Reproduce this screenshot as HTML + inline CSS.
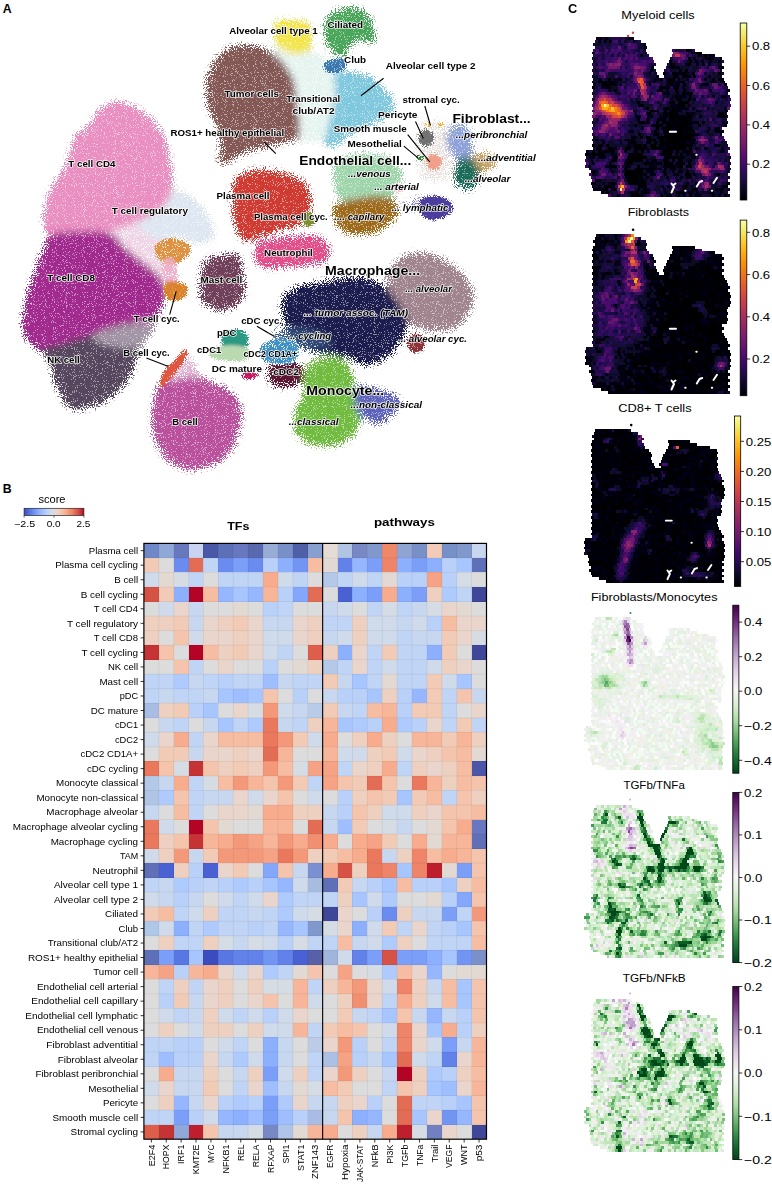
<!DOCTYPE html>
<html><head><meta charset="utf-8"><title>figure</title>
<style>html,body{margin:0;padding:0;background:#fff}svg{display:block}text{font-family:"Liberation Sans", sans-serif}</style>
</head><body>
<svg width="772" height="1184" viewBox="0 0 772 1184">
<rect width="772" height="1184" fill="#fff"/>
<text x="2.8" y="492.6" font-size="12.3" font-weight="bold">B</text>
<defs>
<filter id="bl0_6" x="-20%" y="-20%" width="140%" height="140%"><feGaussianBlur stdDeviation="0.6"/></filter>
<filter id="bl0_8" x="-20%" y="-20%" width="140%" height="140%"><feGaussianBlur stdDeviation="0.8"/></filter>
<filter id="bl1_0" x="-20%" y="-20%" width="140%" height="140%"><feGaussianBlur stdDeviation="1.0"/></filter>
<filter id="bl1_2" x="-20%" y="-20%" width="140%" height="140%"><feGaussianBlur stdDeviation="1.2"/></filter>
<filter id="bl1_3" x="-20%" y="-20%" width="140%" height="140%"><feGaussianBlur stdDeviation="1.3"/></filter>
<filter id="bl1_4" x="-20%" y="-20%" width="140%" height="140%"><feGaussianBlur stdDeviation="1.4"/></filter>
<filter id="bl1_5" x="-20%" y="-20%" width="140%" height="140%"><feGaussianBlur stdDeviation="1.5"/></filter>
<filter id="bl1_6" x="-20%" y="-20%" width="140%" height="140%"><feGaussianBlur stdDeviation="1.6"/></filter>
<filter id="bl1_8" x="-20%" y="-20%" width="140%" height="140%"><feGaussianBlur stdDeviation="1.8"/></filter>
<filter id="bl2" x="-20%" y="-20%" width="140%" height="140%"><feGaussianBlur stdDeviation="2"/></filter>
<filter id="bl2_5" x="-20%" y="-20%" width="140%" height="140%"><feGaussianBlur stdDeviation="2.5"/></filter>
<filter id="bl3" x="-20%" y="-20%" width="140%" height="140%"><feGaussianBlur stdDeviation="3"/></filter>
</defs>
<text x="2.8" y="12.6" font-size="12.3" font-weight="bold">A</text>
<filter id="spk" x="0" y="0" width="560" height="475" filterUnits="userSpaceOnUse"><feGaussianBlur in="SourceGraphic" stdDeviation="3.6" result="b"/><feComponentTransfer in="b" result="full"><feFuncA type="linear" slope="60"/></feComponentTransfer><feTurbulence type="fractalNoise" baseFrequency="0.9" numOctaves="2" seed="4" result="n"/><feColorMatrix in="n" type="matrix" values="0 0 0 0 0 0 0 0 0 0 0 0 0 0 0 3.2 0 0 0 -1.1" result="na"/><feComposite in="b" in2="na" operator="arithmetic" k1="0" k2="1.17" k3="-1" k4="-0.04" result="d"/><feComponentTransfer in="d" result="m"><feFuncA type="linear" slope="4"/></feComponentTransfer><feComposite in="full" in2="m" operator="in"/></filter>
<filter id="spk2" x="0" y="0" width="560" height="475" filterUnits="userSpaceOnUse"><feGaussianBlur in="SourceGraphic" stdDeviation="1.5" result="b"/><feComponentTransfer in="b" result="full"><feFuncA type="linear" slope="60"/></feComponentTransfer><feTurbulence type="fractalNoise" baseFrequency="0.9" numOctaves="2" seed="4" result="n"/><feColorMatrix in="n" type="matrix" values="0 0 0 0 0 0 0 0 0 0 0 0 0 0 0 3.2 0 0 0 -1.1" result="na"/><feComposite in="b" in2="na" operator="arithmetic" k1="0" k2="1.3" k3="-1" k4="-0.05" result="d"/><feComponentTransfer in="d" result="m"><feFuncA type="linear" slope="4"/></feComponentTransfer><feComposite in="full" in2="m" operator="in"/></filter>
<g filter="url(#spk)">
<path d="M105.0 226.0C107.5 219.8 117.5 218.7 125.0 218.0C132.5 217.3 143.3 219.2 150.0 222.0C156.7 224.8 161.3 228.3 165.0 235.0C168.7 241.7 171.2 252.8 172.0 262.0C172.8 271.2 172.0 282.8 170.0 290.0C168.0 297.2 165.0 303.3 160.0 305.0C155.0 306.7 145.8 304.2 140.0 300.0C134.2 295.8 130.0 287.5 125.0 280.0C120.0 272.5 113.3 264.0 110.0 255.0C106.7 246.0 102.5 232.2 105.0 226.0Z" fill="#f1d5e6" opacity="0.9"/>
<path d="M132.0 214.0C134.0 209.5 143.7 203.3 150.0 199.0C156.3 194.7 162.8 188.2 170.0 188.0C177.2 187.8 186.8 193.7 193.0 198.0C199.2 202.3 203.5 208.5 207.0 214.0C210.5 219.5 213.7 226.3 214.0 231.0C214.3 235.7 212.5 240.0 209.0 242.0C205.5 244.0 198.3 243.7 193.0 243.0C187.7 242.3 182.5 238.5 177.0 238.0C171.5 237.5 164.5 240.3 160.0 240.0C155.5 239.7 153.7 238.3 150.0 236.0C146.3 233.7 141.0 229.7 138.0 226.0C135.0 222.3 130.0 218.5 132.0 214.0Z" fill="#dde6f1"/>
<path d="M118.0 101.0C110.7 101.0 103.5 106.3 98.0 111.0C92.5 115.7 88.8 125.0 85.0 129.0C81.2 133.0 78.3 128.8 75.0 135.0C71.7 141.2 69.0 157.2 65.0 166.0C61.0 174.8 54.3 181.2 51.0 188.0C47.7 194.8 46.3 200.8 45.0 207.0C43.7 213.2 42.2 220.3 43.0 225.0C43.8 229.7 46.2 233.7 50.0 235.0C53.8 236.3 56.8 233.5 66.0 233.0C75.2 232.5 95.2 233.2 105.0 232.0C114.8 230.8 117.8 228.5 125.0 226.0C132.2 223.5 141.3 220.5 148.0 217.0C154.7 213.5 161.0 209.8 165.0 205.0C169.0 200.2 170.9 193.5 172.0 188.0C173.1 182.5 172.1 178.3 171.6 172.0C171.1 165.7 170.9 157.2 169.0 150.0C167.1 142.8 164.5 135.5 160.0 129.0C155.5 122.5 149.0 115.7 142.0 111.0C135.0 106.3 125.3 101.0 118.0 101.0Z" fill="#ea8fc1"/>
<path d="M50.0 236.0C45.7 240.2 43.2 249.5 40.0 257.0C36.8 264.5 33.5 273.2 31.0 281.0C28.5 288.8 26.5 296.7 25.0 304.0C23.5 311.3 21.8 319.3 22.0 325.0C22.2 330.7 23.0 333.8 26.0 338.0C29.0 342.2 34.0 348.7 40.0 350.0C46.0 351.3 53.3 348.5 62.0 346.0C70.7 343.5 82.0 338.3 92.0 335.0C102.0 331.7 112.3 328.0 122.0 326.0C131.7 324.0 143.0 327.0 150.0 323.0C157.0 319.0 161.3 307.5 164.0 302.0C166.7 296.5 166.7 294.2 166.0 290.0C165.3 285.8 163.5 281.3 160.0 277.0C156.5 272.7 150.8 268.8 145.0 264.0C139.2 259.2 131.2 253.2 125.0 248.0C118.8 242.8 117.8 235.7 108.0 233.0C98.2 230.3 75.7 231.5 66.0 232.0C56.3 232.5 54.3 231.8 50.0 236.0Z" fill="#a12b8e"/>
<path d="M40.0 350.0C36.2 352.3 45.0 352.2 47.0 356.0C49.0 359.8 49.8 366.7 52.0 373.0C54.2 379.3 57.0 388.2 60.0 394.0C63.0 399.8 65.7 405.5 70.0 408.0C74.3 410.5 79.5 410.5 86.0 409.0C92.5 407.5 101.8 404.0 109.0 399.0C116.2 394.0 124.7 385.2 129.0 379.0C133.3 372.8 133.0 367.3 135.0 362.0C137.0 356.7 138.3 351.8 141.0 347.0C143.7 342.2 148.8 336.7 151.0 333.0C153.2 329.3 157.8 326.5 154.0 325.0C150.2 323.5 137.0 322.8 128.0 324.0C119.0 325.2 109.7 329.0 100.0 332.0C90.3 335.0 80.0 339.0 70.0 342.0C60.0 345.0 43.8 347.7 40.0 350.0Z" fill="#56475f"/>
<path d="M92.0 336.0C93.7 332.7 110.3 328.3 120.0 326.0C129.7 323.7 145.0 320.3 150.0 322.0C155.0 323.7 152.0 331.7 150.0 336.0C148.0 340.3 144.7 346.3 138.0 348.0C131.3 349.7 117.7 348.0 110.0 346.0C102.3 344.0 90.3 339.3 92.0 336.0Z" fill="#e2d6e0" opacity="0.55"/>
<path d="M183.0 354.0C185.3 353.0 187.5 355.3 190.0 358.0C192.5 360.7 195.7 366.0 198.0 370.0C200.3 374.0 205.3 379.3 204.0 382.0C202.7 384.7 195.7 385.0 190.0 386.0C184.3 387.0 174.2 389.0 170.0 388.0C165.8 387.0 164.0 384.0 165.0 380.0C166.0 376.0 173.0 368.3 176.0 364.0C179.0 359.7 180.7 355.0 183.0 354.0Z" fill="#e3b1d4" opacity="0.8"/>
<path d="M161.0 382.0C164.7 378.2 168.2 380.7 175.0 380.0C181.8 379.3 195.2 377.3 202.0 378.0C208.8 378.7 210.8 381.5 216.0 384.0C221.2 386.5 228.8 389.0 233.0 393.0C237.2 397.0 239.8 402.2 241.0 408.0C242.2 413.8 241.7 420.8 240.0 428.0C238.3 435.2 235.5 444.8 231.0 451.0C226.5 457.2 219.5 461.8 213.0 465.0C206.5 468.2 198.5 470.0 192.0 470.0C185.5 470.0 179.5 468.5 174.0 465.0C168.5 461.5 162.7 455.2 159.0 449.0C155.3 442.8 153.0 435.7 152.0 428.0C151.0 420.3 151.5 410.7 153.0 403.0C154.5 395.3 157.3 385.8 161.0 382.0Z" fill="#ba519d"/>
<path d="M203.0 263.0C206.5 257.2 215.2 257.5 221.0 256.0C226.8 254.5 234.0 252.0 237.5 254.0C241.0 256.0 240.8 261.8 242.0 268.0C243.2 274.2 245.2 284.8 244.5 291.0C243.8 297.2 241.4 301.7 237.5 305.0C233.6 308.3 226.4 311.0 221.0 311.0C215.6 311.0 208.5 308.3 205.0 305.0C201.5 301.7 200.3 298.0 200.0 291.0C199.7 284.0 199.5 268.8 203.0 263.0Z" fill="#70405a"/>
<path d="M270.0 52.0C272.0 46.7 290.8 47.0 300.0 48.0C309.2 49.0 317.5 54.3 325.0 58.0C332.5 61.7 341.7 63.0 345.0 70.0C348.3 77.0 345.8 90.8 345.0 100.0C344.2 109.2 342.5 118.3 340.0 125.0C337.5 131.7 335.0 137.2 330.0 140.0C325.0 142.8 315.7 142.3 310.0 142.0C304.3 141.7 299.0 143.3 296.0 138.0C293.0 132.7 293.3 119.7 292.0 110.0C290.7 100.3 291.7 89.7 288.0 80.0C284.3 70.3 268.0 57.3 270.0 52.0Z" fill="#e6f3f0" opacity="0.95"/>
<path d="M245.0 45.0C237.2 44.8 229.7 46.8 224.0 50.5C218.3 54.2 214.0 61.6 211.0 67.4C208.0 73.2 206.4 78.6 206.0 85.5C205.6 92.4 206.5 101.7 208.5 109.0C210.5 116.3 216.1 122.7 218.0 129.5C219.9 136.3 219.8 144.2 220.0 150.0C220.2 155.8 217.0 162.3 219.0 164.0C221.0 165.7 227.7 161.8 232.0 160.0C236.3 158.2 240.0 155.0 245.0 153.0C250.0 151.0 255.8 149.7 262.0 148.0C268.2 146.3 276.0 144.5 282.0 143.0C288.0 141.5 295.2 142.8 298.0 139.0C300.8 135.2 299.2 126.5 299.0 120.0C298.8 113.5 297.4 106.3 296.6 100.0C295.8 93.7 295.8 87.5 294.0 82.0C292.2 76.5 289.8 72.0 286.0 67.0C282.2 62.0 277.8 55.7 271.0 52.0C264.2 48.3 252.8 45.2 245.0 45.0Z" fill="#845955"/>
<path d="M276.0 21.0C278.7 18.6 285.2 19.4 290.0 19.5C294.8 19.6 301.4 19.9 305.0 21.5C308.6 23.1 310.3 25.2 311.5 29.0C312.7 32.8 313.1 40.0 312.0 44.0C310.9 48.0 308.7 51.5 305.0 53.0C301.3 54.5 294.3 54.0 290.0 53.0C285.7 52.0 281.7 50.2 279.0 47.0C276.3 43.8 274.5 38.3 274.0 34.0C273.5 29.7 273.3 23.4 276.0 21.0Z" fill="#f3e54a"/>
<path d="M338.0 9.0C342.8 7.3 351.3 7.5 356.0 8.0C360.7 8.5 363.3 9.7 366.0 12.0C368.7 14.3 370.7 18.7 372.0 22.0C373.3 25.3 373.3 29.0 374.0 32.0C374.7 35.0 377.0 38.3 376.0 40.0C375.0 41.7 371.0 42.0 368.0 42.0C365.0 42.0 360.8 39.5 358.0 40.0C355.2 40.5 352.7 43.0 351.0 45.0C349.3 47.0 349.2 50.0 348.0 52.0C346.8 54.0 345.8 56.3 344.0 57.0C342.2 57.7 339.2 57.2 337.0 56.0C334.8 54.8 332.8 52.3 331.0 50.0C329.2 47.7 327.2 45.3 326.0 42.0C324.8 38.7 323.8 34.0 324.0 30.0C324.2 26.0 324.7 21.5 327.0 18.0C329.3 14.5 333.2 10.7 338.0 9.0Z" fill="#4aa65a"/>
<path d="M335.0 74.0C337.2 70.0 342.3 70.7 348.0 71.0C353.7 71.3 363.3 73.3 369.0 76.0C374.7 78.7 378.2 83.5 382.0 87.0C385.8 90.5 390.1 93.7 392.0 97.0C393.9 100.3 394.3 103.5 393.5 107.0C392.7 110.5 391.1 114.8 387.0 118.0C382.9 121.2 375.8 122.7 369.0 126.0C362.2 129.3 352.3 134.3 346.0 138.0C339.7 141.7 334.5 147.7 331.0 148.0C327.5 148.3 325.2 144.7 325.0 140.0C324.8 135.3 328.3 127.5 330.0 120.0C331.7 112.5 334.2 102.7 335.0 95.0C335.8 87.3 332.8 78.0 335.0 74.0Z" fill="#80c8de"/>
<path d="M233.7 180.6C236.8 175.0 243.2 172.2 250.5 170.5C257.8 168.8 269.0 168.8 277.4 170.5C285.8 172.2 295.9 177.8 301.0 180.6C306.1 183.3 306.0 182.5 307.7 187.0C309.4 191.5 312.1 201.3 311.0 207.5C309.9 213.7 306.6 220.5 301.0 224.4C295.4 228.3 286.4 228.2 277.4 231.0C268.4 233.8 253.7 241.0 247.0 241.0C240.3 241.0 239.5 237.2 237.0 231.0C234.5 224.8 232.6 212.4 232.0 204.0C231.4 195.6 230.6 186.2 233.7 180.6Z" fill="#cf3a30"/>
<path d="M257.0 244.6C261.1 240.7 270.4 239.4 280.0 238.0C289.6 236.6 306.5 234.9 314.5 236.0C322.5 237.1 326.0 240.4 328.0 244.6C330.0 248.8 331.0 257.8 326.3 261.4C321.6 265.0 309.8 264.9 300.0 266.0C290.2 267.1 274.8 268.8 267.4 268.0C260.0 267.2 257.3 265.3 255.6 261.4C253.9 257.5 252.9 248.5 257.0 244.6Z" fill="#e34d89"/>
<path d="M334.7 163.8C338.6 158.8 349.3 154.8 358.3 153.7C367.3 152.6 381.3 153.6 388.6 157.0C395.9 160.4 400.9 167.8 402.0 174.0C403.1 180.2 400.9 189.5 395.3 194.0C389.7 198.5 377.4 199.7 368.4 200.8C359.4 201.9 347.0 203.6 341.4 200.8C335.8 198.0 335.8 190.2 334.7 184.0C333.6 177.8 330.8 168.9 334.7 163.8Z" fill="#9fd5ab"/>
<path d="M334.7 205.0C339.2 201.6 352.6 198.7 361.6 197.4C370.6 196.1 382.4 195.1 388.6 197.4C394.8 199.7 398.6 206.5 398.6 211.0C398.6 215.5 393.6 220.5 388.6 224.4C383.6 228.3 376.3 233.4 368.4 234.5C360.5 235.6 347.0 233.8 341.4 231.0C335.8 228.2 335.8 222.0 334.7 217.7C333.6 213.4 330.2 208.4 334.7 205.0Z" fill="#9d6a1e"/>
<path d="M404.0 203.0C406.5 201.2 415.7 197.8 420.0 197.0C424.3 196.2 428.7 195.8 430.0 198.0C431.3 200.2 430.5 208.0 428.0 210.0C425.5 212.0 418.8 210.3 415.0 210.0C411.2 209.7 406.8 209.2 405.0 208.0C403.2 206.8 401.5 204.8 404.0 203.0Z" fill="#8c80c4" opacity="0.6"/>
<path d="M391.0 268.5C394.3 263.3 401.3 256.6 408.0 254.2C414.7 251.8 423.4 252.3 431.0 254.2C438.6 256.1 447.1 260.4 453.7 265.6C460.3 270.8 467.7 279.0 470.8 285.6C473.9 292.2 474.2 298.9 472.3 305.5C470.4 312.1 465.3 321.2 459.4 325.5C453.4 329.8 444.2 331.2 436.6 331.2C429.0 331.2 420.9 329.8 413.8 325.5C406.7 321.2 398.2 312.1 393.9 305.5C389.6 298.9 388.7 291.8 388.2 285.6C387.7 279.4 387.7 273.7 391.0 268.5Z" fill="#a0848e"/>
<path d="M285.6 294.0C289.2 289.8 295.1 287.9 302.7 285.6C310.3 283.3 322.2 281.4 331.2 280.0C340.2 278.6 348.8 276.6 356.9 277.0C365.0 277.4 373.5 279.4 379.7 282.7C385.9 286.0 389.6 291.8 393.9 297.0C398.2 302.2 402.9 309.2 405.3 314.0C407.7 318.8 409.4 319.8 408.0 325.5C406.6 331.2 401.1 342.6 396.8 348.3C392.6 354.0 387.7 356.9 382.5 359.7C377.3 362.5 371.6 365.9 365.4 365.4C359.2 364.9 351.7 358.7 345.5 356.8C339.3 354.9 335.0 355.4 328.4 354.0C321.8 352.6 312.2 352.1 305.6 348.3C299.0 344.5 292.5 337.4 288.5 331.2C284.5 325.0 281.9 317.2 281.4 311.0C280.9 304.8 282.1 298.2 285.6 294.0Z" fill="#1d1a4f"/>
<path d="M276.0 330.0C280.3 328.0 291.8 327.2 300.0 328.0C308.2 328.8 320.0 332.0 325.0 335.0C330.0 338.0 332.5 343.5 330.0 346.0C327.5 348.5 317.5 349.7 310.0 350.0C302.5 350.3 291.0 349.7 285.0 348.0C279.0 346.3 275.5 343.0 274.0 340.0C272.5 337.0 271.7 332.0 276.0 330.0Z" fill="#3a5d86" opacity="0.7"/>
<path d="M268.5 367.0C270.4 363.3 278.2 362.9 283.0 362.0C287.8 361.1 293.7 359.6 297.0 361.3C300.3 363.0 302.1 368.7 303.0 372.0C303.9 375.3 305.1 378.8 302.7 381.3C300.3 383.8 293.7 386.6 288.5 387.0C283.3 387.4 274.7 387.3 271.4 384.0C268.1 380.7 266.6 370.7 268.5 367.0Z" fill="#5b1733"/>
<path d="M311.3 361.3C315.6 358.7 325.0 356.5 331.2 357.0C337.4 357.5 344.5 360.1 348.3 364.2C352.1 368.2 352.6 374.7 354.0 381.3C355.4 387.9 355.9 397.4 356.9 404.0C357.8 410.6 360.6 415.5 359.7 421.2C358.8 426.9 355.9 434.0 351.2 438.3C346.4 442.6 337.8 445.9 331.2 446.8C324.6 447.8 317.0 445.9 311.3 444.0C305.6 442.1 299.9 440.1 297.0 435.4C294.1 430.6 293.2 422.1 294.2 415.5C295.1 408.9 300.8 402.6 302.7 395.5C304.6 388.4 304.2 378.4 305.6 372.7C307.0 367.0 307.0 363.9 311.3 361.3Z" fill="#70bb40"/>
<path d="M356.9 387.0C360.7 383.7 372.6 387.9 379.7 389.8C386.8 391.7 396.8 395.1 399.6 398.4C402.5 401.7 400.1 405.5 396.8 409.8C393.5 414.1 384.9 422.6 379.7 424.0C374.5 425.4 369.2 420.7 365.4 418.3C361.6 415.9 358.3 415.0 356.9 409.8C355.5 404.6 353.1 390.3 356.9 387.0Z" fill="#5e63ba"/>
<path d="M418.0 128.0C422.2 119.2 439.7 118.3 445.0 122.0C450.3 125.7 449.2 141.2 450.0 150.0C450.8 158.8 452.0 169.7 450.0 175.0C448.0 180.3 443.0 182.0 438.0 182.0C433.0 182.0 423.3 184.0 420.0 175.0C416.7 166.0 413.8 136.8 418.0 128.0Z" fill="#e8e0dc" opacity="0.6"/>
<path d="M450.0 128.0C452.2 125.3 456.7 123.7 460.0 124.0C463.3 124.3 468.0 126.5 470.0 130.0C472.0 133.5 472.0 140.3 472.0 145.0C472.0 149.7 472.0 155.5 470.0 158.0C468.0 160.5 463.3 161.0 460.0 160.0C456.7 159.0 452.2 155.3 450.0 152.0C447.8 148.7 447.0 144.0 447.0 140.0C447.0 136.0 447.8 130.7 450.0 128.0Z" fill="#8ea2d9"/>
<path d="M496.0 162.0C496.0 163.9 495.0 166.1 493.5 167.6C492.0 169.1 489.4 170.5 487.0 171.0C484.6 171.6 481.4 171.6 479.0 171.0C476.6 170.5 474.0 169.1 472.5 167.6C471.0 166.1 470.0 163.9 470.0 162.0C470.0 160.1 471.0 157.9 472.5 156.4C474.0 154.9 476.6 153.5 479.0 153.0C481.4 152.4 484.6 152.4 487.0 153.0C489.4 153.5 492.0 154.9 493.5 156.4C495.0 157.9 496.0 160.1 496.0 162.0Z" fill="#c6a468"/>
<path d="M458.0 160.0C460.3 156.7 464.8 157.2 468.0 158.0C471.2 158.8 475.2 161.3 477.0 165.0C478.8 168.7 479.8 176.0 479.0 180.0C478.2 184.0 475.2 187.7 472.0 189.0C468.8 190.3 463.0 189.8 460.0 188.0C457.0 186.2 454.3 182.7 454.0 178.0C453.7 173.3 455.7 163.3 458.0 160.0Z" fill="#1f6c5b"/>
</g>
<g filter="url(#spk2)">
<path d="M155.0 246.0C157.0 242.7 164.5 238.5 170.0 238.0C175.5 237.5 184.7 240.3 188.0 243.0C191.3 245.7 191.3 250.8 190.0 254.0C188.7 257.2 183.7 260.0 180.0 262.0C176.3 264.0 171.7 266.7 168.0 266.0C164.3 265.3 160.2 261.3 158.0 258.0C155.8 254.7 153.0 249.3 155.0 246.0Z" fill="#de9040" opacity="0.85"/>
<path d="M163.0 262.0C164.7 259.0 169.5 256.3 172.0 258.0C174.5 259.7 177.3 267.5 178.0 272.0C178.7 276.5 177.7 282.3 176.0 285.0C174.3 287.7 170.3 289.5 168.0 288.0C165.7 286.5 162.8 280.3 162.0 276.0C161.2 271.7 161.3 265.0 163.0 262.0Z" fill="#efb3cf" opacity="0.8"/>
<path d="M164.0 284.0C165.5 281.2 171.2 280.7 175.0 281.0C178.8 281.3 185.2 283.5 187.0 286.0C188.8 288.5 187.8 293.5 186.0 296.0C184.2 298.5 179.3 300.7 176.0 301.0C172.7 301.3 168.0 300.8 166.0 298.0C164.0 295.2 162.5 286.8 164.0 284.0Z" fill="#d9822c" opacity="0.95"/>
<path d="M185.0 350.0C187.0 349.0 188.5 350.5 188.0 353.0C187.5 355.5 184.5 361.3 182.0 365.0C179.5 368.7 176.0 371.5 173.0 375.0C170.0 378.5 166.3 384.7 164.0 386.0C161.7 387.3 158.8 385.7 159.0 383.0C159.2 380.3 162.2 374.0 165.0 370.0C167.8 366.0 172.7 362.3 176.0 359.0C179.3 355.7 183.0 351.0 185.0 350.0Z" fill="#e05540"/>
<path d="M324.0 64.0C324.8 61.9 328.7 60.4 332.0 59.5C335.3 58.6 341.7 57.6 344.0 58.5C346.3 59.4 346.7 62.8 346.0 65.0C345.3 67.2 343.2 70.8 340.0 72.0C336.8 73.2 329.7 73.3 327.0 72.0C324.3 70.7 323.2 66.1 324.0 64.0Z" fill="#3a78b0" opacity="0.9"/>
<path d="M314.5 219.5C314.5 221.1 314.0 222.9 313.3 224.2C312.5 225.5 311.2 226.6 310.0 227.1C308.8 227.6 307.2 227.6 306.0 227.1C304.8 226.6 303.5 225.5 302.7 224.2C302.0 222.9 301.5 221.1 301.5 219.5C301.5 217.9 302.0 216.1 302.7 214.8C303.5 213.5 304.8 212.4 306.0 211.9C307.2 211.4 308.8 211.4 310.0 211.9C311.2 212.4 312.5 213.5 313.3 214.8C314.0 216.1 314.5 217.9 314.5 219.5Z" fill="#7f8e32"/>
<path d="M404.0 188.0C404.0 189.0 403.6 190.1 403.0 190.9C402.5 191.7 401.5 192.5 400.5 192.8C399.6 193.1 398.4 193.1 397.5 192.8C396.5 192.5 395.5 191.7 395.0 190.9C394.4 190.1 394.0 189.0 394.0 188.0C394.0 187.0 394.4 185.9 395.0 185.1C395.5 184.3 396.5 183.5 397.5 183.2C398.4 182.9 399.6 182.9 400.5 183.2C401.5 183.5 402.5 184.3 403.0 185.1C403.6 185.9 404.0 187.0 404.0 188.0Z" fill="#f2c9cf" opacity="0.8"/>
<path d="M421.0 199.0C423.5 196.3 430.7 196.0 435.0 196.0C439.3 196.0 444.0 197.3 447.0 199.0C450.0 200.7 452.7 203.5 453.0 206.0C453.3 208.5 451.5 211.8 449.0 214.0C446.5 216.2 441.7 218.7 438.0 219.5C434.3 220.3 430.0 220.2 427.0 219.0C424.0 217.8 421.0 215.3 420.0 212.0C419.0 208.7 418.5 201.7 421.0 199.0Z" fill="#4c3c9e"/>
<path d="M425.0 343.0C425.0 345.0 424.3 347.3 423.3 348.9C422.2 350.5 420.5 351.9 418.8 352.5C417.1 353.1 414.9 353.1 413.2 352.5C411.5 351.9 409.8 350.5 408.7 348.9C407.7 347.3 407.0 345.0 407.0 343.0C407.0 341.0 407.7 338.7 408.7 337.1C409.8 335.5 411.5 334.1 413.2 333.5C414.9 332.9 417.1 332.9 418.8 333.5C420.5 334.1 422.2 335.5 423.3 337.1C424.3 338.7 425.0 341.0 425.0 343.0Z" fill="#8e3036" opacity="0.9"/>
<path d="M249.0 340.0C249.0 342.1 247.9 344.5 246.3 346.2C244.7 347.8 241.9 349.4 239.3 350.0C236.7 350.6 233.3 350.6 230.7 350.0C228.1 349.4 225.3 347.8 223.7 346.2C222.1 344.5 221.0 342.1 221.0 340.0C221.0 337.9 222.1 335.5 223.7 333.8C225.3 332.2 228.1 330.6 230.7 330.0C233.3 329.4 236.7 329.4 239.3 330.0C241.9 330.6 244.7 332.2 246.3 333.8C247.9 335.5 249.0 337.9 249.0 340.0Z" fill="#2b9a83"/>
<path d="M210.0 351.0C211.7 349.0 217.0 346.8 222.0 346.0C227.0 345.2 235.0 345.0 240.0 346.0C245.0 347.0 251.0 349.7 252.0 352.0C253.0 354.3 250.0 358.5 246.0 360.0C242.0 361.5 233.7 361.3 228.0 361.0C222.3 360.7 215.0 359.7 212.0 358.0C209.0 356.3 208.3 353.0 210.0 351.0Z" fill="#b9d9b1"/>
<path d="M262.0 345.0C265.3 342.0 274.3 338.5 280.0 338.0C285.7 337.5 293.0 339.2 296.0 342.0C299.0 344.8 299.0 351.3 298.0 355.0C297.0 358.7 294.7 362.7 290.0 364.0C285.3 365.3 275.0 364.3 270.0 363.0C265.0 361.7 261.3 359.0 260.0 356.0C258.7 353.0 258.7 348.0 262.0 345.0Z" fill="#4090c4" opacity="0.8"/>
<path d="M258.0 375.5C258.0 376.2 257.4 377.0 256.5 377.6C255.6 378.2 254.0 378.7 252.5 378.9C251.0 379.1 249.0 379.1 247.5 378.9C246.0 378.7 244.4 378.2 243.5 377.6C242.6 377.0 242.0 376.2 242.0 375.5C242.0 374.8 242.6 374.0 243.5 373.4C244.4 372.8 246.0 372.3 247.5 372.1C249.0 371.9 251.0 371.9 252.5 372.1C254.0 372.3 255.6 372.8 256.5 373.4C257.4 374.0 258.0 374.8 258.0 375.5Z" fill="#c8175f"/>
<path d="M434.0 138.0C434.0 139.7 433.4 141.6 432.5 143.0C431.6 144.3 430.0 145.6 428.5 146.1C427.0 146.6 425.0 146.6 423.5 146.1C422.0 145.6 420.4 144.3 419.5 143.0C418.6 141.6 418.0 139.7 418.0 138.0C418.0 136.3 418.6 134.4 419.5 133.0C420.4 131.7 422.0 130.4 423.5 129.9C425.0 129.4 427.0 129.4 428.5 129.9C430.0 130.4 431.6 131.7 432.5 133.0C433.4 134.4 434.0 136.3 434.0 138.0Z" fill="#727272"/>
<path d="M442.0 162.0C442.0 163.7 441.4 165.6 440.5 167.0C439.6 168.3 438.0 169.6 436.5 170.1C435.0 170.6 433.0 170.6 431.5 170.1C430.0 169.6 428.4 168.3 427.5 167.0C426.6 165.6 426.0 163.7 426.0 162.0C426.0 160.3 426.6 158.4 427.5 157.0C428.4 155.7 430.0 154.4 431.5 153.9C433.0 153.4 435.0 153.4 436.5 153.9C438.0 154.4 439.6 155.7 440.5 157.0C441.4 158.4 442.0 160.3 442.0 162.0Z" fill="#f0a08a"/>
<path d="M424.0 158.0C424.0 158.4 423.7 158.9 423.2 159.2C422.8 159.5 422.0 159.8 421.2 159.9C420.5 160.0 419.5 160.0 418.8 159.9C418.0 159.8 417.2 159.5 416.8 159.2C416.3 158.9 416.0 158.4 416.0 158.0C416.0 157.6 416.3 157.1 416.8 156.8C417.2 156.5 418.0 156.2 418.8 156.1C419.5 156.0 420.5 156.0 421.2 156.1C422.0 156.2 422.8 156.5 423.2 156.8C423.7 157.1 424.0 157.6 424.0 158.0Z" fill="#2f7d33"/>
<path d="M431.0 125.0C431.0 125.4 430.8 125.8 430.4 126.1C430.1 126.3 429.5 126.6 428.9 126.7C428.4 126.8 427.6 126.8 427.1 126.7C426.5 126.6 425.9 126.3 425.6 126.1C425.2 125.8 425.0 125.4 425.0 125.0C425.0 124.6 425.2 124.2 425.6 123.9C425.9 123.7 426.5 123.4 427.1 123.3C427.6 123.2 428.4 123.2 428.9 123.3C429.5 123.4 430.1 123.7 430.4 123.9C430.8 124.2 431.0 124.6 431.0 125.0Z" fill="#f0b020"/>
<path d="M444.0 124.5C444.0 124.9 443.8 125.4 443.4 125.7C443.1 126.0 442.5 126.3 441.9 126.4C441.4 126.5 440.6 126.5 440.1 126.4C439.5 126.3 438.9 126.0 438.6 125.7C438.2 125.4 438.0 124.9 438.0 124.5C438.0 124.1 438.2 123.6 438.6 123.3C438.9 123.0 439.5 122.7 440.1 122.6C440.6 122.5 441.4 122.5 441.9 122.6C442.5 122.7 443.1 123.0 443.4 123.3C443.8 123.6 444.0 124.1 444.0 124.5Z" fill="#f0b020"/>
</g>
<path d="M361.0 95.7L383.6 78.3M424.8 106.0L430.5 125.5M415.5 121.6L423.3 138.4M407.7 134.6L429.7 161.8M403.8 146.2L418.0 157.9M264.0 141.9L275.8 153.7M169.7 314.7L176.2 291.4M146.4 357.9L168.4 366.4M256.9 326.3L274.6 336.6" stroke="#000" stroke-width="1.1" fill="none"/>
<g stroke="#fff" stroke-width="1.6" stroke-opacity="0.85" paint-order="stroke" stroke-linejoin="round">
<text x="229.2" y="34.4" font-size="9.6" font-weight="bold" textLength="88.6" lengthAdjust="spacingAndGlyphs">Alveolar cell type 1</text>
<text x="327.4" y="27.6" font-size="9.6" font-weight="bold" textLength="35.6" lengthAdjust="spacingAndGlyphs">Ciliated</text>
<text x="344.0" y="63.4" font-size="9.6" font-weight="bold" textLength="22.0" lengthAdjust="spacingAndGlyphs">Club</text>
<text x="385.8" y="68.9" font-size="9.6" font-weight="bold" textLength="89.7" lengthAdjust="spacingAndGlyphs">Alveolar cell type 2</text>
<text x="224.5" y="97.0" font-size="9.6" font-weight="bold" textLength="54.5" lengthAdjust="spacingAndGlyphs">Tumor cells</text>
<text x="286.3" y="102.3" font-size="9.6" font-weight="bold" textLength="53.9" lengthAdjust="spacingAndGlyphs">Transitional</text>
<text x="292.5" y="113.6" font-size="9.6" font-weight="bold" textLength="42.1" lengthAdjust="spacingAndGlyphs">club/AT2</text>
<text x="402.6" y="102.9" font-size="9.6" font-weight="bold" textLength="57.2" lengthAdjust="spacingAndGlyphs">stromal cyc.</text>
<text x="378.0" y="117.7" font-size="9.6" font-weight="bold" textLength="39.4" lengthAdjust="spacingAndGlyphs">Pericyte</text>
<text x="452.4" y="123.0" font-size="13.2" font-weight="bold" textLength="78.3" lengthAdjust="spacingAndGlyphs">Fibroblast...</text>
<text x="455.8" y="137.8" font-size="9.6" font-weight="bold" font-style="italic" textLength="71.5" lengthAdjust="spacingAndGlyphs">...peribronchial</text>
<text x="333.7" y="132.4" font-size="9.6" font-weight="bold" textLength="72.9" lengthAdjust="spacingAndGlyphs">Smooth muscle</text>
<text x="347.5" y="147.2" font-size="9.6" font-weight="bold" textLength="54.2" lengthAdjust="spacingAndGlyphs">Mesothelial</text>
<text x="478.0" y="160.9" font-size="9.6" font-weight="bold" font-style="italic" textLength="57.7" lengthAdjust="spacingAndGlyphs">...adventitial</text>
<text x="299.3" y="164.7" font-size="13.2" font-weight="bold" textLength="111.9" lengthAdjust="spacingAndGlyphs">Endothelial cell...</text>
<text x="348.0" y="176.6" font-size="9.6" font-weight="bold" font-style="italic" textLength="42.7" lengthAdjust="spacingAndGlyphs">...venous</text>
<text x="464.7" y="181.8" font-size="9.6" font-weight="bold" font-style="italic" textLength="45.8" lengthAdjust="spacingAndGlyphs">...alveolar</text>
<text x="374.2" y="190.1" font-size="9.6" font-weight="bold" font-style="italic" textLength="44.6" lengthAdjust="spacingAndGlyphs">... arterial</text>
<text x="216.5" y="199.4" font-size="9.6" font-weight="bold" textLength="53.0" lengthAdjust="spacingAndGlyphs">Plasma cell</text>
<text x="391.8" y="210.7" font-size="9.6" font-weight="bold" font-style="italic" textLength="56.7" lengthAdjust="spacingAndGlyphs">... lymphatic</text>
<text x="253.9" y="220.1" font-size="9.6" font-weight="bold" textLength="73.9" lengthAdjust="spacingAndGlyphs">Plasma cell cyc.</text>
<text x="334.2" y="220.1" font-size="9.6" font-weight="bold" font-style="italic" textLength="50.2" lengthAdjust="spacingAndGlyphs">.... capilary</text>
<text x="170.5" y="135.8" font-size="9.6" font-weight="bold" textLength="113.7" lengthAdjust="spacingAndGlyphs">ROS1+ healthy epithelial</text>
<text x="68.3" y="167.0" font-size="9.6" font-weight="bold" textLength="47.2" lengthAdjust="spacingAndGlyphs">T cell CD4</text>
<text x="111.7" y="213.8" font-size="9.6" font-weight="bold" textLength="76.2" lengthAdjust="spacingAndGlyphs">T cell regulatory</text>
<text x="47.2" y="281.3" font-size="9.6" font-weight="bold" textLength="47.8" lengthAdjust="spacingAndGlyphs">T cell CD8</text>
<text x="200.6" y="282.8" font-size="9.6" font-weight="bold" textLength="41.7" lengthAdjust="spacingAndGlyphs">Mast cell</text>
<text x="133.8" y="321.5" font-size="9.6" font-weight="bold" textLength="46.0" lengthAdjust="spacingAndGlyphs">T cell cyc.</text>
<text x="241.2" y="323.9" font-size="9.6" font-weight="bold" textLength="40.8" lengthAdjust="spacingAndGlyphs">cDC cyc.</text>
<text x="216.9" y="335.9" font-size="9.6" font-weight="bold" textLength="19.6" lengthAdjust="spacingAndGlyphs">pDC</text>
<text x="123.3" y="355.7" font-size="9.6" font-weight="bold" textLength="46.4" lengthAdjust="spacingAndGlyphs">B cell cyc.</text>
<text x="197.0" y="352.9" font-size="9.6" font-weight="bold" textLength="24.3" lengthAdjust="spacingAndGlyphs">cDC1</text>
<text x="243.5" y="357.0" font-size="9.6" font-weight="bold" textLength="53.5" lengthAdjust="spacingAndGlyphs">cDC2 CD1A+</text>
<text x="47.2" y="362.9" font-size="9.6" font-weight="bold" textLength="32.6" lengthAdjust="spacingAndGlyphs">NK cell</text>
<text x="211.8" y="371.5" font-size="9.6" font-weight="bold" textLength="50.2" lengthAdjust="spacingAndGlyphs">DC mature</text>
<text x="273.2" y="375.4" font-size="9.6" font-weight="bold" textLength="25.7" lengthAdjust="spacingAndGlyphs">cDC2</text>
<text x="172.3" y="424.6" font-size="9.6" font-weight="bold" textLength="25.4" lengthAdjust="spacingAndGlyphs">B cell</text>
<text x="264.1" y="255.8" font-size="9.6" font-weight="bold" textLength="48.7" lengthAdjust="spacingAndGlyphs">Neutrophil</text>
<text x="325.0" y="274.5" font-size="13.2" font-weight="bold" textLength="95.1" lengthAdjust="spacingAndGlyphs">Macrophage...</text>
<text x="405.2" y="292.0" font-size="9.6" font-weight="bold" font-style="italic" textLength="46.7" lengthAdjust="spacingAndGlyphs">... alveolar</text>
<text x="303.5" y="316.2" font-size="9.6" font-weight="bold" font-style="italic" textLength="104.5" lengthAdjust="spacingAndGlyphs">... tumor assoc. (TAM)</text>
<text x="287.5" y="339.3" font-size="9.6" font-weight="bold" font-style="italic" textLength="43.7" lengthAdjust="spacingAndGlyphs">... cycling</text>
<text x="398.0" y="341.8" font-size="9.6" font-weight="bold" font-style="italic" textLength="69.0" lengthAdjust="spacingAndGlyphs">... alveolar cyc.</text>
<text x="306.3" y="394.5" font-size="13.2" font-weight="bold" textLength="77.9" lengthAdjust="spacingAndGlyphs">Monocyte...</text>
<text x="350.6" y="408.0" font-size="9.6" font-weight="bold" font-style="italic" textLength="71.4" lengthAdjust="spacingAndGlyphs">...non-classical</text>
<text x="288.8" y="425.0" font-size="9.6" font-weight="bold" font-style="italic" textLength="49.7" lengthAdjust="spacingAndGlyphs">...classical</text>
</g>
<g shape-rendering="crispEdges"><rect x="143.90" y="543.40" width="14.95" height="14.58" fill="#7088c8"/><rect x="158.80" y="543.40" width="14.95" height="14.58" fill="#90a8d8"/><rect x="173.69" y="543.40" width="14.95" height="14.58" fill="#6878bd"/><rect x="188.59" y="543.40" width="14.95" height="14.58" fill="#c8d4f0"/><rect x="203.48" y="543.40" width="14.95" height="14.58" fill="#4a58a8"/><rect x="218.38" y="543.40" width="14.95" height="14.58" fill="#5c70b8"/><rect x="233.27" y="543.40" width="14.95" height="14.58" fill="#6878c0"/><rect x="248.17" y="543.40" width="14.95" height="14.58" fill="#5a68b0"/><rect x="263.07" y="543.40" width="14.95" height="14.58" fill="#98acd8"/><rect x="277.96" y="543.40" width="14.95" height="14.58" fill="#7890c8"/><rect x="292.86" y="543.40" width="14.95" height="14.58" fill="#5060a8"/><rect x="307.75" y="543.40" width="14.95" height="14.58" fill="#88a0d0"/><rect x="322.65" y="543.40" width="14.95" height="14.58" fill="#e6dcd6"/><rect x="337.54" y="543.40" width="14.95" height="14.58" fill="#b0c4e4"/><rect x="352.44" y="543.40" width="14.95" height="14.58" fill="#7888c4"/><rect x="367.33" y="543.40" width="14.95" height="14.58" fill="#8098cc"/><rect x="382.23" y="543.40" width="14.95" height="14.58" fill="#ee8868"/><rect x="397.13" y="543.40" width="14.95" height="14.58" fill="#90a4d4"/><rect x="412.02" y="543.40" width="14.95" height="14.58" fill="#7890c8"/><rect x="426.92" y="543.40" width="14.95" height="14.58" fill="#f2ccb8"/><rect x="441.81" y="543.40" width="14.95" height="14.58" fill="#7890c8"/><rect x="456.71" y="543.40" width="14.95" height="14.58" fill="#8098cc"/><rect x="471.60" y="543.40" width="14.95" height="14.58" fill="#c8d6f0"/><rect x="143.90" y="557.93" width="14.95" height="14.58" fill="#f2cbb7"/><rect x="158.80" y="557.93" width="14.95" height="14.58" fill="#dddcdc"/><rect x="173.69" y="557.93" width="14.95" height="14.58" fill="#6a8bef"/><rect x="188.59" y="557.93" width="14.95" height="14.58" fill="#e36c55"/><rect x="203.48" y="557.93" width="14.95" height="14.58" fill="#c0d4f5"/><rect x="218.38" y="557.93" width="14.95" height="14.58" fill="#6a8bef"/><rect x="233.27" y="557.93" width="14.95" height="14.58" fill="#7b9ff9"/><rect x="248.17" y="557.93" width="14.95" height="14.58" fill="#6a8bef"/><rect x="263.07" y="557.93" width="14.95" height="14.58" fill="#b9d0f9"/><rect x="277.96" y="557.93" width="14.95" height="14.58" fill="#8db0fe"/><rect x="292.86" y="557.93" width="14.95" height="14.58" fill="#7295f4"/><rect x="307.75" y="557.93" width="14.95" height="14.58" fill="#f6bda2"/><rect x="322.65" y="557.93" width="14.95" height="14.58" fill="#e3d9d3"/><rect x="337.54" y="557.93" width="14.95" height="14.58" fill="#6282ea"/><rect x="352.44" y="557.93" width="14.95" height="14.58" fill="#96b7ff"/><rect x="367.33" y="557.93" width="14.95" height="14.58" fill="#7b9ff9"/><rect x="382.23" y="557.93" width="14.95" height="14.58" fill="#ee8468"/><rect x="397.13" y="557.93" width="14.95" height="14.58" fill="#8db0fe"/><rect x="412.02" y="557.93" width="14.95" height="14.58" fill="#7b9ff9"/><rect x="426.92" y="557.93" width="14.95" height="14.58" fill="#8db0fe"/><rect x="441.81" y="557.93" width="14.95" height="14.58" fill="#b9d0f9"/><rect x="456.71" y="557.93" width="14.95" height="14.58" fill="#a7c5fe"/><rect x="471.60" y="557.93" width="14.95" height="14.58" fill="#6070b8"/><rect x="143.90" y="572.46" width="14.95" height="14.58" fill="#cfdaea"/><rect x="158.80" y="572.46" width="14.95" height="14.58" fill="#e3d9d3"/><rect x="173.69" y="572.46" width="14.95" height="14.58" fill="#d6dce4"/><rect x="188.59" y="572.46" width="14.95" height="14.58" fill="#c0d4f5"/><rect x="203.48" y="572.46" width="14.95" height="14.58" fill="#dddcdc"/><rect x="218.38" y="572.46" width="14.95" height="14.58" fill="#c0d4f5"/><rect x="233.27" y="572.46" width="14.95" height="14.58" fill="#c0d4f5"/><rect x="248.17" y="572.46" width="14.95" height="14.58" fill="#c0d4f5"/><rect x="263.07" y="572.46" width="14.95" height="14.58" fill="#f7ac8e"/><rect x="277.96" y="572.46" width="14.95" height="14.58" fill="#cfdaea"/><rect x="292.86" y="572.46" width="14.95" height="14.58" fill="#c0d4f5"/><rect x="307.75" y="572.46" width="14.95" height="14.58" fill="#dddcdc"/><rect x="322.65" y="572.46" width="14.95" height="14.58" fill="#b4c8e8"/><rect x="337.54" y="572.46" width="14.95" height="14.58" fill="#c0d4f5"/><rect x="352.44" y="572.46" width="14.95" height="14.58" fill="#cfdaea"/><rect x="367.33" y="572.46" width="14.95" height="14.58" fill="#c0d4f5"/><rect x="382.23" y="572.46" width="14.95" height="14.58" fill="#e3d9d3"/><rect x="397.13" y="572.46" width="14.95" height="14.58" fill="#b9d0f9"/><rect x="412.02" y="572.46" width="14.95" height="14.58" fill="#b9d0f9"/><rect x="426.92" y="572.46" width="14.95" height="14.58" fill="#f6a385"/><rect x="441.81" y="572.46" width="14.95" height="14.58" fill="#b9d0f9"/><rect x="456.71" y="572.46" width="14.95" height="14.58" fill="#d6dce4"/><rect x="471.60" y="572.46" width="14.95" height="14.58" fill="#dddcdc"/><rect x="143.90" y="587.00" width="14.95" height="14.58" fill="#d65244"/><rect x="158.80" y="587.00" width="14.95" height="14.58" fill="#f2cbb7"/><rect x="173.69" y="587.00" width="14.95" height="14.58" fill="#8db0fe"/><rect x="188.59" y="587.00" width="14.95" height="14.58" fill="#b40426"/><rect x="203.48" y="587.00" width="14.95" height="14.58" fill="#f6bda2"/><rect x="218.38" y="587.00" width="14.95" height="14.58" fill="#96b7ff"/><rect x="233.27" y="587.00" width="14.95" height="14.58" fill="#a7c5fe"/><rect x="248.17" y="587.00" width="14.95" height="14.58" fill="#96b7ff"/><rect x="263.07" y="587.00" width="14.95" height="14.58" fill="#f7b599"/><rect x="277.96" y="587.00" width="14.95" height="14.58" fill="#b9d0f9"/><rect x="292.86" y="587.00" width="14.95" height="14.58" fill="#84a7fc"/><rect x="307.75" y="587.00" width="14.95" height="14.58" fill="#e36c55"/><rect x="322.65" y="587.00" width="14.95" height="14.58" fill="#dddcdc"/><rect x="337.54" y="587.00" width="14.95" height="14.58" fill="#4961d2"/><rect x="352.44" y="587.00" width="14.95" height="14.58" fill="#8db0fe"/><rect x="367.33" y="587.00" width="14.95" height="14.58" fill="#7b9ff9"/><rect x="382.23" y="587.00" width="14.95" height="14.58" fill="#f7ac8e"/><rect x="397.13" y="587.00" width="14.95" height="14.58" fill="#8db0fe"/><rect x="412.02" y="587.00" width="14.95" height="14.58" fill="#7b9ff9"/><rect x="426.92" y="587.00" width="14.95" height="14.58" fill="#eed0c0"/><rect x="441.81" y="587.00" width="14.95" height="14.58" fill="#afcafc"/><rect x="456.71" y="587.00" width="14.95" height="14.58" fill="#c0d4f5"/><rect x="471.60" y="587.00" width="14.95" height="14.58" fill="#3f4799"/><rect x="143.90" y="601.53" width="14.95" height="14.58" fill="#dddcdc"/><rect x="158.80" y="601.53" width="14.95" height="14.58" fill="#cfdaea"/><rect x="173.69" y="601.53" width="14.95" height="14.58" fill="#e9d5cb"/><rect x="188.59" y="601.53" width="14.95" height="14.58" fill="#c7d7f0"/><rect x="203.48" y="601.53" width="14.95" height="14.58" fill="#dddcdc"/><rect x="218.38" y="601.53" width="14.95" height="14.58" fill="#dddcdc"/><rect x="233.27" y="601.53" width="14.95" height="14.58" fill="#e3d9d3"/><rect x="248.17" y="601.53" width="14.95" height="14.58" fill="#dddcdc"/><rect x="263.07" y="601.53" width="14.95" height="14.58" fill="#b9d0f9"/><rect x="277.96" y="601.53" width="14.95" height="14.58" fill="#c0d4f5"/><rect x="292.86" y="601.53" width="14.95" height="14.58" fill="#dddcdc"/><rect x="307.75" y="601.53" width="14.95" height="14.58" fill="#dddcdc"/><rect x="322.65" y="601.53" width="14.95" height="14.58" fill="#c7d7f0"/><rect x="337.54" y="601.53" width="14.95" height="14.58" fill="#cfdaea"/><rect x="352.44" y="601.53" width="14.95" height="14.58" fill="#dddcdc"/><rect x="367.33" y="601.53" width="14.95" height="14.58" fill="#c0d4f5"/><rect x="382.23" y="601.53" width="14.95" height="14.58" fill="#d6dce4"/><rect x="397.13" y="601.53" width="14.95" height="14.58" fill="#c0d4f5"/><rect x="412.02" y="601.53" width="14.95" height="14.58" fill="#c7d7f0"/><rect x="426.92" y="601.53" width="14.95" height="14.58" fill="#d6dce4"/><rect x="441.81" y="601.53" width="14.95" height="14.58" fill="#e9d5cb"/><rect x="456.71" y="601.53" width="14.95" height="14.58" fill="#e3d9d3"/><rect x="471.60" y="601.53" width="14.95" height="14.58" fill="#dddcdc"/><rect x="143.90" y="616.06" width="14.95" height="14.58" fill="#eed0c0"/><rect x="158.80" y="616.06" width="14.95" height="14.58" fill="#eed0c0"/><rect x="173.69" y="616.06" width="14.95" height="14.58" fill="#f2cbb7"/><rect x="188.59" y="616.06" width="14.95" height="14.58" fill="#c7d7f0"/><rect x="203.48" y="616.06" width="14.95" height="14.58" fill="#e9d5cb"/><rect x="218.38" y="616.06" width="14.95" height="14.58" fill="#eed0c0"/><rect x="233.27" y="616.06" width="14.95" height="14.58" fill="#f2cbb7"/><rect x="248.17" y="616.06" width="14.95" height="14.58" fill="#e9d5cb"/><rect x="263.07" y="616.06" width="14.95" height="14.58" fill="#c7d7f0"/><rect x="277.96" y="616.06" width="14.95" height="14.58" fill="#c7d7f0"/><rect x="292.86" y="616.06" width="14.95" height="14.58" fill="#e9d5cb"/><rect x="307.75" y="616.06" width="14.95" height="14.58" fill="#eed0c0"/><rect x="322.65" y="616.06" width="14.95" height="14.58" fill="#c0d4f5"/><rect x="337.54" y="616.06" width="14.95" height="14.58" fill="#c0d4f5"/><rect x="352.44" y="616.06" width="14.95" height="14.58" fill="#eed0c0"/><rect x="367.33" y="616.06" width="14.95" height="14.58" fill="#cfdaea"/><rect x="382.23" y="616.06" width="14.95" height="14.58" fill="#cfdaea"/><rect x="397.13" y="616.06" width="14.95" height="14.58" fill="#c7d7f0"/><rect x="412.02" y="616.06" width="14.95" height="14.58" fill="#cfdaea"/><rect x="426.92" y="616.06" width="14.95" height="14.58" fill="#b9d0f9"/><rect x="441.81" y="616.06" width="14.95" height="14.58" fill="#f6bda2"/><rect x="456.71" y="616.06" width="14.95" height="14.58" fill="#e9d5cb"/><rect x="471.60" y="616.06" width="14.95" height="14.58" fill="#e9d5cb"/><rect x="143.90" y="630.59" width="14.95" height="14.58" fill="#eed0c0"/><rect x="158.80" y="630.59" width="14.95" height="14.58" fill="#dddcdc"/><rect x="173.69" y="630.59" width="14.95" height="14.58" fill="#f5c4ac"/><rect x="188.59" y="630.59" width="14.95" height="14.58" fill="#cfdaea"/><rect x="203.48" y="630.59" width="14.95" height="14.58" fill="#e9d5cb"/><rect x="218.38" y="630.59" width="14.95" height="14.58" fill="#e9d5cb"/><rect x="233.27" y="630.59" width="14.95" height="14.58" fill="#eed0c0"/><rect x="248.17" y="630.59" width="14.95" height="14.58" fill="#e9d5cb"/><rect x="263.07" y="630.59" width="14.95" height="14.58" fill="#cfdaea"/><rect x="277.96" y="630.59" width="14.95" height="14.58" fill="#cfdaea"/><rect x="292.86" y="630.59" width="14.95" height="14.58" fill="#e9d5cb"/><rect x="307.75" y="630.59" width="14.95" height="14.58" fill="#eed0c0"/><rect x="322.65" y="630.59" width="14.95" height="14.58" fill="#c7d7f0"/><rect x="337.54" y="630.59" width="14.95" height="14.58" fill="#cfdaea"/><rect x="352.44" y="630.59" width="14.95" height="14.58" fill="#eed0c0"/><rect x="367.33" y="630.59" width="14.95" height="14.58" fill="#cfdaea"/><rect x="382.23" y="630.59" width="14.95" height="14.58" fill="#cfdaea"/><rect x="397.13" y="630.59" width="14.95" height="14.58" fill="#c0d4f5"/><rect x="412.02" y="630.59" width="14.95" height="14.58" fill="#c7d7f0"/><rect x="426.92" y="630.59" width="14.95" height="14.58" fill="#c7d7f0"/><rect x="441.81" y="630.59" width="14.95" height="14.58" fill="#f2cbb7"/><rect x="456.71" y="630.59" width="14.95" height="14.58" fill="#e9d5cb"/><rect x="471.60" y="630.59" width="14.95" height="14.58" fill="#d6dce4"/><rect x="143.90" y="645.12" width="14.95" height="14.58" fill="#c53334"/><rect x="158.80" y="645.12" width="14.95" height="14.58" fill="#f5c4ac"/><rect x="173.69" y="645.12" width="14.95" height="14.58" fill="#dddcdc"/><rect x="188.59" y="645.12" width="14.95" height="14.58" fill="#b40426"/><rect x="203.48" y="645.12" width="14.95" height="14.58" fill="#f6bda2"/><rect x="218.38" y="645.12" width="14.95" height="14.58" fill="#eed0c0"/><rect x="233.27" y="645.12" width="14.95" height="14.58" fill="#f2cbb7"/><rect x="248.17" y="645.12" width="14.95" height="14.58" fill="#e9d5cb"/><rect x="263.07" y="645.12" width="14.95" height="14.58" fill="#cfdaea"/><rect x="277.96" y="645.12" width="14.95" height="14.58" fill="#c0d4f5"/><rect x="292.86" y="645.12" width="14.95" height="14.58" fill="#dddcdc"/><rect x="307.75" y="645.12" width="14.95" height="14.58" fill="#dd5f4b"/><rect x="322.65" y="645.12" width="14.95" height="14.58" fill="#eed0c0"/><rect x="337.54" y="645.12" width="14.95" height="14.58" fill="#8db0fe"/><rect x="352.44" y="645.12" width="14.95" height="14.58" fill="#e9d5cb"/><rect x="367.33" y="645.12" width="14.95" height="14.58" fill="#c0d4f5"/><rect x="382.23" y="645.12" width="14.95" height="14.58" fill="#f2cbb7"/><rect x="397.13" y="645.12" width="14.95" height="14.58" fill="#c0d4f5"/><rect x="412.02" y="645.12" width="14.95" height="14.58" fill="#c0d4f5"/><rect x="426.92" y="645.12" width="14.95" height="14.58" fill="#8db0fe"/><rect x="441.81" y="645.12" width="14.95" height="14.58" fill="#f2cbb7"/><rect x="456.71" y="645.12" width="14.95" height="14.58" fill="#dddcdc"/><rect x="471.60" y="645.12" width="14.95" height="14.58" fill="#3f4799"/><rect x="143.90" y="659.65" width="14.95" height="14.58" fill="#dddcdc"/><rect x="158.80" y="659.65" width="14.95" height="14.58" fill="#dddcdc"/><rect x="173.69" y="659.65" width="14.95" height="14.58" fill="#f5c4ac"/><rect x="188.59" y="659.65" width="14.95" height="14.58" fill="#c0d4f5"/><rect x="203.48" y="659.65" width="14.95" height="14.58" fill="#dddcdc"/><rect x="218.38" y="659.65" width="14.95" height="14.58" fill="#e9d5cb"/><rect x="233.27" y="659.65" width="14.95" height="14.58" fill="#dddcdc"/><rect x="248.17" y="659.65" width="14.95" height="14.58" fill="#dddcdc"/><rect x="263.07" y="659.65" width="14.95" height="14.58" fill="#b9d0f9"/><rect x="277.96" y="659.65" width="14.95" height="14.58" fill="#dddcdc"/><rect x="292.86" y="659.65" width="14.95" height="14.58" fill="#e3d9d3"/><rect x="307.75" y="659.65" width="14.95" height="14.58" fill="#eed0c0"/><rect x="322.65" y="659.65" width="14.95" height="14.58" fill="#b4c8e8"/><rect x="337.54" y="659.65" width="14.95" height="14.58" fill="#c0d4f5"/><rect x="352.44" y="659.65" width="14.95" height="14.58" fill="#e9d5cb"/><rect x="367.33" y="659.65" width="14.95" height="14.58" fill="#c0d4f5"/><rect x="382.23" y="659.65" width="14.95" height="14.58" fill="#cfdaea"/><rect x="397.13" y="659.65" width="14.95" height="14.58" fill="#c0d4f5"/><rect x="412.02" y="659.65" width="14.95" height="14.58" fill="#c0d4f5"/><rect x="426.92" y="659.65" width="14.95" height="14.58" fill="#cfdaea"/><rect x="441.81" y="659.65" width="14.95" height="14.58" fill="#eed0c0"/><rect x="456.71" y="659.65" width="14.95" height="14.58" fill="#e9d5cb"/><rect x="471.60" y="659.65" width="14.95" height="14.58" fill="#dddcdc"/><rect x="143.90" y="674.19" width="14.95" height="14.58" fill="#c0d4f5"/><rect x="158.80" y="674.19" width="14.95" height="14.58" fill="#c0d4f5"/><rect x="173.69" y="674.19" width="14.95" height="14.58" fill="#afcafc"/><rect x="188.59" y="674.19" width="14.95" height="14.58" fill="#c7d7f0"/><rect x="203.48" y="674.19" width="14.95" height="14.58" fill="#c0d4f5"/><rect x="218.38" y="674.19" width="14.95" height="14.58" fill="#b9d0f9"/><rect x="233.27" y="674.19" width="14.95" height="14.58" fill="#c0d4f5"/><rect x="248.17" y="674.19" width="14.95" height="14.58" fill="#c0d4f5"/><rect x="263.07" y="674.19" width="14.95" height="14.58" fill="#9ebeff"/><rect x="277.96" y="674.19" width="14.95" height="14.58" fill="#c7d7f0"/><rect x="292.86" y="674.19" width="14.95" height="14.58" fill="#c0d4f5"/><rect x="307.75" y="674.19" width="14.95" height="14.58" fill="#c0d4f5"/><rect x="322.65" y="674.19" width="14.95" height="14.58" fill="#f2cbb7"/><rect x="337.54" y="674.19" width="14.95" height="14.58" fill="#c7d7f0"/><rect x="352.44" y="674.19" width="14.95" height="14.58" fill="#a7c5fe"/><rect x="367.33" y="674.19" width="14.95" height="14.58" fill="#c0d4f5"/><rect x="382.23" y="674.19" width="14.95" height="14.58" fill="#e3d9d3"/><rect x="397.13" y="674.19" width="14.95" height="14.58" fill="#c0d4f5"/><rect x="412.02" y="674.19" width="14.95" height="14.58" fill="#c0d4f5"/><rect x="426.92" y="674.19" width="14.95" height="14.58" fill="#f2cbb7"/><rect x="441.81" y="674.19" width="14.95" height="14.58" fill="#cfdaea"/><rect x="456.71" y="674.19" width="14.95" height="14.58" fill="#a7c5fe"/><rect x="471.60" y="674.19" width="14.95" height="14.58" fill="#dddcdc"/><rect x="143.90" y="688.72" width="14.95" height="14.58" fill="#c0d4f5"/><rect x="158.80" y="688.72" width="14.95" height="14.58" fill="#c7d7f0"/><rect x="173.69" y="688.72" width="14.95" height="14.58" fill="#c0d4f5"/><rect x="188.59" y="688.72" width="14.95" height="14.58" fill="#c0d4f5"/><rect x="203.48" y="688.72" width="14.95" height="14.58" fill="#c7d7f0"/><rect x="218.38" y="688.72" width="14.95" height="14.58" fill="#a7c5fe"/><rect x="233.27" y="688.72" width="14.95" height="14.58" fill="#9ebeff"/><rect x="248.17" y="688.72" width="14.95" height="14.58" fill="#a7c5fe"/><rect x="263.07" y="688.72" width="14.95" height="14.58" fill="#f5c4ac"/><rect x="277.96" y="688.72" width="14.95" height="14.58" fill="#dddcdc"/><rect x="292.86" y="688.72" width="14.95" height="14.58" fill="#b9d0f9"/><rect x="307.75" y="688.72" width="14.95" height="14.58" fill="#dddcdc"/><rect x="322.65" y="688.72" width="14.95" height="14.58" fill="#c7d7f0"/><rect x="337.54" y="688.72" width="14.95" height="14.58" fill="#b9d0f9"/><rect x="352.44" y="688.72" width="14.95" height="14.58" fill="#b9d0f9"/><rect x="367.33" y="688.72" width="14.95" height="14.58" fill="#a7c5fe"/><rect x="382.23" y="688.72" width="14.95" height="14.58" fill="#eed0c0"/><rect x="397.13" y="688.72" width="14.95" height="14.58" fill="#b9d0f9"/><rect x="412.02" y="688.72" width="14.95" height="14.58" fill="#96b7ff"/><rect x="426.92" y="688.72" width="14.95" height="14.58" fill="#f2cbb7"/><rect x="441.81" y="688.72" width="14.95" height="14.58" fill="#c0d4f5"/><rect x="456.71" y="688.72" width="14.95" height="14.58" fill="#f5c4ac"/><rect x="471.60" y="688.72" width="14.95" height="14.58" fill="#c7d7f0"/><rect x="143.90" y="703.25" width="14.95" height="14.58" fill="#a8bce4"/><rect x="158.80" y="703.25" width="14.95" height="14.58" fill="#eed0c0"/><rect x="173.69" y="703.25" width="14.95" height="14.58" fill="#f2cbb7"/><rect x="188.59" y="703.25" width="14.95" height="14.58" fill="#b9d0f9"/><rect x="203.48" y="703.25" width="14.95" height="14.58" fill="#a7c5fe"/><rect x="218.38" y="703.25" width="14.95" height="14.58" fill="#dddcdc"/><rect x="233.27" y="703.25" width="14.95" height="14.58" fill="#e9d5cb"/><rect x="248.17" y="703.25" width="14.95" height="14.58" fill="#d6dce4"/><rect x="263.07" y="703.25" width="14.95" height="14.58" fill="#f4987a"/><rect x="277.96" y="703.25" width="14.95" height="14.58" fill="#cfdaea"/><rect x="292.86" y="703.25" width="14.95" height="14.58" fill="#c7d7f0"/><rect x="307.75" y="703.25" width="14.95" height="14.58" fill="#b8cce8"/><rect x="322.65" y="703.25" width="14.95" height="14.58" fill="#f2cbb7"/><rect x="337.54" y="703.25" width="14.95" height="14.58" fill="#c7d7f0"/><rect x="352.44" y="703.25" width="14.95" height="14.58" fill="#c0d4f5"/><rect x="367.33" y="703.25" width="14.95" height="14.58" fill="#f6bda2"/><rect x="382.23" y="703.25" width="14.95" height="14.58" fill="#f7b599"/><rect x="397.13" y="703.25" width="14.95" height="14.58" fill="#b9d0f9"/><rect x="412.02" y="703.25" width="14.95" height="14.58" fill="#f2cbb7"/><rect x="426.92" y="703.25" width="14.95" height="14.58" fill="#f2cbb7"/><rect x="441.81" y="703.25" width="14.95" height="14.58" fill="#c0d4f5"/><rect x="456.71" y="703.25" width="14.95" height="14.58" fill="#dddcdc"/><rect x="471.60" y="703.25" width="14.95" height="14.58" fill="#e9d5cb"/><rect x="143.90" y="717.78" width="14.95" height="14.58" fill="#dddcdc"/><rect x="158.80" y="717.78" width="14.95" height="14.58" fill="#c7d7f0"/><rect x="173.69" y="717.78" width="14.95" height="14.58" fill="#c0d4f5"/><rect x="188.59" y="717.78" width="14.95" height="14.58" fill="#dddcdc"/><rect x="203.48" y="717.78" width="14.95" height="14.58" fill="#c7d7f0"/><rect x="218.38" y="717.78" width="14.95" height="14.58" fill="#a7c5fe"/><rect x="233.27" y="717.78" width="14.95" height="14.58" fill="#c0d4f5"/><rect x="248.17" y="717.78" width="14.95" height="14.58" fill="#afcafc"/><rect x="263.07" y="717.78" width="14.95" height="14.58" fill="#e9785d"/><rect x="277.96" y="717.78" width="14.95" height="14.58" fill="#c7d7f0"/><rect x="292.86" y="717.78" width="14.95" height="14.58" fill="#c0d4f5"/><rect x="307.75" y="717.78" width="14.95" height="14.58" fill="#eed0c0"/><rect x="322.65" y="717.78" width="14.95" height="14.58" fill="#f7b599"/><rect x="337.54" y="717.78" width="14.95" height="14.58" fill="#a7c5fe"/><rect x="352.44" y="717.78" width="14.95" height="14.58" fill="#afcafc"/><rect x="367.33" y="717.78" width="14.95" height="14.58" fill="#b9d0f9"/><rect x="382.23" y="717.78" width="14.95" height="14.58" fill="#f7ac8e"/><rect x="397.13" y="717.78" width="14.95" height="14.58" fill="#afcafc"/><rect x="412.02" y="717.78" width="14.95" height="14.58" fill="#b9d0f9"/><rect x="426.92" y="717.78" width="14.95" height="14.58" fill="#e9d5cb"/><rect x="441.81" y="717.78" width="14.95" height="14.58" fill="#c0d4f5"/><rect x="456.71" y="717.78" width="14.95" height="14.58" fill="#f2cbb7"/><rect x="471.60" y="717.78" width="14.95" height="14.58" fill="#c0d4f5"/><rect x="143.90" y="732.31" width="14.95" height="14.58" fill="#cfdaea"/><rect x="158.80" y="732.31" width="14.95" height="14.58" fill="#e9d5cb"/><rect x="173.69" y="732.31" width="14.95" height="14.58" fill="#f7ac8e"/><rect x="188.59" y="732.31" width="14.95" height="14.58" fill="#c0d4f5"/><rect x="203.48" y="732.31" width="14.95" height="14.58" fill="#e9d5cb"/><rect x="218.38" y="732.31" width="14.95" height="14.58" fill="#f6bda2"/><rect x="233.27" y="732.31" width="14.95" height="14.58" fill="#f6bda2"/><rect x="248.17" y="732.31" width="14.95" height="14.58" fill="#f6bda2"/><rect x="263.07" y="732.31" width="14.95" height="14.58" fill="#e9785d"/><rect x="277.96" y="732.31" width="14.95" height="14.58" fill="#f4987a"/><rect x="292.86" y="732.31" width="14.95" height="14.58" fill="#f2cbb7"/><rect x="307.75" y="732.31" width="14.95" height="14.58" fill="#cfdaea"/><rect x="322.65" y="732.31" width="14.95" height="14.58" fill="#f7ac8e"/><rect x="337.54" y="732.31" width="14.95" height="14.58" fill="#dddcdc"/><rect x="352.44" y="732.31" width="14.95" height="14.58" fill="#eed0c0"/><rect x="367.33" y="732.31" width="14.95" height="14.58" fill="#f7ac8e"/><rect x="382.23" y="732.31" width="14.95" height="14.58" fill="#eed0c0"/><rect x="397.13" y="732.31" width="14.95" height="14.58" fill="#dddcdc"/><rect x="412.02" y="732.31" width="14.95" height="14.58" fill="#f7b599"/><rect x="426.92" y="732.31" width="14.95" height="14.58" fill="#f7b599"/><rect x="441.81" y="732.31" width="14.95" height="14.58" fill="#f2cbb7"/><rect x="456.71" y="732.31" width="14.95" height="14.58" fill="#f7b599"/><rect x="471.60" y="732.31" width="14.95" height="14.58" fill="#eed0c0"/><rect x="143.90" y="746.84" width="14.95" height="14.58" fill="#dddcdc"/><rect x="158.80" y="746.84" width="14.95" height="14.58" fill="#f2cbb7"/><rect x="173.69" y="746.84" width="14.95" height="14.58" fill="#f2cbb7"/><rect x="188.59" y="746.84" width="14.95" height="14.58" fill="#c7d7f0"/><rect x="203.48" y="746.84" width="14.95" height="14.58" fill="#e9d5cb"/><rect x="218.38" y="746.84" width="14.95" height="14.58" fill="#e9d5cb"/><rect x="233.27" y="746.84" width="14.95" height="14.58" fill="#eed0c0"/><rect x="248.17" y="746.84" width="14.95" height="14.58" fill="#e9d5cb"/><rect x="263.07" y="746.84" width="14.95" height="14.58" fill="#e36c55"/><rect x="277.96" y="746.84" width="14.95" height="14.58" fill="#f7b599"/><rect x="292.86" y="746.84" width="14.95" height="14.58" fill="#dddcdc"/><rect x="307.75" y="746.84" width="14.95" height="14.58" fill="#dddcdc"/><rect x="322.65" y="746.84" width="14.95" height="14.58" fill="#f7b599"/><rect x="337.54" y="746.84" width="14.95" height="14.58" fill="#cfdaea"/><rect x="352.44" y="746.84" width="14.95" height="14.58" fill="#cfdaea"/><rect x="367.33" y="746.84" width="14.95" height="14.58" fill="#eed0c0"/><rect x="382.23" y="746.84" width="14.95" height="14.58" fill="#f2cbb7"/><rect x="397.13" y="746.84" width="14.95" height="14.58" fill="#cfdaea"/><rect x="412.02" y="746.84" width="14.95" height="14.58" fill="#e9d5cb"/><rect x="426.92" y="746.84" width="14.95" height="14.58" fill="#eed0c0"/><rect x="441.81" y="746.84" width="14.95" height="14.58" fill="#f5c4ac"/><rect x="456.71" y="746.84" width="14.95" height="14.58" fill="#f6bda2"/><rect x="471.60" y="746.84" width="14.95" height="14.58" fill="#e3d9d3"/><rect x="143.90" y="761.38" width="14.95" height="14.58" fill="#e9785d"/><rect x="158.80" y="761.38" width="14.95" height="14.58" fill="#f5c4ac"/><rect x="173.69" y="761.38" width="14.95" height="14.58" fill="#d6dce4"/><rect x="188.59" y="761.38" width="14.95" height="14.58" fill="#c53334"/><rect x="203.48" y="761.38" width="14.95" height="14.58" fill="#f5c4ac"/><rect x="218.38" y="761.38" width="14.95" height="14.58" fill="#eed0c0"/><rect x="233.27" y="761.38" width="14.95" height="14.58" fill="#f2cbb7"/><rect x="248.17" y="761.38" width="14.95" height="14.58" fill="#eed0c0"/><rect x="263.07" y="761.38" width="14.95" height="14.58" fill="#f4987a"/><rect x="277.96" y="761.38" width="14.95" height="14.58" fill="#f6bda2"/><rect x="292.86" y="761.38" width="14.95" height="14.58" fill="#d6dce4"/><rect x="307.75" y="761.38" width="14.95" height="14.58" fill="#f6a385"/><rect x="322.65" y="761.38" width="14.95" height="14.58" fill="#f6a385"/><rect x="337.54" y="761.38" width="14.95" height="14.58" fill="#c0d4f5"/><rect x="352.44" y="761.38" width="14.95" height="14.58" fill="#e9d5cb"/><rect x="367.33" y="761.38" width="14.95" height="14.58" fill="#eed0c0"/><rect x="382.23" y="761.38" width="14.95" height="14.58" fill="#f7ac8e"/><rect x="397.13" y="761.38" width="14.95" height="14.58" fill="#c0d4f5"/><rect x="412.02" y="761.38" width="14.95" height="14.58" fill="#eed0c0"/><rect x="426.92" y="761.38" width="14.95" height="14.58" fill="#e9d5cb"/><rect x="441.81" y="761.38" width="14.95" height="14.58" fill="#eed0c0"/><rect x="456.71" y="761.38" width="14.95" height="14.58" fill="#f6bda2"/><rect x="471.60" y="761.38" width="14.95" height="14.58" fill="#4c56a8"/><rect x="143.90" y="775.91" width="14.95" height="14.58" fill="#b4c8e8"/><rect x="158.80" y="775.91" width="14.95" height="14.58" fill="#c7d7f0"/><rect x="173.69" y="775.91" width="14.95" height="14.58" fill="#f7ac8e"/><rect x="188.59" y="775.91" width="14.95" height="14.58" fill="#c0d4f5"/><rect x="203.48" y="775.91" width="14.95" height="14.58" fill="#d6dce4"/><rect x="218.38" y="775.91" width="14.95" height="14.58" fill="#f6bda2"/><rect x="233.27" y="775.91" width="14.95" height="14.58" fill="#f4987a"/><rect x="248.17" y="775.91" width="14.95" height="14.58" fill="#f7b599"/><rect x="263.07" y="775.91" width="14.95" height="14.58" fill="#f5c4ac"/><rect x="277.96" y="775.91" width="14.95" height="14.58" fill="#f4987a"/><rect x="292.86" y="775.91" width="14.95" height="14.58" fill="#f2cbb7"/><rect x="307.75" y="775.91" width="14.95" height="14.58" fill="#c0d4f5"/><rect x="322.65" y="775.91" width="14.95" height="14.58" fill="#f6a385"/><rect x="337.54" y="775.91" width="14.95" height="14.58" fill="#f5c4ac"/><rect x="352.44" y="775.91" width="14.95" height="14.58" fill="#f2cbb7"/><rect x="367.33" y="775.91" width="14.95" height="14.58" fill="#e36c55"/><rect x="382.23" y="775.91" width="14.95" height="14.58" fill="#f5c4ac"/><rect x="397.13" y="775.91" width="14.95" height="14.58" fill="#dddcdc"/><rect x="412.02" y="775.91" width="14.95" height="14.58" fill="#e9785d"/><rect x="426.92" y="775.91" width="14.95" height="14.58" fill="#f7b599"/><rect x="441.81" y="775.91" width="14.95" height="14.58" fill="#eed0c0"/><rect x="456.71" y="775.91" width="14.95" height="14.58" fill="#f6bda2"/><rect x="471.60" y="775.91" width="14.95" height="14.58" fill="#f5c4ac"/><rect x="143.90" y="790.44" width="14.95" height="14.58" fill="#b0c4e4"/><rect x="158.80" y="790.44" width="14.95" height="14.58" fill="#afcafc"/><rect x="173.69" y="790.44" width="14.95" height="14.58" fill="#f5c4ac"/><rect x="188.59" y="790.44" width="14.95" height="14.58" fill="#c0d4f5"/><rect x="203.48" y="790.44" width="14.95" height="14.58" fill="#c7d7f0"/><rect x="218.38" y="790.44" width="14.95" height="14.58" fill="#c7d7f0"/><rect x="233.27" y="790.44" width="14.95" height="14.58" fill="#e9d5cb"/><rect x="248.17" y="790.44" width="14.95" height="14.58" fill="#cfdaea"/><rect x="263.07" y="790.44" width="14.95" height="14.58" fill="#e9d5cb"/><rect x="277.96" y="790.44" width="14.95" height="14.58" fill="#f5c4ac"/><rect x="292.86" y="790.44" width="14.95" height="14.58" fill="#dddcdc"/><rect x="307.75" y="790.44" width="14.95" height="14.58" fill="#cfdaea"/><rect x="322.65" y="790.44" width="14.95" height="14.58" fill="#dddcdc"/><rect x="337.54" y="790.44" width="14.95" height="14.58" fill="#b9d0f9"/><rect x="352.44" y="790.44" width="14.95" height="14.58" fill="#eed0c0"/><rect x="367.33" y="790.44" width="14.95" height="14.58" fill="#f5c4ac"/><rect x="382.23" y="790.44" width="14.95" height="14.58" fill="#f2cbb7"/><rect x="397.13" y="790.44" width="14.95" height="14.58" fill="#a7c5fe"/><rect x="412.02" y="790.44" width="14.95" height="14.58" fill="#f2cbb7"/><rect x="426.92" y="790.44" width="14.95" height="14.58" fill="#f6bda2"/><rect x="441.81" y="790.44" width="14.95" height="14.58" fill="#c0d4f5"/><rect x="456.71" y="790.44" width="14.95" height="14.58" fill="#f5c4ac"/><rect x="471.60" y="790.44" width="14.95" height="14.58" fill="#eed0c0"/><rect x="143.90" y="804.97" width="14.95" height="14.58" fill="#c7d7f0"/><rect x="158.80" y="804.97" width="14.95" height="14.58" fill="#dddcdc"/><rect x="173.69" y="804.97" width="14.95" height="14.58" fill="#f6bda2"/><rect x="188.59" y="804.97" width="14.95" height="14.58" fill="#c0d4f5"/><rect x="203.48" y="804.97" width="14.95" height="14.58" fill="#dddcdc"/><rect x="218.38" y="804.97" width="14.95" height="14.58" fill="#e9d5cb"/><rect x="233.27" y="804.97" width="14.95" height="14.58" fill="#e9d5cb"/><rect x="248.17" y="804.97" width="14.95" height="14.58" fill="#e3d9d3"/><rect x="263.07" y="804.97" width="14.95" height="14.58" fill="#f7ac8e"/><rect x="277.96" y="804.97" width="14.95" height="14.58" fill="#f7ac8e"/><rect x="292.86" y="804.97" width="14.95" height="14.58" fill="#eed0c0"/><rect x="307.75" y="804.97" width="14.95" height="14.58" fill="#eed0c0"/><rect x="322.65" y="804.97" width="14.95" height="14.58" fill="#c7d7f0"/><rect x="337.54" y="804.97" width="14.95" height="14.58" fill="#b9d0f9"/><rect x="352.44" y="804.97" width="14.95" height="14.58" fill="#f5c4ac"/><rect x="367.33" y="804.97" width="14.95" height="14.58" fill="#eed0c0"/><rect x="382.23" y="804.97" width="14.95" height="14.58" fill="#cfdaea"/><rect x="397.13" y="804.97" width="14.95" height="14.58" fill="#cfdaea"/><rect x="412.02" y="804.97" width="14.95" height="14.58" fill="#eed0c0"/><rect x="426.92" y="804.97" width="14.95" height="14.58" fill="#e9d5cb"/><rect x="441.81" y="804.97" width="14.95" height="14.58" fill="#f5c4ac"/><rect x="456.71" y="804.97" width="14.95" height="14.58" fill="#f5c4ac"/><rect x="471.60" y="804.97" width="14.95" height="14.58" fill="#f6bda2"/><rect x="143.90" y="819.50" width="14.95" height="14.58" fill="#e9785d"/><rect x="158.80" y="819.50" width="14.95" height="14.58" fill="#cfdaea"/><rect x="173.69" y="819.50" width="14.95" height="14.58" fill="#dddcdc"/><rect x="188.59" y="819.50" width="14.95" height="14.58" fill="#b40426"/><rect x="203.48" y="819.50" width="14.95" height="14.58" fill="#f5c4ac"/><rect x="218.38" y="819.50" width="14.95" height="14.58" fill="#e3d9d3"/><rect x="233.27" y="819.50" width="14.95" height="14.58" fill="#dddcdc"/><rect x="248.17" y="819.50" width="14.95" height="14.58" fill="#dddcdc"/><rect x="263.07" y="819.50" width="14.95" height="14.58" fill="#f7b599"/><rect x="277.96" y="819.50" width="14.95" height="14.58" fill="#f7b599"/><rect x="292.86" y="819.50" width="14.95" height="14.58" fill="#dddcdc"/><rect x="307.75" y="819.50" width="14.95" height="14.58" fill="#e36c55"/><rect x="322.65" y="819.50" width="14.95" height="14.58" fill="#c7d7f0"/><rect x="337.54" y="819.50" width="14.95" height="14.58" fill="#9ebeff"/><rect x="352.44" y="819.50" width="14.95" height="14.58" fill="#f2cbb7"/><rect x="367.33" y="819.50" width="14.95" height="14.58" fill="#dddcdc"/><rect x="382.23" y="819.50" width="14.95" height="14.58" fill="#d6dce4"/><rect x="397.13" y="819.50" width="14.95" height="14.58" fill="#c7d7f0"/><rect x="412.02" y="819.50" width="14.95" height="14.58" fill="#dddcdc"/><rect x="426.92" y="819.50" width="14.95" height="14.58" fill="#e3d9d3"/><rect x="441.81" y="819.50" width="14.95" height="14.58" fill="#f5c4ac"/><rect x="456.71" y="819.50" width="14.95" height="14.58" fill="#f7ac8e"/><rect x="471.60" y="819.50" width="14.95" height="14.58" fill="#6878c0"/><rect x="143.90" y="834.03" width="14.95" height="14.58" fill="#e9785d"/><rect x="158.80" y="834.03" width="14.95" height="14.58" fill="#eed0c0"/><rect x="173.69" y="834.03" width="14.95" height="14.58" fill="#f5c4ac"/><rect x="188.59" y="834.03" width="14.95" height="14.58" fill="#c53334"/><rect x="203.48" y="834.03" width="14.95" height="14.58" fill="#f7b599"/><rect x="218.38" y="834.03" width="14.95" height="14.58" fill="#f7ac8e"/><rect x="233.27" y="834.03" width="14.95" height="14.58" fill="#f4987a"/><rect x="248.17" y="834.03" width="14.95" height="14.58" fill="#f6a385"/><rect x="263.07" y="834.03" width="14.95" height="14.58" fill="#f7b599"/><rect x="277.96" y="834.03" width="14.95" height="14.58" fill="#f4987a"/><rect x="292.86" y="834.03" width="14.95" height="14.58" fill="#f7ac8e"/><rect x="307.75" y="834.03" width="14.95" height="14.58" fill="#f18f71"/><rect x="322.65" y="834.03" width="14.95" height="14.58" fill="#f7ac8e"/><rect x="337.54" y="834.03" width="14.95" height="14.58" fill="#dddcdc"/><rect x="352.44" y="834.03" width="14.95" height="14.58" fill="#f7ac8e"/><rect x="367.33" y="834.03" width="14.95" height="14.58" fill="#f6a385"/><rect x="382.23" y="834.03" width="14.95" height="14.58" fill="#f2cbb7"/><rect x="397.13" y="834.03" width="14.95" height="14.58" fill="#dddcdc"/><rect x="412.02" y="834.03" width="14.95" height="14.58" fill="#f7ac8e"/><rect x="426.92" y="834.03" width="14.95" height="14.58" fill="#e3d9d3"/><rect x="441.81" y="834.03" width="14.95" height="14.58" fill="#f7b599"/><rect x="456.71" y="834.03" width="14.95" height="14.58" fill="#f7b599"/><rect x="471.60" y="834.03" width="14.95" height="14.58" fill="#6070b8"/><rect x="143.90" y="848.57" width="14.95" height="14.58" fill="#cfdaea"/><rect x="158.80" y="848.57" width="14.95" height="14.58" fill="#eed0c0"/><rect x="173.69" y="848.57" width="14.95" height="14.58" fill="#f4987a"/><rect x="188.59" y="848.57" width="14.95" height="14.58" fill="#c7d7f0"/><rect x="203.48" y="848.57" width="14.95" height="14.58" fill="#f2cbb7"/><rect x="218.38" y="848.57" width="14.95" height="14.58" fill="#f4987a"/><rect x="233.27" y="848.57" width="14.95" height="14.58" fill="#f4987a"/><rect x="248.17" y="848.57" width="14.95" height="14.58" fill="#f4987a"/><rect x="263.07" y="848.57" width="14.95" height="14.58" fill="#f6a385"/><rect x="277.96" y="848.57" width="14.95" height="14.58" fill="#e9785d"/><rect x="292.86" y="848.57" width="14.95" height="14.58" fill="#f4987a"/><rect x="307.75" y="848.57" width="14.95" height="14.58" fill="#eed0c0"/><rect x="322.65" y="848.57" width="14.95" height="14.58" fill="#f2cbb7"/><rect x="337.54" y="848.57" width="14.95" height="14.58" fill="#f6bda2"/><rect x="352.44" y="848.57" width="14.95" height="14.58" fill="#f7ac8e"/><rect x="367.33" y="848.57" width="14.95" height="14.58" fill="#e9785d"/><rect x="382.23" y="848.57" width="14.95" height="14.58" fill="#c7d7f0"/><rect x="397.13" y="848.57" width="14.95" height="14.58" fill="#eed0c0"/><rect x="412.02" y="848.57" width="14.95" height="14.58" fill="#ee8468"/><rect x="426.92" y="848.57" width="14.95" height="14.58" fill="#f6bda2"/><rect x="441.81" y="848.57" width="14.95" height="14.58" fill="#f7ac8e"/><rect x="456.71" y="848.57" width="14.95" height="14.58" fill="#f7b599"/><rect x="471.60" y="848.57" width="14.95" height="14.58" fill="#f5c4ac"/><rect x="143.90" y="863.10" width="14.95" height="14.58" fill="#6070b8"/><rect x="158.80" y="863.10" width="14.95" height="14.58" fill="#4961d2"/><rect x="173.69" y="863.10" width="14.95" height="14.58" fill="#eed0c0"/><rect x="188.59" y="863.10" width="14.95" height="14.58" fill="#b9d0f9"/><rect x="203.48" y="863.10" width="14.95" height="14.58" fill="#4961d2"/><rect x="218.38" y="863.10" width="14.95" height="14.58" fill="#e9d5cb"/><rect x="233.27" y="863.10" width="14.95" height="14.58" fill="#f2cbb7"/><rect x="248.17" y="863.10" width="14.95" height="14.58" fill="#dddcdc"/><rect x="263.07" y="863.10" width="14.95" height="14.58" fill="#84a7fc"/><rect x="277.96" y="863.10" width="14.95" height="14.58" fill="#f5c4ac"/><rect x="292.86" y="863.10" width="14.95" height="14.58" fill="#c7d7f0"/><rect x="307.75" y="863.10" width="14.95" height="14.58" fill="#7a90d0"/><rect x="322.65" y="863.10" width="14.95" height="14.58" fill="#f7ac8e"/><rect x="337.54" y="863.10" width="14.95" height="14.58" fill="#d65244"/><rect x="352.44" y="863.10" width="14.95" height="14.58" fill="#eed0c0"/><rect x="367.33" y="863.10" width="14.95" height="14.58" fill="#e9785d"/><rect x="382.23" y="863.10" width="14.95" height="14.58" fill="#ee8468"/><rect x="397.13" y="863.10" width="14.95" height="14.58" fill="#a7c5fe"/><rect x="412.02" y="863.10" width="14.95" height="14.58" fill="#ee8468"/><rect x="426.92" y="863.10" width="14.95" height="14.58" fill="#bd1f2d"/><rect x="441.81" y="863.10" width="14.95" height="14.58" fill="#e3d9d3"/><rect x="456.71" y="863.10" width="14.95" height="14.58" fill="#7b9ff9"/><rect x="471.60" y="863.10" width="14.95" height="14.58" fill="#f5c4ac"/><rect x="143.90" y="877.63" width="14.95" height="14.58" fill="#c0d4f5"/><rect x="158.80" y="877.63" width="14.95" height="14.58" fill="#c7d7f0"/><rect x="173.69" y="877.63" width="14.95" height="14.58" fill="#afcafc"/><rect x="188.59" y="877.63" width="14.95" height="14.58" fill="#b9d0f9"/><rect x="203.48" y="877.63" width="14.95" height="14.58" fill="#c0d4f5"/><rect x="218.38" y="877.63" width="14.95" height="14.58" fill="#b9d0f9"/><rect x="233.27" y="877.63" width="14.95" height="14.58" fill="#afcafc"/><rect x="248.17" y="877.63" width="14.95" height="14.58" fill="#b9d0f9"/><rect x="263.07" y="877.63" width="14.95" height="14.58" fill="#a7c5fe"/><rect x="277.96" y="877.63" width="14.95" height="14.58" fill="#96b7ff"/><rect x="292.86" y="877.63" width="14.95" height="14.58" fill="#cfdaea"/><rect x="307.75" y="877.63" width="14.95" height="14.58" fill="#a8bce0"/><rect x="322.65" y="877.63" width="14.95" height="14.58" fill="#6070b8"/><rect x="337.54" y="877.63" width="14.95" height="14.58" fill="#f2cbb7"/><rect x="352.44" y="877.63" width="14.95" height="14.58" fill="#c7d7f0"/><rect x="367.33" y="877.63" width="14.95" height="14.58" fill="#b9d0f9"/><rect x="382.23" y="877.63" width="14.95" height="14.58" fill="#a7c5fe"/><rect x="397.13" y="877.63" width="14.95" height="14.58" fill="#f6bda2"/><rect x="412.02" y="877.63" width="14.95" height="14.58" fill="#b9d0f9"/><rect x="426.92" y="877.63" width="14.95" height="14.58" fill="#b9d0f9"/><rect x="441.81" y="877.63" width="14.95" height="14.58" fill="#a7c5fe"/><rect x="456.71" y="877.63" width="14.95" height="14.58" fill="#eed0c0"/><rect x="471.60" y="877.63" width="14.95" height="14.58" fill="#f6bda2"/><rect x="143.90" y="892.16" width="14.95" height="14.58" fill="#cfdaea"/><rect x="158.80" y="892.16" width="14.95" height="14.58" fill="#c7d7f0"/><rect x="173.69" y="892.16" width="14.95" height="14.58" fill="#b9d0f9"/><rect x="188.59" y="892.16" width="14.95" height="14.58" fill="#c7d7f0"/><rect x="203.48" y="892.16" width="14.95" height="14.58" fill="#dddcdc"/><rect x="218.38" y="892.16" width="14.95" height="14.58" fill="#cfdaea"/><rect x="233.27" y="892.16" width="14.95" height="14.58" fill="#c0d4f5"/><rect x="248.17" y="892.16" width="14.95" height="14.58" fill="#cfdaea"/><rect x="263.07" y="892.16" width="14.95" height="14.58" fill="#e9d5cb"/><rect x="277.96" y="892.16" width="14.95" height="14.58" fill="#afcafc"/><rect x="292.86" y="892.16" width="14.95" height="14.58" fill="#c0d4f5"/><rect x="307.75" y="892.16" width="14.95" height="14.58" fill="#c0d4f5"/><rect x="322.65" y="892.16" width="14.95" height="14.58" fill="#c0d4f5"/><rect x="337.54" y="892.16" width="14.95" height="14.58" fill="#eed0c0"/><rect x="352.44" y="892.16" width="14.95" height="14.58" fill="#a7c5fe"/><rect x="367.33" y="892.16" width="14.95" height="14.58" fill="#cfdaea"/><rect x="382.23" y="892.16" width="14.95" height="14.58" fill="#afcafc"/><rect x="397.13" y="892.16" width="14.95" height="14.58" fill="#dddcdc"/><rect x="412.02" y="892.16" width="14.95" height="14.58" fill="#dddcdc"/><rect x="426.92" y="892.16" width="14.95" height="14.58" fill="#e3d9d3"/><rect x="441.81" y="892.16" width="14.95" height="14.58" fill="#b9d0f9"/><rect x="456.71" y="892.16" width="14.95" height="14.58" fill="#84a7fc"/><rect x="471.60" y="892.16" width="14.95" height="14.58" fill="#f5c4ac"/><rect x="143.90" y="906.69" width="14.95" height="14.58" fill="#f2cbb7"/><rect x="158.80" y="906.69" width="14.95" height="14.58" fill="#f6bda2"/><rect x="173.69" y="906.69" width="14.95" height="14.58" fill="#c0d4f5"/><rect x="188.59" y="906.69" width="14.95" height="14.58" fill="#cfdaea"/><rect x="203.48" y="906.69" width="14.95" height="14.58" fill="#eed0c0"/><rect x="218.38" y="906.69" width="14.95" height="14.58" fill="#c0d4f5"/><rect x="233.27" y="906.69" width="14.95" height="14.58" fill="#c0d4f5"/><rect x="248.17" y="906.69" width="14.95" height="14.58" fill="#c7d7f0"/><rect x="263.07" y="906.69" width="14.95" height="14.58" fill="#c0d4f5"/><rect x="277.96" y="906.69" width="14.95" height="14.58" fill="#afcafc"/><rect x="292.86" y="906.69" width="14.95" height="14.58" fill="#cfdaea"/><rect x="307.75" y="906.69" width="14.95" height="14.58" fill="#d6dce4"/><rect x="322.65" y="906.69" width="14.95" height="14.58" fill="#3f4799"/><rect x="337.54" y="906.69" width="14.95" height="14.58" fill="#e9d5cb"/><rect x="352.44" y="906.69" width="14.95" height="14.58" fill="#dddcdc"/><rect x="367.33" y="906.69" width="14.95" height="14.58" fill="#b9d0f9"/><rect x="382.23" y="906.69" width="14.95" height="14.58" fill="#6a8bef"/><rect x="397.13" y="906.69" width="14.95" height="14.58" fill="#eed0c0"/><rect x="412.02" y="906.69" width="14.95" height="14.58" fill="#c7d7f0"/><rect x="426.92" y="906.69" width="14.95" height="14.58" fill="#c7d7f0"/><rect x="441.81" y="906.69" width="14.95" height="14.58" fill="#7b9ff9"/><rect x="456.71" y="906.69" width="14.95" height="14.58" fill="#c0d4f5"/><rect x="471.60" y="906.69" width="14.95" height="14.58" fill="#f4987a"/><rect x="143.90" y="921.22" width="14.95" height="14.58" fill="#b0c8e8"/><rect x="158.80" y="921.22" width="14.95" height="14.58" fill="#cfdaea"/><rect x="173.69" y="921.22" width="14.95" height="14.58" fill="#8db0fe"/><rect x="188.59" y="921.22" width="14.95" height="14.58" fill="#c0d4f5"/><rect x="203.48" y="921.22" width="14.95" height="14.58" fill="#afcafc"/><rect x="218.38" y="921.22" width="14.95" height="14.58" fill="#c0d4f5"/><rect x="233.27" y="921.22" width="14.95" height="14.58" fill="#c0d4f5"/><rect x="248.17" y="921.22" width="14.95" height="14.58" fill="#b9d0f9"/><rect x="263.07" y="921.22" width="14.95" height="14.58" fill="#c0d4f5"/><rect x="277.96" y="921.22" width="14.95" height="14.58" fill="#96b7ff"/><rect x="292.86" y="921.22" width="14.95" height="14.58" fill="#a7c5fe"/><rect x="307.75" y="921.22" width="14.95" height="14.58" fill="#8098cc"/><rect x="322.65" y="921.22" width="14.95" height="14.58" fill="#d6dce4"/><rect x="337.54" y="921.22" width="14.95" height="14.58" fill="#e9d5cb"/><rect x="352.44" y="921.22" width="14.95" height="14.58" fill="#8db0fe"/><rect x="367.33" y="921.22" width="14.95" height="14.58" fill="#cfdaea"/><rect x="382.23" y="921.22" width="14.95" height="14.58" fill="#f2cbb7"/><rect x="397.13" y="921.22" width="14.95" height="14.58" fill="#c0d4f5"/><rect x="412.02" y="921.22" width="14.95" height="14.58" fill="#e9d5cb"/><rect x="426.92" y="921.22" width="14.95" height="14.58" fill="#c0d4f5"/><rect x="441.81" y="921.22" width="14.95" height="14.58" fill="#b9d0f9"/><rect x="456.71" y="921.22" width="14.95" height="14.58" fill="#a7c5fe"/><rect x="471.60" y="921.22" width="14.95" height="14.58" fill="#f5c4ac"/><rect x="143.90" y="935.76" width="14.95" height="14.58" fill="#dddcdc"/><rect x="158.80" y="935.76" width="14.95" height="14.58" fill="#eed0c0"/><rect x="173.69" y="935.76" width="14.95" height="14.58" fill="#c0d4f5"/><rect x="188.59" y="935.76" width="14.95" height="14.58" fill="#c0d4f5"/><rect x="203.48" y="935.76" width="14.95" height="14.58" fill="#eed0c0"/><rect x="218.38" y="935.76" width="14.95" height="14.58" fill="#d6dce4"/><rect x="233.27" y="935.76" width="14.95" height="14.58" fill="#c7d7f0"/><rect x="248.17" y="935.76" width="14.95" height="14.58" fill="#d6dce4"/><rect x="263.07" y="935.76" width="14.95" height="14.58" fill="#cfdaea"/><rect x="277.96" y="935.76" width="14.95" height="14.58" fill="#b9d0f9"/><rect x="292.86" y="935.76" width="14.95" height="14.58" fill="#d6dce4"/><rect x="307.75" y="935.76" width="14.95" height="14.58" fill="#c0d4f5"/><rect x="322.65" y="935.76" width="14.95" height="14.58" fill="#c0d4f5"/><rect x="337.54" y="935.76" width="14.95" height="14.58" fill="#f6bda2"/><rect x="352.44" y="935.76" width="14.95" height="14.58" fill="#c7d7f0"/><rect x="367.33" y="935.76" width="14.95" height="14.58" fill="#cfdaea"/><rect x="382.23" y="935.76" width="14.95" height="14.58" fill="#afcafc"/><rect x="397.13" y="935.76" width="14.95" height="14.58" fill="#eed0c0"/><rect x="412.02" y="935.76" width="14.95" height="14.58" fill="#dddcdc"/><rect x="426.92" y="935.76" width="14.95" height="14.58" fill="#c0d4f5"/><rect x="441.81" y="935.76" width="14.95" height="14.58" fill="#c0d4f5"/><rect x="456.71" y="935.76" width="14.95" height="14.58" fill="#c0d4f5"/><rect x="471.60" y="935.76" width="14.95" height="14.58" fill="#f6bda2"/><rect x="143.90" y="950.29" width="14.95" height="14.58" fill="#6070b8"/><rect x="158.80" y="950.29" width="14.95" height="14.58" fill="#7b9ff9"/><rect x="173.69" y="950.29" width="14.95" height="14.58" fill="#5977e3"/><rect x="188.59" y="950.29" width="14.95" height="14.58" fill="#a7c5fe"/><rect x="203.48" y="950.29" width="14.95" height="14.58" fill="#3b4cc0"/><rect x="218.38" y="950.29" width="14.95" height="14.58" fill="#5977e3"/><rect x="233.27" y="950.29" width="14.95" height="14.58" fill="#6282ea"/><rect x="248.17" y="950.29" width="14.95" height="14.58" fill="#6282ea"/><rect x="263.07" y="950.29" width="14.95" height="14.58" fill="#7295f4"/><rect x="277.96" y="950.29" width="14.95" height="14.58" fill="#6282ea"/><rect x="292.86" y="950.29" width="14.95" height="14.58" fill="#4961d2"/><rect x="307.75" y="950.29" width="14.95" height="14.58" fill="#5860a8"/><rect x="322.65" y="950.29" width="14.95" height="14.58" fill="#a0b4dc"/><rect x="337.54" y="950.29" width="14.95" height="14.58" fill="#cfdaea"/><rect x="352.44" y="950.29" width="14.95" height="14.58" fill="#6282ea"/><rect x="367.33" y="950.29" width="14.95" height="14.58" fill="#7b9ff9"/><rect x="382.23" y="950.29" width="14.95" height="14.58" fill="#d65244"/><rect x="397.13" y="950.29" width="14.95" height="14.58" fill="#7b9ff9"/><rect x="412.02" y="950.29" width="14.95" height="14.58" fill="#7b9ff9"/><rect x="426.92" y="950.29" width="14.95" height="14.58" fill="#8db0fe"/><rect x="441.81" y="950.29" width="14.95" height="14.58" fill="#a7c5fe"/><rect x="456.71" y="950.29" width="14.95" height="14.58" fill="#7295f4"/><rect x="471.60" y="950.29" width="14.95" height="14.58" fill="#7a90c8"/><rect x="143.90" y="964.82" width="14.95" height="14.58" fill="#f7b599"/><rect x="158.80" y="964.82" width="14.95" height="14.58" fill="#f6a385"/><rect x="173.69" y="964.82" width="14.95" height="14.58" fill="#b9d0f9"/><rect x="188.59" y="964.82" width="14.95" height="14.58" fill="#f7b599"/><rect x="203.48" y="964.82" width="14.95" height="14.58" fill="#f7ac8e"/><rect x="218.38" y="964.82" width="14.95" height="14.58" fill="#e9d5cb"/><rect x="233.27" y="964.82" width="14.95" height="14.58" fill="#cfdaea"/><rect x="248.17" y="964.82" width="14.95" height="14.58" fill="#e9d5cb"/><rect x="263.07" y="964.82" width="14.95" height="14.58" fill="#afcafc"/><rect x="277.96" y="964.82" width="14.95" height="14.58" fill="#c0d4f5"/><rect x="292.86" y="964.82" width="14.95" height="14.58" fill="#e3d9d3"/><rect x="307.75" y="964.82" width="14.95" height="14.58" fill="#f5c4ac"/><rect x="322.65" y="964.82" width="14.95" height="14.58" fill="#dddcdc"/><rect x="337.54" y="964.82" width="14.95" height="14.58" fill="#f6a385"/><rect x="352.44" y="964.82" width="14.95" height="14.58" fill="#dddcdc"/><rect x="367.33" y="964.82" width="14.95" height="14.58" fill="#d6dce4"/><rect x="382.23" y="964.82" width="14.95" height="14.58" fill="#afcafc"/><rect x="397.13" y="964.82" width="14.95" height="14.58" fill="#f6bda2"/><rect x="412.02" y="964.82" width="14.95" height="14.58" fill="#e9d5cb"/><rect x="426.92" y="964.82" width="14.95" height="14.58" fill="#96b7ff"/><rect x="441.81" y="964.82" width="14.95" height="14.58" fill="#dddcdc"/><rect x="456.71" y="964.82" width="14.95" height="14.58" fill="#e3d9d3"/><rect x="471.60" y="964.82" width="14.95" height="14.58" fill="#e3d9d3"/><rect x="143.90" y="979.35" width="14.95" height="14.58" fill="#dddcdc"/><rect x="158.80" y="979.35" width="14.95" height="14.58" fill="#c0d4f5"/><rect x="173.69" y="979.35" width="14.95" height="14.58" fill="#eed0c0"/><rect x="188.59" y="979.35" width="14.95" height="14.58" fill="#c0d4f5"/><rect x="203.48" y="979.35" width="14.95" height="14.58" fill="#e9d5cb"/><rect x="218.38" y="979.35" width="14.95" height="14.58" fill="#eed0c0"/><rect x="233.27" y="979.35" width="14.95" height="14.58" fill="#dddcdc"/><rect x="248.17" y="979.35" width="14.95" height="14.58" fill="#eed0c0"/><rect x="263.07" y="979.35" width="14.95" height="14.58" fill="#d6dce4"/><rect x="277.96" y="979.35" width="14.95" height="14.58" fill="#d6dce4"/><rect x="292.86" y="979.35" width="14.95" height="14.58" fill="#f7b599"/><rect x="307.75" y="979.35" width="14.95" height="14.58" fill="#c0d4f5"/><rect x="322.65" y="979.35" width="14.95" height="14.58" fill="#eed0c0"/><rect x="337.54" y="979.35" width="14.95" height="14.58" fill="#f7b599"/><rect x="352.44" y="979.35" width="14.95" height="14.58" fill="#f4987a"/><rect x="367.33" y="979.35" width="14.95" height="14.58" fill="#e9d5cb"/><rect x="382.23" y="979.35" width="14.95" height="14.58" fill="#cfdaea"/><rect x="397.13" y="979.35" width="14.95" height="14.58" fill="#ee8468"/><rect x="412.02" y="979.35" width="14.95" height="14.58" fill="#eed0c0"/><rect x="426.92" y="979.35" width="14.95" height="14.58" fill="#c7d7f0"/><rect x="441.81" y="979.35" width="14.95" height="14.58" fill="#f6bda2"/><rect x="456.71" y="979.35" width="14.95" height="14.58" fill="#a7c5fe"/><rect x="471.60" y="979.35" width="14.95" height="14.58" fill="#f5c4ac"/><rect x="143.90" y="993.88" width="14.95" height="14.58" fill="#dddcdc"/><rect x="158.80" y="993.88" width="14.95" height="14.58" fill="#b9d0f9"/><rect x="173.69" y="993.88" width="14.95" height="14.58" fill="#f2cbb7"/><rect x="188.59" y="993.88" width="14.95" height="14.58" fill="#c7d7f0"/><rect x="203.48" y="993.88" width="14.95" height="14.58" fill="#e9d5cb"/><rect x="218.38" y="993.88" width="14.95" height="14.58" fill="#eed0c0"/><rect x="233.27" y="993.88" width="14.95" height="14.58" fill="#dddcdc"/><rect x="248.17" y="993.88" width="14.95" height="14.58" fill="#e9d5cb"/><rect x="263.07" y="993.88" width="14.95" height="14.58" fill="#f5c4ac"/><rect x="277.96" y="993.88" width="14.95" height="14.58" fill="#dddcdc"/><rect x="292.86" y="993.88" width="14.95" height="14.58" fill="#f7b599"/><rect x="307.75" y="993.88" width="14.95" height="14.58" fill="#cfdaea"/><rect x="322.65" y="993.88" width="14.95" height="14.58" fill="#dddcdc"/><rect x="337.54" y="993.88" width="14.95" height="14.58" fill="#eed0c0"/><rect x="352.44" y="993.88" width="14.95" height="14.58" fill="#f18f71"/><rect x="367.33" y="993.88" width="14.95" height="14.58" fill="#e9d5cb"/><rect x="382.23" y="993.88" width="14.95" height="14.58" fill="#c0d4f5"/><rect x="397.13" y="993.88" width="14.95" height="14.58" fill="#f7ac8e"/><rect x="412.02" y="993.88" width="14.95" height="14.58" fill="#eed0c0"/><rect x="426.92" y="993.88" width="14.95" height="14.58" fill="#cfdaea"/><rect x="441.81" y="993.88" width="14.95" height="14.58" fill="#f6bda2"/><rect x="456.71" y="993.88" width="14.95" height="14.58" fill="#a7c5fe"/><rect x="471.60" y="993.88" width="14.95" height="14.58" fill="#f5c4ac"/><rect x="143.90" y="1008.41" width="14.95" height="14.58" fill="#dddcdc"/><rect x="158.80" y="1008.41" width="14.95" height="14.58" fill="#cfdaea"/><rect x="173.69" y="1008.41" width="14.95" height="14.58" fill="#c0d4f5"/><rect x="188.59" y="1008.41" width="14.95" height="14.58" fill="#c7d7f0"/><rect x="203.48" y="1008.41" width="14.95" height="14.58" fill="#eed0c0"/><rect x="218.38" y="1008.41" width="14.95" height="14.58" fill="#cfdaea"/><rect x="233.27" y="1008.41" width="14.95" height="14.58" fill="#c0d4f5"/><rect x="248.17" y="1008.41" width="14.95" height="14.58" fill="#cfdaea"/><rect x="263.07" y="1008.41" width="14.95" height="14.58" fill="#b9d0f9"/><rect x="277.96" y="1008.41" width="14.95" height="14.58" fill="#cfdaea"/><rect x="292.86" y="1008.41" width="14.95" height="14.58" fill="#e9d5cb"/><rect x="307.75" y="1008.41" width="14.95" height="14.58" fill="#dddcdc"/><rect x="322.65" y="1008.41" width="14.95" height="14.58" fill="#dddcdc"/><rect x="337.54" y="1008.41" width="14.95" height="14.58" fill="#f2cbb7"/><rect x="352.44" y="1008.41" width="14.95" height="14.58" fill="#c7d7f0"/><rect x="367.33" y="1008.41" width="14.95" height="14.58" fill="#c0d4f5"/><rect x="382.23" y="1008.41" width="14.95" height="14.58" fill="#a7c5fe"/><rect x="397.13" y="1008.41" width="14.95" height="14.58" fill="#f5c4ac"/><rect x="412.02" y="1008.41" width="14.95" height="14.58" fill="#c7d7f0"/><rect x="426.92" y="1008.41" width="14.95" height="14.58" fill="#96b7ff"/><rect x="441.81" y="1008.41" width="14.95" height="14.58" fill="#c7d7f0"/><rect x="456.71" y="1008.41" width="14.95" height="14.58" fill="#b9d0f9"/><rect x="471.60" y="1008.41" width="14.95" height="14.58" fill="#f5c4ac"/><rect x="143.90" y="1022.95" width="14.95" height="14.58" fill="#dddcdc"/><rect x="158.80" y="1022.95" width="14.95" height="14.58" fill="#eed0c0"/><rect x="173.69" y="1022.95" width="14.95" height="14.58" fill="#dddcdc"/><rect x="188.59" y="1022.95" width="14.95" height="14.58" fill="#cfdaea"/><rect x="203.48" y="1022.95" width="14.95" height="14.58" fill="#eed0c0"/><rect x="218.38" y="1022.95" width="14.95" height="14.58" fill="#eed0c0"/><rect x="233.27" y="1022.95" width="14.95" height="14.58" fill="#dddcdc"/><rect x="248.17" y="1022.95" width="14.95" height="14.58" fill="#eed0c0"/><rect x="263.07" y="1022.95" width="14.95" height="14.58" fill="#cfdaea"/><rect x="277.96" y="1022.95" width="14.95" height="14.58" fill="#cfdaea"/><rect x="292.86" y="1022.95" width="14.95" height="14.58" fill="#f7b599"/><rect x="307.75" y="1022.95" width="14.95" height="14.58" fill="#c0d4f5"/><rect x="322.65" y="1022.95" width="14.95" height="14.58" fill="#f2cbb7"/><rect x="337.54" y="1022.95" width="14.95" height="14.58" fill="#f6bda2"/><rect x="352.44" y="1022.95" width="14.95" height="14.58" fill="#f5c4ac"/><rect x="367.33" y="1022.95" width="14.95" height="14.58" fill="#dddcdc"/><rect x="382.23" y="1022.95" width="14.95" height="14.58" fill="#cfdaea"/><rect x="397.13" y="1022.95" width="14.95" height="14.58" fill="#ee8468"/><rect x="412.02" y="1022.95" width="14.95" height="14.58" fill="#e9d5cb"/><rect x="426.92" y="1022.95" width="14.95" height="14.58" fill="#a7c5fe"/><rect x="441.81" y="1022.95" width="14.95" height="14.58" fill="#f7ac8e"/><rect x="456.71" y="1022.95" width="14.95" height="14.58" fill="#b9d0f9"/><rect x="471.60" y="1022.95" width="14.95" height="14.58" fill="#eed0c0"/><rect x="143.90" y="1037.48" width="14.95" height="14.58" fill="#c0d4f5"/><rect x="158.80" y="1037.48" width="14.95" height="14.58" fill="#c0d4f5"/><rect x="173.69" y="1037.48" width="14.95" height="14.58" fill="#b9d0f9"/><rect x="188.59" y="1037.48" width="14.95" height="14.58" fill="#b9d0f9"/><rect x="203.48" y="1037.48" width="14.95" height="14.58" fill="#dddcdc"/><rect x="218.38" y="1037.48" width="14.95" height="14.58" fill="#cfdaea"/><rect x="233.27" y="1037.48" width="14.95" height="14.58" fill="#c0d4f5"/><rect x="248.17" y="1037.48" width="14.95" height="14.58" fill="#dddcdc"/><rect x="263.07" y="1037.48" width="14.95" height="14.58" fill="#8db0fe"/><rect x="277.96" y="1037.48" width="14.95" height="14.58" fill="#c7d7f0"/><rect x="292.86" y="1037.48" width="14.95" height="14.58" fill="#dddcdc"/><rect x="307.75" y="1037.48" width="14.95" height="14.58" fill="#bccce8"/><rect x="322.65" y="1037.48" width="14.95" height="14.58" fill="#e9d5cb"/><rect x="337.54" y="1037.48" width="14.95" height="14.58" fill="#f4987a"/><rect x="352.44" y="1037.48" width="14.95" height="14.58" fill="#b9d0f9"/><rect x="367.33" y="1037.48" width="14.95" height="14.58" fill="#dddcdc"/><rect x="382.23" y="1037.48" width="14.95" height="14.58" fill="#c0d4f5"/><rect x="397.13" y="1037.48" width="14.95" height="14.58" fill="#ee8468"/><rect x="412.02" y="1037.48" width="14.95" height="14.58" fill="#e9d5cb"/><rect x="426.92" y="1037.48" width="14.95" height="14.58" fill="#cfdaea"/><rect x="441.81" y="1037.48" width="14.95" height="14.58" fill="#7b9ff9"/><rect x="456.71" y="1037.48" width="14.95" height="14.58" fill="#c7d7f0"/><rect x="471.60" y="1037.48" width="14.95" height="14.58" fill="#f7b599"/><rect x="143.90" y="1052.01" width="14.95" height="14.58" fill="#c0d4f5"/><rect x="158.80" y="1052.01" width="14.95" height="14.58" fill="#9ebeff"/><rect x="173.69" y="1052.01" width="14.95" height="14.58" fill="#b9d0f9"/><rect x="188.59" y="1052.01" width="14.95" height="14.58" fill="#b9d0f9"/><rect x="203.48" y="1052.01" width="14.95" height="14.58" fill="#e9d5cb"/><rect x="218.38" y="1052.01" width="14.95" height="14.58" fill="#c7d7f0"/><rect x="233.27" y="1052.01" width="14.95" height="14.58" fill="#afcafc"/><rect x="248.17" y="1052.01" width="14.95" height="14.58" fill="#cfdaea"/><rect x="263.07" y="1052.01" width="14.95" height="14.58" fill="#8db0fe"/><rect x="277.96" y="1052.01" width="14.95" height="14.58" fill="#c7d7f0"/><rect x="292.86" y="1052.01" width="14.95" height="14.58" fill="#dddcdc"/><rect x="307.75" y="1052.01" width="14.95" height="14.58" fill="#c0d4f5"/><rect x="322.65" y="1052.01" width="14.95" height="14.58" fill="#acc0e4"/><rect x="337.54" y="1052.01" width="14.95" height="14.58" fill="#f6a385"/><rect x="352.44" y="1052.01" width="14.95" height="14.58" fill="#b9d0f9"/><rect x="367.33" y="1052.01" width="14.95" height="14.58" fill="#c7d7f0"/><rect x="382.23" y="1052.01" width="14.95" height="14.58" fill="#a7c5fe"/><rect x="397.13" y="1052.01" width="14.95" height="14.58" fill="#e36c55"/><rect x="412.02" y="1052.01" width="14.95" height="14.58" fill="#cfdaea"/><rect x="426.92" y="1052.01" width="14.95" height="14.58" fill="#c0d4f5"/><rect x="441.81" y="1052.01" width="14.95" height="14.58" fill="#6282ea"/><rect x="456.71" y="1052.01" width="14.95" height="14.58" fill="#e9d5cb"/><rect x="471.60" y="1052.01" width="14.95" height="14.58" fill="#f7b599"/><rect x="143.90" y="1066.54" width="14.95" height="14.58" fill="#dddcdc"/><rect x="158.80" y="1066.54" width="14.95" height="14.58" fill="#f7ac8e"/><rect x="173.69" y="1066.54" width="14.95" height="14.58" fill="#c7d7f0"/><rect x="188.59" y="1066.54" width="14.95" height="14.58" fill="#c7d7f0"/><rect x="203.48" y="1066.54" width="14.95" height="14.58" fill="#eed0c0"/><rect x="218.38" y="1066.54" width="14.95" height="14.58" fill="#dddcdc"/><rect x="233.27" y="1066.54" width="14.95" height="14.58" fill="#c7d7f0"/><rect x="248.17" y="1066.54" width="14.95" height="14.58" fill="#eed0c0"/><rect x="263.07" y="1066.54" width="14.95" height="14.58" fill="#7b9ff9"/><rect x="277.96" y="1066.54" width="14.95" height="14.58" fill="#cfdaea"/><rect x="292.86" y="1066.54" width="14.95" height="14.58" fill="#eed0c0"/><rect x="307.75" y="1066.54" width="14.95" height="14.58" fill="#c0d4f5"/><rect x="322.65" y="1066.54" width="14.95" height="14.58" fill="#e9d5cb"/><rect x="337.54" y="1066.54" width="14.95" height="14.58" fill="#f4987a"/><rect x="352.44" y="1066.54" width="14.95" height="14.58" fill="#eed0c0"/><rect x="367.33" y="1066.54" width="14.95" height="14.58" fill="#dddcdc"/><rect x="382.23" y="1066.54" width="14.95" height="14.58" fill="#c7d7f0"/><rect x="397.13" y="1066.54" width="14.95" height="14.58" fill="#b40426"/><rect x="412.02" y="1066.54" width="14.95" height="14.58" fill="#eed0c0"/><rect x="426.92" y="1066.54" width="14.95" height="14.58" fill="#afcafc"/><rect x="441.81" y="1066.54" width="14.95" height="14.58" fill="#b9d0f9"/><rect x="456.71" y="1066.54" width="14.95" height="14.58" fill="#eed0c0"/><rect x="471.60" y="1066.54" width="14.95" height="14.58" fill="#f6bda2"/><rect x="143.90" y="1081.07" width="14.95" height="14.58" fill="#cfdaea"/><rect x="158.80" y="1081.07" width="14.95" height="14.58" fill="#e9d5cb"/><rect x="173.69" y="1081.07" width="14.95" height="14.58" fill="#c7d7f0"/><rect x="188.59" y="1081.07" width="14.95" height="14.58" fill="#c7d7f0"/><rect x="203.48" y="1081.07" width="14.95" height="14.58" fill="#f2cbb7"/><rect x="218.38" y="1081.07" width="14.95" height="14.58" fill="#dddcdc"/><rect x="233.27" y="1081.07" width="14.95" height="14.58" fill="#c0d4f5"/><rect x="248.17" y="1081.07" width="14.95" height="14.58" fill="#e9d5cb"/><rect x="263.07" y="1081.07" width="14.95" height="14.58" fill="#9ebeff"/><rect x="277.96" y="1081.07" width="14.95" height="14.58" fill="#c7d7f0"/><rect x="292.86" y="1081.07" width="14.95" height="14.58" fill="#e3d9d3"/><rect x="307.75" y="1081.07" width="14.95" height="14.58" fill="#d6dce4"/><rect x="322.65" y="1081.07" width="14.95" height="14.58" fill="#f6bda2"/><rect x="337.54" y="1081.07" width="14.95" height="14.58" fill="#f2cbb7"/><rect x="352.44" y="1081.07" width="14.95" height="14.58" fill="#dddcdc"/><rect x="367.33" y="1081.07" width="14.95" height="14.58" fill="#dddcdc"/><rect x="382.23" y="1081.07" width="14.95" height="14.58" fill="#c0d4f5"/><rect x="397.13" y="1081.07" width="14.95" height="14.58" fill="#f5c4ac"/><rect x="412.02" y="1081.07" width="14.95" height="14.58" fill="#eed0c0"/><rect x="426.92" y="1081.07" width="14.95" height="14.58" fill="#a7c5fe"/><rect x="441.81" y="1081.07" width="14.95" height="14.58" fill="#9ebeff"/><rect x="456.71" y="1081.07" width="14.95" height="14.58" fill="#e9d5cb"/><rect x="471.60" y="1081.07" width="14.95" height="14.58" fill="#f7b599"/><rect x="143.90" y="1095.60" width="14.95" height="14.58" fill="#dddcdc"/><rect x="158.80" y="1095.60" width="14.95" height="14.58" fill="#eed0c0"/><rect x="173.69" y="1095.60" width="14.95" height="14.58" fill="#96b7ff"/><rect x="188.59" y="1095.60" width="14.95" height="14.58" fill="#c7d7f0"/><rect x="203.48" y="1095.60" width="14.95" height="14.58" fill="#e9d5cb"/><rect x="218.38" y="1095.60" width="14.95" height="14.58" fill="#b9d0f9"/><rect x="233.27" y="1095.60" width="14.95" height="14.58" fill="#afcafc"/><rect x="248.17" y="1095.60" width="14.95" height="14.58" fill="#b9d0f9"/><rect x="263.07" y="1095.60" width="14.95" height="14.58" fill="#7b9ff9"/><rect x="277.96" y="1095.60" width="14.95" height="14.58" fill="#afcafc"/><rect x="292.86" y="1095.60" width="14.95" height="14.58" fill="#e9d5cb"/><rect x="307.75" y="1095.60" width="14.95" height="14.58" fill="#c7d7f0"/><rect x="322.65" y="1095.60" width="14.95" height="14.58" fill="#c7d7f0"/><rect x="337.54" y="1095.60" width="14.95" height="14.58" fill="#eed0c0"/><rect x="352.44" y="1095.60" width="14.95" height="14.58" fill="#e9d5cb"/><rect x="367.33" y="1095.60" width="14.95" height="14.58" fill="#b9d0f9"/><rect x="382.23" y="1095.60" width="14.95" height="14.58" fill="#dddcdc"/><rect x="397.13" y="1095.60" width="14.95" height="14.58" fill="#e36c55"/><rect x="412.02" y="1095.60" width="14.95" height="14.58" fill="#c0d4f5"/><rect x="426.92" y="1095.60" width="14.95" height="14.58" fill="#c0d4f5"/><rect x="441.81" y="1095.60" width="14.95" height="14.58" fill="#b9d0f9"/><rect x="456.71" y="1095.60" width="14.95" height="14.58" fill="#a7c5fe"/><rect x="471.60" y="1095.60" width="14.95" height="14.58" fill="#f5c4ac"/><rect x="143.90" y="1110.14" width="14.95" height="14.58" fill="#c0d4f5"/><rect x="158.80" y="1110.14" width="14.95" height="14.58" fill="#c0d4f5"/><rect x="173.69" y="1110.14" width="14.95" height="14.58" fill="#7b9ff9"/><rect x="188.59" y="1110.14" width="14.95" height="14.58" fill="#b9d0f9"/><rect x="203.48" y="1110.14" width="14.95" height="14.58" fill="#cfdaea"/><rect x="218.38" y="1110.14" width="14.95" height="14.58" fill="#96b7ff"/><rect x="233.27" y="1110.14" width="14.95" height="14.58" fill="#8db0fe"/><rect x="248.17" y="1110.14" width="14.95" height="14.58" fill="#9ebeff"/><rect x="263.07" y="1110.14" width="14.95" height="14.58" fill="#7b9ff9"/><rect x="277.96" y="1110.14" width="14.95" height="14.58" fill="#9ebeff"/><rect x="292.86" y="1110.14" width="14.95" height="14.58" fill="#b9d0f9"/><rect x="307.75" y="1110.14" width="14.95" height="14.58" fill="#a8bce4"/><rect x="322.65" y="1110.14" width="14.95" height="14.58" fill="#c7d7f0"/><rect x="337.54" y="1110.14" width="14.95" height="14.58" fill="#f5c4ac"/><rect x="352.44" y="1110.14" width="14.95" height="14.58" fill="#8db0fe"/><rect x="367.33" y="1110.14" width="14.95" height="14.58" fill="#96b7ff"/><rect x="382.23" y="1110.14" width="14.95" height="14.58" fill="#dddcdc"/><rect x="397.13" y="1110.14" width="14.95" height="14.58" fill="#e36c55"/><rect x="412.02" y="1110.14" width="14.95" height="14.58" fill="#a7c5fe"/><rect x="426.92" y="1110.14" width="14.95" height="14.58" fill="#e9d5cb"/><rect x="441.81" y="1110.14" width="14.95" height="14.58" fill="#7295f4"/><rect x="456.71" y="1110.14" width="14.95" height="14.58" fill="#96b7ff"/><rect x="471.60" y="1110.14" width="14.95" height="14.58" fill="#f5c4ac"/><rect x="143.90" y="1124.67" width="14.95" height="14.58" fill="#dd5f4b"/><rect x="158.80" y="1124.67" width="14.95" height="14.58" fill="#c53334"/><rect x="173.69" y="1124.67" width="14.95" height="14.58" fill="#90a8d8"/><rect x="188.59" y="1124.67" width="14.95" height="14.58" fill="#bd1f2d"/><rect x="203.48" y="1124.67" width="14.95" height="14.58" fill="#f5c4ac"/><rect x="218.38" y="1124.67" width="14.95" height="14.58" fill="#c7d7f0"/><rect x="233.27" y="1124.67" width="14.95" height="14.58" fill="#c7d7f0"/><rect x="248.17" y="1124.67" width="14.95" height="14.58" fill="#d6dce4"/><rect x="263.07" y="1124.67" width="14.95" height="14.58" fill="#7888c4"/><rect x="277.96" y="1124.67" width="14.95" height="14.58" fill="#b0c4e8"/><rect x="292.86" y="1124.67" width="14.95" height="14.58" fill="#e3d9d3"/><rect x="307.75" y="1124.67" width="14.95" height="14.58" fill="#f7b599"/><rect x="322.65" y="1124.67" width="14.95" height="14.58" fill="#f7ac8e"/><rect x="337.54" y="1124.67" width="14.95" height="14.58" fill="#dddcdc"/><rect x="352.44" y="1124.67" width="14.95" height="14.58" fill="#eed0c0"/><rect x="367.33" y="1124.67" width="14.95" height="14.58" fill="#c7d7f0"/><rect x="382.23" y="1124.67" width="14.95" height="14.58" fill="#f7ac8e"/><rect x="397.13" y="1124.67" width="14.95" height="14.58" fill="#bd1f2d"/><rect x="412.02" y="1124.67" width="14.95" height="14.58" fill="#d6dce4"/><rect x="426.92" y="1124.67" width="14.95" height="14.58" fill="#7080c0"/><rect x="441.81" y="1124.67" width="14.95" height="14.58" fill="#e9d5cb"/><rect x="456.71" y="1124.67" width="14.95" height="14.58" fill="#dddcdc"/><rect x="471.60" y="1124.67" width="14.95" height="14.58" fill="#3f4799"/></g>
<path d="M158.80 543.4V1139.2M173.69 543.4V1139.2M188.59 543.4V1139.2M203.48 543.4V1139.2M218.38 543.4V1139.2M233.27 543.4V1139.2M248.17 543.4V1139.2M263.07 543.4V1139.2M277.96 543.4V1139.2M292.86 543.4V1139.2M307.75 543.4V1139.2M322.65 543.4V1139.2M337.54 543.4V1139.2M352.44 543.4V1139.2M367.33 543.4V1139.2M382.23 543.4V1139.2M397.13 543.4V1139.2M412.02 543.4V1139.2M426.92 543.4V1139.2M441.81 543.4V1139.2M456.71 543.4V1139.2M471.60 543.4V1139.2M143.9 557.93H486.5M143.9 572.46H486.5M143.9 587.00H486.5M143.9 601.53H486.5M143.9 616.06H486.5M143.9 630.59H486.5M143.9 645.12H486.5M143.9 659.65H486.5M143.9 674.19H486.5M143.9 688.72H486.5M143.9 703.25H486.5M143.9 717.78H486.5M143.9 732.31H486.5M143.9 746.84H486.5M143.9 761.38H486.5M143.9 775.91H486.5M143.9 790.44H486.5M143.9 804.97H486.5M143.9 819.50H486.5M143.9 834.03H486.5M143.9 848.57H486.5M143.9 863.10H486.5M143.9 877.63H486.5M143.9 892.16H486.5M143.9 906.69H486.5M143.9 921.22H486.5M143.9 935.76H486.5M143.9 950.29H486.5M143.9 964.82H486.5M143.9 979.35H486.5M143.9 993.88H486.5M143.9 1008.41H486.5M143.9 1022.95H486.5M143.9 1037.48H486.5M143.9 1052.01H486.5M143.9 1066.54H486.5M143.9 1081.07H486.5M143.9 1095.60H486.5M143.9 1110.14H486.5M143.9 1124.67H486.5" stroke="#000" stroke-opacity="0.10" stroke-width="0.6" fill="none"/>
<rect x="143.9" y="543.4" width="342.6" height="595.8" fill="none" stroke="#000" stroke-width="1.2"/>
<path d="M322.65 543.4V1139.2" stroke="#000" stroke-width="1.1"/>
<path d="M140.6 550.67H143.9M140.6 565.20H143.9M140.6 579.73H143.9M140.6 594.26H143.9M140.6 608.79H143.9M140.6 623.32H143.9M140.6 637.86H143.9M140.6 652.39H143.9M140.6 666.92H143.9M140.6 681.45H143.9M140.6 695.98H143.9M140.6 710.51H143.9M140.6 725.05H143.9M140.6 739.58H143.9M140.6 754.11H143.9M140.6 768.64H143.9M140.6 783.17H143.9M140.6 797.70H143.9M140.6 812.24H143.9M140.6 826.77H143.9M140.6 841.30H143.9M140.6 855.83H143.9M140.6 870.36H143.9M140.6 884.90H143.9M140.6 899.43H143.9M140.6 913.96H143.9M140.6 928.49H143.9M140.6 943.02H143.9M140.6 957.55H143.9M140.6 972.09H143.9M140.6 986.62H143.9M140.6 1001.15H143.9M140.6 1015.68H143.9M140.6 1030.21H143.9M140.6 1044.74H143.9M140.6 1059.28H143.9M140.6 1073.81H143.9M140.6 1088.34H143.9M140.6 1102.87H143.9M140.6 1117.40H143.9M140.6 1131.93H143.9M151.35 1139.2V1142.5M166.24 1139.2V1142.5M181.14 1139.2V1142.5M196.03 1139.2V1142.5M210.93 1139.2V1142.5M225.83 1139.2V1142.5M240.72 1139.2V1142.5M255.62 1139.2V1142.5M270.51 1139.2V1142.5M285.41 1139.2V1142.5M300.30 1139.2V1142.5M315.20 1139.2V1142.5M330.10 1139.2V1142.5M344.99 1139.2V1142.5M359.89 1139.2V1142.5M374.78 1139.2V1142.5M389.68 1139.2V1142.5M404.57 1139.2V1142.5M419.47 1139.2V1142.5M434.37 1139.2V1142.5M449.26 1139.2V1142.5M464.16 1139.2V1142.5M479.05 1139.2V1142.5" stroke="#000" stroke-width="0.8" fill="none"/>
<text x="138.1" y="553.9" font-size="8.75" text-anchor="end" textLength="49.3" lengthAdjust="spacingAndGlyphs">Plasma cell</text>
<text x="138.1" y="568.4" font-size="8.75" text-anchor="end" textLength="82.9" lengthAdjust="spacingAndGlyphs">Plasma cell cycling</text>
<text x="138.1" y="582.9" font-size="8.75" text-anchor="end" textLength="23.8" lengthAdjust="spacingAndGlyphs">B cell</text>
<text x="138.1" y="597.5" font-size="8.75" text-anchor="end" textLength="57.4" lengthAdjust="spacingAndGlyphs">B cell cycling</text>
<text x="138.1" y="612.0" font-size="8.75" text-anchor="end" textLength="44.4" lengthAdjust="spacingAndGlyphs">T cell CD4</text>
<text x="138.1" y="626.5" font-size="8.75" text-anchor="end" textLength="71.2" lengthAdjust="spacingAndGlyphs">T cell regulatory</text>
<text x="138.1" y="641.1" font-size="8.75" text-anchor="end" textLength="44.4" lengthAdjust="spacingAndGlyphs">T cell CD8</text>
<text x="138.1" y="655.6" font-size="8.75" text-anchor="end" textLength="56.7" lengthAdjust="spacingAndGlyphs">T cell cycling</text>
<text x="138.1" y="670.1" font-size="8.75" text-anchor="end" textLength="30.1" lengthAdjust="spacingAndGlyphs">NK cell</text>
<text x="138.1" y="684.7" font-size="8.75" text-anchor="end" textLength="38.7" lengthAdjust="spacingAndGlyphs">Mast cell</text>
<text x="138.1" y="699.2" font-size="8.75" text-anchor="end" textLength="18.4" lengthAdjust="spacingAndGlyphs">pDC</text>
<text x="138.1" y="713.7" font-size="8.75" text-anchor="end" textLength="47.3" lengthAdjust="spacingAndGlyphs">DC mature</text>
<text x="138.1" y="728.2" font-size="8.75" text-anchor="end" textLength="23.2" lengthAdjust="spacingAndGlyphs">cDC1</text>
<text x="138.1" y="742.8" font-size="8.75" text-anchor="end" textLength="23.2" lengthAdjust="spacingAndGlyphs">cDC2</text>
<text x="138.1" y="757.3" font-size="8.75" text-anchor="end" textLength="57.7" lengthAdjust="spacingAndGlyphs">cDC2 CD1A+</text>
<text x="138.1" y="771.8" font-size="8.75" text-anchor="end" textLength="51.2" lengthAdjust="spacingAndGlyphs">cDC cycling</text>
<text x="138.1" y="786.4" font-size="8.75" text-anchor="end" textLength="82.1" lengthAdjust="spacingAndGlyphs">Monocyte classical</text>
<text x="138.1" y="800.9" font-size="8.75" text-anchor="end" textLength="101.7" lengthAdjust="spacingAndGlyphs">Monocyte non-classical</text>
<text x="138.1" y="815.4" font-size="8.75" text-anchor="end" textLength="91.8" lengthAdjust="spacingAndGlyphs">Macrophage alveolar</text>
<text x="138.1" y="830.0" font-size="8.75" text-anchor="end" textLength="125.3" lengthAdjust="spacingAndGlyphs">Macrophage alveolar cycling</text>
<text x="138.1" y="844.5" font-size="8.75" text-anchor="end" textLength="87.4" lengthAdjust="spacingAndGlyphs">Macrophage cycling</text>
<text x="138.1" y="859.0" font-size="8.75" text-anchor="end" textLength="18.2" lengthAdjust="spacingAndGlyphs">TAM</text>
<text x="138.1" y="873.6" font-size="8.75" text-anchor="end" textLength="45.6" lengthAdjust="spacingAndGlyphs">Neutrophil</text>
<text x="138.1" y="888.1" font-size="8.75" text-anchor="end" textLength="84.2" lengthAdjust="spacingAndGlyphs">Alveolar cell type 1</text>
<text x="138.1" y="902.6" font-size="8.75" text-anchor="end" textLength="84.2" lengthAdjust="spacingAndGlyphs">Alveolar cell type 2</text>
<text x="138.1" y="917.2" font-size="8.75" text-anchor="end" textLength="33.1" lengthAdjust="spacingAndGlyphs">Ciliated</text>
<text x="138.1" y="931.7" font-size="8.75" text-anchor="end" textLength="19.6" lengthAdjust="spacingAndGlyphs">Club</text>
<text x="138.1" y="946.2" font-size="8.75" text-anchor="end" textLength="90.4" lengthAdjust="spacingAndGlyphs">Transitional club/AT2</text>
<text x="138.1" y="960.8" font-size="8.75" text-anchor="end" textLength="110.2" lengthAdjust="spacingAndGlyphs">ROS1+ healthy epithelial</text>
<text x="138.1" y="975.3" font-size="8.75" text-anchor="end" textLength="44.9" lengthAdjust="spacingAndGlyphs">Tumor cell</text>
<text x="138.1" y="989.8" font-size="8.75" text-anchor="end" textLength="101.2" lengthAdjust="spacingAndGlyphs">Endothelial cell arterial</text>
<text x="138.1" y="1004.3" font-size="8.75" text-anchor="end" textLength="106.8" lengthAdjust="spacingAndGlyphs">Endothelial cell capillary</text>
<text x="138.1" y="1018.9" font-size="8.75" text-anchor="end" textLength="112.9" lengthAdjust="spacingAndGlyphs">Endothelial cell lymphatic</text>
<text x="138.1" y="1033.4" font-size="8.75" text-anchor="end" textLength="101.2" lengthAdjust="spacingAndGlyphs">Endothelial cell venous</text>
<text x="138.1" y="1047.9" font-size="8.75" text-anchor="end" textLength="91.8" lengthAdjust="spacingAndGlyphs">Fibroblast adventitial</text>
<text x="138.1" y="1062.5" font-size="8.75" text-anchor="end" textLength="80.4" lengthAdjust="spacingAndGlyphs">Fibroblast alveolar</text>
<text x="138.1" y="1077.0" font-size="8.75" text-anchor="end" textLength="102.7" lengthAdjust="spacingAndGlyphs">Fibroblast peribronchial</text>
<text x="138.1" y="1091.5" font-size="8.75" text-anchor="end" textLength="49.9" lengthAdjust="spacingAndGlyphs">Mesothelial</text>
<text x="138.1" y="1106.1" font-size="8.75" text-anchor="end" textLength="35.2" lengthAdjust="spacingAndGlyphs">Pericyte</text>
<text x="138.1" y="1120.6" font-size="8.75" text-anchor="end" textLength="85.6" lengthAdjust="spacingAndGlyphs">Smooth muscle cell</text>
<text x="138.1" y="1135.1" font-size="8.75" text-anchor="end" textLength="67.6" lengthAdjust="spacingAndGlyphs">Stromal cycling</text>
<text transform="translate(154.55 1144.6) rotate(-90)" x="0" y="0" font-size="8.75" text-anchor="end" textLength="21.7" lengthAdjust="spacingAndGlyphs">E2F4</text>
<text transform="translate(169.44 1144.6) rotate(-90)" x="0" y="0" font-size="8.75" text-anchor="end" textLength="24.7" lengthAdjust="spacingAndGlyphs">HOPX</text>
<text transform="translate(184.34 1144.6) rotate(-90)" x="0" y="0" font-size="8.75" text-anchor="end" textLength="19.3" lengthAdjust="spacingAndGlyphs">IRF1</text>
<text transform="translate(199.23 1144.6) rotate(-90)" x="0" y="0" font-size="8.75" text-anchor="end" textLength="29.7" lengthAdjust="spacingAndGlyphs">KMT2E</text>
<text transform="translate(214.13 1144.6) rotate(-90)" x="0" y="0" font-size="8.75" text-anchor="end" textLength="18.5" lengthAdjust="spacingAndGlyphs">MYC</text>
<text transform="translate(229.03 1144.6) rotate(-90)" x="0" y="0" font-size="8.75" text-anchor="end" textLength="28.9" lengthAdjust="spacingAndGlyphs">NFKB1</text>
<text transform="translate(243.92 1144.6) rotate(-90)" x="0" y="0" font-size="8.75" text-anchor="end" textLength="16.5" lengthAdjust="spacingAndGlyphs">REL</text>
<text transform="translate(258.82 1144.6) rotate(-90)" x="0" y="0" font-size="8.75" text-anchor="end" textLength="22.7" lengthAdjust="spacingAndGlyphs">RELA</text>
<text transform="translate(273.71 1144.6) rotate(-90)" x="0" y="0" font-size="8.75" text-anchor="end" textLength="28.4" lengthAdjust="spacingAndGlyphs">RFXAP</text>
<text transform="translate(288.61 1144.6) rotate(-90)" x="0" y="0" font-size="8.75" text-anchor="end" textLength="19.0" lengthAdjust="spacingAndGlyphs">SPI1</text>
<text transform="translate(303.50 1144.6) rotate(-90)" x="0" y="0" font-size="8.75" text-anchor="end" textLength="26.4" lengthAdjust="spacingAndGlyphs">STAT1</text>
<text transform="translate(318.40 1144.6) rotate(-90)" x="0" y="0" font-size="8.75" text-anchor="end" textLength="34.3" lengthAdjust="spacingAndGlyphs">ZNF143</text>
<text transform="translate(333.30 1144.6) rotate(-90)" x="0" y="0" font-size="8.75" text-anchor="end" textLength="23.4" lengthAdjust="spacingAndGlyphs">EGFR</text>
<text transform="translate(348.19 1144.6) rotate(-90)" x="0" y="0" font-size="8.75" text-anchor="end" textLength="35.4" lengthAdjust="spacingAndGlyphs">Hypoxia</text>
<text transform="translate(363.09 1144.6) rotate(-90)" x="0" y="0" font-size="8.75" text-anchor="end" textLength="37.3" lengthAdjust="spacingAndGlyphs">JAK-STAT</text>
<text transform="translate(377.98 1144.6) rotate(-90)" x="0" y="0" font-size="8.75" text-anchor="end" textLength="22.6" lengthAdjust="spacingAndGlyphs">NFkB</text>
<text transform="translate(392.88 1144.6) rotate(-90)" x="0" y="0" font-size="8.75" text-anchor="end" textLength="19.2" lengthAdjust="spacingAndGlyphs">PI3K</text>
<text transform="translate(407.77 1144.6) rotate(-90)" x="0" y="0" font-size="8.75" text-anchor="end" textLength="22.7" lengthAdjust="spacingAndGlyphs">TGFb</text>
<text transform="translate(422.67 1144.6) rotate(-90)" x="0" y="0" font-size="8.75" text-anchor="end" textLength="21.5" lengthAdjust="spacingAndGlyphs">TNFa</text>
<text transform="translate(437.57 1144.6) rotate(-90)" x="0" y="0" font-size="8.75" text-anchor="end" textLength="17.9" lengthAdjust="spacingAndGlyphs">Trail</text>
<text transform="translate(452.46 1144.6) rotate(-90)" x="0" y="0" font-size="8.75" text-anchor="end" textLength="23.3" lengthAdjust="spacingAndGlyphs">VEGF</text>
<text transform="translate(467.36 1144.6) rotate(-90)" x="0" y="0" font-size="8.75" text-anchor="end" textLength="20.5" lengthAdjust="spacingAndGlyphs">WNT</text>
<text transform="translate(482.25 1144.6) rotate(-90)" x="0" y="0" font-size="8.75" text-anchor="end" textLength="16.7" lengthAdjust="spacingAndGlyphs">p53</text>
<text x="238.3" y="530.0" font-size="11.4" text-anchor="middle" font-weight="bold" textLength="22.3" lengthAdjust="spacingAndGlyphs">TFs</text>
<text x="404.4" y="526.0" font-size="11.3" text-anchor="middle" font-weight="bold" textLength="61.0" lengthAdjust="spacingAndGlyphs">pathways</text>
<defs><linearGradient id="cwg" x1="0" x2="1" y1="0" y2="0"><stop offset="0.00" stop-color="#3b4cc0"/><stop offset="0.05" stop-color="#4961d2"/><stop offset="0.10" stop-color="#5977e3"/><stop offset="0.15" stop-color="#6a8bef"/><stop offset="0.20" stop-color="#7b9ff9"/><stop offset="0.25" stop-color="#8db0fe"/><stop offset="0.30" stop-color="#9ebeff"/><stop offset="0.35" stop-color="#afcafc"/><stop offset="0.40" stop-color="#c0d4f5"/><stop offset="0.45" stop-color="#cfdaea"/><stop offset="0.50" stop-color="#dddcdc"/><stop offset="0.55" stop-color="#e9d5cb"/><stop offset="0.60" stop-color="#f2cbb7"/><stop offset="0.65" stop-color="#f6bda2"/><stop offset="0.70" stop-color="#f7ac8e"/><stop offset="0.75" stop-color="#f4987a"/><stop offset="0.80" stop-color="#ee8468"/><stop offset="0.85" stop-color="#e36c55"/><stop offset="0.90" stop-color="#d65244"/><stop offset="0.95" stop-color="#c53334"/><stop offset="1.00" stop-color="#b40426"/></linearGradient></defs>
<rect x="24.1" y="508.3" width="59.8" height="7.1" fill="url(#cwg)" stroke="#222" stroke-width="0.7"/>
<path d="M24.1 515.4v2.2M54 515.4v2.2M83.9 515.4v2.2" stroke="#222" stroke-width="0.7"/>
<text x="52.0" y="503.4" font-size="10.1" text-anchor="middle" textLength="27.1" lengthAdjust="spacingAndGlyphs">score</text>
<text x="24.6" y="526.8" font-size="8.75" text-anchor="middle" textLength="21.2" lengthAdjust="spacingAndGlyphs">−2.5</text>
<text x="53.6" y="526.8" font-size="8.75" text-anchor="middle" textLength="13.9" lengthAdjust="spacingAndGlyphs">0.0</text>
<text x="83.4" y="526.8" font-size="8.75" text-anchor="middle" textLength="13.9" lengthAdjust="spacingAndGlyphs">2.5</text>
<text x="567.9" y="12.5" font-size="12.8" font-weight="bold">C</text>
<g><g transform="translate(584.70 37.05) scale(2.900)" shape-rendering="crispEdges">
<path fill="#0c0018" d="M4 0h2v1h-2zM7 0h1v1h-1zM15 0h1v1h-1zM37.5 7h1v1h-1zM41.5 7h1v1h-1zM43.5 7h1v1h-1zM30.5 9h1v1h-1zM35 12h1v1h-1zM42.5 13h1v1h-1zM10 14h2v1h-2zM25 14h1v1h-1zM28 14h1v1h-1zM35 14h1v1h-1zM10.5 15h1v1h-1zM29.5 15h2v1h-2zM12 16h1v1h-1zM28 16h1v1h-1zM8.5 17h1v1h-1zM33.5 17h1v1h-1zM8 18h1v1h-1zM28 18h1v1h-1zM43 18h1v1h-1zM26.5 19h1v1h-1zM30 20h1v1h-1zM44 20h1v1h-1zM48 20h1v1h-1zM29.5 21h1v1h-1zM35.5 23h1v1h-1zM29 24h1v1h-1zM39.5 25h1v1h-1zM48.5 25h1v1h-1zM36 26h1v1h-1zM25.5 27h1v1h-1zM28.5 27h1v1h-1zM21 28h1v1h-1zM20.5 29h1v1h-1zM42.5 31h1v1h-1zM30 32h2v1h-2zM37 34h1v1h-1zM5.5 35h1v1h-1zM11.5 35h1v1h-1zM13.5 35h1v1h-1zM27.5 35h1v1h-1zM35 36h1v1h-1zM5.5 37h1v1h-1zM15.5 37h1v1h-1zM19.5 37h1v1h-1zM10 38h1v1h-1zM21 38h1v1h-1zM38 38h1v1h-1zM5.5 39h1v1h-1zM36.5 39h1v1h-1zM10 40h1v1h-1zM31 40h1v1h-1zM36 40h1v1h-1zM35 42h1v1h-1zM8.5 43h1v1h-1zM13.5 43h1v1h-1zM24 44h1v1h-1zM31 44h1v1h-1zM8.5 45h1v1h-1zM24.5 45h1v1h-1zM32.5 45h1v1h-1zM2 46h1v1h-1zM9 46h1v1h-1zM2.5 47h1v1h-1zM30.5 47h1v1h-1zM36 48h1v1h-1zM20.5 49h1v1h-1zM22.5 49h1v1h-1zM31.5 49h1v1h-1zM6 50h1v1h-1zM8 50h1v1h-1zM2.5 51h1v1h-1zM33.5 51h1v1h-1zM36.5 51h1v1h-1zM5 52h1v1h-1zM9 52h1v1h-1zM27 52h1v1h-1zM30 52h1v1h-1zM47 52h1v1h-1zM16.5 53h1v1h-1zM21.5 53h1v1h-1zM35.5 53h1v1h-1zM42.5 53h1v1h-1zM19 54h1v1h-1z"/>
<path fill="#0c0c24" d="M6 0h1v1h-1zM14 0h1v1h-1zM7.5 1h1v1h-1zM13.5 1h1v1h-1zM4 2h2v1h-2zM13.5 3h1v1h-1zM18.5 3h2v1h-2zM20 4h1v1h-1zM2.5 5h1v1h-1zM40 6h1v1h-1zM42 6h1v1h-1zM40.5 7h1v1h-1zM35 8h1v1h-1zM39 8h1v1h-1zM42 8h1v1h-1zM45 8h1v1h-1zM3.5 9h1v1h-1zM33 10h3v1h-3zM37 10h2v1h-2zM42 10h1v1h-1zM29.5 11h2v1h-2zM37.5 11h1v1h-1zM46.5 11h1v1h-1zM9 12h1v1h-1zM24 12h1v1h-1zM28 12h1v1h-1zM41 12h1v1h-1zM44 12h1v1h-1zM3.5 13h1v1h-1zM8.5 13h1v1h-1zM22.5 13h1v1h-1zM27.5 13h1v1h-1zM44.5 13h3v1h-3zM3 14h1v1h-1zM7 14h1v1h-1zM14 14h1v1h-1zM23 14h1v1h-1zM33 14h2v1h-2zM43 14h1v1h-1zM2.5 15h2v1h-2zM11.5 15h3v1h-3zM21.5 15h1v1h-1zM25.5 15h1v1h-1zM42.5 15h1v1h-1zM35 16h1v1h-1zM9.5 17h2v1h-2zM39.5 17h1v1h-1zM35 18h1v1h-1zM10.5 19h2v1h-2zM30.5 19h1v1h-1zM22 20h1v1h-1zM28 20h1v1h-1zM17.5 21h1v1h-1zM26.5 21h1v1h-1zM30.5 21h1v1h-1zM33.5 21h2v1h-2zM36.5 21h1v1h-1zM48.5 21h1v1h-1zM19 22h1v1h-1zM25 22h1v1h-1zM20.5 23h3v1h-3zM25.5 23h1v1h-1zM28.5 23h1v1h-1zM34.5 23h1v1h-1zM40.5 23h1v1h-1zM20 24h1v1h-1zM34.5 25h1v1h-1zM45.5 25h1v1h-1zM47.5 25h1v1h-1zM23 26h1v1h-1zM25 26h2v1h-2zM32 26h3v1h-3zM38 26h2v1h-2zM48 26h1v1h-1zM37.5 27h1v1h-1zM48.5 27h1v1h-1zM4 28h1v1h-1zM22 28h1v1h-1zM37 28h1v1h-1zM42 28h1v1h-1zM15.5 29h1v1h-1zM48.5 29h1v1h-1zM15 30h1v1h-1zM19 30h1v1h-1zM27 30h1v1h-1zM38.5 31h1v1h-1zM18 32h1v1h-1zM23 32h1v1h-1zM25 32h1v1h-1zM16.5 33h1v1h-1zM19.5 33h1v1h-1zM25.5 33h1v1h-1zM42.5 33h2v1h-2zM3 34h1v1h-1zM18 34h1v1h-1zM23 34h1v1h-1zM4.5 35h1v1h-1zM17.5 35h2v1h-2zM4 36h1v1h-1zM8 36h2v1h-2zM18 36h2v1h-2zM23 36h1v1h-1zM25 36h1v1h-1zM38 36h1v1h-1zM48 36h1v1h-1zM3.5 37h1v1h-1zM8.5 37h3v1h-3zM13.5 37h1v1h-1zM24.5 37h1v1h-1zM37.5 37h1v1h-1zM46.5 37h2v1h-2zM7 38h1v1h-1zM13 38h1v1h-1zM16 38h1v1h-1zM35 38h1v1h-1zM39 38h1v1h-1zM42 38h1v1h-1zM32.5 39h1v1h-1zM45.5 39h1v1h-1zM8 40h1v1h-1zM32 40h1v1h-1zM34 40h1v1h-1zM38 40h1v1h-1zM22.5 41h2v1h-2zM35.5 41h1v1h-1zM49.5 41h1v1h-1zM4 42h1v1h-1zM26 42h1v1h-1zM34 42h1v1h-1zM48 42h1v1h-1zM16.5 43h2v1h-2zM19.5 43h1v1h-1zM26.5 43h1v1h-1zM36.5 43h1v1h-1zM13 44h1v1h-1zM20 44h2v1h-2zM1.5 45h1v1h-1zM14.5 45h1v1h-1zM28.5 45h1v1h-1zM33.5 45h2v1h-2zM49.5 45h1v1h-1zM10 46h1v1h-1zM20 46h1v1h-1zM26 46h1v1h-1zM36 46h2v1h-2zM49 46h1v1h-1zM3.5 47h1v1h-1zM32.5 47h1v1h-1zM36.5 47h1v1h-1zM20 48h1v1h-1zM22 48h1v1h-1zM26 48h1v1h-1zM31 48h1v1h-1zM6.5 49h1v1h-1zM9.5 49h1v1h-1zM13.5 49h1v1h-1zM32.5 49h1v1h-1zM36.5 49h1v1h-1zM4 50h1v1h-1zM21 50h1v1h-1zM34 50h1v1h-1zM45 50h1v1h-1zM48 50h1v1h-1zM3.5 51h1v1h-1zM24.5 51h2v1h-2zM35.5 51h1v1h-1zM38.5 51h1v1h-1zM44.5 51h1v1h-1zM19 52h1v1h-1zM24 52h2v1h-2zM33 52h1v1h-1zM35 52h2v1h-2zM43 52h1v1h-1zM6.5 53h1v1h-1zM8.5 53h1v1h-1zM18.5 53h1v1h-1zM28.5 53h1v1h-1zM37.5 53h1v1h-1zM40.5 53h2v1h-2zM44.5 53h1v1h-1zM47.5 53h1v1h-1zM20 54h1v1h-1zM31 54h1v1h-1zM33 54h1v1h-1zM37 54h1v1h-1zM43 54h1v1h-1zM49 54h1v1h-1z"/>
<path fill="#0c0c30" d="M8 0h1v1h-1zM11.5 1h1v1h-1zM17.5 1h1v1h-1zM3 2h1v1h-1zM8 2h1v1h-1zM12 2h1v1h-1zM19 2h1v1h-1zM18 4h1v1h-1zM20.5 5h1v1h-1zM9 6h1v1h-1zM44.5 7h1v1h-1zM3 8h1v1h-1zM37 8h1v1h-1zM44 8h1v1h-1zM45.5 9h2v1h-2zM3.5 11h1v1h-1zM23.5 11h1v1h-1zM31.5 11h1v1h-1zM33.5 11h1v1h-1zM8 12h1v1h-1zM10 12h1v1h-1zM21 12h1v1h-1zM36 12h1v1h-1zM47 12h1v1h-1zM2.5 13h1v1h-1zM9.5 13h1v1h-1zM15.5 13h1v1h-1zM21.5 13h1v1h-1zM23.5 13h1v1h-1zM28.5 13h2v1h-2zM4 14h1v1h-1zM9 14h1v1h-1zM22.5 15h1v1h-1zM24.5 15h1v1h-1zM35.5 15h1v1h-1zM5 16h1v1h-1zM11 16h1v1h-1zM26 16h1v1h-1zM46 16h1v1h-1zM34.5 17h1v1h-1zM9 18h1v1h-1zM27 18h1v1h-1zM32 18h1v1h-1zM22.5 19h1v1h-1zM32.5 19h1v1h-1zM43.5 19h1v1h-1zM48.5 19h1v1h-1zM27 20h1v1h-1zM29 20h1v1h-1zM35 20h1v1h-1zM40 20h1v1h-1zM15.5 21h1v1h-1zM45.5 21h1v1h-1zM16 22h2v1h-2zM37 22h1v1h-1zM47 22h1v1h-1zM46.5 23h1v1h-1zM44 24h1v1h-1zM17.5 25h1v1h-1zM28.5 25h1v1h-1zM17 26h1v1h-1zM17 28h1v1h-1zM28 28h1v1h-1zM44 28h1v1h-1zM48 28h1v1h-1zM25.5 29h1v1h-1zM16 30h1v1h-1zM18 30h1v1h-1zM37 30h1v1h-1zM42 30h1v1h-1zM47 30h1v1h-1zM15.5 31h1v1h-1zM25.5 31h1v1h-1zM37.5 31h1v1h-1zM41 32h1v1h-1zM44 32h1v1h-1zM15.5 33h1v1h-1zM39.5 33h1v1h-1zM24 34h1v1h-1zM2.5 35h1v1h-1zM24.5 35h1v1h-1zM43.5 35h1v1h-1zM47 36h1v1h-1zM11.5 37h2v1h-2zM48.5 37h1v1h-1zM22 38h1v1h-1zM3.5 39h1v1h-1zM18.5 39h1v1h-1zM30.5 39h1v1h-1zM42.5 39h1v1h-1zM7 40h1v1h-1zM34.5 41h1v1h-1zM22 42h1v1h-1zM37 42h1v1h-1zM18.5 43h1v1h-1zM30.5 43h1v1h-1zM44.5 43h1v1h-1zM49.5 43h1v1h-1zM19 44h1v1h-1zM26 44h1v1h-1zM9.5 45h2v1h-2zM31.5 45h1v1h-1zM4 46h1v1h-1zM13 46h1v1h-1zM28 46h2v1h-2zM34 46h1v1h-1zM38.5 47h1v1h-1zM44.5 47h1v1h-1zM11 48h1v1h-1zM34 48h1v1h-1zM38 48h1v1h-1zM5.5 49h1v1h-1zM25.5 49h1v1h-1zM28.5 49h1v1h-1zM43.5 49h1v1h-1zM5 50h1v1h-1zM7 50h1v1h-1zM37.5 51h1v1h-1zM43.5 51h1v1h-1zM46.5 51h1v1h-1zM22 52h1v1h-1zM29 52h1v1h-1zM49 52h1v1h-1zM14.5 53h1v1h-1zM25.5 53h2v1h-2zM34.5 53h1v1h-1zM39.5 53h1v1h-1zM45.5 53h1v1h-1zM15 54h1v1h-1zM27 54h1v1h-1zM45 54h1v1h-1z"/>
<path fill="#240c54" d="M9 0h1v1h-1zM13 0h1v1h-1zM15.5 1h1v1h-1zM18.5 1h1v1h-1zM10 2h2v1h-2zM4.5 3h1v1h-1zM12.5 3h1v1h-1zM13 4h2v1h-2zM16 4h1v1h-1zM37 4h1v1h-1zM7.5 5h1v1h-1zM18.5 5h1v1h-1zM35.5 5h1v1h-1zM5 6h1v1h-1zM6.5 7h1v1h-1zM16.5 7h1v1h-1zM18.5 7h4v1h-4zM31 8h1v1h-1zM5.5 9h2v1h-2zM21.5 9h1v1h-1zM33.5 9h1v1h-1zM41 10h1v1h-1zM4.5 11h1v1h-1zM12 12h1v1h-1zM14 12h1v1h-1zM29 12h1v1h-1zM42 12h1v1h-1zM12.5 13h1v1h-1zM40.5 13h1v1h-1zM6 14h1v1h-1zM13 14h1v1h-1zM37 14h1v1h-1zM14.5 15h1v1h-1zM15 16h1v1h-1zM43 16h1v1h-1zM4.5 17h1v1h-1zM29.5 17h1v1h-1zM7 18h1v1h-1zM18 18h1v1h-1zM23 18h1v1h-1zM23.5 19h1v1h-1zM42.5 19h1v1h-1zM47.5 19h1v1h-1zM45 20h1v1h-1zM13.5 21h1v1h-1zM16.5 21h1v1h-1zM21.5 21h1v1h-1zM39.5 21h2v1h-2zM14 22h1v1h-1zM24 22h1v1h-1zM49 22h1v1h-1zM16 24h1v1h-1zM25.5 25h1v1h-1zM44.5 25h1v1h-1zM18 26h1v1h-1zM43 26h1v1h-1zM16.5 27h1v1h-1zM23 28h1v1h-1zM41 28h1v1h-1zM45 28h1v1h-1zM14.5 29h1v1h-1zM46.5 29h1v1h-1zM43 30h1v1h-1zM11.5 31h1v1h-1zM13.5 31h2v1h-2zM39.5 31h2v1h-2zM14 32h1v1h-1zM26 32h1v1h-1zM39 32h1v1h-1zM7.5 33h1v1h-1zM40.5 33h1v1h-1zM45.5 33h1v1h-1zM7 34h1v1h-1zM42 34h1v1h-1zM19.5 35h2v1h-2zM38.5 37h1v1h-1zM42.5 37h2v1h-2zM45 38h1v1h-1zM40.5 39h1v1h-1zM44.5 39h1v1h-1zM11 40h1v1h-1zM22 40h1v1h-1zM25 40h1v1h-1zM39 40h1v1h-1zM48 40h1v1h-1zM41.5 41h3v1h-3zM5 42h1v1h-1zM44 42h1v1h-1zM47 42h1v1h-1zM47.5 43h1v1h-1zM2 44h1v1h-1zM11 44h1v1h-1zM37 44h1v1h-1zM48 44h1v1h-1zM7.5 45h1v1h-1zM36.5 45h1v1h-1zM3 48h1v1h-1zM8 48h1v1h-1zM30 48h1v1h-1zM44 48h1v1h-1zM48 48h1v1h-1zM27.5 49h1v1h-1zM33.5 49h1v1h-1zM40.5 49h1v1h-1zM42.5 49h1v1h-1zM26 50h2v1h-2zM29 50h1v1h-1zM15.5 51h2v1h-2zM22.5 51h1v1h-1zM26 52h1v1h-1zM12 54h1v1h-1zM21 54h1v1h-1z"/>
<path fill="#240c48" d="M10 0h2v1h-2zM3.5 1h1v1h-1zM9 2h1v1h-1zM3.5 3h1v1h-1zM8.5 3h1v1h-1zM34 4h1v1h-1zM5.5 5h1v1h-1zM19.5 5h1v1h-1zM4 6h1v1h-1zM39.5 7h1v1h-1zM44.5 9h1v1h-1zM3 10h1v1h-1zM12 10h1v1h-1zM28 10h1v1h-1zM21.5 11h1v1h-1zM38.5 11h1v1h-1zM43.5 11h1v1h-1zM3 12h2v1h-2zM23 12h1v1h-1zM13.5 13h1v1h-1zM27 14h1v1h-1zM40 14h1v1h-1zM21 16h1v1h-1zM22.5 17h1v1h-1zM47.5 17h1v1h-1zM3 18h1v1h-1zM22 18h1v1h-1zM24 18h1v1h-1zM36 18h1v1h-1zM3.5 19h1v1h-1zM13.5 19h1v1h-1zM15 20h1v1h-1zM43 20h1v1h-1zM11.5 21h1v1h-1zM46.5 21h1v1h-1zM15 22h1v1h-1zM40 22h1v1h-1zM39.5 23h1v1h-1zM36 24h1v1h-1zM40 24h1v1h-1zM18.5 25h1v1h-1zM42.5 25h1v1h-1zM42 26h1v1h-1zM45 26h1v1h-1zM38.5 27h1v1h-1zM42.5 27h1v1h-1zM3 28h1v1h-1zM15 28h1v1h-1zM13.5 29h1v1h-1zM43.5 29h1v1h-1zM45.5 29h1v1h-1zM14 30h1v1h-1zM21 30h1v1h-1zM43.5 31h1v1h-1zM19 32h1v1h-1zM2.5 33h1v1h-1zM11.5 33h1v1h-1zM13 34h1v1h-1zM38 34h1v1h-1zM46 34h1v1h-1zM47.5 35h1v1h-1zM20 36h1v1h-1zM46 36h1v1h-1zM6 38h1v1h-1zM46 38h1v1h-1zM49 38h1v1h-1zM43.5 39h1v1h-1zM48.5 39h1v1h-1zM21 40h1v1h-1zM42 40h1v1h-1zM45 40h3v1h-3zM47.5 41h1v1h-1zM3 42h1v1h-1zM34 44h1v1h-1zM26.5 45h1v1h-1zM11 46h1v1h-1zM45 46h1v1h-1zM48 46h1v1h-1zM7 48h1v1h-1zM13 48h1v1h-1zM37 48h1v1h-1zM41 48h1v1h-1zM46 48h1v1h-1zM23.5 49h1v1h-1zM48.5 49h1v1h-1zM32 50h1v1h-1zM21.5 51h1v1h-1zM8 52h1v1h-1zM23 52h1v1h-1zM32 52h1v1h-1zM42 52h1v1h-1zM14 54h1v1h-1zM30 54h1v1h-1zM35 54h1v1h-1z"/>
<path fill="#180c3c" d="M12 0h1v1h-1zM5.5 1h1v1h-1zM14.5 1h1v1h-1zM7 2h1v1h-1zM5.5 3h1v1h-1zM5 4h2v1h-2zM17 4h1v1h-1zM11.5 5h1v1h-1zM14.5 5h1v1h-1zM16.5 5h1v1h-1zM6 6h1v1h-1zM11 6h1v1h-1zM13 6h1v1h-1zM18 6h1v1h-1zM35 6h1v1h-1zM37 6h2v1h-2zM2.5 7h2v1h-2zM5.5 7h1v1h-1zM29.5 7h1v1h-1zM36.5 7h1v1h-1zM45.5 7h1v1h-1zM41 8h1v1h-1zM47 8h1v1h-1zM22.5 9h1v1h-1zM28.5 9h1v1h-1zM32.5 9h1v1h-1zM36.5 9h2v1h-2zM39.5 9h1v1h-1zM22 10h1v1h-1zM36 10h1v1h-1zM39 10h1v1h-1zM27.5 11h1v1h-1zM35.5 11h2v1h-2zM11 12h1v1h-1zM20 12h1v1h-1zM43 12h1v1h-1zM7.5 13h1v1h-1zM32.5 13h1v1h-1zM41.5 13h1v1h-1zM15 14h1v1h-1zM22 14h1v1h-1zM31 14h1v1h-1zM42 14h1v1h-1zM15.5 15h1v1h-1zM26.5 15h1v1h-1zM4 16h1v1h-1zM14 16h1v1h-1zM39 16h1v1h-1zM13.5 17h1v1h-1zM32.5 17h1v1h-1zM35.5 17h1v1h-1zM40.5 17h3v1h-3zM48.5 17h1v1h-1zM30 18h1v1h-1zM29.5 19h1v1h-1zM44.5 19h2v1h-2zM18 20h1v1h-1zM46 20h1v1h-1zM47.5 21h1v1h-1zM20 22h2v1h-2zM26 22h1v1h-1zM36 22h1v1h-1zM39 22h1v1h-1zM46 22h1v1h-1zM16.5 23h1v1h-1zM26.5 23h2v1h-2zM38.5 23h1v1h-1zM42.5 23h1v1h-1zM47.5 23h2v1h-2zM17 24h1v1h-1zM23 24h1v1h-1zM26 24h1v1h-1zM38 24h1v1h-1zM43 24h1v1h-1zM45 24h3v1h-3zM21.5 25h1v1h-1zM26.5 25h1v1h-1zM33.5 25h1v1h-1zM35.5 25h3v1h-3zM40.5 25h2v1h-2zM43.5 25h1v1h-1zM46.5 25h1v1h-1zM40 26h1v1h-1zM23.5 27h1v1h-1zM40.5 27h1v1h-1zM44.5 27h1v1h-1zM38 28h3v1h-3zM47 28h1v1h-1zM3.5 29h1v1h-1zM39.5 29h1v1h-1zM41.5 29h2v1h-2zM3 30h1v1h-1zM13 30h1v1h-1zM38 30h1v1h-1zM40 30h2v1h-2zM46 30h1v1h-1zM17.5 31h1v1h-1zM23.5 31h1v1h-1zM41.5 31h1v1h-1zM17 32h1v1h-1zM40 32h1v1h-1zM13.5 33h1v1h-1zM17.5 33h1v1h-1zM20.5 33h1v1h-1zM22.5 33h1v1h-1zM26.5 33h1v1h-1zM41.5 33h1v1h-1zM44.5 33h1v1h-1zM4 34h1v1h-1zM9 34h1v1h-1zM15 34h1v1h-1zM43 34h1v1h-1zM6.5 35h1v1h-1zM8.5 35h2v1h-2zM42.5 35h1v1h-1zM3 36h1v1h-1zM10 36h1v1h-1zM13 36h2v1h-2zM43 36h1v1h-1zM6.5 37h1v1h-1zM40.5 37h1v1h-1zM11 38h1v1h-1zM37 38h1v1h-1zM43 38h1v1h-1zM15.5 39h1v1h-1zM25.5 39h1v1h-1zM20 40h1v1h-1zM0.5 41h1v1h-1zM3.5 41h1v1h-1zM7.5 41h1v1h-1zM21.5 41h1v1h-1zM44.5 41h1v1h-1zM25 42h1v1h-1zM46 42h1v1h-1zM49 42h1v1h-1zM34.5 43h1v1h-1zM37.5 43h1v1h-1zM17 44h1v1h-1zM44 44h1v1h-1zM49 44h1v1h-1zM2.5 45h1v1h-1zM4.5 45h1v1h-1zM8 46h1v1h-1zM9.5 47h1v1h-1zM21.5 47h1v1h-1zM26.5 47h1v1h-1zM28.5 47h2v1h-2zM33.5 47h1v1h-1zM39.5 47h1v1h-1zM46.5 47h1v1h-1zM48.5 47h1v1h-1zM23 48h1v1h-1zM27 48h1v1h-1zM29 48h1v1h-1zM32 48h1v1h-1zM39 48h2v1h-2zM47 48h1v1h-1zM21.5 49h1v1h-1zM24.5 49h1v1h-1zM26.5 49h1v1h-1zM45.5 49h1v1h-1zM23 50h3v1h-3zM30 50h2v1h-2zM36 50h2v1h-2zM44 50h1v1h-1zM47 50h1v1h-1zM17.5 51h1v1h-1zM23.5 51h1v1h-1zM32.5 51h1v1h-1zM45.5 51h1v1h-1zM17 52h1v1h-1zM40 52h1v1h-1zM44 52h1v1h-1zM10.5 53h1v1h-1zM13.5 53h1v1h-1zM24.5 53h1v1h-1zM41 54h2v1h-2z"/>
<path fill="#000018" d="M16 0h1v1h-1zM20 2h1v1h-1zM20.5 3h1v1h-1zM36 4h1v1h-1zM19 6h1v1h-1zM43 6h1v1h-1zM29 8h1v1h-1zM38 8h1v1h-1zM40 8h1v1h-1zM43 8h1v1h-1zM34.5 9h1v1h-1zM38.5 9h1v1h-1zM40.5 9h1v1h-1zM42.5 9h1v1h-1zM23 10h1v1h-1zM31 10h2v1h-2zM22 12h1v1h-1zM32 12h1v1h-1zM24.5 13h1v1h-1zM35.5 13h1v1h-1zM24 14h1v1h-1zM44 14h1v1h-1zM6.5 15h2v1h-2zM9.5 15h1v1h-1zM23.5 15h1v1h-1zM32.5 15h1v1h-1zM46.5 15h2v1h-2zM3 16h1v1h-1zM22 16h1v1h-1zM30 16h2v1h-2zM40 16h2v1h-2zM5.5 17h2v1h-2zM26.5 17h1v1h-1zM28.5 17h1v1h-1zM25 18h1v1h-1zM27.5 19h2v1h-2zM31.5 19h1v1h-1zM34.5 19h1v1h-1zM34 20h1v1h-1zM36 20h1v1h-1zM47 20h1v1h-1zM37.5 21h1v1h-1zM29 22h1v1h-1zM45 22h1v1h-1zM29.5 23h2v1h-2zM27 24h1v1h-1zM31 24h1v1h-1zM33 24h1v1h-1zM35 24h1v1h-1zM48 24h1v1h-1zM16.5 25h1v1h-1zM24.5 25h1v1h-1zM32.5 25h1v1h-1zM38.5 25h1v1h-1zM21 26h1v1h-1zM37 26h1v1h-1zM17.5 27h2v1h-2zM21.5 27h2v1h-2zM26.5 27h1v1h-1zM34.5 27h1v1h-1zM36.5 27h1v1h-1zM26 28h1v1h-1zM31 28h1v1h-1zM36 28h1v1h-1zM21.5 29h1v1h-1zM36.5 29h1v1h-1zM24 30h1v1h-1zM36 30h1v1h-1zM48 30h1v1h-1zM19.5 31h1v1h-1zM30.5 31h1v1h-1zM45.5 31h1v1h-1zM15 32h2v1h-2zM34 32h1v1h-1zM42 32h1v1h-1zM23.5 33h1v1h-1zM37.5 33h2v1h-2zM46.5 33h1v1h-1zM25 34h1v1h-1zM34.5 35h1v1h-1zM37.5 35h1v1h-1zM6 36h1v1h-1zM12 36h1v1h-1zM15 36h1v1h-1zM17 36h1v1h-1zM36 36h2v1h-2zM14.5 37h1v1h-1zM16.5 37h1v1h-1zM27.5 37h1v1h-1zM29.5 37h1v1h-1zM36.5 37h1v1h-1zM44.5 37h2v1h-2zM4 38h1v1h-1zM9 38h1v1h-1zM27 38h1v1h-1zM47 38h1v1h-1zM0.5 39h1v1h-1zM7.5 39h1v1h-1zM13.5 39h1v1h-1zM16.5 39h1v1h-1zM33.5 39h1v1h-1zM46.5 39h2v1h-2zM1 40h1v1h-1zM9 40h1v1h-1zM15 40h1v1h-1zM27 40h1v1h-1zM35 40h1v1h-1zM37 40h1v1h-1zM2.5 41h1v1h-1zM4.5 41h1v1h-1zM6.5 41h1v1h-1zM9.5 41h1v1h-1zM36.5 41h1v1h-1zM9 42h1v1h-1zM14 42h1v1h-1zM21 42h1v1h-1zM23 42h1v1h-1zM30 42h1v1h-1zM33 42h1v1h-1zM36 42h1v1h-1zM2.5 43h1v1h-1zM21.5 43h1v1h-1zM23.5 43h1v1h-1zM25.5 43h1v1h-1zM1 44h1v1h-1zM8 44h1v1h-1zM15 44h1v1h-1zM23 44h1v1h-1zM20.5 45h1v1h-1zM25.5 45h1v1h-1zM21 46h2v1h-2zM30 46h1v1h-1zM33 46h1v1h-1zM19.5 47h1v1h-1zM23.5 47h1v1h-1zM37.5 47h1v1h-1zM14 48h1v1h-1zM33 48h1v1h-1zM18.5 49h1v1h-1zM2 50h1v1h-1zM10 50h1v1h-1zM35 50h1v1h-1zM38 50h1v1h-1zM9.5 51h1v1h-1zM20.5 51h1v1h-1zM26.5 51h1v1h-1zM28.5 51h1v1h-1zM47.5 51h1v1h-1zM3 52h2v1h-2zM20 52h2v1h-2zM46 52h1v1h-1zM5.5 53h1v1h-1zM19.5 53h1v1h-1zM27.5 53h1v1h-1zM32.5 53h1v1h-1zM38.5 53h1v1h-1zM11 54h1v1h-1zM28 54h2v1h-2zM34 54h1v1h-1zM38 54h2v1h-2zM44 54h1v1h-1zM46 54h1v1h-1z"/>
<path fill="#00000c" d="M4.5 1h1v1h-1zM6.5 1h1v1h-1zM8.5 1h1v1h-1zM16.5 1h1v1h-1zM37.5 5h1v1h-1zM44 6h1v1h-1zM35.5 7h1v1h-1zM42.5 7h1v1h-1zM46.5 7h1v1h-1zM46 8h1v1h-1zM29 10h2v1h-2zM46 10h1v1h-1zM22.5 11h1v1h-1zM27 12h1v1h-1zM31 12h1v1h-1zM33 12h1v1h-1zM33.5 13h2v1h-2zM37.5 13h1v1h-1zM5 14h1v1h-1zM26 14h1v1h-1zM32 14h1v1h-1zM41 14h1v1h-1zM47 14h1v1h-1zM8.5 15h1v1h-1zM31.5 15h1v1h-1zM33.5 15h1v1h-1zM43.5 15h1v1h-1zM8 16h3v1h-3zM32 16h1v1h-1zM42 16h1v1h-1zM48 16h1v1h-1zM2.5 17h1v1h-1zM25.5 17h1v1h-1zM27.5 17h1v1h-1zM30.5 17h1v1h-1zM34 18h1v1h-1zM31 20h3v1h-3zM31.5 21h2v1h-2zM35.5 21h1v1h-1zM18 22h1v1h-1zM34 22h1v1h-1zM19.5 23h1v1h-1zM31.5 23h1v1h-1zM21 24h1v1h-1zM32 24h1v1h-1zM34 24h1v1h-1zM37 24h1v1h-1zM42 24h1v1h-1zM27 26h2v1h-2zM31 26h1v1h-1zM35 26h1v1h-1zM47 26h1v1h-1zM27.5 27h1v1h-1zM31.5 27h3v1h-3zM39.5 27h1v1h-1zM45.5 27h2v1h-2zM18 28h1v1h-1zM35 28h1v1h-1zM18.5 29h1v1h-1zM28.5 29h2v1h-2zM32.5 29h1v1h-1zM35.5 29h1v1h-1zM37.5 29h2v1h-2zM47.5 29h1v1h-1zM17 30h1v1h-1zM23 30h1v1h-1zM26 30h1v1h-1zM30 30h2v1h-2zM26.5 31h2v1h-2zM31.5 31h1v1h-1zM34.5 31h1v1h-1zM44.5 31h1v1h-1zM29 32h1v1h-1zM36 32h2v1h-2zM46 32h2v1h-2zM34.5 33h1v1h-1zM16 34h1v1h-1zM3.5 35h1v1h-1zM14.5 35h1v1h-1zM16.5 35h1v1h-1zM21.5 35h1v1h-1zM35.5 35h1v1h-1zM21 36h2v1h-2zM24 36h1v1h-1zM27 36h1v1h-1zM33 36h1v1h-1zM4.5 37h1v1h-1zM20.5 37h1v1h-1zM5 38h1v1h-1zM23 38h1v1h-1zM25 38h2v1h-2zM34 38h1v1h-1zM41 38h1v1h-1zM8.5 39h1v1h-1zM17.5 39h1v1h-1zM21.5 39h1v1h-1zM34.5 39h1v1h-1zM2 40h1v1h-1zM6 40h1v1h-1zM26 40h1v1h-1zM33 40h1v1h-1zM1.5 41h1v1h-1zM5.5 41h1v1h-1zM16.5 41h1v1h-1zM27.5 41h1v1h-1zM31.5 41h1v1h-1zM33.5 41h1v1h-1zM2 42h1v1h-1zM19 42h1v1h-1zM24 42h1v1h-1zM27 42h1v1h-1zM24.5 43h1v1h-1zM28.5 43h2v1h-2zM31.5 43h1v1h-1zM33.5 43h1v1h-1zM35.5 43h1v1h-1zM7 44h1v1h-1zM14 44h1v1h-1zM22 44h1v1h-1zM27 44h3v1h-3zM32 44h1v1h-1zM35 44h1v1h-1zM13.5 45h1v1h-1zM19.5 45h1v1h-1zM21.5 45h3v1h-3zM27.5 45h1v1h-1zM29.5 45h2v1h-2zM3 46h1v1h-1zM23 46h1v1h-1zM27 46h1v1h-1zM35 46h1v1h-1zM17.5 47h1v1h-1zM22.5 47h1v1h-1zM31.5 47h1v1h-1zM35.5 47h1v1h-1zM19 48h1v1h-1zM21 48h1v1h-1zM28 48h1v1h-1zM3.5 49h2v1h-2zM15.5 49h1v1h-1zM44.5 49h1v1h-1zM3 50h1v1h-1zM9 50h1v1h-1zM18 50h1v1h-1zM49 50h1v1h-1zM4.5 51h1v1h-1zM6.5 51h1v1h-1zM19.5 51h1v1h-1zM6 52h1v1h-1zM10 52h1v1h-1zM18 52h1v1h-1zM34 52h1v1h-1zM37 52h1v1h-1zM45 52h1v1h-1zM7.5 53h1v1h-1zM15.5 53h1v1h-1zM29.5 53h1v1h-1zM36.5 53h1v1h-1zM46.5 53h1v1h-1zM16 54h2v1h-2zM26 54h1v1h-1zM32 54h1v1h-1zM36 54h1v1h-1z"/>
<path fill="#3c0c60" d="M9.5 1h1v1h-1zM16 2h1v1h-1zM15 4h1v1h-1zM6.5 5h1v1h-1zM12.5 5h1v1h-1zM15.5 5h1v1h-1zM33.5 5h1v1h-1zM10 6h1v1h-1zM15 6h1v1h-1zM36 6h1v1h-1zM4.5 7h1v1h-1zM7.5 7h1v1h-1zM10.5 7h1v1h-1zM14.5 7h1v1h-1zM30.5 7h2v1h-2zM34.5 7h1v1h-1zM13 8h1v1h-1zM16 8h1v1h-1zM21 8h1v1h-1zM33 8h1v1h-1zM12.5 9h1v1h-1zM4 10h1v1h-1zM6 10h1v1h-1zM40 10h1v1h-1zM9.5 11h3v1h-3zM13.5 11h1v1h-1zM7 12h1v1h-1zM15 12h1v1h-1zM16 14h1v1h-1zM20.5 15h1v1h-1zM24 16h2v1h-2zM36 16h1v1h-1zM17.5 17h1v1h-1zM38.5 17h1v1h-1zM12 18h1v1h-1zM42 18h1v1h-1zM45 18h1v1h-1zM38.5 19h1v1h-1zM14.5 21h1v1h-1zM41.5 21h1v1h-1zM22 22h1v1h-1zM42 22h1v1h-1zM14.5 23h1v1h-1zM49.5 23h1v1h-1zM15 24h1v1h-1zM41 24h1v1h-1zM19.5 25h1v1h-1zM19.5 27h1v1h-1zM5.5 29h1v1h-1zM12.5 29h1v1h-1zM4 30h1v1h-1zM46.5 31h1v1h-1zM9.5 33h2v1h-2zM8 34h1v1h-1zM41 34h1v1h-1zM39 36h1v1h-1zM42 36h1v1h-1zM12.5 39h1v1h-1zM13.5 41h1v1h-1zM40.5 41h1v1h-1zM42.5 43h1v1h-1zM5 44h1v1h-1zM12.5 45h1v1h-1zM43 46h1v1h-1zM2 48h1v1h-1zM11.5 49h1v1h-1zM29.5 49h1v1h-1zM46 50h1v1h-1zM30.5 51h1v1h-1zM39.5 51h1v1h-1z"/>
<path fill="#480c6c" d="M10.5 1h1v1h-1zM14.5 3h2v1h-2zM4 4h1v1h-1zM7 4h1v1h-1zM11 4h2v1h-2zM4.5 5h1v1h-1zM10.5 5h1v1h-1zM34.5 5h1v1h-1zM16 6h1v1h-1zM13.5 7h1v1h-1zM22.5 7h1v1h-1zM7 8h1v1h-1zM20 8h1v1h-1zM22 8h2v1h-2zM19.5 9h2v1h-2zM13 10h1v1h-1zM43 10h1v1h-1zM8.5 11h1v1h-1zM45.5 11h1v1h-1zM16 12h1v1h-1zM38 12h1v1h-1zM10.5 13h1v1h-1zM16.5 15h1v1h-1zM37.5 15h2v1h-2zM15 18h2v1h-2zM21 18h1v1h-1zM4.5 19h1v1h-1zM7.5 19h1v1h-1zM24.5 19h1v1h-1zM37.5 19h1v1h-1zM40.5 19h1v1h-1zM10 20h1v1h-1zM12 20h1v1h-1zM17 20h1v1h-1zM39 20h1v1h-1zM23.5 21h1v1h-1zM38.5 21h1v1h-1zM27 22h1v1h-1zM24 24h1v1h-1zM16 26h1v1h-1zM19 26h1v1h-1zM14.5 27h1v1h-1zM20.5 27h1v1h-1zM13 28h2v1h-2zM5 30h1v1h-1zM3 32h1v1h-1zM8 32h2v1h-2zM5.5 33h1v1h-1zM12.5 33h1v1h-1zM39 34h1v1h-1zM38.5 35h1v1h-1zM45.5 35h1v1h-1zM41 36h1v1h-1zM45 36h1v1h-1zM37.5 39h1v1h-1zM13 40h1v1h-1zM44 40h1v1h-1zM24.5 41h2v1h-2zM0.5 43h1v1h-1zM4.5 43h1v1h-1zM6.5 43h1v1h-1zM46.5 43h1v1h-1zM5.5 45h1v1h-1zM6 46h1v1h-1zM12 46h1v1h-1zM38 46h1v1h-1zM47 46h1v1h-1zM1.5 47h1v1h-1zM25.5 47h1v1h-1zM4 48h1v1h-1zM10 48h1v1h-1zM41.5 49h1v1h-1zM14.5 51h1v1h-1zM11.5 53h1v1h-1zM23.5 53h1v1h-1zM24 54h1v1h-1z"/>
<path fill="#300c60" d="M12.5 1h1v1h-1zM14 2h1v1h-1zM9.5 3h1v1h-1zM17.5 3h1v1h-1zM3 4h1v1h-1zM30 4h1v1h-1zM9.5 5h1v1h-1zM13.5 5h1v1h-1zM3 6h1v1h-1zM8 6h1v1h-1zM12 6h1v1h-1zM8.5 7h1v1h-1zM12.5 7h1v1h-1zM5 8h2v1h-2zM17 8h2v1h-2zM2.5 9h1v1h-1zM14.5 9h1v1h-1zM41.5 9h1v1h-1zM15 10h1v1h-1zM21 10h1v1h-1zM45 10h1v1h-1zM6.5 11h1v1h-1zM14.5 11h2v1h-2zM28.5 11h1v1h-1zM42.5 11h1v1h-1zM13 12h1v1h-1zM4.5 13h1v1h-1zM38.5 13h1v1h-1zM21 14h1v1h-1zM36 14h1v1h-1zM40.5 15h1v1h-1zM13 16h1v1h-1zM17 16h1v1h-1zM23 16h1v1h-1zM47 16h1v1h-1zM11.5 17h1v1h-1zM15.5 17h2v1h-2zM24.5 17h1v1h-1zM43.5 17h1v1h-1zM6 18h1v1h-1zM13 18h2v1h-2zM37 18h1v1h-1zM44 18h1v1h-1zM46 18h1v1h-1zM8.5 19h2v1h-2zM12.5 19h1v1h-1zM15.5 19h1v1h-1zM18.5 19h1v1h-1zM21.5 19h1v1h-1zM11 20h1v1h-1zM14 20h1v1h-1zM26 20h1v1h-1zM22.5 21h1v1h-1zM44.5 21h1v1h-1zM49.5 21h1v1h-1zM13 22h1v1h-1zM41 22h1v1h-1zM44 22h1v1h-1zM23.5 23h1v1h-1zM43.5 23h1v1h-1zM18 24h1v1h-1zM20.5 25h1v1h-1zM4.5 27h1v1h-1zM19 28h1v1h-1zM46 28h1v1h-1zM4.5 29h1v1h-1zM11.5 29h1v1h-1zM44 30h1v1h-1zM2.5 31h2v1h-2zM22.5 31h1v1h-1zM38 32h1v1h-1zM4.5 33h1v1h-1zM21.5 33h1v1h-1zM6 34h1v1h-1zM44 34h1v1h-1zM47 34h1v1h-1zM7.5 35h1v1h-1zM22.5 39h2v1h-2zM23 40h1v1h-1zM41 40h1v1h-1zM8.5 41h1v1h-1zM26.5 41h1v1h-1zM0 42h1v1h-1zM7 42h1v1h-1zM11 42h1v1h-1zM42 42h2v1h-2zM10.5 43h1v1h-1zM43.5 43h1v1h-1zM3 44h1v1h-1zM6 44h1v1h-1zM25 46h1v1h-1zM44 46h1v1h-1zM46 46h1v1h-1zM4.5 47h1v1h-1zM7.5 47h1v1h-1zM24.5 47h1v1h-1zM24 48h1v1h-1zM30.5 49h1v1h-1zM47.5 49h1v1h-1zM28 50h1v1h-1zM33 50h1v1h-1zM39 50h1v1h-1zM10.5 51h1v1h-1zM14 52h2v1h-2zM39 52h1v1h-1zM25 54h1v1h-1z"/>
<path fill="#180c48" d="M6 2h1v1h-1zM13 2h1v1h-1zM8 4h1v1h-1zM21 6h1v1h-1zM14 8h1v1h-1zM34 8h1v1h-1zM43.5 9h1v1h-1zM14 10h1v1h-1zM5.5 11h1v1h-1zM20.5 13h1v1h-1zM27.5 15h1v1h-1zM34.5 15h1v1h-1zM45.5 15h1v1h-1zM33 16h1v1h-1zM23.5 17h1v1h-1zM4 18h1v1h-1zM11 18h1v1h-1zM48 18h1v1h-1zM38 20h1v1h-1zM49 20h1v1h-1zM28 22h1v1h-1zM38 22h1v1h-1zM48 22h1v1h-1zM15.5 23h1v1h-1zM17.5 23h1v1h-1zM41.5 23h1v1h-1zM45.5 23h1v1h-1zM24.5 27h1v1h-1zM41.5 27h1v1h-1zM16 28h1v1h-1zM24 28h1v1h-1zM16.5 29h1v1h-1zM23.5 29h1v1h-1zM20 30h1v1h-1zM16.5 31h1v1h-1zM18.5 31h1v1h-1zM12 34h1v1h-1zM10.5 35h1v1h-1zM7 36h1v1h-1zM11 36h1v1h-1zM44 36h1v1h-1zM44 38h1v1h-1zM20.5 39h1v1h-1zM39.5 39h1v1h-1zM41.5 39h1v1h-1zM38.5 41h1v1h-1zM45.5 41h2v1h-2zM6 42h1v1h-1zM7.5 43h1v1h-1zM41.5 43h1v1h-1zM16 44h1v1h-1zM3.5 45h1v1h-1zM48.5 45h1v1h-1zM24 46h1v1h-1zM14 50h1v1h-1zM22 50h1v1h-1zM43 50h1v1h-1zM27.5 51h1v1h-1zM29.5 51h1v1h-1zM13 54h1v1h-1zM47 54h1v1h-1z"/>
<path fill="#60186c" d="M15 2h1v1h-1zM11.5 3h1v1h-1zM3.5 5h1v1h-1zM34 6h1v1h-1zM11.5 7h1v1h-1zM33.5 7h1v1h-1zM12 8h1v1h-1zM7.5 9h1v1h-1zM17.5 9h1v1h-1zM11 10h1v1h-1zM20 10h1v1h-1zM44 10h1v1h-1zM44.5 11h1v1h-1zM5 12h2v1h-2zM18 12h2v1h-2zM44 16h2v1h-2zM36.5 17h1v1h-1zM38 18h1v1h-1zM41 18h1v1h-1zM25.5 19h1v1h-1zM39.5 19h1v1h-1zM23 20h1v1h-1zM3.5 21h1v1h-1zM19.5 21h1v1h-1zM42.5 21h1v1h-1zM12 22h1v1h-1zM14 24h1v1h-1zM49 24h1v1h-1zM20 26h1v1h-1zM6.5 29h1v1h-1zM10.5 31h1v1h-1zM7 32h1v1h-1zM21 32h2v1h-2zM24 40h1v1h-1zM12.5 41h1v1h-1zM39.5 41h1v1h-1zM11.5 43h1v1h-1zM40.5 43h1v1h-1zM45.5 43h1v1h-1zM12 44h1v1h-1zM44.5 45h1v1h-1zM41 52h1v1h-1z"/>
<path fill="#3c0c6c" d="M17 2h1v1h-1zM10 4h1v1h-1zM8.5 5h1v1h-1zM17.5 5h1v1h-1zM17 6h1v1h-1zM9.5 7h1v1h-1zM9 8h1v1h-1zM15 8h1v1h-1zM19 8h1v1h-1zM4.5 9h1v1h-1zM7 10h1v1h-1zM12.5 11h1v1h-1zM20.5 11h1v1h-1zM41.5 11h1v1h-1zM5.5 13h1v1h-1zM14.5 13h1v1h-1zM39.5 13h1v1h-1zM38 14h1v1h-1zM38 16h1v1h-1zM14.5 17h1v1h-1zM21.5 17h1v1h-1zM46.5 17h1v1h-1zM47 18h1v1h-1zM46.5 19h1v1h-1zM13 20h1v1h-1zM24 20h1v1h-1zM25.5 21h1v1h-1zM19 24h1v1h-1zM6 28h1v1h-1zM22.5 29h1v1h-1zM12.5 31h1v1h-1zM13 32h1v1h-1zM20 32h1v1h-1zM6.5 33h1v1h-1zM44.5 35h1v1h-1zM41.5 37h1v1h-1zM40 40h1v1h-1zM41 42h1v1h-1zM3.5 43h1v1h-1zM5.5 43h1v1h-1zM4 44h1v1h-1zM43 44h1v1h-1zM37.5 45h1v1h-1zM7 46h1v1h-1zM8.5 47h1v1h-1zM12.5 47h1v1h-1zM6 48h1v1h-1zM46.5 49h1v1h-1zM16 52h1v1h-1z"/>
<path fill="#180c30" d="M18 2h1v1h-1zM7.5 3h1v1h-1zM31 4h3v1h-3zM20 6h1v1h-1zM38.5 7h1v1h-1zM30 8h1v1h-1zM23.5 9h1v1h-1zM31.5 9h1v1h-1zM2.5 11h1v1h-1zM45 12h1v1h-1zM11.5 13h1v1h-1zM36.5 13h1v1h-1zM43.5 13h1v1h-1zM45 14h1v1h-1zM36.5 15h1v1h-1zM41.5 15h1v1h-1zM27 16h1v1h-1zM3.5 17h1v1h-1zM29 18h1v1h-1zM33 18h1v1h-1zM2.5 19h1v1h-1zM37 20h1v1h-1zM42 20h1v1h-1zM2.5 21h1v1h-1zM18.5 21h1v1h-1zM31 22h1v1h-1zM36.5 23h2v1h-2zM44.5 23h1v1h-1zM22 24h1v1h-1zM25 24h1v1h-1zM44 26h1v1h-1zM43.5 27h1v1h-1zM2.5 29h1v1h-1zM17.5 29h1v1h-1zM44.5 29h1v1h-1zM43 32h1v1h-1zM14.5 33h1v1h-1zM14 34h1v1h-1zM20 34h1v1h-1zM12.5 35h1v1h-1zM5 36h1v1h-1zM21.5 37h1v1h-1zM39.5 37h1v1h-1zM3 38h1v1h-1zM48 38h1v1h-1zM1.5 39h1v1h-1zM10.5 39h1v1h-1zM14.5 39h1v1h-1zM38.5 39h1v1h-1zM30 40h1v1h-1zM43 40h1v1h-1zM48.5 41h1v1h-1zM1 42h1v1h-1zM8 42h1v1h-1zM20 42h1v1h-1zM29 42h1v1h-1zM31 42h1v1h-1zM1.5 43h1v1h-1zM9.5 43h1v1h-1zM25 44h1v1h-1zM15.5 45h2v1h-2zM31 46h1v1h-1zM47.5 47h1v1h-1zM45 48h1v1h-1zM49 48h1v1h-1zM7.5 49h2v1h-2zM10.5 49h1v1h-1zM34.5 49h1v1h-1zM37.5 49h1v1h-1zM5.5 51h1v1h-1zM31.5 51h1v1h-1zM28 52h1v1h-1zM48 52h1v1h-1zM9.5 53h1v1h-1zM30.5 53h1v1h-1zM48.5 53h1v1h-1zM9 54h2v1h-2zM40 54h1v1h-1z"/>
<path fill="#300c54" d="M6.5 3h1v1h-1zM10.5 3h1v1h-1zM19 4h1v1h-1zM7 6h1v1h-1zM4 8h1v1h-1zM8 8h1v1h-1zM13.5 9h1v1h-1zM16 16h1v1h-1zM5 18h1v1h-1zM17.5 19h1v1h-1zM3 20h1v1h-1zM41 20h1v1h-1zM12.5 21h1v1h-1zM28.5 21h1v1h-1zM24.5 23h1v1h-1zM39 24h1v1h-1zM24 26h1v1h-1zM41 26h1v1h-1zM15.5 27h1v1h-1zM20 28h1v1h-1zM12 30h1v1h-1zM22 30h1v1h-1zM45 30h1v1h-1zM12 32h1v1h-1zM5 34h1v1h-1zM40 38h1v1h-1zM14 40h1v1h-1zM13 42h1v1h-1zM38 42h1v1h-1zM45 42h1v1h-1zM48.5 43h1v1h-1zM0 44h1v1h-1zM6.5 45h1v1h-1zM35.5 45h1v1h-1zM10.5 47h1v1h-1zM43.5 47h1v1h-1zM9 48h1v1h-1zM43 48h1v1h-1zM35.5 49h1v1h-1zM38.5 49h1v1h-1zM31 52h1v1h-1zM22.5 53h1v1h-1z"/>
<path fill="#540c6c" d="M16.5 3h1v1h-1zM9 4h1v1h-1zM32.5 5h1v1h-1zM14 6h1v1h-1zM15.5 7h1v1h-1zM17.5 7h1v1h-1zM32.5 7h1v1h-1zM10 8h1v1h-1zM15.5 9h2v1h-2zM18.5 9h1v1h-1zM5 10h1v1h-1zM16 10h1v1h-1zM7.5 11h1v1h-1zM16.5 11h1v1h-1zM18.5 11h1v1h-1zM40 12h1v1h-1zM16.5 13h1v1h-1zM12.5 17h1v1h-1zM45.5 17h1v1h-1zM39 18h2v1h-2zM14.5 19h1v1h-1zM41.5 19h1v1h-1zM4 20h1v1h-1zM16 20h1v1h-1zM19 20h1v1h-1zM25 20h1v1h-1zM10.5 21h1v1h-1zM24.5 21h1v1h-1zM27.5 21h1v1h-1zM3 22h1v1h-1zM23 22h1v1h-1zM43 22h1v1h-1zM2.5 23h1v1h-1zM13.5 23h1v1h-1zM2.5 25h1v1h-1zM3.5 27h1v1h-1zM5.5 27h2v1h-2zM5 28h1v1h-1zM7 28h1v1h-1zM43 28h1v1h-1zM4.5 31h1v1h-1zM9.5 31h1v1h-1zM20.5 31h1v1h-1zM10 32h1v1h-1zM3.5 33h1v1h-1zM10 34h2v1h-2zM46.5 35h1v1h-1zM12 38h1v1h-1zM24.5 39h1v1h-1zM49 40h1v1h-1zM12 42h1v1h-1zM12.5 43h1v1h-1zM43.5 45h1v1h-1zM5 46h1v1h-1zM39 46h1v1h-1zM5 48h1v1h-1zM12 48h1v1h-1zM42 48h1v1h-1zM2.5 49h1v1h-1zM39.5 49h1v1h-1zM11 50h1v1h-1zM40 50h1v1h-1zM8 54h1v1h-1zM22 54h1v1h-1z"/>
<path fill="#000000" d="M35 4h1v1h-1zM36.5 5h1v1h-1zM38.5 5h2v1h-2zM39 6h1v1h-1zM41 6h1v1h-1zM36 8h1v1h-1zM29.5 9h1v1h-1zM35.5 9h1v1h-1zM47 10h1v1h-1zM32.5 11h1v1h-1zM34.5 11h1v1h-1zM30 12h1v1h-1zM34 12h1v1h-1zM37 12h1v1h-1zM46 12h1v1h-1zM30.5 13h2v1h-2zM8 14h1v1h-1zM12 14h1v1h-1zM29 14h2v1h-2zM46 14h1v1h-1zM4.5 15h2v1h-2zM28.5 15h1v1h-1zM44.5 15h1v1h-1zM6 16h2v1h-2zM29 16h1v1h-1zM34 16h1v1h-1zM7.5 17h1v1h-1zM31.5 17h1v1h-1zM10 18h1v1h-1zM26 18h1v1h-1zM31 18h1v1h-1zM49 18h1v1h-1zM33.5 19h1v1h-1zM35.5 19h2v1h-2zM30 22h1v1h-1zM32 22h2v1h-2zM35 22h1v1h-1zM18.5 23h1v1h-1zM32.5 23h2v1h-2zM28 24h1v1h-1zM30 24h1v1h-1zM22.5 25h2v1h-2zM27.5 25h1v1h-1zM29.5 25h3v1h-3zM22 26h1v1h-1zM29 26h2v1h-2zM46 26h1v1h-1zM29.5 27h2v1h-2zM35.5 27h1v1h-1zM47.5 27h1v1h-1zM25 28h1v1h-1zM27 28h1v1h-1zM29 28h2v1h-2zM32 28h3v1h-3zM19.5 29h1v1h-1zM24.5 29h1v1h-1zM26.5 29h2v1h-2zM30.5 29h2v1h-2zM33.5 29h2v1h-2zM40.5 29h1v1h-1zM25 30h1v1h-1zM28 30h2v1h-2zM32 30h4v1h-4zM39 30h1v1h-1zM24.5 31h1v1h-1zM28.5 31h2v1h-2zM32.5 31h2v1h-2zM35.5 31h2v1h-2zM24 32h1v1h-1zM27 32h2v1h-2zM32 32h2v1h-2zM35 32h1v1h-1zM45 32h1v1h-1zM18.5 33h1v1h-1zM24.5 33h1v1h-1zM27.5 33h7v1h-7zM35.5 33h2v1h-2zM17 34h1v1h-1zM19 34h1v1h-1zM21 34h2v1h-2zM26 34h11v1h-11zM15.5 35h1v1h-1zM22.5 35h2v1h-2zM25.5 35h2v1h-2zM28.5 35h6v1h-6zM36.5 35h1v1h-1zM16 36h1v1h-1zM26 36h1v1h-1zM28 36h5v1h-5zM34 36h1v1h-1zM2.5 37h1v1h-1zM7.5 37h1v1h-1zM17.5 37h2v1h-2zM22.5 37h2v1h-2zM25.5 37h2v1h-2zM28.5 37h1v1h-1zM30.5 37h6v1h-6zM8 38h1v1h-1zM14 38h2v1h-2zM17 38h4v1h-4zM24 38h1v1h-1zM28 38h6v1h-6zM36 38h1v1h-1zM2.5 39h1v1h-1zM4.5 39h1v1h-1zM6.5 39h1v1h-1zM9.5 39h1v1h-1zM19.5 39h1v1h-1zM26.5 39h4v1h-4zM31.5 39h1v1h-1zM35.5 39h1v1h-1zM0 40h1v1h-1zM3 40h3v1h-3zM16 40h4v1h-4zM28 40h2v1h-2zM10.5 41h1v1h-1zM14.5 41h2v1h-2zM17.5 41h4v1h-4zM28.5 41h3v1h-3zM32.5 41h1v1h-1zM37.5 41h1v1h-1zM10 42h1v1h-1zM15 42h4v1h-4zM28 42h1v1h-1zM32 42h1v1h-1zM14.5 43h2v1h-2zM20.5 43h1v1h-1zM22.5 43h1v1h-1zM27.5 43h1v1h-1zM32.5 43h1v1h-1zM9 44h2v1h-2zM18 44h1v1h-1zM30 44h1v1h-1zM33 44h1v1h-1zM36 44h1v1h-1zM17.5 45h2v1h-2zM14 46h6v1h-6zM32 46h1v1h-1zM13.5 47h4v1h-4zM18.5 47h1v1h-1zM20.5 47h1v1h-1zM27.5 47h1v1h-1zM34.5 47h1v1h-1zM45.5 47h1v1h-1zM15 48h4v1h-4zM35 48h1v1h-1zM14.5 49h1v1h-1zM16.5 49h2v1h-2zM19.5 49h1v1h-1zM15 50h3v1h-3zM19 50h2v1h-2zM7.5 51h2v1h-2zM18.5 51h1v1h-1zM34.5 51h1v1h-1zM48.5 51h1v1h-1zM7 52h1v1h-1zM38 52h1v1h-1zM17.5 53h1v1h-1zM20.5 53h1v1h-1zM31.5 53h1v1h-1zM33.5 53h1v1h-1zM43.5 53h1v1h-1zM18 54h1v1h-1zM48 54h1v1h-1z"/>
<path fill="#90246c" d="M30.5 5h1v1h-1zM5 20h1v1h-1zM4 22h1v1h-1zM10 22h1v1h-1zM3 24h1v1h-1zM4.5 25h1v1h-1zM3 26h1v1h-1zM9.5 29h2v1h-2zM9 30h1v1h-1zM5 32h1v1h-1zM39 42h1v1h-1zM38.5 45h1v1h-1zM13.5 51h1v1h-1z"/>
<path fill="#84246c" d="M31.5 5h1v1h-1zM8.5 9h1v1h-1zM10.5 9h2v1h-2zM17 10h2v1h-2zM17 12h1v1h-1zM18.5 13h1v1h-1zM37 16h1v1h-1zM20.5 19h1v1h-1zM21 20h1v1h-1zM20.5 21h1v1h-1zM3.5 23h1v1h-1zM3.5 25h1v1h-1zM15.5 25h1v1h-1zM14 26h1v1h-1zM13.5 27h1v1h-1zM8 28h1v1h-1zM6 30h1v1h-1zM10 30h1v1h-1zM5.5 31h2v1h-2zM6 32h1v1h-1zM47.5 45h1v1h-1zM41 50h1v1h-1z"/>
<path fill="#78186c" d="M30 6h1v1h-1zM33 6h1v1h-1zM11 8h1v1h-1zM9.5 9h1v1h-1zM9 10h2v1h-2zM19 10h1v1h-1zM39.5 11h1v1h-1zM39 12h1v1h-1zM20 14h1v1h-1zM39 14h1v1h-1zM17.5 15h1v1h-1zM37.5 17h1v1h-1zM8 20h1v1h-1zM11 22h1v1h-1zM12.5 23h1v1h-1zM14.5 25h1v1h-1zM4 26h2v1h-2zM2.5 27h1v1h-1zM12 28h1v1h-1zM7.5 31h1v1h-1zM21.5 31h1v1h-1zM41.5 35h1v1h-1zM11.5 39h1v1h-1zM11.5 41h1v1h-1zM41 44h1v1h-1zM6.5 47h1v1h-1zM40.5 47h1v1h-1zM42.5 47h1v1h-1zM40.5 51h1v1h-1zM42.5 51h1v1h-1zM23 54h1v1h-1z"/>
<path fill="#c03c54" d="M31 6h2v1h-2zM5.5 21h1v1h-1zM8 22h1v1h-1zM12 24h1v1h-1zM5.5 25h1v1h-1zM12.5 25h1v1h-1zM7 26h1v1h-1zM39.5 43h1v1h-1zM41 46h1v1h-1zM12 50h1v1h-1zM13 52h1v1h-1z"/>
<path fill="#6c186c" d="M32 8h1v1h-1zM8 10h1v1h-1zM17.5 11h1v1h-1zM19.5 11h1v1h-1zM6.5 13h1v1h-1zM17.5 13h1v1h-1zM19.5 13h1v1h-1zM17 14h1v1h-1zM39.5 15h1v1h-1zM18 16h1v1h-1zM18.5 17h1v1h-1zM44.5 17h1v1h-1zM17 18h1v1h-1zM5.5 19h2v1h-2zM16.5 19h1v1h-1zM9.5 21h1v1h-1zM13 24h1v1h-1zM7.5 29h1v1h-1zM8 30h1v1h-1zM11 32h1v1h-1zM8.5 33h1v1h-1zM40 34h1v1h-1zM45 34h1v1h-1zM40 36h1v1h-1zM40 42h1v1h-1zM38 44h1v1h-1zM42 44h1v1h-1zM45.5 45h1v1h-1zM5.5 47h1v1h-1zM11.5 47h1v1h-1zM25 48h1v1h-1zM12.5 49h1v1h-1zM13 50h1v1h-1zM11 52h1v1h-1z"/>
<path fill="#600c6c" d="M40.5 11h1v1h-1zM9 20h1v1h-1zM43.5 21h1v1h-1zM15 26h1v1h-1zM11 30h1v1h-1zM8.5 31h1v1h-1zM4 32h1v1h-1zM38.5 43h1v1h-1zM45 44h1v1h-1zM11.5 45h1v1h-1z"/>
<path fill="#d8483c" d="M18 14h1v1h-1zM9.5 23h2v1h-2zM10.5 27h1v1h-1z"/>
<path fill="#f06024" d="M19 14h1v1h-1zM7 22h1v1h-1zM10 26h1v1h-1z"/>
<path fill="#f06c24" d="M18.5 15h1v1h-1zM8.5 23h1v1h-1z"/>
<path fill="#e4543c" d="M19.5 15h1v1h-1z"/>
<path fill="#e45430" d="M19 16h1v1h-1zM5 24h1v1h-1zM6.5 25h1v1h-1zM9 26h1v1h-1z"/>
<path fill="#b43060" d="M20 16h1v1h-1zM19.5 19h1v1h-1zM12.5 27h1v1h-1z"/>
<path fill="#e46030" d="M19.5 17h1v1h-1zM5 22h1v1h-1zM11 24h1v1h-1zM11.5 25h1v1h-1zM12 26h1v1h-1z"/>
<path fill="#a83060" d="M20.5 17h1v1h-1zM6 20h1v1h-1zM11.5 23h1v1h-1zM4 24h1v1h-1zM6 26h1v1h-1zM8.5 29h1v1h-1zM12 40h1v1h-1zM46 44h1v1h-1zM41.5 45h1v1h-1zM40 46h1v1h-1zM41.5 51h1v1h-1z"/>
<path fill="#9c3060" d="M19 18h1v1h-1zM13.5 25h1v1h-1zM7 30h1v1h-1zM40 44h1v1h-1zM39.5 45h1v1h-1z"/>
<path fill="#9c2460" d="M20 18h1v1h-1zM7 20h1v1h-1zM20 20h1v1h-1zM7.5 27h2v1h-2zM9 28h3v1h-3zM47 44h1v1h-1zM42.5 45h1v1h-1zM46.5 45h1v1h-1zM42 50h1v1h-1z"/>
<path fill="#b43054" d="M4.5 21h1v1h-1zM7.5 21h2v1h-2zM40.5 45h1v1h-1zM12.5 53h1v1h-1z"/>
<path fill="#d8543c" d="M6.5 21h1v1h-1zM11.5 27h1v1h-1zM11.5 51h1v1h-1z"/>
<path fill="#f07818" d="M6 22h1v1h-1zM7.5 25h1v1h-1zM10.5 25h1v1h-1z"/>
<path fill="#cc4848" d="M9 22h1v1h-1zM8 26h1v1h-1zM13 26h1v1h-1zM9.5 27h1v1h-1zM39 44h1v1h-1z"/>
<path fill="#c03c48" d="M4.5 23h1v1h-1z"/>
<path fill="#fca80c" d="M5.5 23h1v1h-1zM6 24h2v1h-2zM9.5 25h1v1h-1z"/>
<path fill="#fcfca8" d="M6.5 23h1v1h-1z"/>
<path fill="#fcc030" d="M7.5 23h1v1h-1zM9 24h1v1h-1z"/>
<path fill="#fc840c" d="M8 24h1v1h-1z"/>
<path fill="#f08418" d="M10 24h1v1h-1z"/>
<path fill="#fc9c0c" d="M8.5 25h1v1h-1z"/>
<path fill="#fc900c" d="M11 26h1v1h-1z"/>
<path fill="#9c246c" d="M39.5 35h2v1h-2zM42 46h1v1h-1zM41.5 47h1v1h-1z"/>
<path fill="#fcb424" d="M12.5 51h1v1h-1z"/>
<path fill="#f0f078" d="M12 52h1v1h-1z"/>
</g></g>
<path d="M669.8 131.8L676.0 131.8M671.5 183.5L674.0 187.0L671.5 192.5M673.5 185.0L675.5 183.5M685.2 190.8L685.6 190.8M696.8 186.5L699.5 182.0L702.2 181.0M713.5 183.0L717.0 177.8M711.8 190.8L712.2 190.8M696.3 154.8L696.7 154.8" stroke="#fff" stroke-width="2.00" stroke-linecap="round" stroke-linejoin="round" fill="none"/>
<circle cx="628.1" cy="36.0" r="1.2" fill="#c83c4c"/>
<circle cx="633.0" cy="32.8" r="1.2" fill="#d4483c"/>
<text x="658.0" y="18.6" font-size="11.4" text-anchor="middle" textLength="73.3" lengthAdjust="spacingAndGlyphs">Myeloid cells</text>
<defs><linearGradient id="cb0" x1="0" x2="0" y1="0" y2="1"><stop offset="0.000" stop-color="#fcffa4"/><stop offset="0.062" stop-color="#f2ea69"/><stop offset="0.125" stop-color="#f9cb35"/><stop offset="0.188" stop-color="#fcac11"/><stop offset="0.250" stop-color="#f98e09"/><stop offset="0.312" stop-color="#f1731d"/><stop offset="0.375" stop-color="#e45a31"/><stop offset="0.438" stop-color="#d24644"/><stop offset="0.500" stop-color="#bc3754"/><stop offset="0.562" stop-color="#a32c61"/><stop offset="0.625" stop-color="#8a226a"/><stop offset="0.688" stop-color="#71196e"/><stop offset="0.750" stop-color="#57106e"/><stop offset="0.812" stop-color="#3d0965"/><stop offset="0.875" stop-color="#210c4a"/><stop offset="0.938" stop-color="#0b0724"/><stop offset="1.000" stop-color="#000004"/></linearGradient></defs>
<rect x="740.2" y="23.0" width="6.6" height="177.0" fill="url(#cb0)" stroke="#000" stroke-width="0.8"/>
<text x="751.9" y="50.4" font-size="11.5" textLength="18.3" lengthAdjust="spacingAndGlyphs">0.8</text>
<text x="751.9" y="89.7" font-size="11.5" textLength="18.3" lengthAdjust="spacingAndGlyphs">0.6</text>
<text x="751.9" y="129.1" font-size="11.5" textLength="18.3" lengthAdjust="spacingAndGlyphs">0.4</text>
<text x="751.9" y="168.4" font-size="11.5" textLength="18.3" lengthAdjust="spacingAndGlyphs">0.2</text>
<path d="M746.8 46.2h3.3M746.8 85.5h3.3M746.8 124.9h3.3M746.8 164.2h3.3" stroke="#000" stroke-width="0.8"/>
<g><g transform="translate(584.70 234.05) scale(2.900)" shape-rendering="crispEdges">
<path fill="#0c0c24" d="M4 0h1v1h-1zM11 0h1v1h-1zM5.5 1h1v1h-1zM8.5 1h2v1h-2zM7.5 3h1v1h-1zM11.5 3h1v1h-1zM20.5 3h1v1h-1zM19 4h2v1h-2zM10.5 5h1v1h-1zM19.5 5h1v1h-1zM37.5 5h1v1h-1zM4.5 7h1v1h-1zM22.5 7h1v1h-1zM42.5 7h1v1h-1zM22 8h1v1h-1zM33 8h1v1h-1zM37 8h1v1h-1zM41 8h1v1h-1zM20.5 9h1v1h-1zM29.5 9h1v1h-1zM36.5 9h3v1h-3zM4 10h2v1h-2zM33 10h5v1h-5zM9.5 11h1v1h-1zM27.5 11h1v1h-1zM33.5 11h1v1h-1zM44.5 11h1v1h-1zM46.5 11h1v1h-1zM11 12h1v1h-1zM4.5 13h1v1h-1zM9.5 13h1v1h-1zM29.5 13h1v1h-1zM33.5 13h1v1h-1zM5 14h1v1h-1zM7 14h1v1h-1zM29 14h1v1h-1zM4.5 15h1v1h-1zM12 16h1v1h-1zM22 16h1v1h-1zM26 16h1v1h-1zM2.5 17h1v1h-1zM26.5 17h1v1h-1zM5 18h2v1h-2zM21 18h1v1h-1zM23 18h1v1h-1zM3.5 19h1v1h-1zM5.5 19h1v1h-1zM21.5 19h1v1h-1zM23.5 19h1v1h-1zM13 20h1v1h-1zM20 20h1v1h-1zM23 20h1v1h-1zM28 20h1v1h-1zM20.5 21h1v1h-1zM22.5 21h2v1h-2zM18 22h1v1h-1zM20 22h2v1h-2zM19.5 23h1v1h-1zM24.5 23h1v1h-1zM38.5 23h1v1h-1zM40.5 23h1v1h-1zM18 24h1v1h-1zM25 24h1v1h-1zM10.5 25h1v1h-1zM15.5 25h1v1h-1zM21.5 25h1v1h-1zM20 26h1v1h-1zM10.5 27h1v1h-1zM27.5 27h1v1h-1zM17 28h1v1h-1zM20 28h2v1h-2zM41 28h1v1h-1zM43 28h1v1h-1zM21.5 29h1v1h-1zM24.5 29h1v1h-1zM20.5 31h1v1h-1zM22.5 31h1v1h-1zM23 34h1v1h-1zM27 34h1v1h-1zM2.5 35h1v1h-1zM14.5 35h1v1h-1zM19.5 35h1v1h-1zM21.5 35h1v1h-1zM28.5 35h1v1h-1zM14 36h1v1h-1zM20 36h1v1h-1zM32 36h1v1h-1zM17.5 37h1v1h-1zM33.5 37h1v1h-1zM15 38h2v1h-2zM4.5 39h1v1h-1zM12.5 39h2v1h-2zM21.5 39h1v1h-1zM45.5 39h1v1h-1zM0 40h1v1h-1zM10 40h1v1h-1zM12 40h1v1h-1zM15 40h4v1h-4zM44 40h1v1h-1zM1.5 41h1v1h-1zM16.5 41h1v1h-1zM3 42h1v1h-1zM11 42h1v1h-1zM45 42h1v1h-1zM47 42h1v1h-1zM2.5 43h1v1h-1zM11.5 43h2v1h-2zM14.5 43h1v1h-1zM35.5 43h1v1h-1zM44.5 43h1v1h-1zM10 44h1v1h-1zM13 44h1v1h-1zM49 44h1v1h-1zM10.5 45h1v1h-1zM18.5 45h1v1h-1zM20.5 45h1v1h-1zM14 46h1v1h-1zM27 46h1v1h-1zM44 46h1v1h-1zM48 46h2v1h-2zM16.5 47h1v1h-1zM19.5 47h1v1h-1zM25.5 47h1v1h-1zM27.5 47h1v1h-1zM2 48h1v1h-1zM8 48h1v1h-1zM11 48h1v1h-1zM27 48h1v1h-1zM39 48h1v1h-1zM4.5 49h1v1h-1zM6.5 49h1v1h-1zM9.5 49h1v1h-1zM14.5 49h1v1h-1zM4 50h5v1h-5zM10 50h2v1h-2zM28 50h1v1h-1zM39 50h1v1h-1zM12.5 51h1v1h-1zM16.5 51h1v1h-1zM9 52h1v1h-1zM29 52h1v1h-1zM6.5 53h1v1h-1zM16.5 53h1v1h-1zM49 54h1v1h-1z"/>
<path fill="#00000c" d="M5 0h1v1h-1zM4.5 1h1v1h-1zM10.5 1h1v1h-1zM3 2h2v1h-2zM9 2h1v1h-1zM3.5 3h1v1h-1zM3 4h4v1h-4zM30 4h2v1h-2zM37 4h1v1h-1zM18.5 5h1v1h-1zM30.5 5h1v1h-1zM32.5 5h2v1h-2zM36.5 5h1v1h-1zM5 6h1v1h-1zM30 6h1v1h-1zM36 6h1v1h-1zM2.5 7h1v1h-1zM29.5 7h3v1h-3zM33.5 7h2v1h-2zM46.5 7h1v1h-1zM3 8h1v1h-1zM30 8h2v1h-2zM36 8h1v1h-1zM42 8h5v1h-5zM2.5 9h1v1h-1zM32.5 9h1v1h-1zM35.5 9h1v1h-1zM40.5 9h1v1h-1zM28 10h2v1h-2zM31 10h2v1h-2zM38 10h1v1h-1zM40 10h2v1h-2zM43 10h5v1h-5zM3.5 11h2v1h-2zM20.5 11h2v1h-2zM35.5 11h2v1h-2zM39.5 11h1v1h-1zM41.5 11h1v1h-1zM21 12h1v1h-1zM28 12h4v1h-4zM36 12h1v1h-1zM39 12h1v1h-1zM45 12h1v1h-1zM47 12h1v1h-1zM3.5 13h1v1h-1zM7.5 13h1v1h-1zM10.5 13h1v1h-1zM22.5 13h1v1h-1zM24.5 13h1v1h-1zM30.5 13h1v1h-1zM37.5 13h6v1h-6zM6 14h1v1h-1zM21 14h1v1h-1zM23 14h1v1h-1zM26 14h2v1h-2zM30 14h1v1h-1zM37 14h2v1h-2zM46 14h2v1h-2zM26.5 15h2v1h-2zM32.5 15h1v1h-1zM34.5 15h1v1h-1zM37.5 15h1v1h-1zM3 16h1v1h-1zM11 16h1v1h-1zM27 16h1v1h-1zM34 16h3v1h-3zM39 16h5v1h-5zM48 16h1v1h-1zM22.5 17h3v1h-3zM27.5 17h2v1h-2zM34.5 17h1v1h-1zM41.5 17h1v1h-1zM43.5 17h2v1h-2zM48.5 17h1v1h-1zM22 18h1v1h-1zM24 18h1v1h-1zM27 18h2v1h-2zM31 18h2v1h-2zM34 18h1v1h-1zM37 18h1v1h-1zM39 18h1v1h-1zM41 18h1v1h-1zM43 18h1v1h-1zM45 18h1v1h-1zM47 18h1v1h-1zM24.5 19h1v1h-1zM30.5 19h1v1h-1zM34.5 19h3v1h-3zM38.5 19h3v1h-3zM46.5 19h1v1h-1zM48.5 19h1v1h-1zM30 20h1v1h-1zM32 20h1v1h-1zM35 20h1v1h-1zM40 20h3v1h-3zM45 20h3v1h-3zM21.5 21h1v1h-1zM29.5 21h1v1h-1zM35.5 21h1v1h-1zM39.5 21h3v1h-3zM45.5 21h1v1h-1zM47.5 21h2v1h-2zM24 22h1v1h-1zM36 22h2v1h-2zM39 22h1v1h-1zM42 22h1v1h-1zM46 22h1v1h-1zM23.5 23h1v1h-1zM26.5 23h3v1h-3zM45.5 23h1v1h-1zM47.5 23h1v1h-1zM49.5 23h1v1h-1zM21 24h4v1h-4zM26 24h1v1h-1zM30 24h3v1h-3zM43 24h1v1h-1zM46 24h2v1h-2zM20.5 25h1v1h-1zM22.5 25h2v1h-2zM27.5 25h1v1h-1zM32.5 25h1v1h-1zM36.5 25h3v1h-3zM43.5 25h1v1h-1zM45.5 25h2v1h-2zM48.5 25h1v1h-1zM26 26h3v1h-3zM35 26h1v1h-1zM48 26h1v1h-1zM25.5 27h2v1h-2zM28.5 27h1v1h-1zM31.5 27h1v1h-1zM42.5 27h2v1h-2zM45.5 27h2v1h-2zM27 28h1v1h-1zM33 28h3v1h-3zM38 28h1v1h-1zM42 28h1v1h-1zM46 28h2v1h-2zM22.5 29h1v1h-1zM25.5 29h1v1h-1zM31.5 29h1v1h-1zM34.5 29h1v1h-1zM39.5 29h1v1h-1zM43.5 29h1v1h-1zM46.5 29h3v1h-3zM22 30h3v1h-3zM26 30h1v1h-1zM31 30h1v1h-1zM37 30h1v1h-1zM39 30h1v1h-1zM44 30h1v1h-1zM46 30h1v1h-1zM29.5 31h1v1h-1zM34.5 31h2v1h-2zM40.5 31h2v1h-2zM45.5 31h2v1h-2zM32 32h1v1h-1zM42 32h1v1h-1zM46 32h1v1h-1zM20.5 33h1v1h-1zM25.5 33h1v1h-1zM27.5 33h1v1h-1zM29.5 33h2v1h-2zM34.5 33h1v1h-1zM45.5 33h1v1h-1zM32 34h1v1h-1zM36 34h1v1h-1zM46 34h1v1h-1zM6.5 35h2v1h-2zM22.5 35h1v1h-1zM26.5 35h1v1h-1zM30.5 35h3v1h-3zM36.5 35h1v1h-1zM39.5 35h1v1h-1zM43.5 35h1v1h-1zM46.5 35h1v1h-1zM6 36h1v1h-1zM24 36h2v1h-2zM29 36h1v1h-1zM33 36h4v1h-4zM42 36h1v1h-1zM46 36h1v1h-1zM48 36h1v1h-1zM20.5 37h1v1h-1zM22.5 37h1v1h-1zM25.5 37h1v1h-1zM28.5 37h1v1h-1zM30.5 37h1v1h-1zM32.5 37h1v1h-1zM34.5 37h5v1h-5zM40.5 37h1v1h-1zM43.5 37h1v1h-1zM45.5 37h1v1h-1zM48.5 37h1v1h-1zM18 38h1v1h-1zM20 38h5v1h-5zM26 38h1v1h-1zM30 38h1v1h-1zM37 38h1v1h-1zM41 38h1v1h-1zM43 38h1v1h-1zM48 38h1v1h-1zM3.5 39h1v1h-1zM17.5 39h1v1h-1zM24.5 39h1v1h-1zM26.5 39h1v1h-1zM28.5 39h1v1h-1zM31.5 39h1v1h-1zM33.5 39h1v1h-1zM36.5 39h1v1h-1zM41.5 39h2v1h-2zM46.5 39h2v1h-2zM4 40h1v1h-1zM11 40h1v1h-1zM20 40h5v1h-5zM26 40h1v1h-1zM28 40h1v1h-1zM31 40h1v1h-1zM35 40h2v1h-2zM40 40h1v1h-1zM43 40h1v1h-1zM47 40h1v1h-1zM14.5 41h1v1h-1zM17.5 41h3v1h-3zM22.5 41h3v1h-3zM27.5 41h3v1h-3zM31.5 41h1v1h-1zM34.5 41h1v1h-1zM38.5 41h1v1h-1zM41.5 41h1v1h-1zM43.5 41h1v1h-1zM45.5 41h1v1h-1zM48.5 41h1v1h-1zM0 42h1v1h-1zM16 42h2v1h-2zM22 42h2v1h-2zM27 42h1v1h-1zM31 42h1v1h-1zM34 42h1v1h-1zM40 42h2v1h-2zM44 42h1v1h-1zM49 42h1v1h-1zM17.5 43h3v1h-3zM22.5 43h1v1h-1zM25.5 43h1v1h-1zM29.5 43h2v1h-2zM38.5 43h2v1h-2zM41.5 43h2v1h-2zM1 44h1v1h-1zM14 44h1v1h-1zM16 44h1v1h-1zM22 44h1v1h-1zM25 44h3v1h-3zM29 44h2v1h-2zM35 44h1v1h-1zM38 44h1v1h-1zM40 44h1v1h-1zM42 44h2v1h-2zM12.5 45h1v1h-1zM15.5 45h2v1h-2zM23.5 45h1v1h-1zM32.5 45h1v1h-1zM36.5 45h1v1h-1zM39.5 45h1v1h-1zM42.5 45h1v1h-1zM11 46h1v1h-1zM16 46h4v1h-4zM22 46h1v1h-1zM24 46h1v1h-1zM28 46h1v1h-1zM31 46h1v1h-1zM40 46h1v1h-1zM1.5 47h1v1h-1zM14.5 47h2v1h-2zM20.5 47h1v1h-1zM29.5 47h1v1h-1zM36.5 47h1v1h-1zM39.5 47h2v1h-2zM44.5 47h1v1h-1zM46.5 47h1v1h-1zM14 48h1v1h-1zM19 48h1v1h-1zM29 48h1v1h-1zM31 48h1v1h-1zM36 48h1v1h-1zM40 48h2v1h-2zM43 48h1v1h-1zM46 48h2v1h-2zM13.5 49h1v1h-1zM16.5 49h1v1h-1zM22.5 49h2v1h-2zM27.5 49h3v1h-3zM38.5 49h2v1h-2zM46.5 49h1v1h-1zM2 50h1v1h-1zM12 50h1v1h-1zM15 50h1v1h-1zM17 50h2v1h-2zM20 50h2v1h-2zM23 50h1v1h-1zM27 50h1v1h-1zM32 50h2v1h-2zM35 50h2v1h-2zM40 50h1v1h-1zM45 50h1v1h-1zM47 50h1v1h-1zM49 50h1v1h-1zM4.5 51h1v1h-1zM13.5 51h1v1h-1zM20.5 51h2v1h-2zM23.5 51h2v1h-2zM27.5 51h1v1h-1zM33.5 51h7v1h-7zM3 52h2v1h-2zM7 52h2v1h-2zM10 52h3v1h-3zM18 52h3v1h-3zM22 52h1v1h-1zM24 52h1v1h-1zM30 52h1v1h-1zM36 52h2v1h-2zM44 52h1v1h-1zM47 52h2v1h-2zM12.5 53h3v1h-3zM17.5 53h3v1h-3zM21.5 53h3v1h-3zM25.5 53h1v1h-1zM29.5 53h1v1h-1zM35.5 53h6v1h-6zM42.5 53h1v1h-1zM45.5 53h2v1h-2zM48.5 53h1v1h-1zM8 54h2v1h-2zM16 54h2v1h-2zM21 54h1v1h-1zM24 54h2v1h-2zM29 54h3v1h-3zM33 54h1v1h-1zM35 54h3v1h-3zM40 54h1v1h-1zM44 54h1v1h-1z"/>
<path fill="#0c0018" d="M6 0h1v1h-1zM7.5 1h1v1h-1zM8 2h1v1h-1zM5.5 3h1v1h-1zM8.5 3h1v1h-1zM10.5 3h1v1h-1zM10 6h1v1h-1zM32 6h1v1h-1zM5.5 9h1v1h-1zM7.5 9h2v1h-2zM10.5 9h2v1h-2zM34.5 9h1v1h-1zM41.5 9h1v1h-1zM11 10h1v1h-1zM20 10h1v1h-1zM43.5 11h1v1h-1zM27 12h1v1h-1zM5.5 13h2v1h-2zM8.5 13h1v1h-1zM11.5 13h1v1h-1zM21.5 13h1v1h-1zM31.5 13h1v1h-1zM3 14h1v1h-1zM40 14h1v1h-1zM5.5 15h1v1h-1zM21.5 15h1v1h-1zM29.5 15h1v1h-1zM21.5 17h1v1h-1zM46.5 17h1v1h-1zM34.5 21h1v1h-1zM33 22h1v1h-1zM48.5 23h1v1h-1zM45 24h1v1h-1zM21 26h1v1h-1zM3 28h1v1h-1zM23 28h1v1h-1zM45 28h1v1h-1zM27.5 29h1v1h-1zM3 30h1v1h-1zM21 30h1v1h-1zM42 30h1v1h-1zM22.5 33h1v1h-1zM24 34h1v1h-1zM27.5 35h1v1h-1zM4 36h2v1h-2zM3.5 37h2v1h-2zM18.5 37h1v1h-1zM0.5 39h1v1h-1zM11.5 39h1v1h-1zM15.5 39h1v1h-1zM19.5 39h1v1h-1zM13 40h1v1h-1zM19 40h1v1h-1zM14 42h1v1h-1zM3 44h1v1h-1zM28 44h1v1h-1zM22.5 45h1v1h-1zM26 46h1v1h-1zM38 46h1v1h-1zM11.5 47h1v1h-1zM17.5 47h1v1h-1zM43.5 47h1v1h-1zM26 48h1v1h-1zM45 48h1v1h-1zM2.5 49h1v1h-1zM11.5 49h1v1h-1zM25.5 49h1v1h-1zM41.5 49h1v1h-1zM3.5 51h1v1h-1zM47.5 51h1v1h-1zM13 52h1v1h-1zM25 52h2v1h-2zM34 52h1v1h-1zM8.5 53h1v1h-1zM15.5 53h1v1h-1zM43.5 53h1v1h-1zM47.5 53h1v1h-1z"/>
<path fill="#0c0c30" d="M7 0h3v1h-3zM12 0h1v1h-1zM10 2h1v1h-1zM19.5 3h1v1h-1zM6.5 5h1v1h-1zM11.5 5h1v1h-1zM20.5 5h1v1h-1zM7 6h1v1h-1zM42 6h1v1h-1zM8.5 7h1v1h-1zM36.5 7h1v1h-1zM6 8h1v1h-1zM11 8h1v1h-1zM3.5 9h1v1h-1zM22.5 9h1v1h-1zM3 10h1v1h-1zM12 10h1v1h-1zM10.5 11h1v1h-1zM22.5 11h2v1h-2zM8 12h1v1h-1zM20 12h1v1h-1zM8 14h2v1h-2zM6.5 15h2v1h-2zM4 16h1v1h-1zM10 18h1v1h-1zM2.5 19h1v1h-1zM20.5 19h1v1h-1zM18.5 21h2v1h-2zM39.5 23h1v1h-1zM20 24h1v1h-1zM40 24h1v1h-1zM18.5 25h1v1h-1zM12 26h1v1h-1zM19 26h1v1h-1zM39 26h1v1h-1zM20.5 27h1v1h-1zM23.5 27h1v1h-1zM40.5 27h2v1h-2zM44 28h1v1h-1zM20.5 29h1v1h-1zM3 32h1v1h-1zM10.5 33h1v1h-1zM12.5 33h1v1h-1zM4.5 35h1v1h-1zM3 36h1v1h-1zM17 36h1v1h-1zM21 36h1v1h-1zM7.5 37h1v1h-1zM16.5 37h1v1h-1zM3 38h1v1h-1zM14 38h1v1h-1zM19 38h1v1h-1zM44 38h2v1h-2zM5.5 39h1v1h-1zM16.5 39h1v1h-1zM1 40h3v1h-3zM14 40h1v1h-1zM10.5 41h1v1h-1zM12.5 41h1v1h-1zM13 42h1v1h-1zM11 44h1v1h-1zM14.5 45h1v1h-1zM2 46h1v1h-1zM9 46h1v1h-1zM23.5 47h1v1h-1zM47.5 47h1v1h-1zM9 48h2v1h-2zM16 50h1v1h-1zM9.5 53h1v1h-1zM47 54h1v1h-1z"/>
<path fill="#000018" d="M10 0h1v1h-1zM3.5 1h1v1h-1zM6.5 1h1v1h-1zM5 2h2v1h-2zM11 2h1v1h-1zM18 2h1v1h-1zM4.5 3h1v1h-1zM9.5 3h1v1h-1zM10 4h1v1h-1zM35 4h1v1h-1zM2.5 5h3v1h-3zM31.5 5h1v1h-1zM11 6h1v1h-1zM31 6h1v1h-1zM34 6h2v1h-2zM43 6h1v1h-1zM3.5 7h1v1h-1zM35.5 7h1v1h-1zM43.5 7h1v1h-1zM45.5 7h1v1h-1zM23 8h1v1h-1zM34 8h2v1h-2zM47 8h1v1h-1zM4.5 9h1v1h-1zM23.5 9h1v1h-1zM33.5 9h1v1h-1zM39.5 9h1v1h-1zM42.5 9h2v1h-2zM45.5 9h1v1h-1zM10 10h1v1h-1zM21 10h1v1h-1zM38.5 11h1v1h-1zM45.5 11h1v1h-1zM3 12h2v1h-2zM10 12h1v1h-1zM33 12h1v1h-1zM35 12h1v1h-1zM20.5 13h1v1h-1zM4 14h1v1h-1zM24 14h2v1h-2zM33 14h2v1h-2zM36 14h1v1h-1zM2.5 15h2v1h-2zM39.5 15h1v1h-1zM42.5 15h1v1h-1zM23 16h3v1h-3zM3.5 17h1v1h-1zM11.5 17h1v1h-1zM25 18h1v1h-1zM48 18h2v1h-2zM22.5 19h1v1h-1zM28.5 19h1v1h-1zM31.5 19h1v1h-1zM41.5 19h1v1h-1zM43.5 19h1v1h-1zM21 20h1v1h-1zM33 20h1v1h-1zM24.5 21h1v1h-1zM22 22h2v1h-2zM26 22h2v1h-2zM43 22h1v1h-1zM49 22h1v1h-1zM18.5 23h1v1h-1zM21.5 23h2v1h-2zM29.5 23h1v1h-1zM37.5 23h1v1h-1zM10 24h1v1h-1zM19 24h1v1h-1zM48 24h1v1h-1zM19.5 25h1v1h-1zM23 26h2v1h-2zM21.5 27h2v1h-2zM24.5 27h1v1h-1zM47.5 27h2v1h-2zM22 28h1v1h-1zM26 28h1v1h-1zM23.5 29h1v1h-1zM40.5 29h2v1h-2zM45.5 29h1v1h-1zM25 30h1v1h-1zM30 30h1v1h-1zM40 30h2v1h-2zM21.5 31h1v1h-1zM36.5 31h1v1h-1zM20 32h3v1h-3zM34 32h2v1h-2zM37 32h1v1h-1zM2.5 33h1v1h-1zM21.5 33h1v1h-1zM24.5 33h1v1h-1zM28.5 33h1v1h-1zM31.5 33h1v1h-1zM21 34h1v1h-1zM28 34h1v1h-1zM37 34h1v1h-1zM39 34h1v1h-1zM33.5 35h1v1h-1zM40.5 35h1v1h-1zM31 36h1v1h-1zM41 36h1v1h-1zM21.5 37h1v1h-1zM29.5 37h1v1h-1zM46.5 37h1v1h-1zM17 38h1v1h-1zM25 38h1v1h-1zM38 38h1v1h-1zM46 38h1v1h-1zM14.5 39h1v1h-1zM18.5 39h1v1h-1zM48.5 39h1v1h-1zM5 40h1v1h-1zM48 40h1v1h-1zM13.5 41h1v1h-1zM20.5 41h1v1h-1zM26.5 41h1v1h-1zM32.5 41h1v1h-1zM35.5 41h1v1h-1zM40.5 41h1v1h-1zM47.5 41h1v1h-1zM1 42h2v1h-2zM10 42h1v1h-1zM12 42h1v1h-1zM18 42h1v1h-1zM28 42h1v1h-1zM33 42h1v1h-1zM38 42h1v1h-1zM0.5 43h2v1h-2zM13.5 43h1v1h-1zM15.5 43h1v1h-1zM32.5 43h1v1h-1zM15 44h1v1h-1zM23 44h2v1h-2zM37 44h1v1h-1zM1.5 45h1v1h-1zM11.5 45h1v1h-1zM13.5 45h1v1h-1zM19.5 45h1v1h-1zM27.5 45h2v1h-2zM43.5 45h1v1h-1zM12 46h1v1h-1zM15 46h1v1h-1zM25 46h1v1h-1zM43 46h1v1h-1zM2.5 47h1v1h-1zM12.5 47h1v1h-1zM18.5 47h1v1h-1zM22.5 47h1v1h-1zM24.5 47h1v1h-1zM31.5 47h3v1h-3zM7 48h1v1h-1zM13 48h1v1h-1zM17 48h1v1h-1zM20 48h1v1h-1zM28 48h1v1h-1zM38 48h1v1h-1zM42 48h1v1h-1zM49 48h1v1h-1zM3.5 49h1v1h-1zM5.5 49h1v1h-1zM8.5 49h1v1h-1zM12.5 49h1v1h-1zM15.5 49h1v1h-1zM21.5 49h1v1h-1zM33.5 49h2v1h-2zM37.5 49h1v1h-1zM47.5 49h1v1h-1zM3 50h1v1h-1zM13 50h2v1h-2zM30 50h1v1h-1zM43 50h1v1h-1zM5.5 51h2v1h-2zM8.5 51h1v1h-1zM10.5 51h2v1h-2zM14.5 51h1v1h-1zM17.5 51h2v1h-2zM22.5 51h1v1h-1zM26.5 51h1v1h-1zM31.5 51h1v1h-1zM6 52h1v1h-1zM28 52h1v1h-1zM33 52h1v1h-1zM45 52h2v1h-2zM26.5 53h3v1h-3zM30.5 53h1v1h-1zM32.5 53h2v1h-2zM10 54h1v1h-1zM12 54h1v1h-1zM14 54h1v1h-1zM19 54h2v1h-2zM26 54h1v1h-1zM42 54h2v1h-2zM45 54h1v1h-1zM48 54h1v1h-1z"/>
<path fill="#3c0c60" d="M13 0h1v1h-1zM8.5 5h1v1h-1zM39.5 5h1v1h-1zM38.5 7h1v1h-1zM38 8h2v1h-2zM14.5 9h1v1h-1zM13 10h1v1h-1zM14 12h1v1h-1zM19 12h1v1h-1zM9.5 15h1v1h-1zM11.5 15h1v1h-1zM13.5 15h1v1h-1zM6.5 19h1v1h-1zM8.5 19h1v1h-1zM11.5 19h1v1h-1zM5 20h1v1h-1zM8 20h2v1h-2zM17 20h2v1h-2zM13 22h1v1h-1zM16 22h1v1h-1zM17.5 23h1v1h-1zM15 24h1v1h-1zM13.5 25h1v1h-1zM8 26h1v1h-1zM14.5 27h1v1h-1zM19 28h1v1h-1zM11.5 29h1v1h-1zM14.5 29h1v1h-1zM5 30h1v1h-1zM7.5 31h1v1h-1zM13.5 31h1v1h-1zM5.5 33h1v1h-1zM8.5 33h1v1h-1zM14.5 33h1v1h-1zM17.5 33h1v1h-1zM5 38h1v1h-1zM7.5 39h2v1h-2zM6.5 43h1v1h-1zM7.5 45h1v1h-1zM5 46h1v1h-1zM47 46h1v1h-1zM6.5 47h1v1h-1z"/>
<path fill="#78186c" d="M14 0h1v1h-1zM14 6h2v1h-2zM20 6h1v1h-1zM15.5 7h2v1h-2zM17 8h1v1h-1zM16.5 13h1v1h-1zM18.5 19h1v1h-1zM10.5 29h1v1h-1z"/>
<path fill="#9c3060" d="M15 0h1v1h-1zM16 14h1v1h-1zM14.5 15h1v1h-1z"/>
<path fill="#fc840c" d="M16 0h1v1h-1z"/>
<path fill="#180c3c" d="M11.5 1h1v1h-1zM19 2h1v1h-1zM5.5 5h1v1h-1zM4 6h1v1h-1zM6 6h1v1h-1zM9 6h1v1h-1zM12 6h1v1h-1zM37 6h1v1h-1zM11.5 7h1v1h-1zM19.5 7h1v1h-1zM40.5 7h2v1h-2zM5 8h1v1h-1zM7 8h2v1h-2zM12 8h1v1h-1zM6.5 9h1v1h-1zM19.5 9h1v1h-1zM6 10h4v1h-4zM11.5 11h1v1h-1zM34.5 11h1v1h-1zM5 12h3v1h-3zM9 12h1v1h-1zM17 12h1v1h-1zM12 14h2v1h-2zM20 14h1v1h-1zM20.5 15h1v1h-1zM5 16h1v1h-1zM21 16h1v1h-1zM4.5 17h2v1h-2zM7.5 17h1v1h-1zM12.5 17h1v1h-1zM20.5 17h1v1h-1zM4 18h1v1h-1zM9.5 19h2v1h-2zM3 20h1v1h-1zM11 20h1v1h-1zM16 20h1v1h-1zM2.5 21h1v1h-1zM8.5 21h1v1h-1zM17.5 21h1v1h-1zM3 22h2v1h-2zM19 22h1v1h-1zM12.5 23h1v1h-1zM11 24h1v1h-1zM16 24h2v1h-2zM37 24h2v1h-2zM3.5 25h3v1h-3zM39.5 25h2v1h-2zM5 26h1v1h-1zM6.5 27h1v1h-1zM9.5 27h1v1h-1zM19.5 27h1v1h-1zM4 28h1v1h-1zM3.5 29h1v1h-1zM4 30h1v1h-1zM12 30h2v1h-2zM3.5 31h1v1h-1zM6.5 31h1v1h-1zM4 32h1v1h-1zM19 32h1v1h-1zM23 32h2v1h-2zM9.5 33h1v1h-1zM13.5 33h1v1h-1zM15.5 33h1v1h-1zM19 34h2v1h-2zM5.5 35h1v1h-1zM8.5 35h2v1h-2zM13.5 35h1v1h-1zM17.5 35h2v1h-2zM8 36h2v1h-2zM13 36h1v1h-1zM16 36h1v1h-1zM19 36h1v1h-1zM28 36h1v1h-1zM5.5 37h2v1h-2zM9.5 37h1v1h-1zM11.5 37h1v1h-1zM4 38h1v1h-1zM9 38h1v1h-1zM11 38h1v1h-1zM13 38h1v1h-1zM1.5 39h1v1h-1zM44.5 39h1v1h-1zM6 40h1v1h-1zM3.5 41h1v1h-1zM5.5 41h1v1h-1zM46 42h1v1h-1zM3.5 43h1v1h-1zM9.5 43h2v1h-2zM45.5 43h1v1h-1zM47.5 43h2v1h-2zM2 44h1v1h-1zM12 44h1v1h-1zM48.5 45h1v1h-1zM4 46h1v1h-1zM23 46h1v1h-1zM45 46h1v1h-1zM9.5 47h2v1h-2zM26.5 47h1v1h-1zM10.5 49h1v1h-1zM9 50h1v1h-1zM2.5 51h1v1h-1zM7.5 51h1v1h-1zM46 54h1v1h-1z"/>
<path fill="#480c6c" d="M12.5 1h1v1h-1zM12.5 7h1v1h-1zM39.5 7h1v1h-1zM13.5 9h1v1h-1zM18.5 13h1v1h-1zM15 14h1v1h-1zM13 16h1v1h-1zM16 16h1v1h-1zM16.5 17h1v1h-1zM8 18h1v1h-1zM13.5 19h2v1h-2zM9.5 21h1v1h-1zM14.5 21h1v1h-1zM8 22h2v1h-2zM5.5 23h1v1h-1zM7.5 23h2v1h-2zM10.5 23h1v1h-1zM13.5 23h2v1h-2zM7 24h2v1h-2zM12 24h1v1h-1zM8.5 25h2v1h-2zM14.5 25h1v1h-1zM7 26h1v1h-1zM16.5 27h1v1h-1zM6 28h1v1h-1zM8 28h2v1h-2zM16 28h1v1h-1zM8.5 29h1v1h-1zM13.5 29h1v1h-1zM16.5 29h1v1h-1zM8.5 31h1v1h-1zM17.5 31h1v1h-1zM7 32h1v1h-1zM18 32h1v1h-1zM11.5 33h1v1h-1zM11.5 35h1v1h-1zM12 36h1v1h-1zM7 40h1v1h-1zM6 42h1v1h-1zM8 42h2v1h-2zM8.5 43h1v1h-1zM8.5 45h1v1h-1zM6 46h1v1h-1z"/>
<path fill="#a83060" d="M13.5 1h1v1h-1zM15.5 3h1v1h-1zM16.5 5h1v1h-1zM17.5 9h1v1h-1z"/>
<path fill="#fca80c" d="M14.5 1h1v1h-1zM17.5 15h1v1h-1zM17 16h1v1h-1z"/>
<path fill="#fcfca8" d="M15.5 1h1v1h-1z"/>
<path fill="#fc9c0c" d="M16.5 1h1v1h-1zM14 2h1v1h-1z"/>
<path fill="#84246c" d="M17.5 1h1v1h-1zM13.5 3h1v1h-1zM17 4h1v1h-1zM17.5 11h1v1h-1zM17 14h1v1h-1zM15.5 15h1v1h-1zM17.5 19h1v1h-1z"/>
<path fill="#180c48" d="M18.5 1h1v1h-1zM18 4h1v1h-1zM13.5 5h1v1h-1zM38.5 5h1v1h-1zM18 6h1v1h-1zM9.5 7h1v1h-1zM10 8h1v1h-1zM19 8h1v1h-1zM6.5 11h1v1h-1zM8.5 11h1v1h-1zM12 18h1v1h-1zM4.5 19h1v1h-1zM4 20h1v1h-1zM12 20h1v1h-1zM4.5 23h1v1h-1zM6.5 25h1v1h-1zM40 26h1v1h-1zM7.5 27h2v1h-2zM4.5 29h1v1h-1zM6 30h1v1h-1zM15.5 31h1v1h-1zM3 34h1v1h-1zM18 34h1v1h-1zM2.5 37h1v1h-1zM10.5 37h1v1h-1zM12.5 37h1v1h-1zM14.5 37h1v1h-1zM7 38h1v1h-1zM2.5 39h1v1h-1zM9.5 39h2v1h-2zM5 44h1v1h-1zM8.5 47h1v1h-1zM6 48h1v1h-1zM7.5 49h1v1h-1z"/>
<path fill="#000000" d="M7 2h1v1h-1zM6.5 3h1v1h-1zM17.5 3h2v1h-2zM32 4h3v1h-3zM36 4h1v1h-1zM14.5 5h1v1h-1zM34.5 5h2v1h-2zM3 6h1v1h-1zM33 6h1v1h-1zM44 6h1v1h-1zM32.5 7h1v1h-1zM44.5 7h1v1h-1zM4 8h1v1h-1zM29 8h1v1h-1zM32 8h1v1h-1zM28.5 9h1v1h-1zM30.5 9h2v1h-2zM44.5 9h1v1h-1zM46.5 9h1v1h-1zM30 10h1v1h-1zM39 10h1v1h-1zM42 10h1v1h-1zM2.5 11h1v1h-1zM28.5 11h5v1h-5zM37.5 11h1v1h-1zM40.5 11h1v1h-1zM42.5 11h1v1h-1zM22 12h3v1h-3zM32 12h1v1h-1zM34 12h1v1h-1zM37 12h2v1h-2zM40 12h5v1h-5zM46 12h1v1h-1zM2.5 13h1v1h-1zM23.5 13h1v1h-1zM27.5 13h2v1h-2zM32.5 13h1v1h-1zM34.5 13h3v1h-3zM43.5 13h4v1h-4zM22 14h1v1h-1zM28 14h1v1h-1zM31 14h2v1h-2zM35 14h1v1h-1zM39 14h1v1h-1zM41 14h5v1h-5zM22.5 15h4v1h-4zM28.5 15h1v1h-1zM30.5 15h2v1h-2zM33.5 15h1v1h-1zM35.5 15h2v1h-2zM38.5 15h1v1h-1zM40.5 15h2v1h-2zM43.5 15h5v1h-5zM28 16h6v1h-6zM37 16h2v1h-2zM44 16h4v1h-4zM25.5 17h1v1h-1zM29.5 17h5v1h-5zM35.5 17h6v1h-6zM42.5 17h1v1h-1zM45.5 17h1v1h-1zM47.5 17h1v1h-1zM26 18h1v1h-1zM29 18h2v1h-2zM33 18h1v1h-1zM35 18h2v1h-2zM38 18h1v1h-1zM40 18h1v1h-1zM42 18h1v1h-1zM44 18h1v1h-1zM46 18h1v1h-1zM25.5 19h3v1h-3zM29.5 19h1v1h-1zM32.5 19h2v1h-2zM37.5 19h1v1h-1zM42.5 19h1v1h-1zM44.5 19h2v1h-2zM47.5 19h1v1h-1zM22 20h1v1h-1zM24 20h4v1h-4zM29 20h1v1h-1zM31 20h1v1h-1zM34 20h1v1h-1zM36 20h4v1h-4zM43 20h2v1h-2zM48 20h2v1h-2zM25.5 21h4v1h-4zM30.5 21h4v1h-4zM36.5 21h3v1h-3zM42.5 21h3v1h-3zM46.5 21h1v1h-1zM49.5 21h1v1h-1zM25 22h1v1h-1zM28 22h5v1h-5zM34 22h2v1h-2zM38 22h1v1h-1zM40 22h2v1h-2zM44 22h2v1h-2zM47 22h2v1h-2zM25.5 23h1v1h-1zM30.5 23h7v1h-7zM41.5 23h4v1h-4zM46.5 23h1v1h-1zM27 24h3v1h-3zM33 24h4v1h-4zM41 24h2v1h-2zM44 24h1v1h-1zM49 24h1v1h-1zM24.5 25h3v1h-3zM28.5 25h4v1h-4zM33.5 25h3v1h-3zM41.5 25h2v1h-2zM44.5 25h1v1h-1zM47.5 25h1v1h-1zM22 26h1v1h-1zM25 26h1v1h-1zM29 26h6v1h-6zM36 26h3v1h-3zM42 26h6v1h-6zM29.5 27h2v1h-2zM32.5 27h8v1h-8zM44.5 27h1v1h-1zM24 28h2v1h-2zM28 28h5v1h-5zM36 28h2v1h-2zM39 28h2v1h-2zM48 28h1v1h-1zM26.5 29h1v1h-1zM28.5 29h3v1h-3zM32.5 29h2v1h-2zM35.5 29h4v1h-4zM42.5 29h1v1h-1zM44.5 29h1v1h-1zM27 30h3v1h-3zM32 30h5v1h-5zM38 30h1v1h-1zM43 30h1v1h-1zM45 30h1v1h-1zM47 30h2v1h-2zM23.5 31h6v1h-6zM30.5 31h4v1h-4zM37.5 31h3v1h-3zM42.5 31h3v1h-3zM25 32h7v1h-7zM33 32h1v1h-1zM36 32h1v1h-1zM38 32h4v1h-4zM43 32h3v1h-3zM47 32h1v1h-1zM26.5 33h1v1h-1zM32.5 33h2v1h-2zM35.5 33h10v1h-10zM46.5 33h1v1h-1zM22 34h1v1h-1zM25 34h2v1h-2zM29 34h3v1h-3zM33 34h3v1h-3zM38 34h1v1h-1zM40 34h6v1h-6zM47 34h1v1h-1zM20.5 35h1v1h-1zM23.5 35h3v1h-3zM29.5 35h1v1h-1zM34.5 35h2v1h-2zM37.5 35h2v1h-2zM41.5 35h2v1h-2zM44.5 35h2v1h-2zM47.5 35h1v1h-1zM22 36h2v1h-2zM26 36h1v1h-1zM30 36h1v1h-1zM37 36h4v1h-4zM43 36h3v1h-3zM47 36h1v1h-1zM19.5 37h1v1h-1zM23.5 37h2v1h-2zM26.5 37h1v1h-1zM31.5 37h1v1h-1zM39.5 37h1v1h-1zM41.5 37h2v1h-2zM44.5 37h1v1h-1zM47.5 37h1v1h-1zM27 38h3v1h-3zM31 38h6v1h-6zM39 38h2v1h-2zM42 38h1v1h-1zM47 38h1v1h-1zM49 38h1v1h-1zM22.5 39h2v1h-2zM25.5 39h1v1h-1zM27.5 39h1v1h-1zM29.5 39h2v1h-2zM32.5 39h1v1h-1zM34.5 39h2v1h-2zM37.5 39h4v1h-4zM25 40h1v1h-1zM27 40h1v1h-1zM29 40h2v1h-2zM32 40h3v1h-3zM37 40h3v1h-3zM41 40h2v1h-2zM45 40h2v1h-2zM49 40h1v1h-1zM11.5 41h1v1h-1zM15.5 41h1v1h-1zM21.5 41h1v1h-1zM25.5 41h1v1h-1zM30.5 41h1v1h-1zM33.5 41h1v1h-1zM36.5 41h2v1h-2zM39.5 41h1v1h-1zM42.5 41h1v1h-1zM44.5 41h1v1h-1zM46.5 41h1v1h-1zM49.5 41h1v1h-1zM15 42h1v1h-1zM19 42h3v1h-3zM24 42h3v1h-3zM29 42h2v1h-2zM32 42h1v1h-1zM35 42h3v1h-3zM39 42h1v1h-1zM42 42h2v1h-2zM16.5 43h1v1h-1zM20.5 43h2v1h-2zM23.5 43h2v1h-2zM26.5 43h3v1h-3zM31.5 43h1v1h-1zM33.5 43h2v1h-2zM36.5 43h2v1h-2zM40.5 43h1v1h-1zM43.5 43h1v1h-1zM49.5 43h1v1h-1zM0 44h1v1h-1zM17 44h5v1h-5zM31 44h4v1h-4zM36 44h1v1h-1zM39 44h1v1h-1zM41 44h1v1h-1zM44 44h1v1h-1zM17.5 45h1v1h-1zM21.5 45h1v1h-1zM24.5 45h3v1h-3zM29.5 45h3v1h-3zM33.5 45h3v1h-3zM37.5 45h2v1h-2zM40.5 45h2v1h-2zM49.5 45h1v1h-1zM13 46h1v1h-1zM20 46h2v1h-2zM29 46h2v1h-2zM32 46h6v1h-6zM39 46h1v1h-1zM41 46h2v1h-2zM13.5 47h1v1h-1zM21.5 47h1v1h-1zM28.5 47h1v1h-1zM30.5 47h1v1h-1zM34.5 47h2v1h-2zM37.5 47h2v1h-2zM41.5 47h2v1h-2zM48.5 47h1v1h-1zM12 48h1v1h-1zM15 48h2v1h-2zM18 48h1v1h-1zM21 48h5v1h-5zM30 48h1v1h-1zM32 48h4v1h-4zM37 48h1v1h-1zM44 48h1v1h-1zM48 48h1v1h-1zM17.5 49h4v1h-4zM24.5 49h1v1h-1zM26.5 49h1v1h-1zM30.5 49h3v1h-3zM35.5 49h2v1h-2zM40.5 49h1v1h-1zM42.5 49h4v1h-4zM48.5 49h1v1h-1zM19 50h1v1h-1zM22 50h1v1h-1zM24 50h3v1h-3zM29 50h1v1h-1zM31 50h1v1h-1zM34 50h1v1h-1zM37 50h2v1h-2zM41 50h2v1h-2zM44 50h1v1h-1zM46 50h1v1h-1zM48 50h1v1h-1zM9.5 51h1v1h-1zM15.5 51h1v1h-1zM19.5 51h1v1h-1zM25.5 51h1v1h-1zM28.5 51h3v1h-3zM32.5 51h1v1h-1zM40.5 51h7v1h-7zM48.5 51h1v1h-1zM5 52h1v1h-1zM14 52h4v1h-4zM21 52h1v1h-1zM23 52h1v1h-1zM27 52h1v1h-1zM31 52h2v1h-2zM35 52h1v1h-1zM38 52h6v1h-6zM49 52h1v1h-1zM5.5 53h1v1h-1zM7.5 53h1v1h-1zM10.5 53h2v1h-2zM20.5 53h1v1h-1zM24.5 53h1v1h-1zM31.5 53h1v1h-1zM34.5 53h1v1h-1zM41.5 53h1v1h-1zM44.5 53h1v1h-1zM11 54h1v1h-1zM13 54h1v1h-1zM15 54h1v1h-1zM18 54h1v1h-1zM22 54h2v1h-2zM27 54h2v1h-2zM32 54h1v1h-1zM34 54h1v1h-1zM38 54h2v1h-2zM41 54h1v1h-1z"/>
<path fill="#240c54" d="M12 2h1v1h-1zM7 4h1v1h-1zM13 4h1v1h-1zM9.5 5h1v1h-1zM12.5 5h1v1h-1zM10.5 7h1v1h-1zM18.5 7h1v1h-1zM13 8h2v1h-2zM40 8h1v1h-1zM19 10h1v1h-1zM22 10h1v1h-1zM7.5 11h1v1h-1zM19.5 11h1v1h-1zM13 12h1v1h-1zM16 12h1v1h-1zM10 14h1v1h-1zM12.5 15h1v1h-1zM7 16h1v1h-1zM6.5 17h1v1h-1zM8.5 17h2v1h-2zM19 18h1v1h-1zM12.5 19h1v1h-1zM15.5 21h2v1h-2zM11 22h1v1h-1zM39 24h1v1h-1zM16.5 25h2v1h-2zM4 26h1v1h-1zM6 26h1v1h-1zM18 26h1v1h-1zM2.5 27h1v1h-1zM12 28h1v1h-1zM15 28h1v1h-1zM18 28h1v1h-1zM5.5 29h1v1h-1zM15.5 29h1v1h-1zM19.5 29h1v1h-1zM7 30h1v1h-1zM16 30h1v1h-1zM19 30h1v1h-1zM2.5 31h1v1h-1zM6 32h1v1h-1zM10 32h1v1h-1zM12 32h2v1h-2zM4.5 33h1v1h-1zM6.5 33h1v1h-1zM4 34h1v1h-1zM7 34h1v1h-1zM10 34h1v1h-1zM12 34h3v1h-3zM8.5 37h1v1h-1zM8 38h1v1h-1zM7.5 43h1v1h-1zM7 44h1v1h-1zM45 44h1v1h-1zM3.5 45h2v1h-2zM6.5 45h1v1h-1zM9.5 45h1v1h-1zM44.5 45h1v1h-1zM3.5 47h1v1h-1zM5.5 47h1v1h-1z"/>
<path fill="#540c6c" d="M13 2h1v1h-1zM17.5 5h1v1h-1zM14.5 7h1v1h-1zM20.5 7h1v1h-1zM14 10h1v1h-1zM13.5 11h1v1h-1zM16.5 11h1v1h-1zM18 12h1v1h-1zM14 14h1v1h-1zM18 14h2v1h-2zM14 18h1v1h-1zM6 20h1v1h-1zM6.5 21h1v1h-1zM10 22h1v1h-1zM6.5 23h1v1h-1zM16.5 23h1v1h-1zM13 24h1v1h-1zM7.5 25h1v1h-1zM12.5 25h1v1h-1zM4.5 27h1v1h-1zM13.5 27h1v1h-1zM5 28h1v1h-1zM10 30h1v1h-1zM9.5 31h1v1h-1zM18.5 33h1v1h-1zM12.5 35h1v1h-1zM5.5 43h1v1h-1z"/>
<path fill="#f0f084" d="M15 2h1v1h-1z"/>
<path fill="#f06024" d="M16 2h1v1h-1z"/>
<path fill="#60186c" d="M17 2h1v1h-1zM12.5 3h1v1h-1zM40 6h1v1h-1zM13.5 7h1v1h-1zM17.5 7h1v1h-1zM18.5 9h1v1h-1zM21.5 9h1v1h-1zM14.5 13h1v1h-1zM18.5 15h1v1h-1zM15.5 19h1v1h-1zM7 20h1v1h-1zM5.5 21h1v1h-1zM7.5 21h1v1h-1zM10.5 21h1v1h-1zM6 22h1v1h-1zM14 22h1v1h-1zM15.5 23h1v1h-1zM9.5 29h1v1h-1zM8 30h2v1h-2zM17 32h1v1h-1zM46 44h1v1h-1zM47.5 45h1v1h-1z"/>
<path fill="#180c30" d="M20 2h1v1h-1zM9 4h1v1h-1zM11 4h2v1h-2zM5.5 7h3v1h-3zM9.5 9h1v1h-1zM23 10h1v1h-1zM5.5 11h1v1h-1zM12.5 11h1v1h-1zM12 12h1v1h-1zM3 18h1v1h-1zM11.5 21h1v1h-1zM17 22h1v1h-1zM2.5 23h1v1h-1zM20.5 23h1v1h-1zM3 26h1v1h-1zM41 26h1v1h-1zM15.5 27h1v1h-1zM2.5 29h1v1h-1zM20 30h1v1h-1zM3.5 33h1v1h-1zM16.5 33h1v1h-1zM19.5 33h1v1h-1zM3.5 35h1v1h-1zM15.5 35h1v1h-1zM7 36h1v1h-1zM18 36h1v1h-1zM27 36h1v1h-1zM27.5 37h1v1h-1zM10 38h1v1h-1zM12 38h1v1h-1zM20.5 39h1v1h-1zM43.5 39h1v1h-1zM0.5 41h1v1h-1zM4.5 41h1v1h-1zM2.5 45h1v1h-1zM10 46h1v1h-1zM45.5 47h1v1h-1zM3 48h1v1h-1z"/>
<path fill="#b43054" d="M14.5 3h1v1h-1zM15 8h1v1h-1z"/>
<path fill="#c03c54" d="M16.5 3h1v1h-1zM16 18h1v1h-1z"/>
<path fill="#300c60" d="M8 4h1v1h-1zM7.5 5h1v1h-1zM19 6h1v1h-1zM21.5 7h1v1h-1zM9 8h1v1h-1zM12.5 9h1v1h-1zM19 16h1v1h-1zM13.5 17h1v1h-1zM7 18h1v1h-1zM11 18h1v1h-1zM14 20h2v1h-2zM13.5 21h1v1h-1zM12 22h1v1h-1zM15 22h1v1h-1zM3.5 23h1v1h-1zM14 24h1v1h-1zM2.5 25h1v1h-1zM11.5 25h1v1h-1zM10 26h1v1h-1zM14 26h1v1h-1zM16 26h1v1h-1zM5.5 27h1v1h-1zM11.5 27h1v1h-1zM7 28h1v1h-1zM10 28h2v1h-2zM13 28h1v1h-1zM6.5 29h2v1h-2zM12.5 29h1v1h-1zM17.5 29h1v1h-1zM11 30h1v1h-1zM15 30h1v1h-1zM4.5 31h2v1h-2zM12.5 31h1v1h-1zM14.5 31h1v1h-1zM5 32h1v1h-1zM8 32h1v1h-1zM11 32h1v1h-1zM15 32h1v1h-1zM5 34h1v1h-1zM8 34h2v1h-2zM11 34h1v1h-1zM10.5 35h1v1h-1zM6 38h1v1h-1zM5 42h1v1h-1zM7 42h1v1h-1zM4 44h1v1h-1zM5 48h1v1h-1z"/>
<path fill="#6c186c" d="M14 4h1v1h-1zM15.5 5h1v1h-1zM15.5 11h1v1h-1zM15 12h1v1h-1zM17.5 13h1v1h-1zM14 16h1v1h-1zM19.5 17h1v1h-1zM9 26h1v1h-1zM47 44h1v1h-1zM45.5 45h1v1h-1zM7 46h2v1h-2zM7.5 47h1v1h-1z"/>
<path fill="#9c2460" d="M15 4h1v1h-1zM18 10h1v1h-1zM18 18h1v1h-1z"/>
<path fill="#f06c24" d="M16 4h1v1h-1zM15.5 9h2v1h-2z"/>
<path fill="#240c48" d="M8 6h1v1h-1zM13.5 13h1v1h-1zM11 14h1v1h-1zM6 16h1v1h-1zM8 16h1v1h-1zM10 16h1v1h-1zM10.5 17h1v1h-1zM13 18h1v1h-1zM20 18h1v1h-1zM10 20h1v1h-1zM11.5 23h1v1h-1zM3 24h2v1h-2zM6 24h1v1h-1zM9 24h1v1h-1zM3.5 27h1v1h-1zM12.5 27h1v1h-1zM17.5 27h2v1h-2zM14 28h1v1h-1zM18.5 29h1v1h-1zM18 30h1v1h-1zM16.5 31h1v1h-1zM18.5 31h2v1h-2zM14 32h1v1h-1zM7.5 33h1v1h-1zM23.5 33h1v1h-1zM6 34h1v1h-1zM15 34h3v1h-3zM16.5 35h1v1h-1zM10 36h2v1h-2zM13.5 37h1v1h-1zM15.5 37h1v1h-1zM9 40h1v1h-1zM2.5 41h1v1h-1zM9.5 41h1v1h-1zM4 42h1v1h-1zM48 42h1v1h-1zM46.5 43h1v1h-1zM6 44h1v1h-1zM3 46h1v1h-1zM4.5 47h1v1h-1z"/>
<path fill="#3c0c6c" d="M13 6h1v1h-1zM21 6h1v1h-1zM39 6h1v1h-1zM18 8h1v1h-1zM21 8h1v1h-1zM14.5 11h1v1h-1zM10.5 15h1v1h-1zM15 16h1v1h-1zM20 16h1v1h-1zM7.5 19h1v1h-1zM19.5 19h1v1h-1zM12.5 21h1v1h-1zM5 22h1v1h-1zM7 22h1v1h-1zM9.5 23h1v1h-1zM11 26h1v1h-1zM13 26h1v1h-1zM17 26h1v1h-1zM17 30h1v1h-1zM10.5 31h1v1h-1zM9 32h1v1h-1zM8 40h1v1h-1zM4.5 43h1v1h-1zM48 44h1v1h-1zM5.5 45h1v1h-1zM46 46h1v1h-1z"/>
<path fill="#b43060" d="M16 6h2v1h-2zM46.5 45h1v1h-1z"/>
<path fill="#300c54" d="M38 6h1v1h-1zM41 6h1v1h-1zM37.5 7h1v1h-1zM20 8h1v1h-1zM18.5 11h1v1h-1zM12.5 13h1v1h-1zM19.5 13h1v1h-1zM8.5 15h1v1h-1zM19.5 15h1v1h-1zM9 16h1v1h-1zM9 18h1v1h-1zM19 20h1v1h-1zM3.5 21h2v1h-2zM5 24h1v1h-1zM15 26h1v1h-1zM14 30h1v1h-1zM16 32h1v1h-1zM15 36h1v1h-1zM6.5 39h1v1h-1zM7.5 41h2v1h-2zM8 44h2v1h-2zM4 48h1v1h-1z"/>
<path fill="#d8543c" d="M16 8h1v1h-1zM16 10h1v1h-1z"/>
<path fill="#90246c" d="M15 10h1v1h-1zM15.5 13h1v1h-1zM18 16h1v1h-1zM14.5 17h1v1h-1zM16.5 19h1v1h-1z"/>
<path fill="#d8483c" d="M17 10h1v1h-1z"/>
<path fill="#e45430" d="M16.5 15h1v1h-1z"/>
<path fill="#600c6c" d="M15.5 17h1v1h-1zM15 18h1v1h-1zM11.5 31h1v1h-1zM6.5 41h1v1h-1z"/>
<path fill="#cc4848" d="M17.5 17h2v1h-2zM17 18h1v1h-1z"/>
</g></g>
<path d="M669.8 328.8L676.0 328.8M671.5 380.5L674.0 384.0L671.5 389.5M673.5 382.0L675.5 380.5M685.2 387.8L685.6 387.8M696.8 383.5L699.5 379.0L702.2 378.0M713.5 380.0L717.0 374.8M711.8 387.8L712.2 387.8M696.3 351.8L696.7 351.8" stroke="#fff" stroke-width="2.00" stroke-linecap="round" stroke-linejoin="round" fill="none"/>
<circle cx="633.1" cy="229.8" r="1.3" fill="#000004"/>
<text x="658.3" y="216.0" font-size="11.4" text-anchor="middle" textLength="61.3" lengthAdjust="spacingAndGlyphs">Fibroblasts</text>
<defs><linearGradient id="cb1" x1="0" x2="0" y1="0" y2="1"><stop offset="0.000" stop-color="#fcffa4"/><stop offset="0.062" stop-color="#f2ea69"/><stop offset="0.125" stop-color="#f9cb35"/><stop offset="0.188" stop-color="#fcac11"/><stop offset="0.250" stop-color="#f98e09"/><stop offset="0.312" stop-color="#f1731d"/><stop offset="0.375" stop-color="#e45a31"/><stop offset="0.438" stop-color="#d24644"/><stop offset="0.500" stop-color="#bc3754"/><stop offset="0.562" stop-color="#a32c61"/><stop offset="0.625" stop-color="#8a226a"/><stop offset="0.688" stop-color="#71196e"/><stop offset="0.750" stop-color="#57106e"/><stop offset="0.812" stop-color="#3d0965"/><stop offset="0.875" stop-color="#210c4a"/><stop offset="0.938" stop-color="#0b0724"/><stop offset="1.000" stop-color="#000004"/></linearGradient></defs>
<rect x="740.2" y="220.1" width="6.6" height="175.6" fill="url(#cb1)" stroke="#000" stroke-width="0.8"/>
<text x="751.9" y="236.5" font-size="11.5" textLength="18.3" lengthAdjust="spacingAndGlyphs">0.8</text>
<text x="751.9" y="278.8" font-size="11.5" textLength="18.3" lengthAdjust="spacingAndGlyphs">0.6</text>
<text x="751.9" y="321.0" font-size="11.5" textLength="18.3" lengthAdjust="spacingAndGlyphs">0.4</text>
<text x="751.9" y="363.2" font-size="11.5" textLength="18.3" lengthAdjust="spacingAndGlyphs">0.2</text>
<path d="M746.8 232.3h3.3M746.8 274.6h3.3M746.8 316.8h3.3M746.8 359.0h3.3" stroke="#000" stroke-width="0.8"/>
<g><g transform="translate(583.72 429.17) scale(2.798)" shape-rendering="crispEdges">
<path fill="#00000c" d="M4 0h1v1h-1zM6 0h1v1h-1zM8 0h1v1h-1zM11 0h1v1h-1zM13 0h2v1h-2zM3.5 1h2v1h-2zM9.5 1h2v1h-2zM14.5 1h3v1h-3zM6 2h1v1h-1zM9 2h1v1h-1zM12 2h3v1h-3zM17 2h2v1h-2zM3.5 3h3v1h-3zM11.5 3h2v1h-2zM15.5 3h3v1h-3zM3 4h1v1h-1zM5 4h1v1h-1zM10 4h2v1h-2zM17 4h2v1h-2zM30 4h2v1h-2zM34 4h2v1h-2zM3.5 5h2v1h-2zM9.5 5h2v1h-2zM12.5 5h2v1h-2zM15.5 5h3v1h-3zM31.5 5h2v1h-2zM36.5 5h1v1h-1zM38.5 5h2v1h-2zM3 6h1v1h-1zM7 6h2v1h-2zM14 6h1v1h-1zM31 6h1v1h-1zM35 6h2v1h-2zM38 6h1v1h-1zM41 6h3v1h-3zM3.5 7h3v1h-3zM8.5 7h1v1h-1zM12.5 7h1v1h-1zM14.5 7h3v1h-3zM18.5 7h1v1h-1zM20.5 7h2v1h-2zM29.5 7h3v1h-3zM37.5 7h2v1h-2zM40.5 7h2v1h-2zM44.5 7h1v1h-1zM4 8h1v1h-1zM7 8h1v1h-1zM9 8h1v1h-1zM13 8h2v1h-2zM18 8h3v1h-3zM22 8h1v1h-1zM29 8h2v1h-2zM40 8h1v1h-1zM44 8h3v1h-3zM3.5 9h1v1h-1zM5.5 9h2v1h-2zM8.5 9h5v1h-5zM15.5 9h1v1h-1zM17.5 9h1v1h-1zM19.5 9h1v1h-1zM22.5 9h2v1h-2zM28.5 9h3v1h-3zM32.5 9h1v1h-1zM34.5 9h1v1h-1zM37.5 9h4v1h-4zM44.5 9h1v1h-1zM46.5 9h1v1h-1zM6 10h3v1h-3zM12 10h2v1h-2zM17 10h1v1h-1zM20 10h4v1h-4zM28 10h1v1h-1zM33 10h3v1h-3zM37 10h1v1h-1zM39 10h4v1h-4zM44 10h1v1h-1zM3.5 11h2v1h-2zM6.5 11h2v1h-2zM9.5 11h2v1h-2zM17.5 11h1v1h-1zM19.5 11h5v1h-5zM27.5 11h1v1h-1zM31.5 11h2v1h-2zM34.5 11h1v1h-1zM36.5 11h2v1h-2zM40.5 11h1v1h-1zM42.5 11h1v1h-1zM45.5 11h1v1h-1zM3 12h2v1h-2zM9 12h3v1h-3zM13 12h1v1h-1zM19 12h1v1h-1zM23 12h1v1h-1zM30 12h1v1h-1zM33 12h1v1h-1zM42 12h1v1h-1zM47 12h1v1h-1zM6.5 13h2v1h-2zM10.5 13h1v1h-1zM12.5 13h1v1h-1zM14.5 13h4v1h-4zM19.5 13h4v1h-4zM24.5 13h1v1h-1zM28.5 13h1v1h-1zM31.5 13h2v1h-2zM34.5 13h1v1h-1zM37.5 13h2v1h-2zM40.5 13h1v1h-1zM43.5 13h2v1h-2zM6 14h2v1h-2zM12 14h1v1h-1zM15 14h2v1h-2zM20 14h1v1h-1zM22 14h2v1h-2zM25 14h6v1h-6zM35 14h1v1h-1zM40 14h1v1h-1zM42 14h1v1h-1zM46 14h1v1h-1zM4.5 15h1v1h-1zM6.5 15h2v1h-2zM13.5 15h1v1h-1zM15.5 15h1v1h-1zM18.5 15h3v1h-3zM22.5 15h1v1h-1zM29.5 15h1v1h-1zM32.5 15h1v1h-1zM36.5 15h2v1h-2zM44.5 15h1v1h-1zM5 16h3v1h-3zM11 16h1v1h-1zM13 16h1v1h-1zM18 16h1v1h-1zM20 16h1v1h-1zM23 16h1v1h-1zM25 16h2v1h-2zM29 16h1v1h-1zM32 16h1v1h-1zM34 16h1v1h-1zM37 16h1v1h-1zM39 16h3v1h-3zM44 16h1v1h-1zM2.5 17h1v1h-1zM4.5 17h2v1h-2zM7.5 17h5v1h-5zM13.5 17h1v1h-1zM17.5 17h1v1h-1zM19.5 17h1v1h-1zM23.5 17h1v1h-1zM26.5 17h1v1h-1zM29.5 17h1v1h-1zM37.5 17h2v1h-2zM40.5 17h4v1h-4zM45.5 17h1v1h-1zM5 18h1v1h-1zM7 18h3v1h-3zM11 18h4v1h-4zM16 18h3v1h-3zM27 18h1v1h-1zM31 18h2v1h-2zM34 18h2v1h-2zM38 18h2v1h-2zM41 18h1v1h-1zM2.5 19h1v1h-1zM5.5 19h2v1h-2zM9.5 19h4v1h-4zM15.5 19h4v1h-4zM26.5 19h1v1h-1zM28.5 19h1v1h-1zM30.5 19h6v1h-6zM39.5 19h1v1h-1zM42.5 19h1v1h-1zM44.5 19h1v1h-1zM46.5 19h2v1h-2zM3 20h1v1h-1zM5 20h1v1h-1zM13 20h3v1h-3zM17 20h1v1h-1zM23 20h1v1h-1zM26 20h1v1h-1zM28 20h2v1h-2zM33 20h1v1h-1zM36 20h1v1h-1zM38 20h1v1h-1zM40 20h3v1h-3zM45 20h2v1h-2zM3.5 21h1v1h-1zM6.5 21h2v1h-2zM13.5 21h1v1h-1zM16.5 21h1v1h-1zM20.5 21h3v1h-3zM25.5 21h1v1h-1zM34.5 21h1v1h-1zM40.5 21h1v1h-1zM48.5 21h1v1h-1zM5 22h2v1h-2zM9 22h2v1h-2zM12 22h2v1h-2zM16 22h1v1h-1zM20 22h2v1h-2zM26 22h1v1h-1zM31 22h1v1h-1zM34 22h4v1h-4zM39 22h2v1h-2zM48 22h1v1h-1zM3.5 23h4v1h-4zM10.5 23h2v1h-2zM13.5 23h1v1h-1zM15.5 23h2v1h-2zM18.5 23h1v1h-1zM20.5 23h1v1h-1zM24.5 23h2v1h-2zM27.5 23h1v1h-1zM29.5 23h1v1h-1zM35.5 23h2v1h-2zM38.5 23h2v1h-2zM41.5 23h1v1h-1zM47.5 23h1v1h-1zM5 24h2v1h-2zM8 24h5v1h-5zM14 24h2v1h-2zM17 24h1v1h-1zM20 24h1v1h-1zM22 24h1v1h-1zM27 24h3v1h-3zM32 24h2v1h-2zM35 24h6v1h-6zM42 24h1v1h-1zM6.5 25h2v1h-2zM11.5 25h1v1h-1zM16.5 25h3v1h-3zM20.5 25h1v1h-1zM22.5 25h1v1h-1zM24.5 25h1v1h-1zM27.5 25h1v1h-1zM32.5 25h2v1h-2zM35.5 25h1v1h-1zM38.5 25h1v1h-1zM42.5 25h1v1h-1zM3 26h2v1h-2zM10 26h3v1h-3zM17 26h1v1h-1zM19 26h1v1h-1zM21 26h1v1h-1zM26 26h1v1h-1zM29 26h1v1h-1zM31 26h3v1h-3zM36 26h2v1h-2zM39 26h2v1h-2zM43 26h1v1h-1zM2.5 27h1v1h-1zM5.5 27h1v1h-1zM15.5 27h1v1h-1zM19.5 27h2v1h-2zM22.5 27h2v1h-2zM27.5 27h1v1h-1zM29.5 27h2v1h-2zM39.5 27h1v1h-1zM41.5 27h1v1h-1zM3 28h1v1h-1zM13 28h1v1h-1zM17 28h2v1h-2zM23 28h3v1h-3zM28 28h1v1h-1zM33 28h1v1h-1zM35 28h3v1h-3zM41 28h1v1h-1zM47 28h1v1h-1zM2.5 29h1v1h-1zM8.5 29h1v1h-1zM10.5 29h1v1h-1zM15.5 29h3v1h-3zM19.5 29h1v1h-1zM26.5 29h1v1h-1zM29.5 29h4v1h-4zM34.5 29h1v1h-1zM36.5 29h1v1h-1zM45.5 29h1v1h-1zM5 30h2v1h-2zM8 30h1v1h-1zM12 30h1v1h-1zM15 30h1v1h-1zM19 30h1v1h-1zM21 30h1v1h-1zM23 30h2v1h-2zM26 30h3v1h-3zM32 30h2v1h-2zM35 30h4v1h-4zM40 30h1v1h-1zM47 30h1v1h-1zM6.5 31h1v1h-1zM11.5 31h3v1h-3zM16.5 31h1v1h-1zM21.5 31h3v1h-3zM25.5 31h1v1h-1zM28.5 31h1v1h-1zM32.5 31h4v1h-4zM39.5 31h3v1h-3zM43.5 31h2v1h-2zM3 32h3v1h-3zM7 32h2v1h-2zM10 32h1v1h-1zM13 32h1v1h-1zM23 32h1v1h-1zM25 32h1v1h-1zM27 32h2v1h-2zM38 32h2v1h-2zM41 32h2v1h-2zM44 32h1v1h-1zM47 32h1v1h-1zM3.5 33h1v1h-1zM6.5 33h2v1h-2zM9.5 33h1v1h-1zM14.5 33h1v1h-1zM23.5 33h1v1h-1zM25.5 33h1v1h-1zM27.5 33h2v1h-2zM33.5 33h1v1h-1zM40.5 33h1v1h-1zM42.5 33h2v1h-2zM3 34h3v1h-3zM11 34h1v1h-1zM13 34h1v1h-1zM15 34h1v1h-1zM32 34h4v1h-4zM40 34h2v1h-2zM44 34h1v1h-1zM47 34h1v1h-1zM3.5 35h2v1h-2zM7.5 35h1v1h-1zM9.5 35h5v1h-5zM23.5 35h1v1h-1zM25.5 35h1v1h-1zM27.5 35h1v1h-1zM33.5 35h1v1h-1zM35.5 35h1v1h-1zM37.5 35h1v1h-1zM40.5 35h1v1h-1zM42.5 35h2v1h-2zM45.5 35h3v1h-3zM3 36h1v1h-1zM5 36h1v1h-1zM12 36h2v1h-2zM26 36h1v1h-1zM28 36h1v1h-1zM30 36h3v1h-3zM38 36h5v1h-5zM47 36h1v1h-1zM3.5 37h1v1h-1zM6.5 37h1v1h-1zM11.5 37h1v1h-1zM13.5 37h1v1h-1zM24.5 37h1v1h-1zM33.5 37h2v1h-2zM36.5 37h1v1h-1zM38.5 37h3v1h-3zM47.5 37h2v1h-2zM5 38h6v1h-6zM12 38h1v1h-1zM24 38h2v1h-2zM27 38h1v1h-1zM33 38h1v1h-1zM36 38h1v1h-1zM41 38h1v1h-1zM48 38h2v1h-2zM4.5 39h1v1h-1zM8.5 39h1v1h-1zM24.5 39h1v1h-1zM32.5 39h1v1h-1zM36.5 39h5v1h-5zM1 40h2v1h-2zM4 40h1v1h-1zM8 40h1v1h-1zM11 40h1v1h-1zM21 40h1v1h-1zM24 40h3v1h-3zM28 40h1v1h-1zM31 40h1v1h-1zM34 40h1v1h-1zM36 40h1v1h-1zM39 40h2v1h-2zM42 40h1v1h-1zM47 40h1v1h-1zM49 40h1v1h-1zM0.5 41h1v1h-1zM2.5 41h1v1h-1zM4.5 41h1v1h-1zM6.5 41h1v1h-1zM8.5 41h1v1h-1zM11.5 41h1v1h-1zM23.5 41h1v1h-1zM25.5 41h3v1h-3zM32.5 41h3v1h-3zM36.5 41h3v1h-3zM42.5 41h1v1h-1zM1 42h1v1h-1zM5 42h1v1h-1zM7 42h5v1h-5zM20 42h2v1h-2zM26 42h1v1h-1zM29 42h2v1h-2zM32 42h3v1h-3zM41 42h1v1h-1zM43 42h1v1h-1zM47 42h1v1h-1zM49 42h1v1h-1zM2.5 43h1v1h-1zM4.5 43h6v1h-6zM18.5 43h2v1h-2zM21.5 43h1v1h-1zM24.5 43h2v1h-2zM27.5 43h1v1h-1zM29.5 43h1v1h-1zM32.5 43h1v1h-1zM34.5 43h4v1h-4zM39.5 43h2v1h-2zM42.5 43h2v1h-2zM45.5 43h1v1h-1zM49.5 43h1v1h-1zM4 44h1v1h-1zM7 44h2v1h-2zM19 44h1v1h-1zM22 44h1v1h-1zM28 44h1v1h-1zM31 44h1v1h-1zM33 44h1v1h-1zM36 44h1v1h-1zM42 44h2v1h-2zM47 44h2v1h-2zM1.5 45h2v1h-2zM5.5 45h3v1h-3zM9.5 45h2v1h-2zM19.5 45h1v1h-1zM22.5 45h1v1h-1zM24.5 45h7v1h-7zM44.5 45h3v1h-3zM3 46h2v1h-2zM6 46h3v1h-3zM10 46h1v1h-1zM18 46h1v1h-1zM20 46h1v1h-1zM22 46h2v1h-2zM25 46h1v1h-1zM28 46h1v1h-1zM30 46h2v1h-2zM33 46h3v1h-3zM41 46h2v1h-2zM46 46h1v1h-1zM48 46h1v1h-1zM3.5 47h1v1h-1zM7.5 47h4v1h-4zM17.5 47h1v1h-1zM19.5 47h1v1h-1zM21.5 47h1v1h-1zM29.5 47h1v1h-1zM34.5 47h2v1h-2zM37.5 47h1v1h-1zM41.5 47h1v1h-1zM43.5 47h3v1h-3zM6 48h1v1h-1zM9 48h2v1h-2zM18 48h4v1h-4zM23 48h2v1h-2zM26 48h1v1h-1zM28 48h8v1h-8zM37 48h2v1h-2zM40 48h1v1h-1zM44 48h2v1h-2zM47 48h3v1h-3zM2.5 49h1v1h-1zM4.5 49h1v1h-1zM8.5 49h2v1h-2zM16.5 49h3v1h-3zM20.5 49h1v1h-1zM24.5 49h2v1h-2zM29.5 49h2v1h-2zM32.5 49h1v1h-1zM34.5 49h1v1h-1zM40.5 49h1v1h-1zM42.5 49h2v1h-2zM46.5 49h1v1h-1zM2 50h2v1h-2zM5 50h1v1h-1zM8 50h1v1h-1zM17 50h1v1h-1zM19 50h1v1h-1zM23 50h3v1h-3zM33 50h2v1h-2zM42 50h1v1h-1zM44 50h2v1h-2zM3.5 51h1v1h-1zM5.5 51h1v1h-1zM7.5 51h1v1h-1zM9.5 51h2v1h-2zM16.5 51h1v1h-1zM18.5 51h4v1h-4zM26.5 51h1v1h-1zM29.5 51h1v1h-1zM31.5 51h2v1h-2zM34.5 51h1v1h-1zM46.5 51h3v1h-3zM6 52h1v1h-1zM9 52h1v1h-1zM16 52h6v1h-6zM25 52h1v1h-1zM28 52h3v1h-3zM33 52h2v1h-2zM5.5 53h1v1h-1zM10.5 53h1v1h-1zM19.5 53h1v1h-1zM23.5 53h1v1h-1zM27.5 53h1v1h-1zM29.5 53h3v1h-3zM33.5 53h1v1h-1zM36.5 53h2v1h-2zM44.5 53h1v1h-1zM46.5 53h3v1h-3zM8 54h1v1h-1zM10 54h1v1h-1zM16 54h4v1h-4zM21 54h4v1h-4zM26 54h1v1h-1zM29 54h1v1h-1zM32 54h1v1h-1zM35 54h2v1h-2zM38 54h1v1h-1zM40 54h1v1h-1zM43 54h4v1h-4z"/>
<path fill="#000018" d="M5 0h1v1h-1zM9 0h1v1h-1zM6.5 1h1v1h-1zM3 2h1v1h-1zM16 2h1v1h-1zM6.5 3h1v1h-1zM4 4h1v1h-1zM9 4h1v1h-1zM12 4h1v1h-1zM15 4h1v1h-1zM36 4h1v1h-1zM8.5 5h1v1h-1zM4 6h2v1h-2zM18 6h2v1h-2zM10.5 7h1v1h-1zM17.5 7h1v1h-1zM32.5 7h2v1h-2zM43.5 7h1v1h-1zM46.5 7h1v1h-1zM5 8h2v1h-2zM12 8h1v1h-1zM35 8h1v1h-1zM41 8h3v1h-3zM2.5 9h1v1h-1zM31.5 9h1v1h-1zM4 10h1v1h-1zM10 10h1v1h-1zM30 10h1v1h-1zM38 10h1v1h-1zM43 10h1v1h-1zM8.5 11h1v1h-1zM12.5 11h1v1h-1zM14.5 11h1v1h-1zM28.5 11h2v1h-2zM44.5 11h1v1h-1zM46.5 11h1v1h-1zM6 12h1v1h-1zM12 12h1v1h-1zM20 12h1v1h-1zM27 12h1v1h-1zM37 12h1v1h-1zM39 12h1v1h-1zM46 12h1v1h-1zM3.5 13h1v1h-1zM18.5 13h1v1h-1zM23.5 13h1v1h-1zM29.5 13h1v1h-1zM36.5 13h1v1h-1zM41.5 13h1v1h-1zM45.5 13h1v1h-1zM9 14h1v1h-1zM24 14h1v1h-1zM32 14h2v1h-2zM37 14h1v1h-1zM41 14h1v1h-1zM45 14h1v1h-1zM3.5 15h1v1h-1zM5.5 15h1v1h-1zM17.5 15h1v1h-1zM26.5 15h1v1h-1zM35.5 15h1v1h-1zM38.5 15h1v1h-1zM15 16h1v1h-1zM21 16h2v1h-2zM35 16h2v1h-2zM38 16h1v1h-1zM46 16h1v1h-1zM28.5 17h1v1h-1zM33.5 17h2v1h-2zM44.5 17h1v1h-1zM6 18h1v1h-1zM25 18h2v1h-2zM23.5 19h1v1h-1zM38.5 19h1v1h-1zM9 20h2v1h-2zM16 20h1v1h-1zM18 20h1v1h-1zM20 20h1v1h-1zM24 20h1v1h-1zM27 20h1v1h-1zM34 20h1v1h-1zM39 20h1v1h-1zM43 20h1v1h-1zM5.5 21h1v1h-1zM19.5 21h1v1h-1zM27.5 21h1v1h-1zM39.5 21h1v1h-1zM41.5 21h1v1h-1zM43.5 21h1v1h-1zM8 22h1v1h-1zM11 22h1v1h-1zM15 22h1v1h-1zM24 22h2v1h-2zM27 22h1v1h-1zM45 22h2v1h-2zM2.5 23h1v1h-1zM9.5 23h1v1h-1zM14.5 23h1v1h-1zM26.5 23h1v1h-1zM32.5 23h2v1h-2zM40.5 23h1v1h-1zM43.5 23h1v1h-1zM49.5 23h1v1h-1zM7 24h1v1h-1zM16 24h1v1h-1zM41 24h1v1h-1zM2.5 25h1v1h-1zM4.5 25h1v1h-1zM14.5 25h2v1h-2zM19.5 25h1v1h-1zM29.5 25h1v1h-1zM36.5 25h2v1h-2zM43.5 25h1v1h-1zM5 26h1v1h-1zM20 26h1v1h-1zM34 26h2v1h-2zM41 26h2v1h-2zM24.5 27h1v1h-1zM32.5 27h1v1h-1zM34.5 27h1v1h-1zM9 28h1v1h-1zM14 28h1v1h-1zM26 28h1v1h-1zM34 28h1v1h-1zM48 28h1v1h-1zM3.5 29h1v1h-1zM5.5 29h1v1h-1zM18.5 29h1v1h-1zM25.5 29h1v1h-1zM37.5 29h1v1h-1zM39.5 29h1v1h-1zM14 30h1v1h-1zM17 30h1v1h-1zM22 30h1v1h-1zM30 30h1v1h-1zM45 30h2v1h-2zM48 30h1v1h-1zM7.5 31h1v1h-1zM24.5 31h1v1h-1zM26.5 31h1v1h-1zM46.5 31h1v1h-1zM24 32h1v1h-1zM46 32h1v1h-1zM8.5 33h1v1h-1zM22.5 33h1v1h-1zM35.5 33h1v1h-1zM44.5 33h1v1h-1zM6 34h1v1h-1zM10 34h1v1h-1zM25 34h1v1h-1zM29 34h2v1h-2zM36 34h1v1h-1zM39 34h1v1h-1zM42 34h2v1h-2zM45 34h2v1h-2zM6.5 35h1v1h-1zM22.5 35h1v1h-1zM29.5 35h1v1h-1zM44.5 35h1v1h-1zM4 36h1v1h-1zM14 36h1v1h-1zM22 36h1v1h-1zM29 36h1v1h-1zM37 36h1v1h-1zM43 36h1v1h-1zM12.5 37h1v1h-1zM27.5 37h2v1h-2zM35.5 37h1v1h-1zM37.5 37h1v1h-1zM11 38h1v1h-1zM13 38h1v1h-1zM23 38h1v1h-1zM26 38h1v1h-1zM38 38h1v1h-1zM1.5 39h1v1h-1zM5.5 39h1v1h-1zM7.5 39h1v1h-1zM10.5 39h1v1h-1zM20.5 39h1v1h-1zM22.5 39h1v1h-1zM33.5 39h1v1h-1zM42.5 39h1v1h-1zM48.5 39h1v1h-1zM0 40h1v1h-1zM7 40h1v1h-1zM20 40h1v1h-1zM23 40h1v1h-1zM30 40h1v1h-1zM33 40h1v1h-1zM1.5 41h1v1h-1zM19.5 41h1v1h-1zM21.5 41h2v1h-2zM28.5 41h1v1h-1zM35.5 41h1v1h-1zM47.5 41h1v1h-1zM0 42h1v1h-1zM19 42h1v1h-1zM22 42h1v1h-1zM11.5 43h1v1h-1zM20.5 43h1v1h-1zM12 44h1v1h-1zM18 44h1v1h-1zM21 44h1v1h-1zM25 44h1v1h-1zM32 44h1v1h-1zM41 44h1v1h-1zM46 44h1v1h-1zM4.5 45h1v1h-1zM17.5 45h2v1h-2zM34.5 45h3v1h-3zM41.5 45h1v1h-1zM43.5 45h1v1h-1zM11 46h1v1h-1zM26 46h1v1h-1zM43 46h1v1h-1zM45 46h1v1h-1zM16.5 47h1v1h-1zM31.5 47h1v1h-1zM48.5 47h1v1h-1zM17 48h1v1h-1zM36 48h1v1h-1zM3.5 49h1v1h-1zM5.5 49h1v1h-1zM33.5 49h1v1h-1zM35.5 49h1v1h-1zM44.5 49h1v1h-1zM7 50h1v1h-1zM16 50h1v1h-1zM26 50h1v1h-1zM38 50h3v1h-3zM48 50h2v1h-2zM6.5 51h1v1h-1zM23.5 51h1v1h-1zM33.5 51h1v1h-1zM3 52h1v1h-1zM5 52h1v1h-1zM10 52h1v1h-1zM31 52h2v1h-2zM49 52h1v1h-1zM9.5 53h1v1h-1zM15.5 53h2v1h-2zM25.5 53h2v1h-2zM35.5 53h1v1h-1zM38.5 53h2v1h-2zM42.5 53h1v1h-1zM11 54h1v1h-1zM14 54h2v1h-2zM34 54h1v1h-1z"/>
<path fill="#000000" d="M7 0h1v1h-1zM12 0h1v1h-1zM15 0h1v1h-1zM5.5 1h1v1h-1zM7.5 1h2v1h-2zM11.5 1h3v1h-3zM4 2h2v1h-2zM7 2h2v1h-2zM10 2h2v1h-2zM15 2h1v1h-1zM10.5 3h1v1h-1zM13.5 3h2v1h-2zM6 4h1v1h-1zM13 4h2v1h-2zM16 4h1v1h-1zM32 4h2v1h-2zM37 4h1v1h-1zM2.5 5h1v1h-1zM5.5 5h3v1h-3zM11.5 5h1v1h-1zM14.5 5h1v1h-1zM30.5 5h1v1h-1zM33.5 5h3v1h-3zM37.5 5h1v1h-1zM6 6h1v1h-1zM9 6h2v1h-2zM12 6h2v1h-2zM15 6h3v1h-3zM30 6h1v1h-1zM34 6h1v1h-1zM37 6h1v1h-1zM39 6h2v1h-2zM44 6h1v1h-1zM2.5 7h1v1h-1zM6.5 7h1v1h-1zM9.5 7h1v1h-1zM13.5 7h1v1h-1zM19.5 7h1v1h-1zM22.5 7h1v1h-1zM39.5 7h1v1h-1zM42.5 7h1v1h-1zM45.5 7h1v1h-1zM3 8h1v1h-1zM8 8h1v1h-1zM10 8h2v1h-2zM15 8h3v1h-3zM21 8h1v1h-1zM23 8h1v1h-1zM31 8h2v1h-2zM37 8h3v1h-3zM47 8h1v1h-1zM4.5 9h1v1h-1zM7.5 9h1v1h-1zM13.5 9h2v1h-2zM16.5 9h1v1h-1zM18.5 9h1v1h-1zM20.5 9h2v1h-2zM33.5 9h1v1h-1zM35.5 9h2v1h-2zM41.5 9h1v1h-1zM43.5 9h1v1h-1zM45.5 9h1v1h-1zM3 10h1v1h-1zM5 10h1v1h-1zM9 10h1v1h-1zM11 10h1v1h-1zM14 10h3v1h-3zM18 10h2v1h-2zM29 10h1v1h-1zM31 10h2v1h-2zM36 10h1v1h-1zM45 10h2v1h-2zM2.5 11h1v1h-1zM5.5 11h1v1h-1zM11.5 11h1v1h-1zM13.5 11h1v1h-1zM15.5 11h2v1h-2zM18.5 11h1v1h-1zM30.5 11h1v1h-1zM33.5 11h1v1h-1zM35.5 11h1v1h-1zM38.5 11h2v1h-2zM43.5 11h1v1h-1zM5 12h1v1h-1zM7 12h2v1h-2zM14 12h5v1h-5zM21 12h2v1h-2zM31 12h2v1h-2zM34 12h3v1h-3zM38 12h1v1h-1zM40 12h1v1h-1zM43 12h3v1h-3zM2.5 13h1v1h-1zM4.5 13h2v1h-2zM8.5 13h2v1h-2zM11.5 13h1v1h-1zM13.5 13h1v1h-1zM27.5 13h1v1h-1zM30.5 13h1v1h-1zM33.5 13h1v1h-1zM39.5 13h1v1h-1zM42.5 13h1v1h-1zM46.5 13h1v1h-1zM3 14h3v1h-3zM8 14h1v1h-1zM13 14h2v1h-2zM17 14h3v1h-3zM21 14h1v1h-1zM31 14h1v1h-1zM34 14h1v1h-1zM36 14h1v1h-1zM38 14h2v1h-2zM43 14h2v1h-2zM47 14h1v1h-1zM2.5 15h1v1h-1zM8.5 15h1v1h-1zM14.5 15h1v1h-1zM16.5 15h1v1h-1zM21.5 15h1v1h-1zM23.5 15h3v1h-3zM30.5 15h2v1h-2zM33.5 15h2v1h-2zM39.5 15h5v1h-5zM45.5 15h1v1h-1zM4 16h1v1h-1zM8 16h3v1h-3zM12 16h1v1h-1zM14 16h1v1h-1zM16 16h1v1h-1zM19 16h1v1h-1zM30 16h2v1h-2zM33 16h1v1h-1zM42 16h2v1h-2zM45 16h1v1h-1zM6.5 17h1v1h-1zM14.5 17h3v1h-3zM18.5 17h1v1h-1zM30.5 17h3v1h-3zM35.5 17h2v1h-2zM39.5 17h1v1h-1zM10 18h1v1h-1zM28 18h3v1h-3zM33 18h1v1h-1zM36 18h2v1h-2zM40 18h1v1h-1zM42 18h3v1h-3zM46 18h2v1h-2zM49 18h1v1h-1zM7.5 19h2v1h-2zM13.5 19h2v1h-2zM24.5 19h2v1h-2zM29.5 19h1v1h-1zM36.5 19h2v1h-2zM40.5 19h2v1h-2zM43.5 19h1v1h-1zM45.5 19h1v1h-1zM48.5 19h1v1h-1zM6 20h3v1h-3zM21 20h2v1h-2zM25 20h1v1h-1zM35 20h1v1h-1zM37 20h1v1h-1zM44 20h1v1h-1zM47 20h3v1h-3zM2.5 21h1v1h-1zM14.5 21h2v1h-2zM17.5 21h2v1h-2zM23.5 21h2v1h-2zM42.5 21h1v1h-1zM44.5 21h1v1h-1zM46.5 21h2v1h-2zM49.5 21h1v1h-1zM3 22h2v1h-2zM14 22h1v1h-1zM17 22h3v1h-3zM22 22h2v1h-2zM38 22h1v1h-1zM41 22h3v1h-3zM49 22h1v1h-1zM8.5 23h1v1h-1zM12.5 23h1v1h-1zM19.5 23h1v1h-1zM21.5 23h3v1h-3zM28.5 23h1v1h-1zM34.5 23h1v1h-1zM37.5 23h1v1h-1zM42.5 23h1v1h-1zM48.5 23h1v1h-1zM3 24h2v1h-2zM13 24h1v1h-1zM18 24h2v1h-2zM21 24h1v1h-1zM23 24h4v1h-4zM30 24h2v1h-2zM34 24h1v1h-1zM49 24h1v1h-1zM5.5 25h1v1h-1zM8.5 25h3v1h-3zM12.5 25h2v1h-2zM21.5 25h1v1h-1zM23.5 25h1v1h-1zM25.5 25h2v1h-2zM28.5 25h1v1h-1zM31.5 25h1v1h-1zM34.5 25h1v1h-1zM39.5 25h3v1h-3zM6 26h4v1h-4zM13 26h4v1h-4zM22 26h4v1h-4zM27 26h2v1h-2zM30 26h1v1h-1zM38 26h1v1h-1zM3.5 27h2v1h-2zM6.5 27h2v1h-2zM9.5 27h6v1h-6zM16.5 27h3v1h-3zM21.5 27h1v1h-1zM25.5 27h2v1h-2zM28.5 27h1v1h-1zM31.5 27h1v1h-1zM33.5 27h1v1h-1zM35.5 27h4v1h-4zM40.5 27h1v1h-1zM42.5 27h1v1h-1zM4 28h5v1h-5zM10 28h3v1h-3zM15 28h2v1h-2zM19 28h3v1h-3zM27 28h1v1h-1zM29 28h2v1h-2zM32 28h1v1h-1zM42 28h1v1h-1zM4.5 29h1v1h-1zM6.5 29h2v1h-2zM9.5 29h1v1h-1zM20.5 29h3v1h-3zM24.5 29h1v1h-1zM27.5 29h2v1h-2zM33.5 29h1v1h-1zM35.5 29h1v1h-1zM48.5 29h1v1h-1zM7 30h1v1h-1zM9 30h3v1h-3zM13 30h1v1h-1zM16 30h1v1h-1zM20 30h1v1h-1zM25 30h1v1h-1zM29 30h1v1h-1zM31 30h1v1h-1zM34 30h1v1h-1zM39 30h1v1h-1zM44 30h1v1h-1zM2.5 31h1v1h-1zM5.5 31h1v1h-1zM8.5 31h3v1h-3zM14.5 31h2v1h-2zM17.5 31h2v1h-2zM27.5 31h1v1h-1zM29.5 31h3v1h-3zM36.5 31h3v1h-3zM45.5 31h1v1h-1zM6 32h1v1h-1zM9 32h1v1h-1zM11 32h2v1h-2zM14 32h3v1h-3zM26 32h1v1h-1zM32 32h6v1h-6zM40 32h1v1h-1zM43 32h1v1h-1zM45 32h1v1h-1zM2.5 33h1v1h-1zM4.5 33h2v1h-2zM10.5 33h1v1h-1zM12.5 33h2v1h-2zM15.5 33h1v1h-1zM24.5 33h1v1h-1zM26.5 33h1v1h-1zM29.5 33h1v1h-1zM32.5 33h1v1h-1zM34.5 33h1v1h-1zM36.5 33h4v1h-4zM41.5 33h1v1h-1zM45.5 33h2v1h-2zM7 34h3v1h-3zM12 34h1v1h-1zM14 34h1v1h-1zM24 34h1v1h-1zM26 34h3v1h-3zM31 34h1v1h-1zM37 34h2v1h-2zM2.5 35h1v1h-1zM5.5 35h1v1h-1zM8.5 35h1v1h-1zM24.5 35h1v1h-1zM26.5 35h1v1h-1zM28.5 35h1v1h-1zM30.5 35h3v1h-3zM34.5 35h1v1h-1zM36.5 35h1v1h-1zM38.5 35h2v1h-2zM41.5 35h1v1h-1zM6 36h4v1h-4zM11 36h1v1h-1zM23 36h3v1h-3zM27 36h1v1h-1zM33 36h2v1h-2zM36 36h1v1h-1zM48 36h1v1h-1zM2.5 37h1v1h-1zM5.5 37h1v1h-1zM7.5 37h4v1h-4zM22.5 37h2v1h-2zM25.5 37h2v1h-2zM29.5 37h4v1h-4zM41.5 37h2v1h-2zM22 38h1v1h-1zM28 38h1v1h-1zM31 38h2v1h-2zM34 38h2v1h-2zM37 38h1v1h-1zM39 38h2v1h-2zM42 38h1v1h-1zM47 38h1v1h-1zM0.5 39h1v1h-1zM6.5 39h1v1h-1zM9.5 39h1v1h-1zM11.5 39h1v1h-1zM21.5 39h1v1h-1zM23.5 39h1v1h-1zM25.5 39h4v1h-4zM31.5 39h1v1h-1zM34.5 39h2v1h-2zM41.5 39h1v1h-1zM3 40h1v1h-1zM5 40h2v1h-2zM9 40h2v1h-2zM12 40h1v1h-1zM27 40h1v1h-1zM29 40h1v1h-1zM32 40h1v1h-1zM35 40h1v1h-1zM37 40h2v1h-2zM41 40h1v1h-1zM48 40h1v1h-1zM3.5 41h1v1h-1zM5.5 41h1v1h-1zM7.5 41h1v1h-1zM9.5 41h2v1h-2zM24.5 41h1v1h-1zM29.5 41h3v1h-3zM39.5 41h3v1h-3zM48.5 41h2v1h-2zM2 42h3v1h-3zM6 42h1v1h-1zM23 42h3v1h-3zM27 42h2v1h-2zM35 42h6v1h-6zM42 42h1v1h-1zM48 42h1v1h-1zM3.5 43h1v1h-1zM10.5 43h1v1h-1zM26.5 43h1v1h-1zM28.5 43h1v1h-1zM30.5 43h2v1h-2zM33.5 43h1v1h-1zM38.5 43h1v1h-1zM41.5 43h1v1h-1zM46.5 43h3v1h-3zM1 44h3v1h-3zM5 44h2v1h-2zM9 44h3v1h-3zM20 44h1v1h-1zM24 44h1v1h-1zM26 44h2v1h-2zM29 44h2v1h-2zM35 44h1v1h-1zM37 44h1v1h-1zM49 44h1v1h-1zM3.5 45h1v1h-1zM8.5 45h1v1h-1zM20.5 45h2v1h-2zM23.5 45h1v1h-1zM31.5 45h3v1h-3zM42.5 45h1v1h-1zM47.5 45h3v1h-3zM2 46h1v1h-1zM5 46h1v1h-1zM9 46h1v1h-1zM19 46h1v1h-1zM21 46h1v1h-1zM24 46h1v1h-1zM27 46h1v1h-1zM29 46h1v1h-1zM32 46h1v1h-1zM36 46h1v1h-1zM44 46h1v1h-1zM47 46h1v1h-1zM49 46h1v1h-1zM1.5 47h2v1h-2zM4.5 47h3v1h-3zM20.5 47h1v1h-1zM22.5 47h7v1h-7zM30.5 47h1v1h-1zM32.5 47h2v1h-2zM36.5 47h1v1h-1zM40.5 47h1v1h-1zM42.5 47h1v1h-1zM46.5 47h2v1h-2zM2 48h4v1h-4zM7 48h2v1h-2zM22 48h1v1h-1zM25 48h1v1h-1zM27 48h1v1h-1zM39 48h1v1h-1zM41 48h3v1h-3zM46 48h1v1h-1zM6.5 49h2v1h-2zM19.5 49h1v1h-1zM21.5 49h3v1h-3zM26.5 49h3v1h-3zM31.5 49h1v1h-1zM39.5 49h1v1h-1zM45.5 49h1v1h-1zM47.5 49h2v1h-2zM6 50h1v1h-1zM9 50h2v1h-2zM18 50h1v1h-1zM20 50h3v1h-3zM27 50h6v1h-6zM41 50h1v1h-1zM43 50h1v1h-1zM46 50h2v1h-2zM2.5 51h1v1h-1zM4.5 51h1v1h-1zM8.5 51h1v1h-1zM17.5 51h1v1h-1zM22.5 51h1v1h-1zM24.5 51h2v1h-2zM27.5 51h2v1h-2zM30.5 51h1v1h-1zM4 52h1v1h-1zM7 52h2v1h-2zM22 52h3v1h-3zM26 52h2v1h-2zM48 52h1v1h-1zM7.5 53h2v1h-2zM17.5 53h2v1h-2zM20.5 53h3v1h-3zM24.5 53h1v1h-1zM28.5 53h1v1h-1zM32.5 53h1v1h-1zM34.5 53h1v1h-1zM9 54h1v1h-1zM20 54h1v1h-1zM25 54h1v1h-1zM27 54h2v1h-2zM30 54h2v1h-2zM33 54h1v1h-1zM37 54h1v1h-1zM39 54h1v1h-1zM41 54h2v1h-2zM47 54h3v1h-3z"/>
<path fill="#180c3c" d="M10 0h1v1h-1zM18.5 1h1v1h-1zM7.5 3h1v1h-1zM20 6h1v1h-1zM35.5 7h1v1h-1zM36 8h1v1h-1zM10 14h1v1h-1zM27.5 15h1v1h-1zM24.5 17h2v1h-2zM3 18h1v1h-1zM24 18h1v1h-1zM4 20h1v1h-1zM31 20h1v1h-1zM28.5 21h2v1h-2zM46 24h1v1h-1zM48.5 25h1v1h-1zM47.5 27h1v1h-1zM43.5 29h1v1h-1zM3 30h1v1h-1zM41 30h1v1h-1zM43 30h1v1h-1zM42.5 31h1v1h-1zM21 32h1v1h-1zM17.5 33h1v1h-1zM31.5 33h1v1h-1zM17 34h1v1h-1zM16.5 35h1v1h-1zM21.5 35h1v1h-1zM45 36h1v1h-1zM45.5 37h1v1h-1zM4 38h1v1h-1zM29 38h1v1h-1zM43 38h1v1h-1zM46 38h1v1h-1zM13.5 39h1v1h-1zM29.5 39h1v1h-1zM13 40h1v1h-1zM43 40h1v1h-1zM17.5 43h1v1h-1zM23.5 43h1v1h-1zM0 44h1v1h-1zM16.5 45h1v1h-1zM38.5 47h1v1h-1zM11.5 49h1v1h-1zM35.5 51h1v1h-1zM37.5 51h2v1h-2zM11 52h1v1h-1zM43 52h1v1h-1zM11.5 53h1v1h-1zM13.5 53h1v1h-1z"/>
<path fill="#180c30" d="M16 0h1v1h-1zM17.5 1h1v1h-1zM9.5 15h1v1h-1zM11.5 15h1v1h-1zM47.5 15h1v1h-1zM4.5 19h1v1h-1zM38.5 21h1v1h-1zM29 22h1v1h-1zM16.5 33h1v1h-1zM21.5 33h1v1h-1zM43.5 37h1v1h-1zM14 38h1v1h-1zM30.5 39h1v1h-1zM19 40h1v1h-1zM40 44h1v1h-1zM12.5 45h1v1h-1zM37 46h1v1h-1zM15 50h1v1h-1zM37 50h1v1h-1zM45.5 51h1v1h-1zM44 52h1v1h-1zM13 54h1v1h-1z"/>
<path fill="#300c54" d="M19 2h1v1h-1zM48 16h1v1h-1zM21 34h1v1h-1zM18.5 39h1v1h-1zM43.5 39h1v1h-1zM38 46h1v1h-1zM39.5 51h1v1h-1zM39 52h1v1h-1z"/>
<path fill="#78186c" d="M20 2h1v1h-1zM16.5 39h1v1h-1zM45 40h1v1h-1zM14.5 41h1v1h-1zM14 46h1v1h-1z"/>
<path fill="#300c60" d="M8.5 3h1v1h-1zM8 4h1v1h-1zM19.5 5h1v1h-1zM28 16h1v1h-1zM45.5 23h1v1h-1zM45 24h1v1h-1zM42 30h1v1h-1zM19 34h1v1h-1zM17.5 35h1v1h-1zM19.5 35h1v1h-1zM20 36h1v1h-1zM45.5 41h1v1h-1zM17 42h1v1h-1zM16 44h1v1h-1zM15.5 45h1v1h-1zM38.5 45h1v1h-1zM39 46h1v1h-1zM15.5 47h1v1h-1zM12 48h1v1h-1zM14 50h1v1h-1zM36.5 51h1v1h-1zM12 52h2v1h-2zM41 52h1v1h-1z"/>
<path fill="#0c0c24" d="M9.5 3h1v1h-1zM18.5 3h1v1h-1zM11 6h1v1h-1zM21 6h1v1h-1zM7.5 7h1v1h-1zM11.5 7h1v1h-1zM34.5 7h1v1h-1zM36.5 7h1v1h-1zM33 8h2v1h-2zM47 10h1v1h-1zM41.5 11h1v1h-1zM10.5 15h1v1h-1zM3 16h1v1h-1zM24 16h1v1h-1zM3.5 17h1v1h-1zM21.5 17h2v1h-2zM4 18h1v1h-1zM19 18h1v1h-1zM20.5 19h3v1h-3zM12 20h1v1h-1zM30 20h1v1h-1zM12.5 21h1v1h-1zM30.5 21h1v1h-1zM32.5 21h2v1h-2zM37.5 21h1v1h-1zM45.5 21h1v1h-1zM7 22h1v1h-1zM30 22h1v1h-1zM33 22h1v1h-1zM7.5 23h1v1h-1zM17.5 23h1v1h-1zM31.5 23h1v1h-1zM44.5 23h1v1h-1zM43 24h1v1h-1zM47 24h2v1h-2zM46.5 25h1v1h-1zM44 26h1v1h-1zM22 28h1v1h-1zM40 28h1v1h-1zM43 28h2v1h-2zM46 28h1v1h-1zM11.5 29h2v1h-2zM23.5 29h1v1h-1zM40.5 29h1v1h-1zM42.5 29h1v1h-1zM18 30h1v1h-1zM4.5 31h1v1h-1zM19.5 31h2v1h-2zM17 32h1v1h-1zM16 34h1v1h-1zM23 34h1v1h-1zM15.5 35h1v1h-1zM46 36h1v1h-1zM4.5 37h1v1h-1zM14.5 37h1v1h-1zM20 38h2v1h-2zM47.5 39h1v1h-1zM22 40h1v1h-1zM18.5 41h1v1h-1zM46.5 41h1v1h-1zM12 42h1v1h-1zM18 42h1v1h-1zM46 42h1v1h-1zM1.5 43h1v1h-1zM22.5 43h1v1h-1zM44.5 43h1v1h-1zM17 44h1v1h-1zM38 44h1v1h-1zM37.5 45h1v1h-1zM16 48h1v1h-1zM10.5 49h1v1h-1zM15.5 49h1v1h-1zM36.5 49h3v1h-3zM15.5 51h1v1h-1zM43.5 51h2v1h-2zM15 52h1v1h-1zM36 52h2v1h-2zM45 52h1v1h-1zM40.5 53h1v1h-1zM43.5 53h1v1h-1z"/>
<path fill="#90246c" d="M19.5 3h1v1h-1zM17.5 37h1v1h-1zM44 40h1v1h-1z"/>
<path fill="#240c48" d="M20.5 3h1v1h-1zM48.5 17h1v1h-1zM19.5 19h1v1h-1zM10.5 21h1v1h-1zM46 26h2v1h-2zM18.5 33h1v1h-1zM20.5 33h1v1h-1zM19.5 37h1v1h-1zM30 38h1v1h-1zM3.5 39h1v1h-1zM13 42h1v1h-1zM13 44h1v1h-1zM12.5 47h1v1h-1zM15 48h1v1h-1zM36 50h1v1h-1zM11.5 51h1v1h-1zM38 52h1v1h-1z"/>
<path fill="#240c54" d="M7 4h1v1h-1zM19 4h1v1h-1zM20.5 5h1v1h-1zM9.5 21h1v1h-1zM45.5 25h1v1h-1zM45 26h1v1h-1zM48 26h1v1h-1zM18 34h1v1h-1zM20.5 35h1v1h-1zM15.5 37h1v1h-1zM19 38h1v1h-1zM13.5 43h1v1h-1zM39 44h1v1h-1zM40.5 45h1v1h-1zM13 46h1v1h-1zM14.5 49h1v1h-1zM40.5 51h1v1h-1zM14 52h1v1h-1zM40 52h1v1h-1zM42 52h1v1h-1zM12.5 53h1v1h-1z"/>
<path fill="#3c0c60" d="M20 4h1v1h-1zM20 34h1v1h-1zM15 38h1v1h-1zM18 38h1v1h-1zM18 40h1v1h-1zM16.5 43h1v1h-1zM14 44h1v1h-1zM13.5 45h1v1h-1zM13 48h2v1h-2z"/>
<path fill="#0c0018" d="M18.5 5h1v1h-1zM42.5 9h1v1h-1zM24 12h1v1h-1zM41 12h1v1h-1zM28.5 15h1v1h-1zM46.5 15h1v1h-1zM17 16h1v1h-1zM27 16h1v1h-1zM12.5 17h1v1h-1zM15 18h1v1h-1zM20 18h1v1h-1zM23 18h1v1h-1zM45 18h1v1h-1zM3.5 19h1v1h-1zM27.5 19h1v1h-1zM32 20h1v1h-1zM4.5 21h1v1h-1zM35.5 21h2v1h-2zM32 22h1v1h-1zM44 22h1v1h-1zM47 22h1v1h-1zM46.5 23h1v1h-1zM3.5 25h1v1h-1zM30.5 25h1v1h-1zM47.5 25h1v1h-1zM18 26h1v1h-1zM8.5 27h1v1h-1zM43.5 27h1v1h-1zM31 28h1v1h-1zM39 28h1v1h-1zM13.5 29h1v1h-1zM44.5 29h1v1h-1zM46.5 29h2v1h-2zM18 32h1v1h-1zM22 32h1v1h-1zM29 32h3v1h-3zM11.5 33h1v1h-1zM30.5 33h1v1h-1zM22 34h1v1h-1zM10 36h1v1h-1zM35 36h1v1h-1zM21.5 37h1v1h-1zM46.5 37h1v1h-1zM12.5 39h1v1h-1zM19.5 39h1v1h-1zM46.5 39h1v1h-1zM12.5 41h1v1h-1zM20.5 41h1v1h-1zM31 42h1v1h-1zM34 44h1v1h-1zM44 44h2v1h-2zM11.5 45h1v1h-1zM17 46h1v1h-1zM11.5 47h1v1h-1zM18.5 47h1v1h-1zM11 48h1v1h-1zM41.5 49h1v1h-1zM4 50h1v1h-1zM46 52h2v1h-2zM6.5 53h1v1h-1zM41.5 53h1v1h-1zM45.5 53h1v1h-1zM12 54h1v1h-1z"/>
<path fill="#540c6c" d="M32 6h1v1h-1zM28 12h1v1h-1zM16 38h1v1h-1zM14.5 39h1v1h-1zM43.5 41h1v1h-1zM14 42h1v1h-1zM15 44h1v1h-1zM39.5 45h1v1h-1zM12.5 49h1v1h-1z"/>
<path fill="#e46030" d="M33 6h1v1h-1z"/>
<path fill="#3c0c6c" d="M29 12h1v1h-1zM19 36h1v1h-1zM44.5 37h1v1h-1zM44 38h1v1h-1zM45.5 39h1v1h-1zM44 42h1v1h-1zM13.5 49h1v1h-1zM12 50h2v1h-2zM12.5 51h1v1h-1z"/>
<path fill="#0c0c30" d="M35.5 13h1v1h-1zM11 14h1v1h-1zM12.5 15h1v1h-1zM20.5 17h1v1h-1zM27.5 17h1v1h-1zM46.5 17h2v1h-2zM48 18h1v1h-1zM11 20h1v1h-1zM8.5 21h1v1h-1zM11.5 21h1v1h-1zM26.5 21h1v1h-1zM28 22h1v1h-1zM30.5 23h1v1h-1zM44 24h1v1h-1zM44.5 27h1v1h-1zM46.5 27h1v1h-1zM48.5 27h1v1h-1zM38 28h1v1h-1zM45 28h1v1h-1zM14.5 29h1v1h-1zM19 32h2v1h-2zM14.5 35h1v1h-1zM15 36h1v1h-1zM21 36h1v1h-1zM44 36h1v1h-1zM20.5 37h1v1h-1zM2.5 39h1v1h-1zM0.5 43h1v1h-1zM12.5 43h1v1h-1zM23 44h1v1h-1zM12 46h1v1h-1zM40 46h1v1h-1zM39.5 47h1v1h-1zM11 50h1v1h-1zM14.5 51h1v1h-1zM35 52h1v1h-1zM14.5 53h1v1h-1z"/>
<path fill="#180c48" d="M47 16h1v1h-1zM21 18h2v1h-2zM19 20h1v1h-1zM31.5 21h1v1h-1zM44.5 25h1v1h-1zM45.5 27h1v1h-1zM38.5 29h1v1h-1zM41.5 29h1v1h-1zM4 30h1v1h-1zM3.5 31h1v1h-1zM16 36h1v1h-1zM3 38h1v1h-1zM46 40h1v1h-1zM45 42h1v1h-1zM16 46h1v1h-1zM35 50h1v1h-1zM41.5 51h2v1h-2z"/>
<path fill="#480c6c" d="M19.5 33h1v1h-1zM18.5 35h1v1h-1zM16.5 37h1v1h-1zM45 38h1v1h-1zM14 40h1v1h-1zM13.5 41h1v1h-1zM17.5 41h1v1h-1zM13.5 47h1v1h-1zM13.5 51h1v1h-1z"/>
<path fill="#84246c" d="M17 36h2v1h-2zM15 40h2v1h-2zM16.5 41h1v1h-1zM15 42h1v1h-1zM15 46h1v1h-1z"/>
<path fill="#600c6c" d="M18.5 37h1v1h-1zM14.5 45h1v1h-1z"/>
<path fill="#60186c" d="M17 38h1v1h-1zM15.5 39h1v1h-1zM17.5 39h1v1h-1zM14.5 43h2v1h-2z"/>
<path fill="#6c186c" d="M44.5 39h1v1h-1zM17 40h1v1h-1zM16 42h1v1h-1zM14.5 47h1v1h-1z"/>
<path fill="#9c2460" d="M15.5 41h1v1h-1z"/>
<path fill="#b43054" d="M44.5 41h1v1h-1z"/>
</g></g>
<path d="M665.8 520.6L671.8 520.6M667.5 570.5L669.9 573.9L667.5 579.2M669.4 571.9L671.3 570.5M680.7 577.5L681.1 577.5M691.9 573.4L694.5 569.0L697.1 568.1M708.0 570.0L711.4 565.0M706.4 577.5L706.8 577.5M691.4 542.8L691.8 542.8" stroke="#fff" stroke-width="1.93" stroke-linecap="round" stroke-linejoin="round" fill="none"/>
<circle cx="631.2" cy="425.1" r="1.3" fill="#000004"/>
<text x="655.0" y="412.0" font-size="11.4" text-anchor="middle" textLength="73.3" lengthAdjust="spacingAndGlyphs">CD8+ T cells</text>
<defs><linearGradient id="cb2" x1="0" x2="0" y1="0" y2="1"><stop offset="0.000" stop-color="#fcffa4"/><stop offset="0.062" stop-color="#f2ea69"/><stop offset="0.125" stop-color="#f9cb35"/><stop offset="0.188" stop-color="#fcac11"/><stop offset="0.250" stop-color="#f98e09"/><stop offset="0.312" stop-color="#f1731d"/><stop offset="0.375" stop-color="#e45a31"/><stop offset="0.438" stop-color="#d24644"/><stop offset="0.500" stop-color="#bc3754"/><stop offset="0.562" stop-color="#a32c61"/><stop offset="0.625" stop-color="#8a226a"/><stop offset="0.688" stop-color="#71196e"/><stop offset="0.750" stop-color="#57106e"/><stop offset="0.812" stop-color="#3d0965"/><stop offset="0.875" stop-color="#210c4a"/><stop offset="0.938" stop-color="#0b0724"/><stop offset="1.000" stop-color="#000004"/></linearGradient></defs>
<rect x="734.4" y="416.0" width="6.3" height="170.4" fill="url(#cb2)" stroke="#000" stroke-width="0.8"/>
<text x="745.8" y="445.5" font-size="11.5" textLength="25.6" lengthAdjust="spacingAndGlyphs">0.25</text>
<text x="745.8" y="475.6" font-size="11.5" textLength="25.6" lengthAdjust="spacingAndGlyphs">0.20</text>
<text x="745.8" y="505.7" font-size="11.5" textLength="25.6" lengthAdjust="spacingAndGlyphs">0.15</text>
<text x="745.8" y="535.8" font-size="11.5" textLength="25.6" lengthAdjust="spacingAndGlyphs">0.10</text>
<text x="745.8" y="565.9" font-size="11.5" textLength="25.6" lengthAdjust="spacingAndGlyphs">0.05</text>
<path d="M740.7 441.3h3.3M740.7 471.4h3.3M740.7 501.5h3.3M740.7 531.6h3.3M740.7 561.7h3.3" stroke="#000" stroke-width="0.8"/>
<g><g transform="translate(584.12 616.97) scale(2.784)" shape-rendering="crispEdges">
<path fill="#e4f0e4" d="M4 0h2v1h-2zM12.5 1h1v1h-1zM17.5 1h1v1h-1zM3 2h1v1h-1zM8 2h1v1h-1zM12 2h1v1h-1zM3.5 3h3v1h-3zM7.5 3h1v1h-1zM11.5 3h1v1h-1zM5 4h1v1h-1zM12 4h1v1h-1zM32 4h1v1h-1zM37 4h1v1h-1zM18.5 5h1v1h-1zM33.5 5h3v1h-3zM4 6h1v1h-1zM8 6h1v1h-1zM19 6h2v1h-2zM32 6h2v1h-2zM3.5 7h1v1h-1zM6.5 7h1v1h-1zM9.5 7h1v1h-1zM12.5 7h1v1h-1zM42.5 7h1v1h-1zM3 8h1v1h-1zM9 8h2v1h-2zM29 8h3v1h-3zM37 8h1v1h-1zM44 8h3v1h-3zM2.5 9h2v1h-2zM6.5 9h1v1h-1zM13.5 9h1v1h-1zM29.5 9h1v1h-1zM33.5 9h2v1h-2zM36.5 9h2v1h-2zM40.5 9h1v1h-1zM6 10h1v1h-1zM19 10h1v1h-1zM39 10h1v1h-1zM42 10h1v1h-1zM44 10h1v1h-1zM6.5 11h1v1h-1zM12.5 11h2v1h-2zM19.5 11h1v1h-1zM21.5 11h1v1h-1zM29.5 11h1v1h-1zM31.5 11h1v1h-1zM35.5 11h1v1h-1zM39.5 11h1v1h-1zM45.5 11h1v1h-1zM6 12h1v1h-1zM20 12h1v1h-1zM37 12h1v1h-1zM40 12h2v1h-2zM43 12h1v1h-1zM21.5 13h1v1h-1zM23.5 13h1v1h-1zM31.5 13h1v1h-1zM38.5 13h1v1h-1zM44.5 13h1v1h-1zM3 14h1v1h-1zM6 14h1v1h-1zM22 14h1v1h-1zM26 14h2v1h-2zM30 14h1v1h-1zM41 14h1v1h-1zM43 14h1v1h-1zM46 14h1v1h-1zM2.5 15h1v1h-1zM5.5 15h1v1h-1zM12.5 15h1v1h-1zM22.5 15h2v1h-2zM27.5 15h1v1h-1zM30.5 15h1v1h-1zM34.5 15h1v1h-1zM36.5 15h1v1h-1zM43.5 15h2v1h-2zM4 16h1v1h-1zM10 16h1v1h-1zM27 16h1v1h-1zM31 16h1v1h-1zM34 16h2v1h-2zM40 16h1v1h-1zM46 16h1v1h-1zM19.5 17h1v1h-1zM21.5 17h2v1h-2zM25.5 17h1v1h-1zM28.5 17h1v1h-1zM38.5 17h1v1h-1zM6 18h1v1h-1zM8 18h1v1h-1zM21 18h1v1h-1zM24 18h2v1h-2zM27 18h2v1h-2zM38 18h1v1h-1zM41 18h1v1h-1zM46 18h2v1h-2zM5.5 19h3v1h-3zM9.5 19h1v1h-1zM11.5 19h1v1h-1zM15.5 19h1v1h-1zM17.5 19h1v1h-1zM20.5 19h1v1h-1zM24.5 19h1v1h-1zM26.5 19h1v1h-1zM37.5 19h1v1h-1zM44.5 19h1v1h-1zM3 20h3v1h-3zM7 20h1v1h-1zM9 20h1v1h-1zM13 20h2v1h-2zM21 20h1v1h-1zM30 20h2v1h-2zM33 20h1v1h-1zM36 20h1v1h-1zM48 20h1v1h-1zM3.5 21h1v1h-1zM19.5 21h1v1h-1zM23.5 21h1v1h-1zM28.5 21h1v1h-1zM33.5 21h1v1h-1zM46.5 21h1v1h-1zM49.5 21h1v1h-1zM22 22h2v1h-2zM38 22h2v1h-2zM43 22h2v1h-2zM46 22h1v1h-1zM11.5 23h1v1h-1zM15.5 23h1v1h-1zM13 24h2v1h-2zM16 24h1v1h-1zM23 24h1v1h-1zM30 24h1v1h-1zM33 24h1v1h-1zM36 24h1v1h-1zM41 24h1v1h-1zM43 24h1v1h-1zM10.5 25h1v1h-1zM20.5 25h2v1h-2zM25.5 25h1v1h-1zM36.5 25h1v1h-1zM46.5 25h1v1h-1zM8 26h2v1h-2zM11 26h2v1h-2zM17 26h1v1h-1zM20 26h1v1h-1zM24 26h1v1h-1zM32 26h1v1h-1zM35 26h1v1h-1zM38 26h1v1h-1zM41 26h1v1h-1zM4.5 27h1v1h-1zM8.5 27h4v1h-4zM14.5 27h1v1h-1zM19.5 27h1v1h-1zM31.5 27h3v1h-3zM41.5 27h1v1h-1zM43.5 27h1v1h-1zM46.5 27h1v1h-1zM7 28h1v1h-1zM9 28h1v1h-1zM26 28h1v1h-1zM39 28h2v1h-2zM42 28h1v1h-1zM4.5 29h1v1h-1zM7.5 29h1v1h-1zM11.5 29h1v1h-1zM24.5 29h1v1h-1zM27.5 29h2v1h-2zM30.5 29h3v1h-3zM34.5 29h1v1h-1zM39.5 29h3v1h-3zM45.5 29h1v1h-1zM47.5 29h1v1h-1zM3 30h1v1h-1zM6 30h4v1h-4zM21 30h1v1h-1zM4.5 31h1v1h-1zM18.5 31h1v1h-1zM21.5 31h1v1h-1zM28.5 31h1v1h-1zM32.5 31h1v1h-1zM38.5 31h2v1h-2zM43.5 31h3v1h-3zM6 32h1v1h-1zM8 32h1v1h-1zM10 32h1v1h-1zM13 32h2v1h-2zM24 32h1v1h-1zM42 32h1v1h-1zM44 32h1v1h-1zM5.5 33h1v1h-1zM15.5 33h1v1h-1zM17.5 33h1v1h-1zM20.5 33h1v1h-1zM33.5 33h1v1h-1zM35.5 33h1v1h-1zM39.5 33h1v1h-1zM44.5 33h1v1h-1zM5 34h1v1h-1zM7 34h2v1h-2zM13 34h1v1h-1zM27 34h1v1h-1zM34 34h1v1h-1zM38 34h1v1h-1zM45 34h1v1h-1zM3.5 35h1v1h-1zM5.5 35h1v1h-1zM20.5 35h1v1h-1zM28.5 35h1v1h-1zM32.5 35h2v1h-2zM38.5 35h3v1h-3zM47.5 35h1v1h-1zM14 36h1v1h-1zM16 36h1v1h-1zM19 36h1v1h-1zM21 36h1v1h-1zM24 36h1v1h-1zM30 36h1v1h-1zM32 36h1v1h-1zM35 36h1v1h-1zM45 36h1v1h-1zM47 36h2v1h-2zM2.5 37h1v1h-1zM22.5 37h1v1h-1zM24.5 37h1v1h-1zM31.5 37h1v1h-1zM38.5 37h1v1h-1zM43.5 37h1v1h-1zM45.5 37h1v1h-1zM6 38h1v1h-1zM16 38h1v1h-1zM40 38h2v1h-2zM49 38h1v1h-1zM4.5 39h1v1h-1zM18.5 39h1v1h-1zM27.5 39h2v1h-2zM37.5 39h1v1h-1zM39.5 39h1v1h-1zM41.5 39h1v1h-1zM1 40h1v1h-1zM12 40h1v1h-1zM23 40h1v1h-1zM30 40h2v1h-2zM38 40h1v1h-1zM48 40h2v1h-2zM0.5 41h1v1h-1zM5.5 41h1v1h-1zM23.5 41h1v1h-1zM27.5 41h1v1h-1zM36.5 41h1v1h-1zM44.5 41h1v1h-1zM46.5 41h1v1h-1zM48.5 41h1v1h-1zM4 42h1v1h-1zM22 42h2v1h-2zM25 42h1v1h-1zM30 42h1v1h-1zM48 42h1v1h-1zM1.5 43h1v1h-1zM4.5 43h1v1h-1zM22.5 43h1v1h-1zM32.5 43h1v1h-1zM35.5 43h1v1h-1zM39.5 43h1v1h-1zM46.5 43h2v1h-2zM49.5 43h1v1h-1zM3 44h1v1h-1zM9 44h1v1h-1zM11 44h1v1h-1zM17 44h1v1h-1zM27 44h2v1h-2zM32 44h1v1h-1zM37 44h1v1h-1zM48 44h1v1h-1zM6.5 45h1v1h-1zM13.5 45h1v1h-1zM15.5 45h1v1h-1zM22.5 45h1v1h-1zM32.5 45h1v1h-1zM36.5 45h1v1h-1zM39.5 45h1v1h-1zM41.5 45h1v1h-1zM11 46h1v1h-1zM16 46h1v1h-1zM21 46h2v1h-2zM24 46h2v1h-2zM34 46h1v1h-1zM38 46h4v1h-4zM1.5 47h1v1h-1zM3.5 47h1v1h-1zM6.5 47h1v1h-1zM9.5 47h2v1h-2zM15.5 47h1v1h-1zM22.5 47h1v1h-1zM25.5 47h2v1h-2zM30.5 47h2v1h-2zM36.5 47h1v1h-1zM40.5 47h1v1h-1zM43.5 47h1v1h-1zM31 48h2v1h-2zM41 48h1v1h-1zM48 48h2v1h-2zM5.5 49h1v1h-1zM9.5 49h1v1h-1zM11.5 49h1v1h-1zM13.5 49h1v1h-1zM23.5 49h1v1h-1zM27.5 49h2v1h-2zM40.5 49h1v1h-1zM43.5 49h2v1h-2zM46.5 49h1v1h-1zM48.5 49h1v1h-1zM5 50h1v1h-1zM10 50h1v1h-1zM14 50h1v1h-1zM24 50h1v1h-1zM27 50h2v1h-2zM30 50h2v1h-2zM44 50h2v1h-2zM2.5 51h1v1h-1zM8.5 51h1v1h-1zM12.5 51h1v1h-1zM20.5 51h1v1h-1zM22.5 51h2v1h-2zM35.5 51h1v1h-1zM39.5 51h1v1h-1zM46.5 51h1v1h-1zM3 52h1v1h-1zM11 52h1v1h-1zM15 52h1v1h-1zM26 52h1v1h-1zM30 52h1v1h-1zM45 52h1v1h-1zM9.5 53h1v1h-1zM17.5 53h1v1h-1zM23.5 53h1v1h-1zM25.5 53h1v1h-1zM35.5 53h2v1h-2zM13 54h1v1h-1zM26 54h1v1h-1zM32 54h1v1h-1zM34 54h2v1h-2zM40 54h1v1h-1zM44 54h2v1h-2z"/>
<path fill="#f0fcf0" d="M6 0h1v1h-1zM10 0h1v1h-1zM4.5 1h1v1h-1zM8.5 1h1v1h-1zM11.5 1h1v1h-1zM16.5 1h1v1h-1zM4 2h1v1h-1zM6 2h1v1h-1zM17 2h1v1h-1zM6.5 3h1v1h-1zM10.5 3h1v1h-1zM12.5 3h1v1h-1zM7 4h1v1h-1zM19 4h1v1h-1zM30 4h1v1h-1zM36 4h1v1h-1zM3.5 5h1v1h-1zM7.5 5h1v1h-1zM12.5 5h1v1h-1zM13 6h1v1h-1zM17 6h1v1h-1zM30 6h1v1h-1zM34 6h2v1h-2zM7.5 7h1v1h-1zM22.5 7h1v1h-1zM34.5 7h1v1h-1zM41.5 7h1v1h-1zM20 8h1v1h-1zM35 8h1v1h-1zM41 8h1v1h-1zM4.5 9h1v1h-1zM12.5 9h1v1h-1zM32.5 9h1v1h-1zM44.5 9h1v1h-1zM5 10h1v1h-1zM10 10h1v1h-1zM23 10h1v1h-1zM28 10h1v1h-1zM31 10h4v1h-4zM43 10h1v1h-1zM2.5 11h1v1h-1zM18.5 11h1v1h-1zM22.5 11h1v1h-1zM28.5 11h1v1h-1zM36.5 11h1v1h-1zM43.5 11h2v1h-2zM11 12h1v1h-1zM28 12h1v1h-1zM33 12h1v1h-1zM39 12h1v1h-1zM45 12h2v1h-2zM3.5 13h1v1h-1zM5.5 13h2v1h-2zM19.5 13h2v1h-2zM34.5 13h2v1h-2zM45.5 13h1v1h-1zM18 14h1v1h-1zM20 14h1v1h-1zM31 14h1v1h-1zM37 14h1v1h-1zM40 14h1v1h-1zM42 14h1v1h-1zM47 14h1v1h-1zM18.5 15h1v1h-1zM24.5 15h1v1h-1zM32.5 15h1v1h-1zM35.5 15h1v1h-1zM38.5 15h1v1h-1zM42.5 15h1v1h-1zM45.5 15h1v1h-1zM47.5 15h1v1h-1zM3 16h1v1h-1zM13 16h1v1h-1zM19 16h1v1h-1zM21 16h2v1h-2zM28 16h1v1h-1zM33 16h1v1h-1zM41 16h1v1h-1zM45 16h1v1h-1zM6.5 17h1v1h-1zM23.5 17h1v1h-1zM44.5 17h1v1h-1zM9 18h1v1h-1zM13 18h1v1h-1zM18 18h1v1h-1zM31 18h1v1h-1zM39 18h1v1h-1zM42 18h1v1h-1zM4.5 19h1v1h-1zM23.5 19h1v1h-1zM28.5 19h1v1h-1zM36.5 19h1v1h-1zM38.5 19h1v1h-1zM15 20h1v1h-1zM17 20h1v1h-1zM27 20h1v1h-1zM32 20h1v1h-1zM47 20h1v1h-1zM17.5 21h1v1h-1zM22.5 21h1v1h-1zM32.5 21h1v1h-1zM45.5 21h1v1h-1zM20 22h1v1h-1zM35 22h1v1h-1zM25.5 23h1v1h-1zM30.5 23h1v1h-1zM34.5 23h1v1h-1zM40.5 23h1v1h-1zM43.5 23h1v1h-1zM48.5 23h2v1h-2zM19 24h1v1h-1zM37 24h1v1h-1zM23.5 25h1v1h-1zM30.5 25h1v1h-1zM41.5 25h1v1h-1zM45.5 25h1v1h-1zM14 26h1v1h-1zM18 26h1v1h-1zM22 26h1v1h-1zM25 26h1v1h-1zM36 26h1v1h-1zM44 26h1v1h-1zM16.5 27h1v1h-1zM21.5 27h1v1h-1zM23.5 27h1v1h-1zM34.5 27h1v1h-1zM39.5 27h1v1h-1zM48.5 27h1v1h-1zM22 28h2v1h-2zM45 28h3v1h-3zM17.5 29h1v1h-1zM21.5 29h1v1h-1zM15 30h1v1h-1zM17 30h1v1h-1zM20 30h1v1h-1zM23 30h1v1h-1zM25 30h1v1h-1zM31 30h1v1h-1zM2.5 31h1v1h-1zM10.5 31h1v1h-1zM14.5 31h1v1h-1zM22.5 31h1v1h-1zM24.5 31h1v1h-1zM26.5 31h1v1h-1zM29.5 31h1v1h-1zM33.5 31h2v1h-2zM36.5 31h2v1h-2zM41.5 31h2v1h-2zM46.5 31h1v1h-1zM7 32h1v1h-1zM9 32h1v1h-1zM11 32h1v1h-1zM18 32h2v1h-2zM22 32h1v1h-1zM25 32h2v1h-2zM28 32h2v1h-2zM33 32h1v1h-1zM36 32h2v1h-2zM39 32h1v1h-1zM10.5 33h2v1h-2zM24.5 33h1v1h-1zM30.5 33h2v1h-2zM37.5 33h2v1h-2zM12 34h1v1h-1zM17 34h1v1h-1zM19 34h1v1h-1zM25 34h1v1h-1zM36 34h1v1h-1zM9.5 35h2v1h-2zM13.5 35h1v1h-1zM16.5 35h1v1h-1zM18.5 35h1v1h-1zM26.5 35h1v1h-1zM30.5 35h1v1h-1zM46.5 35h1v1h-1zM3 36h1v1h-1zM28 36h2v1h-2zM31 36h1v1h-1zM7.5 37h1v1h-1zM17.5 37h1v1h-1zM19.5 37h2v1h-2zM26.5 37h1v1h-1zM30.5 37h1v1h-1zM36.5 37h1v1h-1zM9 38h1v1h-1zM18 38h1v1h-1zM23 38h1v1h-1zM27 38h1v1h-1zM32 38h1v1h-1zM34 38h1v1h-1zM3.5 39h1v1h-1zM15.5 39h1v1h-1zM29.5 39h1v1h-1zM34.5 39h1v1h-1zM5 40h1v1h-1zM8 40h1v1h-1zM11 40h1v1h-1zM15 40h2v1h-2zM19 40h2v1h-2zM26 40h2v1h-2zM32 40h1v1h-1zM36 40h1v1h-1zM39 40h1v1h-1zM15.5 41h1v1h-1zM20.5 41h2v1h-2zM31.5 41h1v1h-1zM33.5 41h1v1h-1zM8 42h1v1h-1zM24 42h1v1h-1zM29 42h1v1h-1zM34 42h1v1h-1zM38 42h1v1h-1zM2.5 43h2v1h-2zM7.5 43h1v1h-1zM9.5 43h1v1h-1zM14.5 43h1v1h-1zM16.5 43h1v1h-1zM23.5 43h1v1h-1zM29.5 43h1v1h-1zM37.5 43h2v1h-2zM4 44h1v1h-1zM18 44h1v1h-1zM23 44h1v1h-1zM31 44h1v1h-1zM33 44h1v1h-1zM1.5 45h1v1h-1zM5.5 45h1v1h-1zM8.5 45h1v1h-1zM24.5 45h1v1h-1zM26.5 45h1v1h-1zM28.5 45h1v1h-1zM5 46h1v1h-1zM15 46h1v1h-1zM17 46h2v1h-2zM27 46h1v1h-1zM29 46h1v1h-1zM8.5 47h1v1h-1zM13.5 47h1v1h-1zM16.5 47h1v1h-1zM19.5 47h1v1h-1zM23.5 47h2v1h-2zM28.5 47h2v1h-2zM34.5 47h1v1h-1zM37.5 47h1v1h-1zM11 48h2v1h-2zM16 48h1v1h-1zM19 48h2v1h-2zM22 48h1v1h-1zM24 48h2v1h-2zM34 48h1v1h-1zM2.5 49h1v1h-1zM8.5 49h1v1h-1zM10.5 49h1v1h-1zM12.5 49h1v1h-1zM19.5 49h2v1h-2zM32.5 49h1v1h-1zM42.5 49h1v1h-1zM9 50h1v1h-1zM13 50h1v1h-1zM17 50h3v1h-3zM22 50h1v1h-1zM26 50h1v1h-1zM42 50h1v1h-1zM13.5 51h1v1h-1zM27.5 51h1v1h-1zM32.5 51h1v1h-1zM36.5 51h1v1h-1zM43.5 51h1v1h-1zM47.5 51h1v1h-1zM13 52h1v1h-1zM27 52h1v1h-1zM42 52h1v1h-1zM5.5 53h1v1h-1zM16.5 53h1v1h-1zM28.5 53h1v1h-1zM31.5 53h1v1h-1zM37.5 53h2v1h-2zM41.5 53h1v1h-1zM11 54h2v1h-2zM15 54h1v1h-1zM20 54h1v1h-1zM36 54h4v1h-4z"/>
<path fill="#f0f0f0" d="M7 0h1v1h-1zM11 0h1v1h-1zM3.5 1h1v1h-1zM5.5 1h2v1h-2zM10.5 1h1v1h-1zM5 2h1v1h-1zM11 2h1v1h-1zM19 2h2v1h-2zM9.5 3h1v1h-1zM17.5 3h3v1h-3zM6 4h1v1h-1zM8 4h4v1h-4zM13 4h1v1h-1zM18 4h1v1h-1zM20 4h1v1h-1zM31 4h1v1h-1zM33 4h1v1h-1zM35 4h1v1h-1zM2.5 5h1v1h-1zM4.5 5h1v1h-1zM8.5 5h1v1h-1zM17.5 5h1v1h-1zM19.5 5h2v1h-2zM30.5 5h1v1h-1zM37.5 5h2v1h-2zM6 6h2v1h-2zM9 6h1v1h-1zM12 6h1v1h-1zM18 6h1v1h-1zM31 6h1v1h-1zM36 6h1v1h-1zM38 6h1v1h-1zM44 6h1v1h-1zM2.5 7h1v1h-1zM4.5 7h1v1h-1zM13.5 7h1v1h-1zM18.5 7h1v1h-1zM20.5 7h1v1h-1zM29.5 7h2v1h-2zM33.5 7h1v1h-1zM35.5 7h1v1h-1zM37.5 7h1v1h-1zM40.5 7h1v1h-1zM43.5 7h3v1h-3zM7 8h2v1h-2zM13 8h1v1h-1zM23 8h1v1h-1zM33 8h1v1h-1zM36 8h1v1h-1zM38 8h3v1h-3zM42 8h2v1h-2zM5.5 9h1v1h-1zM8.5 9h1v1h-1zM10.5 9h1v1h-1zM17.5 9h1v1h-1zM19.5 9h1v1h-1zM22.5 9h2v1h-2zM28.5 9h1v1h-1zM31.5 9h1v1h-1zM35.5 9h1v1h-1zM38.5 9h1v1h-1zM41.5 9h3v1h-3zM45.5 9h2v1h-2zM4 10h1v1h-1zM7 10h1v1h-1zM9 10h1v1h-1zM13 10h2v1h-2zM22 10h1v1h-1zM36 10h3v1h-3zM41 10h1v1h-1zM46 10h1v1h-1zM3.5 11h3v1h-3zM7.5 11h2v1h-2zM20.5 11h1v1h-1zM23.5 11h1v1h-1zM27.5 11h1v1h-1zM37.5 11h2v1h-2zM42.5 11h1v1h-1zM46.5 11h1v1h-1zM12 12h1v1h-1zM14 12h1v1h-1zM18 12h2v1h-2zM24 12h1v1h-1zM27 12h1v1h-1zM29 12h4v1h-4zM34 12h2v1h-2zM38 12h1v1h-1zM4.5 13h1v1h-1zM12.5 13h1v1h-1zM18.5 13h1v1h-1zM24.5 13h1v1h-1zM28.5 13h1v1h-1zM30.5 13h1v1h-1zM37.5 13h1v1h-1zM40.5 13h1v1h-1zM46.5 13h1v1h-1zM4 14h1v1h-1zM9 14h1v1h-1zM13 14h3v1h-3zM19 14h1v1h-1zM21 14h1v1h-1zM24 14h2v1h-2zM28 14h2v1h-2zM35 14h2v1h-2zM38 14h2v1h-2zM45 14h1v1h-1zM6.5 15h1v1h-1zM8.5 15h1v1h-1zM10.5 15h1v1h-1zM13.5 15h1v1h-1zM19.5 15h3v1h-3zM25.5 15h1v1h-1zM33.5 15h1v1h-1zM37.5 15h1v1h-1zM41.5 15h1v1h-1zM46.5 15h1v1h-1zM6 16h4v1h-4zM12 16h1v1h-1zM14 16h1v1h-1zM18 16h1v1h-1zM23 16h4v1h-4zM29 16h2v1h-2zM36 16h4v1h-4zM42 16h2v1h-2zM48 16h1v1h-1zM3.5 17h3v1h-3zM10.5 17h2v1h-2zM14.5 17h1v1h-1zM18.5 17h1v1h-1zM24.5 17h1v1h-1zM27.5 17h1v1h-1zM31.5 17h4v1h-4zM36.5 17h2v1h-2zM40.5 17h4v1h-4zM46.5 17h1v1h-1zM48.5 17h1v1h-1zM3 18h3v1h-3zM7 18h1v1h-1zM10 18h3v1h-3zM16 18h1v1h-1zM19 18h2v1h-2zM32 18h2v1h-2zM35 18h1v1h-1zM37 18h1v1h-1zM45 18h1v1h-1zM48 18h2v1h-2zM2.5 19h2v1h-2zM12.5 19h1v1h-1zM18.5 19h2v1h-2zM21.5 19h2v1h-2zM27.5 19h1v1h-1zM29.5 19h3v1h-3zM33.5 19h2v1h-2zM41.5 19h1v1h-1zM43.5 19h1v1h-1zM45.5 19h1v1h-1zM16 20h1v1h-1zM18 20h1v1h-1zM23 20h3v1h-3zM28 20h1v1h-1zM34 20h2v1h-2zM38 20h2v1h-2zM41 20h6v1h-6zM49 20h1v1h-1zM2.5 21h1v1h-1zM14.5 21h2v1h-2zM18.5 21h1v1h-1zM21.5 21h1v1h-1zM24.5 21h1v1h-1zM26.5 21h2v1h-2zM30.5 21h1v1h-1zM34.5 21h2v1h-2zM37.5 21h3v1h-3zM41.5 21h2v1h-2zM44.5 21h1v1h-1zM47.5 21h2v1h-2zM15 22h2v1h-2zM21 22h1v1h-1zM24 22h4v1h-4zM29 22h4v1h-4zM34 22h1v1h-1zM36 22h2v1h-2zM40 22h1v1h-1zM42 22h1v1h-1zM45 22h1v1h-1zM12.5 23h1v1h-1zM16.5 23h3v1h-3zM23.5 23h1v1h-1zM26.5 23h1v1h-1zM29.5 23h1v1h-1zM32.5 23h2v1h-2zM37.5 23h1v1h-1zM41.5 23h2v1h-2zM44.5 23h3v1h-3zM24 24h1v1h-1zM26 24h1v1h-1zM29 24h1v1h-1zM31 24h2v1h-2zM39 24h2v1h-2zM45 24h1v1h-1zM47 24h1v1h-1zM13.5 25h2v1h-2zM17.5 25h1v1h-1zM26.5 25h1v1h-1zM28.5 25h2v1h-2zM31.5 25h2v1h-2zM34.5 25h2v1h-2zM37.5 25h1v1h-1zM42.5 25h1v1h-1zM44.5 25h1v1h-1zM47.5 25h2v1h-2zM7 26h1v1h-1zM13 26h1v1h-1zM15 26h2v1h-2zM19 26h1v1h-1zM21 26h1v1h-1zM26 26h2v1h-2zM29 26h2v1h-2zM33 26h2v1h-2zM37 26h1v1h-1zM39 26h1v1h-1zM48 26h1v1h-1zM3.5 27h1v1h-1zM6.5 27h2v1h-2zM13.5 27h1v1h-1zM15.5 27h1v1h-1zM17.5 27h2v1h-2zM22.5 27h1v1h-1zM25.5 27h1v1h-1zM27.5 27h1v1h-1zM29.5 27h2v1h-2zM37.5 27h1v1h-1zM44.5 27h1v1h-1zM47.5 27h1v1h-1zM8 28h1v1h-1zM10 28h2v1h-2zM13 28h4v1h-4zM18 28h1v1h-1zM21 28h1v1h-1zM24 28h2v1h-2zM41 28h1v1h-1zM43 28h1v1h-1zM48 28h1v1h-1zM9.5 29h2v1h-2zM12.5 29h2v1h-2zM16.5 29h1v1h-1zM18.5 29h3v1h-3zM22.5 29h2v1h-2zM43.5 29h1v1h-1zM11 30h2v1h-2zM18 30h1v1h-1zM24 30h1v1h-1zM26 30h2v1h-2zM29 30h2v1h-2zM32 30h3v1h-3zM36 30h4v1h-4zM43 30h2v1h-2zM48 30h1v1h-1zM7.5 31h3v1h-3zM11.5 31h2v1h-2zM15.5 31h2v1h-2zM23.5 31h1v1h-1zM25.5 31h1v1h-1zM27.5 31h1v1h-1zM30.5 31h2v1h-2zM35.5 31h1v1h-1zM40.5 31h1v1h-1zM3 32h2v1h-2zM12 32h1v1h-1zM15 32h3v1h-3zM20 32h2v1h-2zM23 32h1v1h-1zM27 32h1v1h-1zM30 32h1v1h-1zM40 32h1v1h-1zM45 32h1v1h-1zM2.5 33h1v1h-1zM4.5 33h1v1h-1zM6.5 33h2v1h-2zM12.5 33h1v1h-1zM14.5 33h1v1h-1zM19.5 33h1v1h-1zM21.5 33h3v1h-3zM25.5 33h1v1h-1zM27.5 33h3v1h-3zM36.5 33h1v1h-1zM43.5 33h1v1h-1zM45.5 33h2v1h-2zM3 34h2v1h-2zM6 34h1v1h-1zM9 34h1v1h-1zM11 34h1v1h-1zM14 34h2v1h-2zM18 34h1v1h-1zM20 34h1v1h-1zM23 34h2v1h-2zM26 34h1v1h-1zM28 34h1v1h-1zM31 34h2v1h-2zM37 34h1v1h-1zM44 34h1v1h-1zM47 34h1v1h-1zM2.5 35h1v1h-1zM4.5 35h1v1h-1zM7.5 35h1v1h-1zM11.5 35h1v1h-1zM14.5 35h2v1h-2zM21.5 35h2v1h-2zM27.5 35h1v1h-1zM31.5 35h1v1h-1zM34.5 35h4v1h-4zM5 36h3v1h-3zM9 36h1v1h-1zM11 36h1v1h-1zM13 36h1v1h-1zM17 36h1v1h-1zM20 36h1v1h-1zM22 36h2v1h-2zM26 36h2v1h-2zM36 36h3v1h-3zM3.5 37h2v1h-2zM9.5 37h2v1h-2zM16.5 37h1v1h-1zM18.5 37h1v1h-1zM21.5 37h1v1h-1zM23.5 37h1v1h-1zM25.5 37h1v1h-1zM27.5 37h1v1h-1zM29.5 37h1v1h-1zM34.5 37h2v1h-2zM37.5 37h1v1h-1zM3 38h1v1h-1zM5 38h1v1h-1zM7 38h1v1h-1zM11 38h4v1h-4zM17 38h1v1h-1zM20 38h1v1h-1zM22 38h1v1h-1zM24 38h2v1h-2zM28 38h1v1h-1zM31 38h1v1h-1zM35 38h1v1h-1zM37 38h3v1h-3zM1.5 39h1v1h-1zM5.5 39h2v1h-2zM8.5 39h4v1h-4zM13.5 39h2v1h-2zM17.5 39h1v1h-1zM19.5 39h4v1h-4zM25.5 39h2v1h-2zM31.5 39h1v1h-1zM33.5 39h1v1h-1zM0 40h1v1h-1zM3 40h1v1h-1zM6 40h2v1h-2zM10 40h1v1h-1zM18 40h1v1h-1zM21 40h2v1h-2zM24 40h1v1h-1zM28 40h1v1h-1zM33 40h2v1h-2zM7.5 41h2v1h-2zM11.5 41h2v1h-2zM14.5 41h1v1h-1zM16.5 41h2v1h-2zM19.5 41h1v1h-1zM22.5 41h1v1h-1zM24.5 41h3v1h-3zM29.5 41h1v1h-1zM32.5 41h1v1h-1zM35.5 41h1v1h-1zM37.5 41h2v1h-2zM1 42h1v1h-1zM6 42h1v1h-1zM9 42h1v1h-1zM11 42h2v1h-2zM16 42h3v1h-3zM20 42h1v1h-1zM26 42h1v1h-1zM28 42h1v1h-1zM32 42h2v1h-2zM35 42h3v1h-3zM45 42h1v1h-1zM49 42h1v1h-1zM0.5 43h1v1h-1zM5.5 43h2v1h-2zM8.5 43h1v1h-1zM11.5 43h2v1h-2zM15.5 43h1v1h-1zM17.5 43h1v1h-1zM21.5 43h1v1h-1zM26.5 43h2v1h-2zM30.5 43h1v1h-1zM34.5 43h1v1h-1zM36.5 43h1v1h-1zM0 44h3v1h-3zM5 44h4v1h-4zM10 44h1v1h-1zM13 44h1v1h-1zM15 44h1v1h-1zM19 44h3v1h-3zM26 44h1v1h-1zM29 44h1v1h-1zM35 44h1v1h-1zM49 44h1v1h-1zM9.5 45h4v1h-4zM16.5 45h3v1h-3zM20.5 45h1v1h-1zM25.5 45h1v1h-1zM27.5 45h1v1h-1zM30.5 45h1v1h-1zM33.5 45h3v1h-3zM37.5 45h1v1h-1zM4 46h1v1h-1zM8 46h1v1h-1zM10 46h1v1h-1zM14 46h1v1h-1zM20 46h1v1h-1zM23 46h1v1h-1zM26 46h1v1h-1zM28 46h1v1h-1zM32 46h1v1h-1zM36 46h2v1h-2zM2.5 47h1v1h-1zM4.5 47h1v1h-1zM7.5 47h1v1h-1zM11.5 47h1v1h-1zM18.5 47h1v1h-1zM21.5 47h1v1h-1zM32.5 47h1v1h-1zM38.5 47h2v1h-2zM4 48h2v1h-2zM8 48h2v1h-2zM13 48h1v1h-1zM18 48h1v1h-1zM23 48h1v1h-1zM26 48h5v1h-5zM37 48h3v1h-3zM43 48h1v1h-1zM4.5 49h1v1h-1zM15.5 49h1v1h-1zM21.5 49h2v1h-2zM25.5 49h2v1h-2zM29.5 49h3v1h-3zM34.5 49h1v1h-1zM39.5 49h1v1h-1zM41.5 49h1v1h-1zM2 50h1v1h-1zM6 50h1v1h-1zM8 50h1v1h-1zM11 50h1v1h-1zM15 50h1v1h-1zM21 50h1v1h-1zM34 50h1v1h-1zM36 50h1v1h-1zM38 50h2v1h-2zM41 50h1v1h-1zM43 50h1v1h-1zM5.5 51h2v1h-2zM9.5 51h2v1h-2zM16.5 51h2v1h-2zM26.5 51h1v1h-1zM28.5 51h2v1h-2zM31.5 51h1v1h-1zM37.5 51h2v1h-2zM41.5 51h1v1h-1zM4 52h1v1h-1zM7 52h2v1h-2zM10 52h1v1h-1zM17 52h2v1h-2zM21 52h1v1h-1zM23 52h2v1h-2zM28 52h1v1h-1zM32 52h2v1h-2zM35 52h1v1h-1zM37 52h3v1h-3zM41 52h1v1h-1zM46 52h2v1h-2zM6.5 53h2v1h-2zM10.5 53h1v1h-1zM13.5 53h1v1h-1zM20.5 53h1v1h-1zM24.5 53h1v1h-1zM26.5 53h2v1h-2zM29.5 53h1v1h-1zM33.5 53h2v1h-2zM40.5 53h1v1h-1zM42.5 53h1v1h-1zM44.5 53h1v1h-1zM46.5 53h2v1h-2zM8 54h2v1h-2zM21 54h1v1h-1zM23 54h2v1h-2zM27 54h1v1h-1zM29 54h3v1h-3zM43 54h1v1h-1zM49 54h1v1h-1z"/>
<path fill="#b4e4b4" d="M8 0h1v1h-1zM5.5 21h1v1h-1zM20.5 23h1v1h-1zM11 24h1v1h-1zM41 36h1v1h-1zM41.5 37h1v1h-1zM43.5 45h1v1h-1zM46.5 45h1v1h-1zM46.5 47h1v1h-1zM48.5 51h1v1h-1z"/>
<path fill="#cce4c0" d="M9 0h1v1h-1zM4.5 23h1v1h-1zM10.5 23h1v1h-1zM3.5 25h1v1h-1zM7.5 25h1v1h-1zM37.5 29h1v1h-1zM42.5 37h1v1h-1zM2.5 41h1v1h-1zM41.5 41h1v1h-1zM41 42h2v1h-2zM48.5 43h1v1h-1zM42.5 45h1v1h-1zM49.5 45h1v1h-1zM18 54h1v1h-1z"/>
<path fill="#fcfcfc" d="M12 0h2v1h-2zM18.5 1h1v1h-1zM7 2h1v1h-1zM9 2h1v1h-1zM8.5 3h1v1h-1zM16.5 3h1v1h-1zM17 4h1v1h-1zM5.5 5h1v1h-1zM9.5 5h1v1h-1zM32.5 5h1v1h-1zM37 6h1v1h-1zM39 6h1v1h-1zM5.5 7h1v1h-1zM32.5 7h1v1h-1zM11 8h1v1h-1zM32 8h1v1h-1zM11.5 9h1v1h-1zM30.5 9h1v1h-1zM39.5 9h1v1h-1zM3 10h1v1h-1zM8 10h1v1h-1zM11 10h1v1h-1zM29 10h1v1h-1zM35 10h1v1h-1zM47 10h1v1h-1zM11.5 11h1v1h-1zM3 12h2v1h-2zM13 12h1v1h-1zM21 12h2v1h-2zM44 12h1v1h-1zM7.5 13h1v1h-1zM22.5 13h1v1h-1zM27.5 13h1v1h-1zM33.5 13h1v1h-1zM36.5 13h1v1h-1zM39.5 13h1v1h-1zM41.5 13h1v1h-1zM5 14h1v1h-1zM8 14h1v1h-1zM33 14h1v1h-1zM3.5 15h1v1h-1zM7.5 15h1v1h-1zM29.5 15h1v1h-1zM31.5 15h1v1h-1zM39.5 15h1v1h-1zM44 16h1v1h-1zM47 16h1v1h-1zM8.5 17h1v1h-1zM12.5 17h1v1h-1zM17.5 17h1v1h-1zM29.5 17h2v1h-2zM35.5 17h1v1h-1zM39.5 17h1v1h-1zM47.5 17h1v1h-1zM17 18h1v1h-1zM34 18h1v1h-1zM36 18h1v1h-1zM19 20h1v1h-1zM16.5 21h1v1h-1zM25.5 21h1v1h-1zM29.5 21h1v1h-1zM36.5 21h1v1h-1zM48 22h1v1h-1zM24.5 23h1v1h-1zM35.5 23h2v1h-2zM39.5 23h1v1h-1zM35 24h1v1h-1zM46 24h1v1h-1zM48 24h1v1h-1zM18.5 25h1v1h-1zM33.5 25h1v1h-1zM39.5 25h1v1h-1zM43.5 25h1v1h-1zM42 26h1v1h-1zM42.5 27h1v1h-1zM12 28h1v1h-1zM20 28h1v1h-1zM13 30h1v1h-1zM42 30h1v1h-1zM46 30h2v1h-2zM17.5 31h1v1h-1zM3.5 33h1v1h-1zM9.5 33h1v1h-1zM18.5 33h1v1h-1zM26.5 33h1v1h-1zM41.5 33h2v1h-2zM22 34h1v1h-1zM24.5 35h1v1h-1zM29.5 35h1v1h-1zM12 36h1v1h-1zM18 36h1v1h-1zM6.5 37h1v1h-1zM8.5 37h1v1h-1zM13.5 37h1v1h-1zM28.5 37h1v1h-1zM15 38h1v1h-1zM29 38h1v1h-1zM2.5 39h1v1h-1zM23.5 39h1v1h-1zM4 40h1v1h-1zM9 40h1v1h-1zM35 40h1v1h-1zM10.5 41h1v1h-1zM18.5 41h1v1h-1zM10 42h1v1h-1zM19 42h1v1h-1zM10.5 43h1v1h-1zM12 44h1v1h-1zM14 44h1v1h-1zM34 44h1v1h-1zM38 44h1v1h-1zM2.5 45h3v1h-3zM14.5 45h1v1h-1zM9 46h1v1h-1zM12 46h1v1h-1zM31 46h1v1h-1zM5.5 47h1v1h-1zM14.5 47h1v1h-1zM20.5 47h1v1h-1zM6 48h1v1h-1zM14 48h1v1h-1zM17.5 49h1v1h-1zM33.5 49h1v1h-1zM25 50h1v1h-1zM3.5 51h2v1h-2zM11.5 51h1v1h-1zM12 52h1v1h-1zM20 52h1v1h-1zM36 52h1v1h-1zM15.5 53h1v1h-1zM21.5 53h1v1h-1zM32.5 53h1v1h-1zM28 54h1v1h-1z"/>
<path fill="#f0e4f0" d="M14 0h1v1h-1zM16 0h1v1h-1zM13.5 5h1v1h-1zM17.5 7h1v1h-1zM21 10h1v1h-1zM14.5 11h1v1h-1zM17.5 11h1v1h-1zM14.5 13h1v1h-1zM17.5 13h1v1h-1zM17.5 15h1v1h-1zM15.5 17h1v1h-1zM20.5 17h1v1h-1zM20.5 27h1v1h-1zM46.5 29h1v1h-1zM16 30h1v1h-1zM8.5 35h1v1h-1zM12.5 35h1v1h-1zM11.5 37h1v1h-1zM14.5 37h1v1h-1zM12.5 39h1v1h-1zM13 40h1v1h-1zM17 40h1v1h-1zM34.5 41h1v1h-1z"/>
<path fill="#e4d8e4" d="M15 0h1v1h-1zM15.5 1h1v1h-1zM16 2h1v1h-1zM13.5 3h1v1h-1zM16.5 5h1v1h-1zM21.5 7h1v1h-1zM14 8h1v1h-1zM22 8h1v1h-1zM14.5 9h1v1h-1zM20.5 9h1v1h-1zM15 12h1v1h-1zM17 14h1v1h-1z"/>
<path fill="#f0f0e4" d="M7.5 1h1v1h-1zM9.5 1h1v1h-1zM18 2h1v1h-1zM3 4h2v1h-2zM34 4h1v1h-1zM6.5 5h1v1h-1zM31.5 5h1v1h-1zM36.5 5h1v1h-1zM39.5 5h1v1h-1zM3 6h1v1h-1zM5 6h1v1h-1zM41 6h2v1h-2zM8.5 7h1v1h-1zM19.5 7h1v1h-1zM31.5 7h1v1h-1zM38.5 7h2v1h-2zM46.5 7h1v1h-1zM19 8h1v1h-1zM7.5 9h1v1h-1zM9.5 9h1v1h-1zM12 10h1v1h-1zM40 10h1v1h-1zM45 10h1v1h-1zM32.5 11h2v1h-2zM23 12h1v1h-1zM36 12h1v1h-1zM42 12h1v1h-1zM47 12h1v1h-1zM10.5 13h1v1h-1zM32.5 13h1v1h-1zM42.5 13h2v1h-2zM7 14h1v1h-1zM10 14h2v1h-2zM23 14h1v1h-1zM32 14h1v1h-1zM34 14h1v1h-1zM44 14h1v1h-1zM4.5 15h1v1h-1zM9.5 15h1v1h-1zM11.5 15h1v1h-1zM26.5 15h1v1h-1zM28.5 15h1v1h-1zM5 16h1v1h-1zM20 16h1v1h-1zM2.5 17h1v1h-1zM7.5 17h1v1h-1zM13.5 17h1v1h-1zM26.5 17h1v1h-1zM14 18h2v1h-2zM22 18h2v1h-2zM29 18h2v1h-2zM40 18h1v1h-1zM13.5 19h2v1h-2zM16.5 19h1v1h-1zM32.5 19h1v1h-1zM35.5 19h1v1h-1zM40.5 19h1v1h-1zM47.5 19h2v1h-2zM29 20h1v1h-1zM37 20h1v1h-1zM40 20h1v1h-1zM20.5 21h1v1h-1zM31.5 21h1v1h-1zM17 22h3v1h-3zM33 22h1v1h-1zM41 22h1v1h-1zM49 22h1v1h-1zM14.5 23h1v1h-1zM27.5 23h1v1h-1zM31.5 23h1v1h-1zM38.5 23h1v1h-1zM47.5 23h1v1h-1zM15 24h1v1h-1zM17 24h2v1h-2zM25 24h1v1h-1zM27 24h2v1h-2zM42 24h1v1h-1zM44 24h1v1h-1zM49 24h1v1h-1zM16.5 25h1v1h-1zM38.5 25h1v1h-1zM40.5 25h1v1h-1zM3 26h2v1h-2zM6 26h1v1h-1zM10 26h1v1h-1zM28 26h1v1h-1zM40 26h1v1h-1zM43 26h1v1h-1zM5.5 27h1v1h-1zM24.5 27h1v1h-1zM26.5 27h1v1h-1zM35.5 27h1v1h-1zM38.5 27h1v1h-1zM40.5 27h1v1h-1zM5 28h2v1h-2zM17 28h1v1h-1zM44 28h1v1h-1zM2.5 29h1v1h-1zM8.5 29h1v1h-1zM14.5 29h2v1h-2zM25.5 29h1v1h-1zM29.5 29h1v1h-1zM42.5 29h1v1h-1zM44.5 29h1v1h-1zM48.5 29h1v1h-1zM14 30h1v1h-1zM19 30h1v1h-1zM22 30h1v1h-1zM28 30h1v1h-1zM35 30h1v1h-1zM45 30h1v1h-1zM31 32h2v1h-2zM34 32h2v1h-2zM41 32h1v1h-1zM43 32h1v1h-1zM46 32h2v1h-2zM8.5 33h1v1h-1zM13.5 33h1v1h-1zM34.5 33h1v1h-1zM10 34h1v1h-1zM16 34h1v1h-1zM30 34h1v1h-1zM35 34h1v1h-1zM46 34h1v1h-1zM6.5 35h1v1h-1zM17.5 35h1v1h-1zM19.5 35h1v1h-1zM23.5 35h1v1h-1zM25.5 35h1v1h-1zM45.5 35h1v1h-1zM25 36h1v1h-1zM39 36h1v1h-1zM47.5 37h1v1h-1zM4 38h1v1h-1zM19 38h1v1h-1zM26 38h1v1h-1zM30 38h1v1h-1zM36 38h1v1h-1zM47 38h2v1h-2zM7.5 39h1v1h-1zM24.5 39h1v1h-1zM32.5 39h1v1h-1zM35.5 39h1v1h-1zM25 40h1v1h-1zM29 40h1v1h-1zM37 40h1v1h-1zM6.5 41h1v1h-1zM9.5 41h1v1h-1zM28.5 41h1v1h-1zM30.5 41h1v1h-1zM47.5 41h1v1h-1zM5 42h1v1h-1zM7 42h1v1h-1zM31 42h1v1h-1zM39 42h1v1h-1zM18.5 43h3v1h-3zM24.5 43h2v1h-2zM28.5 43h1v1h-1zM31.5 43h1v1h-1zM33.5 43h1v1h-1zM22 44h1v1h-1zM24 44h2v1h-2zM19.5 45h1v1h-1zM21.5 45h1v1h-1zM23.5 45h1v1h-1zM29.5 45h1v1h-1zM38.5 45h1v1h-1zM2 46h2v1h-2zM13 46h1v1h-1zM19 46h1v1h-1zM33 46h1v1h-1zM12.5 47h1v1h-1zM17.5 47h1v1h-1zM27.5 47h1v1h-1zM33.5 47h1v1h-1zM2 48h1v1h-1zM7 48h1v1h-1zM10 48h1v1h-1zM17 48h1v1h-1zM21 48h1v1h-1zM33 48h1v1h-1zM7.5 49h1v1h-1zM14.5 49h1v1h-1zM16.5 49h1v1h-1zM18.5 49h1v1h-1zM24.5 49h1v1h-1zM37.5 49h2v1h-2zM3 50h2v1h-2zM7 50h1v1h-1zM20 50h1v1h-1zM23 50h1v1h-1zM32 50h2v1h-2zM40 50h1v1h-1zM7.5 51h1v1h-1zM15.5 51h1v1h-1zM19.5 51h1v1h-1zM21.5 51h1v1h-1zM30.5 51h1v1h-1zM33.5 51h2v1h-2zM40.5 51h1v1h-1zM42.5 51h1v1h-1zM5 52h2v1h-2zM16 52h1v1h-1zM19 52h1v1h-1zM25 52h1v1h-1zM29 52h1v1h-1zM31 52h1v1h-1zM34 52h1v1h-1zM40 52h1v1h-1zM43 52h1v1h-1zM8.5 53h1v1h-1zM11.5 53h2v1h-2zM14.5 53h1v1h-1zM22.5 53h1v1h-1zM10 54h1v1h-1zM14 54h1v1h-1zM16 54h1v1h-1zM22 54h1v1h-1zM33 54h1v1h-1zM46 54h1v1h-1z"/>
<path fill="#d8c0e4" d="M13.5 1h1v1h-1zM16 14h1v1h-1z"/>
<path fill="#a884b4" d="M14.5 1h1v1h-1zM16.5 7h1v1h-1z"/>
<path fill="#fcf0fc" d="M10 2h1v1h-1zM20.5 3h1v1h-1zM21 6h1v1h-1zM36.5 7h1v1h-1zM5 8h2v1h-2zM47 8h1v1h-1zM20 10h1v1h-1zM34.5 11h1v1h-1zM41.5 11h1v1h-1zM5 12h1v1h-1zM11.5 13h1v1h-1zM13.5 13h1v1h-1zM29.5 13h1v1h-1zM12 14h1v1h-1zM14.5 15h1v1h-1zM40.5 15h1v1h-1zM11 16h1v1h-1zM32 16h1v1h-1zM45.5 17h1v1h-1zM43 18h1v1h-1zM10.5 19h1v1h-1zM40.5 21h1v1h-1zM28 22h1v1h-1zM47 22h1v1h-1zM28.5 23h1v1h-1zM34 24h1v1h-1zM38 24h1v1h-1zM15.5 25h1v1h-1zM19.5 25h1v1h-1zM47 26h1v1h-1zM10 30h1v1h-1zM13.5 31h1v1h-1zM19.5 31h2v1h-2zM16.5 33h1v1h-1zM32.5 33h1v1h-1zM4 36h1v1h-1zM8 36h1v1h-1zM10 36h1v1h-1zM34 36h1v1h-1zM5.5 37h1v1h-1zM12.5 37h1v1h-1zM8 38h1v1h-1zM10 38h1v1h-1zM33 38h1v1h-1zM16.5 39h1v1h-1zM30.5 39h1v1h-1zM14 40h1v1h-1zM49.5 41h1v1h-1zM15 42h1v1h-1zM21 42h1v1h-1zM16 44h1v1h-1zM31.5 45h1v1h-1zM3 48h1v1h-1zM15 48h1v1h-1zM16 50h1v1h-1zM35 50h1v1h-1zM18.5 51h1v1h-1zM9 52h1v1h-1zM22 52h1v1h-1zM30.5 53h1v1h-1zM45.5 53h1v1h-1zM41 54h1v1h-1zM47 54h1v1h-1z"/>
<path fill="#e4d8f0" d="M13 2h1v1h-1z"/>
<path fill="#a884c0" d="M14 2h1v1h-1z"/>
<path fill="#9060a8" d="M15 2h1v1h-1z"/>
<path fill="#90549c" d="M14.5 3h1v1h-1z"/>
<path fill="#9c6ca8" d="M15.5 3h1v1h-1zM16 6h1v1h-1z"/>
<path fill="#ccb4d8" d="M14 4h1v1h-1zM16 4h1v1h-1zM16.5 13h1v1h-1zM15.5 15h1v1h-1zM17 16h1v1h-1z"/>
<path fill="#844890" d="M15 4h1v1h-1z"/>
<path fill="#d8f0d8" d="M10.5 5h2v1h-2zM11.5 7h1v1h-1zM12 8h1v1h-1zM30.5 11h1v1h-1zM7 12h1v1h-1zM26 18h1v1h-1zM44 18h1v1h-1zM25.5 19h1v1h-1zM12 20h1v1h-1zM22 20h1v1h-1zM4.5 21h1v1h-1zM12.5 21h2v1h-2zM43.5 21h1v1h-1zM14 22h1v1h-1zM2.5 23h2v1h-2zM4 24h1v1h-1zM12 24h1v1h-1zM20 24h1v1h-1zM2.5 25h1v1h-1zM6.5 25h1v1h-1zM11.5 25h1v1h-1zM31 26h1v1h-1zM28.5 27h1v1h-1zM3 28h2v1h-2zM29 28h1v1h-1zM31 28h1v1h-1zM35 28h2v1h-2zM5.5 29h2v1h-2zM33.5 29h1v1h-1zM35.5 29h2v1h-2zM5 30h1v1h-1zM40 30h1v1h-1zM5.5 31h2v1h-2zM29 34h1v1h-1zM33 34h1v1h-1zM41 34h2v1h-2zM15 36h1v1h-1zM40 36h1v1h-1zM43 36h2v1h-2zM46 36h1v1h-1zM15.5 37h1v1h-1zM32.5 37h1v1h-1zM44.5 37h1v1h-1zM48.5 37h1v1h-1zM21 38h1v1h-1zM44 38h1v1h-1zM46 38h1v1h-1zM0.5 39h1v1h-1zM38.5 39h1v1h-1zM40.5 39h1v1h-1zM42.5 39h1v1h-1zM2 40h1v1h-1zM1.5 41h1v1h-1zM4.5 41h1v1h-1zM39.5 41h1v1h-1zM45.5 41h1v1h-1zM27 42h1v1h-1zM44 42h1v1h-1zM47 42h1v1h-1zM40.5 43h1v1h-1zM44.5 43h1v1h-1zM41 44h1v1h-1zM46 44h1v1h-1zM7.5 45h1v1h-1zM6 46h1v1h-1zM35 46h1v1h-1zM36 48h1v1h-1zM40 48h1v1h-1zM42 48h1v1h-1zM46 48h1v1h-1zM36.5 49h1v1h-1zM45.5 49h1v1h-1zM29 50h1v1h-1zM47 50h1v1h-1zM45.5 51h1v1h-1zM19.5 53h1v1h-1zM48.5 53h1v1h-1zM42 54h1v1h-1zM48 54h1v1h-1z"/>
<path fill="#b490c0" d="M14.5 5h1v1h-1zM14.5 7h1v1h-1zM16.5 9h1v1h-1zM16 12h1v1h-1zM16.5 15h1v1h-1z"/>
<path fill="#906ca8" d="M15.5 5h1v1h-1z"/>
<path fill="#c0e4b4" d="M10 6h1v1h-1zM9.5 11h2v1h-2zM4 22h1v1h-1zM9 22h1v1h-1zM5 24h1v1h-1zM5.5 25h1v1h-1zM33 28h1v1h-1zM41.5 35h2v1h-2zM45 38h1v1h-1zM43.5 43h1v1h-1zM42 44h1v1h-1zM44 44h1v1h-1zM47.5 45h1v1h-1zM49 46h1v1h-1zM47.5 47h1v1h-1zM18.5 53h1v1h-1z"/>
<path fill="#9cd89c" d="M11 6h1v1h-1zM6 22h1v1h-1zM45 44h1v1h-1zM45 46h1v1h-1z"/>
<path fill="#f0d8f0" d="M14 6h1v1h-1zM17 12h1v1h-1zM15 16h1v1h-1zM16.5 17h1v1h-1zM14 42h1v1h-1zM13.5 43h1v1h-1z"/>
<path fill="#84489c" d="M15 6h1v1h-1z"/>
<path fill="#e4f0d8" d="M40 6h1v1h-1zM43 6h1v1h-1zM10.5 7h1v1h-1zM18 8h1v1h-1zM34 8h1v1h-1zM18.5 9h1v1h-1zM18 10h1v1h-1zM40.5 11h1v1h-1zM8.5 13h1v1h-1zM9.5 17h1v1h-1zM8.5 19h1v1h-1zM39.5 19h1v1h-1zM42.5 19h1v1h-1zM46.5 19h1v1h-1zM10 20h1v1h-1zM20 20h1v1h-1zM26 20h1v1h-1zM11.5 21h1v1h-1zM3 22h1v1h-1zM12 22h2v1h-2zM13.5 23h1v1h-1zM19.5 23h1v1h-1zM22.5 25h1v1h-1zM27.5 25h1v1h-1zM5 26h1v1h-1zM23 26h1v1h-1zM2.5 27h1v1h-1zM36.5 27h1v1h-1zM45.5 27h1v1h-1zM19 28h1v1h-1zM37 28h2v1h-2zM3.5 29h1v1h-1zM26.5 29h1v1h-1zM4 30h1v1h-1zM41 30h1v1h-1zM3.5 31h1v1h-1zM38 32h1v1h-1zM40.5 33h1v1h-1zM21 34h1v1h-1zM39 34h2v1h-2zM43 34h1v1h-1zM44.5 35h1v1h-1zM46.5 37h1v1h-1zM42 38h1v1h-1zM36.5 39h1v1h-1zM48.5 39h1v1h-1zM40 40h1v1h-1zM40.5 41h1v1h-1zM0 42h1v1h-1zM3 42h1v1h-1zM40 42h1v1h-1zM45.5 43h1v1h-1zM30 44h1v1h-1zM36 44h1v1h-1zM39 44h1v1h-1zM47 44h1v1h-1zM30 46h1v1h-1zM41.5 47h1v1h-1zM44.5 47h1v1h-1zM3.5 49h1v1h-1zM6.5 49h1v1h-1zM47.5 49h1v1h-1zM12 50h1v1h-1zM37 50h1v1h-1zM14.5 51h1v1h-1zM24.5 51h2v1h-2zM44.5 51h1v1h-1zM44 52h1v1h-1zM39.5 53h1v1h-1zM43.5 53h1v1h-1zM17 54h1v1h-1z"/>
<path fill="#480054" d="M15.5 7h1v1h-1z"/>
<path fill="#ccf0cc" d="M4 8h1v1h-1zM2.5 13h1v1h-1zM6 20h1v1h-1zM8 20h1v1h-1zM8.5 21h1v1h-1zM10 22h1v1h-1zM3 24h1v1h-1zM4.5 25h1v1h-1zM28 28h1v1h-1zM38.5 29h1v1h-1zM33.5 37h1v1h-1zM44.5 39h1v1h-1zM46.5 39h1v1h-1zM45 40h2v1h-2zM42.5 41h2v1h-2zM41.5 43h1v1h-1zM43 44h1v1h-1zM44 46h1v1h-1zM42.5 47h1v1h-1zM45 48h1v1h-1zM46 50h1v1h-1zM48 50h1v1h-1zM14 52h1v1h-1zM19 54h1v1h-1zM25 54h1v1h-1z"/>
<path fill="#6c2478" d="M15 8h1v1h-1z"/>
<path fill="#3c0048" d="M16 8h1v1h-1z"/>
<path fill="#e4cce4" d="M17 8h1v1h-1zM17 10h1v1h-1zM13.5 41h1v1h-1zM13 42h1v1h-1z"/>
<path fill="#d8c0d8" d="M21 8h1v1h-1zM15 10h1v1h-1z"/>
<path fill="#84549c" d="M15.5 9h1v1h-1z"/>
<path fill="#c09ccc" d="M21.5 9h1v1h-1zM15.5 11h1v1h-1z"/>
<path fill="#a878b4" d="M16 10h1v1h-1zM16 16h1v1h-1z"/>
<path fill="#d8f0cc" d="M30 10h1v1h-1zM10 12h1v1h-1zM9.5 13h1v1h-1zM11 20h1v1h-1zM9.5 21h2v1h-2zM11 22h1v1h-1zM22.5 23h1v1h-1zM9.5 25h1v1h-1zM12.5 25h1v1h-1zM24.5 25h1v1h-1zM46 26h1v1h-1zM12.5 27h1v1h-1zM30 28h1v1h-1zM32 28h1v1h-1zM34 28h1v1h-1zM5 32h1v1h-1zM43.5 35h1v1h-1zM33 36h1v1h-1zM39.5 37h2v1h-2zM43 38h1v1h-1zM43.5 39h1v1h-1zM45.5 39h1v1h-1zM47.5 39h1v1h-1zM41 40h2v1h-2zM2 42h1v1h-1zM46 42h1v1h-1zM40 44h1v1h-1zM40.5 45h1v1h-1zM48.5 45h1v1h-1zM7 46h1v1h-1zM42 46h2v1h-2zM35.5 47h1v1h-1zM48.5 47h1v1h-1zM44 48h1v1h-1zM47 48h1v1h-1zM35.5 49h1v1h-1z"/>
<path fill="#c0a8cc" d="M16.5 11h1v1h-1zM15.5 13h1v1h-1z"/>
<path fill="#c0e4c0" d="M8 12h1v1h-1zM5 22h1v1h-1zM6 24h1v1h-1zM22 24h1v1h-1zM27 28h1v1h-1zM44 40h1v1h-1zM47 40h1v1h-1zM42.5 43h1v1h-1zM48 46h1v1h-1zM45.5 47h1v1h-1zM48 52h1v1h-1z"/>
<path fill="#b4e4a8" d="M9 12h1v1h-1zM9 24h1v1h-1zM8.5 25h1v1h-1zM42 36h1v1h-1zM3.5 41h1v1h-1zM44.5 45h1v1h-1zM35 48h1v1h-1zM49 52h1v1h-1z"/>
<path fill="#9cd890" d="M6.5 21h1v1h-1z"/>
<path fill="#a8d89c" d="M7.5 21h1v1h-1zM9.5 23h1v1h-1zM10 24h1v1h-1z"/>
<path fill="#78c084" d="M7 22h1v1h-1z"/>
<path fill="#90cc90" d="M8 22h1v1h-1zM6.5 23h1v1h-1zM8.5 23h1v1h-1zM21.5 23h1v1h-1zM21 24h1v1h-1zM45.5 45h1v1h-1zM47 46h1v1h-1z"/>
<path fill="#a8d8a8" d="M5.5 23h1v1h-1zM43 42h1v1h-1z"/>
<path fill="#54a860" d="M7.5 23h1v1h-1z"/>
<path fill="#6cb46c" d="M7 24h1v1h-1z"/>
<path fill="#6cc078" d="M8 24h1v1h-1z"/>
<path fill="#ccf0c0" d="M45 26h1v1h-1zM43 40h1v1h-1zM49 50h1v1h-1z"/>
<path fill="#84cc84" d="M46 46h1v1h-1z"/>
</g></g>
<circle cx="630.5" cy="613.0" r="1.0" fill="#2a8a40"/>
<text x="654.2" y="600.7" font-size="11.4" text-anchor="middle" textLength="126.6" lengthAdjust="spacingAndGlyphs">Fibroblasts/Monocytes</text>
<defs><linearGradient id="cb3" x1="0" x2="0" y1="0" y2="1"><stop offset="0.000" stop-color="#40004b"/><stop offset="0.062" stop-color="#621a6e"/><stop offset="0.125" stop-color="#7f3c8d"/><stop offset="0.188" stop-color="#9568a6"/><stop offset="0.250" stop-color="#ae8bbd"/><stop offset="0.312" stop-color="#c7abd2"/><stop offset="0.375" stop-color="#dec9e2"/><stop offset="0.438" stop-color="#ede2ee"/><stop offset="0.500" stop-color="#f6f7f6"/><stop offset="0.562" stop-color="#e4f2e0"/><stop offset="0.625" stop-color="#cbeac5"/><stop offset="0.688" stop-color="#abdda5"/><stop offset="0.750" stop-color="#7ec37f"/><stop offset="0.812" stop-color="#50a65a"/><stop offset="0.875" stop-color="#298440"/><stop offset="0.938" stop-color="#10632b"/><stop offset="1.000" stop-color="#00441b"/></linearGradient></defs>
<rect x="732.8" y="605.2" width="6.1" height="168.0" fill="url(#cb3)" stroke="#000" stroke-width="0.8"/>
<text x="744.0" y="626.3" font-size="11.5" textLength="18.3" lengthAdjust="spacingAndGlyphs">0.4</text>
<text x="744.0" y="660.9" font-size="11.5" textLength="18.3" lengthAdjust="spacingAndGlyphs">0.2</text>
<text x="744.0" y="695.4" font-size="11.5" textLength="18.3" lengthAdjust="spacingAndGlyphs">0.0</text>
<text x="744.0" y="729.9" font-size="11.5" textLength="27.9" lengthAdjust="spacingAndGlyphs">−0.2</text>
<text x="744.0" y="764.5" font-size="11.5" textLength="27.9" lengthAdjust="spacingAndGlyphs">−0.4</text>
<path d="M738.9 622.1h3.3M738.9 656.7h3.3M738.9 691.2h3.3M738.9 725.7h3.3M738.9 760.3h3.3" stroke="#000" stroke-width="0.8"/>
<g><g transform="translate(584.42 804.77) scale(2.784)" shape-rendering="crispEdges">
<path fill="#d8f0d8" d="M4 0h1v1h-1zM16.5 1h2v1h-2zM5.5 3h1v1h-1zM31.5 5h1v1h-1zM36.5 5h1v1h-1zM3 6h1v1h-1zM19 6h1v1h-1zM44 6h1v1h-1zM44.5 7h1v1h-1zM6 8h1v1h-1zM36 8h1v1h-1zM10.5 9h1v1h-1zM40.5 9h1v1h-1zM9 10h1v1h-1zM19 10h1v1h-1zM8.5 11h1v1h-1zM30.5 11h1v1h-1zM39.5 11h1v1h-1zM8.5 13h1v1h-1zM11.5 13h1v1h-1zM20.5 13h1v1h-1zM19 14h1v1h-1zM12.5 15h1v1h-1zM22.5 15h1v1h-1zM14 16h1v1h-1zM22 16h1v1h-1zM40 16h1v1h-1zM6.5 17h1v1h-1zM16.5 17h1v1h-1zM22.5 17h1v1h-1zM41.5 17h1v1h-1zM20 18h1v1h-1zM7.5 19h1v1h-1zM13.5 19h1v1h-1zM43.5 19h1v1h-1zM18 20h1v1h-1zM31 20h1v1h-1zM37 20h1v1h-1zM41 20h2v1h-2zM47 20h1v1h-1zM23.5 21h1v1h-1zM30.5 21h1v1h-1zM45.5 21h2v1h-2zM49.5 21h1v1h-1zM12 22h2v1h-2zM6.5 23h1v1h-1zM49.5 23h1v1h-1zM8 24h1v1h-1zM13 24h1v1h-1zM16 24h1v1h-1zM32 24h1v1h-1zM35 24h1v1h-1zM38 24h1v1h-1zM43.5 25h1v1h-1zM47.5 25h1v1h-1zM18.5 27h1v1h-1zM23.5 27h1v1h-1zM32.5 27h1v1h-1zM39.5 27h1v1h-1zM30 28h1v1h-1zM45 28h1v1h-1zM3.5 29h1v1h-1zM5.5 29h1v1h-1zM9.5 29h1v1h-1zM18.5 29h1v1h-1zM35.5 29h1v1h-1zM38.5 29h1v1h-1zM44.5 29h1v1h-1zM47.5 29h1v1h-1zM3 30h1v1h-1zM19 30h1v1h-1zM29 30h1v1h-1zM39 30h1v1h-1zM21.5 31h1v1h-1zM26.5 31h1v1h-1zM32.5 31h1v1h-1zM35.5 31h1v1h-1zM39.5 31h1v1h-1zM14 32h1v1h-1zM16 32h1v1h-1zM20 32h1v1h-1zM22 32h1v1h-1zM28 32h1v1h-1zM13.5 33h1v1h-1zM21.5 33h1v1h-1zM13 34h1v1h-1zM17 34h1v1h-1zM22.5 35h1v1h-1zM30.5 35h1v1h-1zM4 36h1v1h-1zM13 36h1v1h-1zM35 36h2v1h-2zM37.5 37h1v1h-1zM4 38h1v1h-1zM7 38h1v1h-1zM31 38h1v1h-1zM48 38h1v1h-1zM17.5 39h1v1h-1zM40 40h1v1h-1zM45 40h1v1h-1zM2.5 41h1v1h-1zM4.5 41h1v1h-1zM6.5 41h1v1h-1zM29.5 41h1v1h-1zM41.5 41h1v1h-1zM20 42h1v1h-1zM26 42h2v1h-2zM3.5 43h1v1h-1zM26.5 43h1v1h-1zM22 44h1v1h-1zM24 44h1v1h-1zM23.5 45h1v1h-1zM29.5 45h1v1h-1zM37.5 45h1v1h-1zM29 46h1v1h-1zM35 46h1v1h-1zM37 46h1v1h-1zM1.5 47h1v1h-1zM24.5 47h1v1h-1zM34.5 47h1v1h-1zM2 48h1v1h-1zM15 48h1v1h-1zM23.5 49h1v1h-1zM25.5 49h1v1h-1zM16 50h2v1h-2zM4.5 51h1v1h-1zM9.5 51h2v1h-2zM13.5 51h1v1h-1zM33.5 51h1v1h-1zM39.5 51h1v1h-1zM6 52h1v1h-1zM14 52h1v1h-1zM35 52h1v1h-1zM22.5 53h1v1h-1zM24.5 53h1v1h-1zM37.5 53h1v1h-1zM43.5 53h1v1h-1zM46.5 53h1v1h-1zM10 54h1v1h-1zM16 54h1v1h-1zM24 54h1v1h-1zM30 54h1v1h-1zM36 54h1v1h-1zM45 54h1v1h-1z"/>
<path fill="#e4f0e4" d="M5 0h1v1h-1zM13 0h1v1h-1zM11.5 1h1v1h-1zM6 2h1v1h-1zM12 2h1v1h-1zM16 4h1v1h-1zM31 4h1v1h-1zM36 4h1v1h-1zM35.5 5h1v1h-1zM5 6h1v1h-1zM10 6h1v1h-1zM15 6h1v1h-1zM34 6h1v1h-1zM18.5 7h1v1h-1zM33.5 7h1v1h-1zM46.5 7h1v1h-1zM11 8h1v1h-1zM13 8h1v1h-1zM23 8h1v1h-1zM23.5 9h1v1h-1zM36.5 9h3v1h-3zM8 10h1v1h-1zM30 10h1v1h-1zM32 10h1v1h-1zM13.5 11h1v1h-1zM23.5 11h1v1h-1zM33.5 11h2v1h-2zM37.5 11h1v1h-1zM41 12h1v1h-1zM18.5 13h1v1h-1zM30.5 13h1v1h-1zM41.5 13h5v1h-5zM6 14h1v1h-1zM9 14h1v1h-1zM40 14h1v1h-1zM44 14h1v1h-1zM10.5 15h1v1h-1zM32.5 15h1v1h-1zM44.5 15h1v1h-1zM46.5 15h1v1h-1zM32 16h1v1h-1zM34 16h1v1h-1zM10.5 17h1v1h-1zM15.5 17h1v1h-1zM19.5 17h1v1h-1zM31.5 17h1v1h-1zM40.5 17h1v1h-1zM8 18h1v1h-1zM24 18h1v1h-1zM29 18h1v1h-1zM40 18h1v1h-1zM47 18h1v1h-1zM2.5 19h1v1h-1zM4.5 19h1v1h-1zM32.5 19h1v1h-1zM7 20h1v1h-1zM29 20h1v1h-1zM32 20h1v1h-1zM2.5 21h1v1h-1zM6.5 21h1v1h-1zM18.5 21h1v1h-1zM9 22h1v1h-1zM14 22h1v1h-1zM10.5 23h1v1h-1zM12.5 23h1v1h-1zM7 24h1v1h-1zM9 24h1v1h-1zM11 24h1v1h-1zM42 24h1v1h-1zM9.5 25h2v1h-2zM12.5 25h1v1h-1zM7 26h1v1h-1zM15 26h1v1h-1zM25 26h1v1h-1zM29 26h2v1h-2zM40 26h1v1h-1zM2.5 27h1v1h-1zM5.5 27h2v1h-2zM33.5 27h2v1h-2zM32 28h1v1h-1zM2.5 29h1v1h-1zM24.5 29h1v1h-1zM30.5 29h1v1h-1zM33.5 29h1v1h-1zM37 30h2v1h-2zM2.5 31h1v1h-1zM6.5 31h1v1h-1zM12.5 31h1v1h-1zM23.5 31h1v1h-1zM5 32h1v1h-1zM12 32h1v1h-1zM23 32h1v1h-1zM25 32h1v1h-1zM17.5 33h1v1h-1zM23.5 33h1v1h-1zM26.5 33h1v1h-1zM41.5 33h1v1h-1zM26 34h1v1h-1zM30 34h1v1h-1zM36 34h1v1h-1zM2.5 35h1v1h-1zM26.5 35h1v1h-1zM31.5 35h1v1h-1zM6 36h1v1h-1zM5.5 37h1v1h-1zM26 38h1v1h-1zM28 38h1v1h-1zM38 38h1v1h-1zM40 38h1v1h-1zM47 38h1v1h-1zM1.5 39h1v1h-1zM32.5 39h1v1h-1zM34.5 39h1v1h-1zM36.5 39h1v1h-1zM38.5 39h2v1h-2zM43.5 39h1v1h-1zM19 40h1v1h-1zM1.5 41h1v1h-1zM0 42h1v1h-1zM2 42h1v1h-1zM16 42h1v1h-1zM24 42h1v1h-1zM31 42h1v1h-1zM5.5 43h1v1h-1zM11.5 43h1v1h-1zM22.5 43h2v1h-2zM32.5 43h1v1h-1zM38.5 43h1v1h-1zM10 44h1v1h-1zM30 44h1v1h-1zM4.5 45h1v1h-1zM6.5 45h1v1h-1zM10.5 45h1v1h-1zM8 46h1v1h-1zM6.5 47h1v1h-1zM31.5 47h1v1h-1zM37.5 47h1v1h-1zM4 48h1v1h-1zM8 48h3v1h-3zM17 48h2v1h-2zM4.5 49h1v1h-1zM19.5 49h1v1h-1zM22.5 49h1v1h-1zM30.5 49h1v1h-1zM9 50h1v1h-1zM14 50h1v1h-1zM48 50h1v1h-1zM3.5 51h1v1h-1zM6.5 51h1v1h-1zM24 52h1v1h-1zM48 52h1v1h-1zM23.5 53h1v1h-1zM29.5 53h1v1h-1zM45.5 53h1v1h-1zM47.5 53h1v1h-1zM17 54h1v1h-1zM26 54h1v1h-1z"/>
<path fill="#b4e4a8" d="M6 0h1v1h-1zM3 2h1v1h-1zM9 2h1v1h-1zM11.5 3h1v1h-1zM34 4h1v1h-1zM6.5 7h1v1h-1zM7 8h1v1h-1zM46 8h1v1h-1zM10.5 11h1v1h-1zM12.5 11h1v1h-1zM3 12h1v1h-1zM24.5 13h1v1h-1zM3 14h1v1h-1zM6.5 15h1v1h-1zM11.5 15h1v1h-1zM30.5 15h1v1h-1zM38.5 15h1v1h-1zM9 16h1v1h-1zM23 16h1v1h-1zM36 16h1v1h-1zM43 16h1v1h-1zM23.5 17h1v1h-1zM34.5 17h1v1h-1zM22.5 19h1v1h-1zM8.5 21h1v1h-1zM14.5 21h1v1h-1zM20.5 21h1v1h-1zM4 22h1v1h-1zM47 22h1v1h-1zM17.5 23h2v1h-2zM36 24h1v1h-1zM46 24h1v1h-1zM49 24h1v1h-1zM25.5 25h1v1h-1zM35.5 25h1v1h-1zM40.5 25h1v1h-1zM33 26h1v1h-1zM19.5 27h1v1h-1zM48.5 27h1v1h-1zM37 28h2v1h-2zM32.5 29h1v1h-1zM4 30h1v1h-1zM12 30h1v1h-1zM23 30h1v1h-1zM26 30h1v1h-1zM8.5 31h1v1h-1zM21 32h1v1h-1zM25.5 33h1v1h-1zM30.5 33h1v1h-1zM38.5 33h1v1h-1zM46.5 33h1v1h-1zM9 34h1v1h-1zM15.5 35h1v1h-1zM21.5 35h1v1h-1zM14 36h1v1h-1zM13.5 37h1v1h-1zM43 38h1v1h-1zM26.5 39h1v1h-1zM28.5 41h1v1h-1zM48 42h1v1h-1zM1.5 43h1v1h-1zM8.5 43h1v1h-1zM21.5 43h1v1h-1zM41.5 43h1v1h-1zM21 44h1v1h-1zM47 44h1v1h-1zM24.5 45h1v1h-1zM24 46h1v1h-1zM36 46h1v1h-1zM16.5 47h1v1h-1zM46.5 47h1v1h-1zM3 48h1v1h-1zM33 48h1v1h-1zM43 50h1v1h-1zM42.5 51h1v1h-1zM27 52h1v1h-1zM30 52h1v1h-1zM39 54h1v1h-1z"/>
<path fill="#f0f0f0" d="M7 0h1v1h-1zM9.5 1h1v1h-1zM13.5 1h1v1h-1zM15.5 1h1v1h-1zM18.5 1h1v1h-1zM17 2h1v1h-1zM8.5 3h1v1h-1zM17.5 3h1v1h-1zM14 4h1v1h-1zM35 4h1v1h-1zM9.5 5h1v1h-1zM16.5 5h1v1h-1zM38 6h1v1h-1zM42 6h1v1h-1zM39.5 7h1v1h-1zM45.5 7h1v1h-1zM4 8h1v1h-1zM12 8h1v1h-1zM14 8h1v1h-1zM38 8h1v1h-1zM7.5 9h1v1h-1zM18.5 9h1v1h-1zM34.5 9h1v1h-1zM45.5 9h1v1h-1zM6 10h1v1h-1zM13 10h1v1h-1zM23 10h1v1h-1zM33 10h1v1h-1zM38 10h1v1h-1zM14.5 11h1v1h-1zM19.5 11h1v1h-1zM31.5 11h2v1h-2zM13 12h1v1h-1zM30 12h1v1h-1zM39 12h2v1h-2zM10.5 13h1v1h-1zM15.5 13h1v1h-1zM40.5 13h1v1h-1zM10 14h1v1h-1zM14 14h1v1h-1zM31 14h1v1h-1zM33 14h2v1h-2zM42 14h1v1h-1zM13.5 15h1v1h-1zM35.5 15h1v1h-1zM20 16h1v1h-1zM30 16h1v1h-1zM35 16h1v1h-1zM2.5 17h1v1h-1zM28.5 17h1v1h-1zM44.5 17h1v1h-1zM3 18h1v1h-1zM30 18h1v1h-1zM23.5 19h1v1h-1zM30.5 19h1v1h-1zM14 20h1v1h-1zM21 20h1v1h-1zM45 20h1v1h-1zM3.5 21h1v1h-1zM6 22h1v1h-1zM5 24h1v1h-1zM14 24h2v1h-2zM19 24h1v1h-1zM48 24h1v1h-1zM16.5 25h2v1h-2zM32.5 25h1v1h-1zM44.5 25h1v1h-1zM29.5 27h2v1h-2zM34 28h1v1h-1zM41 28h1v1h-1zM48 28h1v1h-1zM39.5 29h1v1h-1zM7 30h1v1h-1zM24 30h2v1h-2zM47 30h1v1h-1zM15.5 31h1v1h-1zM31.5 31h1v1h-1zM15 32h1v1h-1zM27 32h1v1h-1zM24.5 33h1v1h-1zM36.5 33h1v1h-1zM12 34h1v1h-1zM15 34h1v1h-1zM28 34h1v1h-1zM35 34h1v1h-1zM5.5 35h1v1h-1zM19 36h1v1h-1zM22 36h1v1h-1zM31 36h1v1h-1zM17 38h1v1h-1zM27 38h1v1h-1zM35 38h1v1h-1zM42 38h1v1h-1zM3.5 39h1v1h-1zM40.5 39h1v1h-1zM47.5 39h1v1h-1zM2 40h1v1h-1zM42 40h1v1h-1zM5.5 41h1v1h-1zM20.5 41h1v1h-1zM27.5 41h1v1h-1zM35.5 41h1v1h-1zM17 42h2v1h-2zM29 42h1v1h-1zM33 42h1v1h-1zM38 42h1v1h-1zM0.5 43h1v1h-1zM10.5 43h1v1h-1zM29.5 43h1v1h-1zM7 44h1v1h-1zM25 44h2v1h-2zM14.5 45h1v1h-1zM30.5 45h1v1h-1zM46.5 45h1v1h-1zM5 46h1v1h-1zM7 46h1v1h-1zM28 46h1v1h-1zM38 46h1v1h-1zM2.5 47h1v1h-1zM5.5 47h1v1h-1zM15.5 47h1v1h-1zM17.5 47h1v1h-1zM36.5 47h1v1h-1zM5 48h2v1h-2zM14 48h1v1h-1zM22 48h1v1h-1zM5.5 49h1v1h-1zM7.5 49h1v1h-1zM17.5 49h1v1h-1zM3 50h1v1h-1zM8 50h1v1h-1zM15 50h1v1h-1zM47 50h1v1h-1zM14.5 51h1v1h-1zM17.5 51h1v1h-1zM28.5 51h1v1h-1zM43.5 51h1v1h-1zM45.5 51h1v1h-1zM15 52h1v1h-1zM22 52h2v1h-2zM42 52h1v1h-1zM44.5 53h1v1h-1zM48.5 53h1v1h-1zM9 54h1v1h-1zM14 54h1v1h-1zM28 54h1v1h-1zM31 54h1v1h-1zM33 54h1v1h-1zM46 54h1v1h-1z"/>
<path fill="#b4e4b4" d="M8 0h1v1h-1zM8.5 1h1v1h-1zM10.5 1h1v1h-1zM14 6h1v1h-1zM18 6h1v1h-1zM35 6h1v1h-1zM32.5 9h1v1h-1zM14 12h1v1h-1zM20 12h1v1h-1zM5.5 13h1v1h-1zM19.5 13h1v1h-1zM21.5 13h1v1h-1zM29.5 13h1v1h-1zM46 14h1v1h-1zM5.5 15h1v1h-1zM34.5 15h1v1h-1zM13 16h1v1h-1zM24.5 17h1v1h-1zM29.5 17h1v1h-1zM35.5 17h1v1h-1zM41 18h1v1h-1zM37.5 19h1v1h-1zM39.5 19h1v1h-1zM41.5 19h1v1h-1zM19 20h1v1h-1zM46 20h1v1h-1zM28.5 21h1v1h-1zM47.5 21h1v1h-1zM7 22h1v1h-1zM21 22h1v1h-1zM48 22h1v1h-1zM43.5 23h1v1h-1zM39 24h1v1h-1zM2.5 25h1v1h-1zM22.5 25h1v1h-1zM36.5 25h1v1h-1zM45.5 25h1v1h-1zM18 26h2v1h-2zM9.5 27h1v1h-1zM16.5 27h1v1h-1zM44.5 27h1v1h-1zM4.5 29h1v1h-1zM10.5 29h1v1h-1zM41.5 29h1v1h-1zM45 30h1v1h-1zM17.5 31h1v1h-1zM45.5 31h1v1h-1zM10 32h1v1h-1zM33 32h1v1h-1zM38 32h1v1h-1zM7.5 33h1v1h-1zM11.5 33h1v1h-1zM22.5 33h1v1h-1zM39.5 33h1v1h-1zM40 34h1v1h-1zM12 36h1v1h-1zM39 36h1v1h-1zM45 36h1v1h-1zM4.5 37h1v1h-1zM17.5 37h1v1h-1zM36 38h1v1h-1zM41 38h1v1h-1zM41.5 39h1v1h-1zM7 40h1v1h-1zM31 40h1v1h-1zM18.5 41h1v1h-1zM36.5 41h1v1h-1zM21 42h1v1h-1zM37 42h1v1h-1zM17.5 43h1v1h-1zM27.5 43h2v1h-2zM4 44h1v1h-1zM8 44h1v1h-1zM17 44h1v1h-1zM22.5 45h1v1h-1zM27.5 45h1v1h-1zM45.5 45h1v1h-1zM18 46h1v1h-1zM27.5 47h1v1h-1zM23 48h1v1h-1zM28 48h1v1h-1zM48 48h1v1h-1zM44 50h1v1h-1zM27.5 51h1v1h-1zM29.5 51h1v1h-1zM32.5 51h1v1h-1zM30.5 53h1v1h-1zM41.5 53h1v1h-1zM13 54h1v1h-1zM20 54h1v1h-1zM37 54h1v1h-1z"/>
<path fill="#ccf0cc" d="M9 0h1v1h-1zM6.5 1h1v1h-1zM9 4h1v1h-1zM39.5 5h1v1h-1zM8 6h1v1h-1zM11.5 7h1v1h-1zM35.5 7h1v1h-1zM30 8h1v1h-1zM9.5 9h1v1h-1zM20 10h1v1h-1zM29 10h1v1h-1zM37 10h1v1h-1zM39 10h1v1h-1zM7.5 11h1v1h-1zM10 12h1v1h-1zM44 12h1v1h-1zM34.5 13h1v1h-1zM30 14h1v1h-1zM6 16h1v1h-1zM31 16h1v1h-1zM33.5 17h1v1h-1zM31 18h1v1h-1zM46 18h1v1h-1zM15.5 19h1v1h-1zM29.5 19h1v1h-1zM13 20h1v1h-1zM15 20h1v1h-1zM22 20h2v1h-2zM30 20h1v1h-1zM19.5 21h1v1h-1zM14.5 23h1v1h-1zM8.5 25h1v1h-1zM14 26h1v1h-1zM34 26h1v1h-1zM44 26h1v1h-1zM31.5 27h1v1h-1zM36.5 27h1v1h-1zM3 28h1v1h-1zM16 28h1v1h-1zM33 28h1v1h-1zM35 28h1v1h-1zM39 28h1v1h-1zM28.5 29h1v1h-1zM9 30h1v1h-1zM36 30h1v1h-1zM3.5 31h1v1h-1zM18.5 31h1v1h-1zM29.5 31h1v1h-1zM36.5 31h1v1h-1zM38.5 31h1v1h-1zM41 32h1v1h-1zM18 34h1v1h-1zM15 36h1v1h-1zM23.5 37h1v1h-1zM30.5 37h1v1h-1zM35.5 37h1v1h-1zM18 38h1v1h-1zM24 40h1v1h-1zM30 40h1v1h-1zM32 40h1v1h-1zM39 40h1v1h-1zM31.5 41h1v1h-1zM37.5 41h1v1h-1zM34 42h1v1h-1zM49 42h1v1h-1zM2.5 43h1v1h-1zM30.5 43h1v1h-1zM2 44h1v1h-1zM45 44h1v1h-1zM1.5 45h1v1h-1zM3 46h1v1h-1zM46 46h1v1h-1zM22.5 47h1v1h-1zM28.5 47h1v1h-1zM13 48h1v1h-1zM25 48h1v1h-1zM27 48h1v1h-1zM29 48h1v1h-1zM10 50h1v1h-1zM26 50h1v1h-1zM18.5 51h2v1h-2zM47.5 51h1v1h-1zM34 52h1v1h-1zM49 52h1v1h-1zM35.5 53h1v1h-1zM23 54h1v1h-1zM35 54h1v1h-1z"/>
<path fill="#d8f0cc" d="M10 0h1v1h-1zM5.5 1h1v1h-1zM5 4h1v1h-1zM37.5 5h1v1h-1zM10.5 7h1v1h-1zM37.5 7h1v1h-1zM43 8h1v1h-1zM45 8h1v1h-1zM11.5 9h1v1h-1zM41.5 9h1v1h-1zM7 10h1v1h-1zM41 10h1v1h-1zM9.5 11h1v1h-1zM35.5 11h1v1h-1zM46.5 11h1v1h-1zM8 12h1v1h-1zM13.5 13h1v1h-1zM37.5 13h1v1h-1zM12 14h1v1h-1zM28 14h1v1h-1zM32 14h1v1h-1zM19.5 15h2v1h-2zM19 16h1v1h-1zM42.5 17h1v1h-1zM42 18h1v1h-1zM6.5 19h1v1h-1zM14.5 19h1v1h-1zM21.5 19h1v1h-1zM42.5 19h1v1h-1zM13.5 21h1v1h-1zM21.5 21h1v1h-1zM48.5 21h1v1h-1zM44 22h1v1h-1zM9.5 23h1v1h-1zM19.5 23h1v1h-1zM4 24h1v1h-1zM6 24h1v1h-1zM7.5 25h1v1h-1zM19.5 25h1v1h-1zM24.5 25h1v1h-1zM42.5 25h1v1h-1zM6 26h1v1h-1zM35.5 27h1v1h-1zM29 28h1v1h-1zM40 28h1v1h-1zM31.5 29h1v1h-1zM37.5 29h1v1h-1zM42.5 29h1v1h-1zM6 30h1v1h-1zM7.5 31h1v1h-1zM11.5 31h1v1h-1zM13.5 31h1v1h-1zM27.5 31h1v1h-1zM24 32h1v1h-1zM32 32h1v1h-1zM36 32h1v1h-1zM31 34h1v1h-1zM37 34h1v1h-1zM7.5 35h1v1h-1zM32 36h1v1h-1zM34 36h1v1h-1zM46 36h1v1h-1zM26.5 37h1v1h-1zM49 38h1v1h-1zM16.5 39h1v1h-1zM27.5 39h1v1h-1zM37.5 39h1v1h-1zM21 40h1v1h-1zM35 40h1v1h-1zM38.5 41h1v1h-1zM11 42h1v1h-1zM4.5 43h1v1h-1zM24.5 43h1v1h-1zM48.5 43h1v1h-1zM18 44h1v1h-1zM46 44h1v1h-1zM31.5 45h1v1h-1zM10 46h1v1h-1zM13 46h2v1h-2zM27 46h1v1h-1zM10.5 47h1v1h-1zM13.5 47h1v1h-1zM7 48h1v1h-1zM34 48h1v1h-1zM2.5 49h2v1h-2zM9.5 49h1v1h-1zM18.5 49h1v1h-1zM18 50h2v1h-2zM23 50h1v1h-1zM46 50h1v1h-1zM7.5 51h1v1h-1zM5 52h1v1h-1zM28 52h1v1h-1zM15.5 53h1v1h-1zM17.5 53h2v1h-2zM18 54h1v1h-1zM38 54h1v1h-1zM42 54h1v1h-1z"/>
<path fill="#c0e4b4" d="M11 0h2v1h-2zM7.5 1h1v1h-1zM18 2h1v1h-1zM12.5 3h1v1h-1zM13 4h1v1h-1zM32 4h1v1h-1zM8.5 5h1v1h-1zM39 6h1v1h-1zM38.5 7h1v1h-1zM44 8h1v1h-1zM2.5 9h1v1h-1zM5.5 9h1v1h-1zM19.5 9h1v1h-1zM35.5 9h1v1h-1zM39.5 9h1v1h-1zM43.5 9h1v1h-1zM14 10h1v1h-1zM45 10h1v1h-1zM20.5 11h1v1h-1zM4 12h1v1h-1zM32 12h1v1h-1zM46.5 13h1v1h-1zM5 14h1v1h-1zM40.5 15h1v1h-1zM44 16h1v1h-1zM8.5 17h1v1h-1zM20.5 17h1v1h-1zM8 20h1v1h-1zM17.5 21h1v1h-1zM17 22h1v1h-1zM20 22h1v1h-1zM4.5 23h2v1h-2zM7.5 23h1v1h-1zM33 24h1v1h-1zM44 24h1v1h-1zM13.5 25h1v1h-1zM20.5 25h1v1h-1zM9 26h1v1h-1zM7.5 27h1v1h-1zM17 28h1v1h-1zM46.5 29h1v1h-1zM48 30h1v1h-1zM5.5 31h1v1h-1zM9.5 31h1v1h-1zM22.5 31h1v1h-1zM31 32h1v1h-1zM40 32h1v1h-1zM25 34h1v1h-1zM38 34h1v1h-1zM11.5 35h1v1h-1zM14.5 35h1v1h-1zM28.5 35h1v1h-1zM37.5 35h1v1h-1zM6.5 37h1v1h-1zM22.5 37h1v1h-1zM24.5 37h1v1h-1zM29.5 37h1v1h-1zM47.5 37h1v1h-1zM24 38h1v1h-1zM46.5 39h1v1h-1zM29 40h1v1h-1zM26.5 41h1v1h-1zM49.5 41h1v1h-1zM10 42h1v1h-1zM30 42h1v1h-1zM32 42h1v1h-1zM36.5 43h1v1h-1zM14 44h1v1h-1zM39 44h1v1h-1zM49 44h1v1h-1zM2.5 45h1v1h-1zM34.5 45h1v1h-1zM38.5 45h2v1h-2zM30 46h1v1h-1zM7.5 47h1v1h-1zM12.5 49h1v1h-1zM21 50h1v1h-1zM15.5 51h1v1h-1zM29 52h1v1h-1zM40 52h1v1h-1zM9.5 53h1v1h-1zM33.5 53h1v1h-1zM29 54h1v1h-1zM43 54h1v1h-1z"/>
<path fill="#ccb4d8" d="M14 0h1v1h-1zM17 8h1v1h-1zM16 14h1v1h-1zM4 20h1v1h-1z"/>
<path fill="#f0e4f0" d="M15 0h1v1h-1zM4.5 1h1v1h-1zM13 2h1v1h-1zM13.5 3h2v1h-2zM16.5 3h1v1h-1zM17 4h1v1h-1zM36.5 7h1v1h-1zM13.5 9h1v1h-1zM22.5 9h1v1h-1zM30.5 9h1v1h-1zM33.5 9h1v1h-1zM36 10h1v1h-1zM18.5 11h1v1h-1zM38.5 11h1v1h-1zM18 12h1v1h-1zM14.5 13h1v1h-1zM16.5 13h1v1h-1zM31.5 13h1v1h-1zM15 14h1v1h-1zM20 14h1v1h-1zM36 14h2v1h-2zM29.5 15h1v1h-1zM43.5 15h1v1h-1zM15 16h1v1h-1zM17 16h2v1h-2zM45 16h1v1h-1zM22 18h1v1h-1zM25 18h1v1h-1zM5 20h1v1h-1zM5.5 21h1v1h-1zM7.5 21h1v1h-1zM3 22h1v1h-1zM10 26h1v1h-1zM10.5 27h1v1h-1zM41 30h1v1h-1zM37.5 31h1v1h-1zM28.5 33h1v1h-1zM37 36h1v1h-1zM48.5 39h1v1h-1zM49 40h1v1h-1zM19.5 41h1v1h-1zM22.5 41h1v1h-1zM45.5 41h1v1h-1zM37.5 43h1v1h-1zM36.5 45h1v1h-1zM19.5 47h1v1h-1zM8.5 49h1v1h-1zM6 50h1v1h-1zM26.5 51h1v1h-1zM19.5 53h2v1h-2z"/>
<path fill="#cce4c0" d="M16 0h1v1h-1zM10 4h1v1h-1zM11.5 5h1v1h-1zM11 6h1v1h-1zM22.5 7h1v1h-1zM19 8h1v1h-1zM35 8h1v1h-1zM39 8h1v1h-1zM31.5 9h1v1h-1zM44.5 9h1v1h-1zM28.5 11h1v1h-1zM31 12h1v1h-1zM37 12h1v1h-1zM2.5 13h1v1h-1zM38.5 13h1v1h-1zM22 14h1v1h-1zM42.5 15h1v1h-1zM28 16h1v1h-1zM14.5 17h1v1h-1zM32 18h1v1h-1zM5.5 19h1v1h-1zM20.5 19h1v1h-1zM20.5 23h1v1h-1zM47.5 23h1v1h-1zM3 24h1v1h-1zM10 24h1v1h-1zM23 24h1v1h-1zM30.5 25h1v1h-1zM33.5 25h1v1h-1zM4 26h1v1h-1zM20 26h1v1h-1zM11.5 27h1v1h-1zM36.5 29h1v1h-1zM20 30h1v1h-1zM44 30h1v1h-1zM20.5 31h1v1h-1zM34.5 31h1v1h-1zM6 32h1v1h-1zM29.5 33h1v1h-1zM31.5 33h1v1h-1zM10 34h2v1h-2zM23.5 35h1v1h-1zM25.5 35h1v1h-1zM27.5 35h1v1h-1zM47 36h1v1h-1zM28.5 37h1v1h-1zM15 38h1v1h-1zM2.5 39h1v1h-1zM4.5 39h1v1h-1zM23.5 41h1v1h-1zM31.5 43h1v1h-1zM46.5 43h1v1h-1zM9 44h1v1h-1zM20 44h1v1h-1zM33.5 47h1v1h-1zM35.5 47h1v1h-1zM41.5 49h1v1h-1zM47.5 49h1v1h-1zM25 50h1v1h-1zM45 50h1v1h-1zM8 52h1v1h-1zM13 52h1v1h-1zM19 52h1v1h-1zM36 52h1v1h-1zM41 52h1v1h-1zM45 52h1v1h-1zM47 52h1v1h-1zM31.5 53h1v1h-1zM34.5 53h1v1h-1zM22 54h1v1h-1z"/>
<path fill="#84c084" d="M3.5 1h1v1h-1zM36 6h1v1h-1zM36.5 13h1v1h-1zM45.5 19h1v1h-1zM25 24h1v1h-1zM37 24h1v1h-1zM5.5 25h1v1h-1zM38.5 25h1v1h-1zM45 26h1v1h-1zM41.5 27h1v1h-1zM14 30h1v1h-1zM17.5 35h1v1h-1zM1 42h1v1h-1zM44 42h1v1h-1zM14.5 43h1v1h-1zM19.5 45h1v1h-1zM49.5 45h1v1h-1zM25 46h1v1h-1zM31 48h1v1h-1zM22.5 51h1v1h-1z"/>
<path fill="#c09ccc" d="M12.5 1h1v1h-1zM16 10h1v1h-1z"/>
<path fill="#f0d8f0" d="M14.5 1h1v1h-1zM15.5 3h1v1h-1zM45 14h1v1h-1zM41.5 15h1v1h-1zM12 24h1v1h-1zM32.5 41h1v1h-1zM15 54h1v1h-1z"/>
<path fill="#e4d8f0" d="M4 2h1v1h-1zM3.5 19h1v1h-1zM3 26h1v1h-1z"/>
<path fill="#a8d89c" d="M5 2h1v1h-1zM18.5 3h1v1h-1zM2.5 5h1v1h-1zM13.5 7h1v1h-1zM21.5 7h1v1h-1zM5 8h1v1h-1zM12.5 9h1v1h-1zM7 12h1v1h-1zM9.5 13h1v1h-1zM39 14h1v1h-1zM12 16h1v1h-1zM46.5 17h1v1h-1zM24 20h1v1h-1zM25.5 21h1v1h-1zM38.5 21h1v1h-1zM47 24h1v1h-1zM41.5 25h1v1h-1zM13 26h1v1h-1zM16 26h1v1h-1zM24 26h1v1h-1zM14.5 27h1v1h-1zM40.5 27h1v1h-1zM7.5 29h1v1h-1zM11.5 29h1v1h-1zM46 32h1v1h-1zM15.5 33h1v1h-1zM18 36h1v1h-1zM19 38h1v1h-1zM46 38h1v1h-1zM6.5 39h1v1h-1zM22 40h1v1h-1zM34.5 41h1v1h-1zM4 42h1v1h-1zM25 42h1v1h-1zM45.5 43h1v1h-1zM0 44h1v1h-1zM11 44h1v1h-1zM37 44h1v1h-1zM40 44h2v1h-2zM48 44h1v1h-1zM21.5 47h1v1h-1zM32.5 47h1v1h-1zM27.5 49h1v1h-1zM26 52h1v1h-1zM39 52h1v1h-1zM14.5 53h1v1h-1z"/>
<path fill="#3c9048" d="M7 2h1v1h-1zM6.5 3h1v1h-1zM33 6h1v1h-1zM11.5 11h1v1h-1zM47 14h1v1h-1zM4 16h1v1h-1zM14 18h1v1h-1zM26.5 19h1v1h-1zM24 24h1v1h-1zM22 26h1v1h-1zM46 26h1v1h-1zM27.5 27h1v1h-1zM14.5 29h2v1h-2zM2.5 33h1v1h-1zM34.5 33h1v1h-1zM34 34h1v1h-1zM21 38h1v1h-1zM15.5 39h1v1h-1zM15 40h1v1h-1zM46 42h1v1h-1zM32.5 49h1v1h-1zM32 50h1v1h-1zM31.5 51h1v1h-1z"/>
<path fill="#78c078" d="M8 2h1v1h-1zM10.5 3h1v1h-1zM30 4h1v1h-1zM30.5 5h1v1h-1zM21 6h1v1h-1zM3.5 11h1v1h-1zM6 12h1v1h-1zM27.5 13h1v1h-1zM7 14h1v1h-1zM2.5 15h1v1h-1zM39.5 17h1v1h-1zM48.5 17h1v1h-1zM15 18h1v1h-1zM46.5 19h1v1h-1zM40 20h1v1h-1zM39.5 21h2v1h-2zM31.5 23h1v1h-1zM42.5 23h1v1h-1zM17 24h1v1h-1zM12 26h1v1h-1zM13.5 27h1v1h-1zM5 28h1v1h-1zM8 28h1v1h-1zM24 28h1v1h-1zM27 28h1v1h-1zM8 30h1v1h-1zM13 30h1v1h-1zM17 30h1v1h-1zM13.5 39h1v1h-1zM4 40h1v1h-1zM10.5 41h1v1h-1zM24.5 41h1v1h-1zM44.5 41h1v1h-1zM41 42h1v1h-1zM43 44h1v1h-1zM39 46h1v1h-1zM47.5 47h1v1h-1zM49 48h1v1h-1zM42.5 49h1v1h-1zM24 50h1v1h-1z"/>
<path fill="#9cd89c" d="M10 2h1v1h-1zM9.5 3h1v1h-1zM3 4h1v1h-1zM3.5 5h1v1h-1zM32.5 5h2v1h-2zM4.5 7h2v1h-2zM9.5 7h1v1h-1zM12.5 7h1v1h-1zM30.5 7h1v1h-1zM10 8h1v1h-1zM29 12h1v1h-1zM36 12h1v1h-1zM6.5 13h1v1h-1zM28.5 13h1v1h-1zM35.5 13h1v1h-1zM4 14h1v1h-1zM8.5 15h1v1h-1zM39 16h1v1h-1zM9.5 17h1v1h-1zM17.5 17h1v1h-1zM35 18h1v1h-1zM12 20h1v1h-1zM26 20h1v1h-1zM24.5 21h1v1h-1zM31.5 21h1v1h-1zM38 22h1v1h-1zM3.5 23h1v1h-1zM23.5 25h1v1h-1zM34.5 25h1v1h-1zM37.5 25h1v1h-1zM23 26h1v1h-1zM28.5 27h1v1h-1zM10 28h1v1h-1zM25.5 29h1v1h-1zM48.5 29h1v1h-1zM16 30h1v1h-1zM41.5 31h1v1h-1zM18 32h1v1h-1zM46 34h1v1h-1zM12.5 35h2v1h-2zM40.5 35h1v1h-1zM29 36h1v1h-1zM39.5 37h1v1h-1zM48.5 37h1v1h-1zM5 38h1v1h-1zM16 38h1v1h-1zM25 38h1v1h-1zM12.5 39h1v1h-1zM18.5 39h1v1h-1zM43.5 41h1v1h-1zM48.5 41h1v1h-1zM15 42h1v1h-1zM43 42h1v1h-1zM45 42h1v1h-1zM9.5 43h1v1h-1zM34.5 43h2v1h-2zM28.5 45h1v1h-1zM8.5 47h1v1h-1zM20.5 47h1v1h-1zM26.5 47h1v1h-1zM29.5 47h1v1h-1zM24 48h1v1h-1zM10.5 49h1v1h-1zM45.5 49h1v1h-1zM39 50h1v1h-1zM41 50h1v1h-1zM46.5 51h1v1h-1zM10 52h1v1h-1zM18 52h1v1h-1zM33 52h1v1h-1zM21.5 53h1v1h-1zM38.5 53h1v1h-1z"/>
<path fill="#f0f0e4" d="M11 2h1v1h-1zM37 6h1v1h-1zM3 10h1v1h-1zM38 12h1v1h-1zM43 14h1v1h-1zM33.5 15h1v1h-1zM11 16h1v1h-1zM33 16h1v1h-1zM21.5 17h1v1h-1zM8 22h1v1h-1zM45.5 23h1v1h-1zM4.5 25h1v1h-1zM29.5 29h1v1h-1zM27 30h1v1h-1zM34 30h1v1h-1zM14.5 31h1v1h-1zM10.5 33h1v1h-1zM29 34h1v1h-1zM16.5 35h1v1h-1zM38 36h1v1h-1zM32 38h1v1h-1zM28.5 39h1v1h-1zM35 42h1v1h-1zM6.5 43h1v1h-1zM15.5 43h1v1h-1zM20.5 43h1v1h-1zM6 44h1v1h-1zM2 46h1v1h-1zM9 46h1v1h-1zM18.5 47h1v1h-1zM16 48h1v1h-1zM20 48h2v1h-2zM26 48h1v1h-1zM7 50h1v1h-1zM11 50h1v1h-1zM5.5 51h1v1h-1zM47 54h1v1h-1z"/>
<path fill="#e4cce4" d="M14 2h1v1h-1zM16 6h1v1h-1zM17.5 9h1v1h-1zM15 12h1v1h-1zM16 16h1v1h-1zM6 20h1v1h-1zM4.5 21h1v1h-1z"/>
<path fill="#e4f0d8" d="M15 2h1v1h-1zM33 4h1v1h-1zM4 6h1v1h-1zM31 8h1v1h-1zM41 8h1v1h-1zM29.5 9h1v1h-1zM46.5 9h1v1h-1zM46 10h1v1h-1zM6.5 11h1v1h-1zM40.5 11h1v1h-1zM43 12h1v1h-1zM12.5 13h1v1h-1zM13 14h1v1h-1zM21 14h1v1h-1zM21.5 15h1v1h-1zM27.5 15h1v1h-1zM31.5 15h1v1h-1zM21 16h1v1h-1zM29 16h1v1h-1zM23 18h1v1h-1zM33 18h1v1h-1zM45 18h1v1h-1zM8.5 19h1v1h-1zM41.5 21h1v1h-1zM44.5 21h1v1h-1zM19 22h1v1h-1zM43 22h1v1h-1zM48.5 23h1v1h-1zM3.5 25h1v1h-1zM14.5 25h1v1h-1zM29.5 25h1v1h-1zM3.5 27h1v1h-1zM7 28h1v1h-1zM36 28h1v1h-1zM44 28h1v1h-1zM21.5 29h1v1h-1zM15 30h1v1h-1zM4.5 31h1v1h-1zM30.5 31h1v1h-1zM30 32h1v1h-1zM34 32h1v1h-1zM37.5 33h1v1h-1zM16 34h1v1h-1zM27 34h1v1h-1zM6.5 35h1v1h-1zM16 36h1v1h-1zM30 36h1v1h-1zM2.5 37h1v1h-1zM31.5 37h1v1h-1zM36.5 37h1v1h-1zM42.5 37h1v1h-1zM37 38h1v1h-1zM35.5 39h1v1h-1zM3 40h1v1h-1zM6 40h1v1h-1zM28 40h1v1h-1zM34 40h1v1h-1zM46 40h1v1h-1zM17.5 41h1v1h-1zM30.5 41h1v1h-1zM33.5 41h1v1h-1zM12 42h1v1h-1zM16.5 43h1v1h-1zM18.5 43h1v1h-1zM33.5 43h1v1h-1zM49.5 43h1v1h-1zM23 44h1v1h-1zM28 44h1v1h-1zM31 44h1v1h-1zM35 44h1v1h-1zM3.5 45h1v1h-1zM9.5 45h1v1h-1zM9.5 47h1v1h-1zM23.5 47h1v1h-1zM19 48h1v1h-1zM13.5 49h1v1h-1zM5 50h1v1h-1zM20.5 51h1v1h-1zM23.5 51h1v1h-1zM7 52h1v1h-1zM5.5 53h1v1h-1zM13.5 53h1v1h-1z"/>
<path fill="#f0fcf0" d="M16 2h1v1h-1zM15.5 5h1v1h-1zM14.5 7h1v1h-1zM16.5 7h1v1h-1zM42.5 7h1v1h-1zM22 8h1v1h-1zM37 8h1v1h-1zM31 10h1v1h-1zM17.5 11h1v1h-1zM36.5 11h1v1h-1zM19 12h1v1h-1zM17.5 13h1v1h-1zM33.5 13h1v1h-1zM8 14h1v1h-1zM7.5 15h1v1h-1zM18.5 15h1v1h-1zM39.5 15h1v1h-1zM10 16h1v1h-1zM30.5 17h1v1h-1zM21 18h1v1h-1zM38 20h1v1h-1zM8.5 23h1v1h-1zM43 24h1v1h-1zM45 24h1v1h-1zM18.5 25h1v1h-1zM38.5 27h1v1h-1zM27.5 29h1v1h-1zM33 30h1v1h-1zM40 30h1v1h-1zM33.5 31h1v1h-1zM26 32h1v1h-1zM6 34h1v1h-1zM14 34h1v1h-1zM22 34h1v1h-1zM18.5 37h1v1h-1zM3 38h1v1h-1zM37 40h1v1h-1zM3 42h1v1h-1zM40 42h1v1h-1zM7.5 43h1v1h-1zM25.5 43h1v1h-1zM40.5 43h1v1h-1zM32 44h1v1h-1zM7.5 45h1v1h-1zM3.5 47h1v1h-1zM21.5 49h1v1h-1zM25.5 51h1v1h-1zM20 52h1v1h-1zM25 54h1v1h-1z"/>
<path fill="#489c54" d="M19 2h1v1h-1zM4 10h1v1h-1zM22 10h1v1h-1zM36.5 15h1v1h-1zM9 18h1v1h-1zM11 18h2v1h-2zM16 18h1v1h-1zM19.5 19h1v1h-1zM17 20h1v1h-1zM34 20h1v1h-1zM49 20h1v1h-1zM10 22h1v1h-1zM38.5 23h1v1h-1zM46.5 23h1v1h-1zM27.5 25h1v1h-1zM42 28h1v1h-1zM18.5 33h1v1h-1zM10.5 35h1v1h-1zM8 36h1v1h-1zM26 36h1v1h-1zM40.5 37h1v1h-1zM14 38h1v1h-1zM8.5 39h1v1h-1zM22.5 39h1v1h-1zM29.5 39h1v1h-1zM1 40h1v1h-1zM18 40h1v1h-1zM47.5 41h1v1h-1zM25.5 45h1v1h-1zM42.5 45h1v1h-1zM17 46h1v1h-1zM33 46h1v1h-1zM40 46h1v1h-1zM35 48h2v1h-2zM12.5 53h1v1h-1zM27.5 53h1v1h-1zM42.5 53h1v1h-1zM11 54h1v1h-1z"/>
<path fill="#60b46c" d="M20 2h1v1h-1zM32.5 7h1v1h-1zM13.5 17h1v1h-1zM16 22h1v1h-1zM22 30h1v1h-1zM45 32h1v1h-1zM27.5 33h1v1h-1zM3 36h1v1h-1zM10 36h1v1h-1zM24 36h1v1h-1zM19.5 37h1v1h-1zM14 40h1v1h-1zM43.5 43h1v1h-1zM11 46h1v1h-1zM19 46h1v1h-1zM32 46h1v1h-1zM38 50h1v1h-1zM30.5 51h1v1h-1zM31 52h1v1h-1z"/>
<path fill="#60b460" d="M3.5 3h1v1h-1zM20.5 3h1v1h-1zM41 6h1v1h-1zM31.5 7h1v1h-1zM11 14h1v1h-1zM47.5 15h1v1h-1zM9 20h1v1h-1zM16.5 21h1v1h-1zM11 22h1v1h-1zM15 22h1v1h-1zM35 26h1v1h-1zM16.5 29h1v1h-1zM3 32h1v1h-1zM16 46h1v1h-1zM34 46h1v1h-1zM15.5 49h1v1h-1zM29 50h1v1h-1zM42 50h1v1h-1z"/>
<path fill="#a8d8a8" d="M4.5 3h1v1h-1zM4 4h1v1h-1zM10.5 5h1v1h-1zM43 6h1v1h-1zM3.5 7h1v1h-1zM34.5 7h1v1h-1zM40.5 7h2v1h-2zM43.5 7h1v1h-1zM42.5 9h1v1h-1zM34 10h1v1h-1zM40 10h1v1h-1zM44 10h1v1h-1zM4.5 11h1v1h-1zM29.5 11h1v1h-1zM5 12h1v1h-1zM28.5 15h1v1h-1zM24 16h1v1h-1zM47 16h2v1h-2zM3.5 17h1v1h-1zM7 18h1v1h-1zM28 18h1v1h-1zM34 18h1v1h-1zM31.5 19h1v1h-1zM33.5 19h1v1h-1zM43 20h1v1h-1zM28.5 23h1v1h-1zM20 24h1v1h-1zM29 24h1v1h-1zM6.5 25h1v1h-1zM8 26h1v1h-1zM17 26h1v1h-1zM32 26h1v1h-1zM36 26h1v1h-1zM4.5 27h1v1h-1zM18 28h1v1h-1zM31 28h1v1h-1zM6.5 29h1v1h-1zM17.5 29h1v1h-1zM7 32h1v1h-1zM9 32h1v1h-1zM35 32h1v1h-1zM47 32h1v1h-1zM14.5 33h1v1h-1zM24 34h1v1h-1zM39.5 35h1v1h-1zM45.5 35h1v1h-1zM5 36h1v1h-1zM23 36h1v1h-1zM41 36h2v1h-2zM32.5 37h1v1h-1zM44.5 37h1v1h-1zM46.5 37h1v1h-1zM30.5 39h1v1h-1zM26 40h1v1h-1zM33 40h1v1h-1zM40.5 41h1v1h-1zM46.5 41h1v1h-1zM6 42h1v1h-1zM22 42h1v1h-1zM44.5 43h1v1h-1zM27 44h1v1h-1zM36 44h1v1h-1zM42 44h1v1h-1zM44 44h1v1h-1zM5.5 45h1v1h-1zM15.5 45h1v1h-1zM26.5 45h1v1h-1zM31 46h1v1h-1zM30.5 47h1v1h-1zM32 48h1v1h-1zM41 48h1v1h-1zM13 50h1v1h-1zM24.5 51h1v1h-1zM36.5 51h1v1h-1zM4 52h1v1h-1zM16.5 53h1v1h-1zM25.5 53h1v1h-1zM8 54h1v1h-1zM19 54h1v1h-1zM40 54h1v1h-1zM49 54h1v1h-1z"/>
<path fill="#004818" d="M7.5 3h1v1h-1zM19.5 3h1v1h-1zM20 4h1v1h-1zM19.5 5h2v1h-2zM20 6h1v1h-1zM31 6h2v1h-2zM20.5 7h1v1h-1zM28.5 9h1v1h-1zM21 10h1v1h-1zM28 10h1v1h-1zM21.5 11h1v1h-1zM27.5 11h1v1h-1zM27 12h1v1h-1zM22.5 13h1v1h-1zM23 14h4v1h-4zM24.5 15h2v1h-2zM37.5 15h1v1h-1zM25 16h2v1h-2zM37 16h2v1h-2zM25.5 17h2v1h-2zM36.5 17h3v1h-3zM26 18h1v1h-1zM36 18h1v1h-1zM17.5 19h1v1h-1zM27.5 19h1v1h-1zM35.5 19h2v1h-2zM10 20h1v1h-1zM28 20h1v1h-1zM35 20h2v1h-2zM11.5 21h1v1h-1zM27.5 21h1v1h-1zM34.5 21h3v1h-3zM23 22h1v1h-1zM27 22h2v1h-2zM32 22h5v1h-5zM39 22h3v1h-3zM22.5 23h3v1h-3zM26.5 23h2v1h-2zM33.5 23h1v1h-1zM39.5 23h2v1h-2zM26.5 25h1v1h-1zM27 26h1v1h-1zM26.5 27h1v1h-1zM13.5 29h1v1h-1zM43 32h1v1h-1zM42.5 33h2v1h-2zM43 34h2v1h-2zM8.5 35h1v1h-1zM33.5 35h1v1h-1zM10.5 37h1v1h-1zM9 38h3v1h-3zM9.5 39h2v1h-2zM9 40h1v1h-1zM12 44h1v1h-1zM11.5 45h2v1h-2zM12 46h1v1h-1zM42.5 47h3v1h-3zM42 48h2v1h-2zM37.5 49h1v1h-1zM35 50h2v1h-2zM11.5 53h1v1h-1z"/>
<path fill="#309048" d="M6 4h1v1h-1zM3 16h1v1h-1zM4 18h1v1h-1zM38 18h1v1h-1zM34.5 19h1v1h-1zM37 22h1v1h-1zM32.5 23h1v1h-1zM36.5 23h1v1h-1zM21.5 25h1v1h-1zM13 28h1v1h-1zM23.5 29h1v1h-1zM21 30h1v1h-1zM44.5 31h1v1h-1zM42 32h1v1h-1zM20 34h1v1h-1zM4.5 35h1v1h-1zM9.5 35h1v1h-1zM13.5 43h1v1h-1zM13 44h1v1h-1zM45.5 47h1v1h-1zM44 48h1v1h-1zM33 50h1v1h-1zM35.5 51h1v1h-1zM12 52h1v1h-1z"/>
<path fill="#54a860" d="M7 4h1v1h-1zM11 4h1v1h-1zM20 8h1v1h-1zM22.5 11h1v1h-1zM21 12h1v1h-1zM8 16h1v1h-1zM7.5 17h1v1h-1zM48 18h1v1h-1zM25 22h1v1h-1zM29.5 23h1v1h-1zM21 24h1v1h-1zM20.5 27h1v1h-1zM9 28h1v1h-1zM43.5 31h1v1h-1zM9.5 33h1v1h-1zM19 34h1v1h-1zM20.5 35h1v1h-1zM32.5 35h1v1h-1zM21 36h1v1h-1zM25 36h1v1h-1zM48 36h1v1h-1zM33 38h1v1h-1zM44 38h1v1h-1zM23 40h1v1h-1zM43 40h1v1h-1zM9 42h1v1h-1zM43.5 45h1v1h-1zM41 46h1v1h-1zM44 46h1v1h-1zM12.5 47h1v1h-1zM38.5 47h2v1h-2zM31 50h1v1h-1zM37 50h1v1h-1zM34.5 51h1v1h-1zM11 52h1v1h-1zM38 52h1v1h-1zM7.5 53h1v1h-1z"/>
<path fill="#90cc90" d="M8 4h1v1h-1zM13.5 5h1v1h-1zM9 6h1v1h-1zM40 6h1v1h-1zM7.5 7h1v1h-1zM4.5 9h1v1h-1zM8.5 9h1v1h-1zM12 10h1v1h-1zM44.5 11h1v1h-1zM9 12h1v1h-1zM24 12h1v1h-1zM42 12h1v1h-1zM45 12h1v1h-1zM4.5 13h1v1h-1zM3.5 15h1v1h-1zM11.5 17h1v1h-1zM6 18h1v1h-1zM19 18h1v1h-1zM48.5 19h1v1h-1zM33 20h1v1h-1zM49 22h1v1h-1zM28 24h1v1h-1zM31 24h1v1h-1zM41 24h1v1h-1zM39 26h1v1h-1zM41 26h1v1h-1zM43 26h1v1h-1zM17.5 27h1v1h-1zM43.5 27h1v1h-1zM25 28h1v1h-1zM22.5 29h1v1h-1zM34.5 29h1v1h-1zM19.5 31h1v1h-1zM46.5 31h1v1h-1zM8 32h1v1h-1zM4 34h1v1h-1zM23 34h1v1h-1zM12.5 37h1v1h-1zM20.5 37h2v1h-2zM25.5 37h1v1h-1zM41.5 37h1v1h-1zM43.5 37h1v1h-1zM45.5 37h1v1h-1zM39 38h1v1h-1zM5.5 39h1v1h-1zM20.5 39h2v1h-2zM8 40h1v1h-1zM12 40h1v1h-1zM17 40h1v1h-1zM36 40h1v1h-1zM38 40h1v1h-1zM44 40h1v1h-1zM0.5 41h1v1h-1zM16.5 41h1v1h-1zM25.5 41h1v1h-1zM28 42h1v1h-1zM19.5 43h1v1h-1zM3 44h1v1h-1zM34 44h1v1h-1zM38 44h1v1h-1zM41.5 45h1v1h-1zM47.5 45h1v1h-1zM22 46h1v1h-1zM47 46h1v1h-1zM38.5 49h2v1h-2zM27 50h1v1h-1zM40 50h1v1h-1zM38.5 51h1v1h-1zM21 52h1v1h-1zM37 52h1v1h-1zM43 52h1v1h-1zM32.5 53h1v1h-1zM40.5 53h1v1h-1zM48 54h1v1h-1z"/>
<path fill="#0c5424" d="M12 4h1v1h-1zM30 6h1v1h-1zM24 22h1v1h-1zM12 28h1v1h-1zM8.5 37h1v1h-1zM10 40h1v1h-1zM9.5 41h1v1h-1zM14 42h1v1h-1zM43 46h1v1h-1zM41.5 47h1v1h-1zM33.5 49h1v1h-1z"/>
<path fill="#d8c0e4" d="M15 4h1v1h-1zM16.5 9h1v1h-1zM15.5 11h2v1h-2zM14.5 15h1v1h-1zM4 50h1v1h-1z"/>
<path fill="#fcf0fc" d="M18 4h1v1h-1zM17 6h1v1h-1zM32 8h1v1h-1zM15 10h1v1h-1zM42.5 11h1v1h-1zM44.5 23h1v1h-1zM48 26h1v1h-1zM15 28h1v1h-1zM10 30h1v1h-1zM40.5 33h1v1h-1zM35.5 35h1v1h-1zM41 40h1v1h-1zM29 44h1v1h-1zM8.5 45h1v1h-1zM4 46h1v1h-1z"/>
<path fill="#004824" d="M19 4h1v1h-1zM26.5 21h1v1h-1zM30.5 23h1v1h-1zM21 26h1v1h-1zM9 36h1v1h-1zM34 50h1v1h-1z"/>
<path fill="#ccf0c0" d="M37 4h1v1h-1zM38 14h1v1h-1zM7 16h1v1h-1zM43 18h1v1h-1zM13.5 23h1v1h-1zM5 30h1v1h-1zM32 30h1v1h-1zM43 30h1v1h-1zM11 32h1v1h-1zM37 32h1v1h-1zM35.5 33h1v1h-1zM7 34h1v1h-1zM21 34h1v1h-1zM47 40h2v1h-2zM35.5 45h1v1h-1zM15 46h1v1h-1zM23 46h1v1h-1zM37.5 51h1v1h-1zM48.5 51h1v1h-1z"/>
<path fill="#48a854" d="M4.5 5h1v1h-1zM11.5 19h1v1h-1zM33.5 21h1v1h-1zM8 34h1v1h-1zM33 36h1v1h-1zM19.5 39h1v1h-1zM47 48h1v1h-1zM16.5 51h1v1h-1z"/>
<path fill="#84cc84" d="M5.5 5h1v1h-1zM34.5 5h1v1h-1zM38.5 5h1v1h-1zM34 8h1v1h-1zM45.5 11h1v1h-1zM46 12h2v1h-2zM7.5 13h1v1h-1zM29 14h1v1h-1zM23.5 15h1v1h-1zM27 16h1v1h-1zM5.5 17h1v1h-1zM9.5 21h1v1h-1zM42.5 21h1v1h-1zM21.5 23h1v1h-1zM30 24h1v1h-1zM40 24h1v1h-1zM28.5 25h1v1h-1zM31.5 25h1v1h-1zM28 26h1v1h-1zM12.5 27h1v1h-1zM24.5 27h1v1h-1zM42.5 27h1v1h-1zM47.5 27h1v1h-1zM11 28h1v1h-1zM43.5 29h1v1h-1zM42 30h1v1h-1zM16.5 33h1v1h-1zM45.5 33h1v1h-1zM41 34h1v1h-1zM19.5 35h1v1h-1zM34.5 35h1v1h-1zM41.5 35h1v1h-1zM28 36h1v1h-1zM7.5 37h1v1h-1zM11.5 37h1v1h-1zM45.5 39h1v1h-1zM7 42h1v1h-1zM36 42h1v1h-1zM16 44h1v1h-1zM17.5 45h1v1h-1zM45 46h1v1h-1zM11 48h1v1h-1zM37 48h1v1h-1zM44.5 49h1v1h-1zM2 50h1v1h-1zM20 50h1v1h-1zM28 50h1v1h-1zM44.5 51h1v1h-1zM3 52h1v1h-1zM44 54h1v1h-1z"/>
<path fill="#18783c" d="M6.5 5h1v1h-1zM7 6h1v1h-1zM13 6h1v1h-1zM10.5 21h1v1h-1zM27 24h1v1h-1zM44 32h1v1h-1zM3.5 33h1v1h-1zM8.5 33h1v1h-1zM3 34h1v1h-1zM8.5 41h1v1h-1zM47 42h1v1h-1zM48.5 45h1v1h-1z"/>
<path fill="#187830" d="M7.5 5h1v1h-1zM29 8h1v1h-1zM22 22h1v1h-1zM21.5 27h1v1h-1z"/>
<path fill="#6cb46c" d="M12.5 5h1v1h-1zM6.5 9h1v1h-1zM4.5 15h1v1h-1zM47.5 17h1v1h-1zM5 18h1v1h-1zM13 18h1v1h-1zM12.5 19h1v1h-1zM39 20h1v1h-1zM29.5 21h1v1h-1zM46.5 25h1v1h-1zM8.5 27h1v1h-1zM21 28h2v1h-2zM7.5 39h1v1h-1zM42.5 39h1v1h-1zM25 40h1v1h-1zM26 46h1v1h-1zM41.5 51h1v1h-1zM16 52h2v1h-2zM8.5 53h1v1h-1zM41 54h1v1h-1z"/>
<path fill="#c0e4c0" d="M14.5 5h1v1h-1zM17.5 5h1v1h-1zM8 8h2v1h-2zM33 8h1v1h-1zM40 8h1v1h-1zM47 8h1v1h-1zM3.5 9h1v1h-1zM5 10h1v1h-1zM11 10h1v1h-1zM35 10h1v1h-1zM42 10h1v1h-1zM28 12h1v1h-1zM33 12h2v1h-2zM32.5 13h1v1h-1zM27 14h1v1h-1zM35 14h1v1h-1zM9.5 15h1v1h-1zM41 16h1v1h-1zM46 16h1v1h-1zM12.5 17h1v1h-1zM27.5 17h1v1h-1zM43.5 17h1v1h-1zM10 18h1v1h-1zM44 18h1v1h-1zM49 18h1v1h-1zM24.5 19h2v1h-2zM44.5 19h1v1h-1zM16 20h1v1h-1zM20 20h1v1h-1zM15.5 21h1v1h-1zM22.5 21h1v1h-1zM37.5 21h1v1h-1zM43.5 21h1v1h-1zM18 22h1v1h-1zM45 22h2v1h-2zM2.5 23h1v1h-1zM11.5 23h1v1h-1zM15.5 23h2v1h-2zM34 24h1v1h-1zM15.5 25h1v1h-1zM39.5 25h1v1h-1zM48.5 25h1v1h-1zM5 26h1v1h-1zM31 26h1v1h-1zM38 26h1v1h-1zM15.5 27h1v1h-1zM37.5 27h1v1h-1zM6 28h1v1h-1zM46 28h1v1h-1zM8.5 29h1v1h-1zM40.5 29h1v1h-1zM45.5 29h1v1h-1zM30 30h1v1h-1zM35 30h1v1h-1zM16.5 31h1v1h-1zM24.5 31h2v1h-2zM40.5 31h1v1h-1zM17 32h1v1h-1zM29 32h1v1h-1zM39 32h1v1h-1zM5.5 33h1v1h-1zM12.5 33h1v1h-1zM20.5 33h1v1h-1zM32.5 33h1v1h-1zM39 34h1v1h-1zM18.5 35h1v1h-1zM29.5 35h1v1h-1zM36.5 35h1v1h-1zM38.5 35h1v1h-1zM46.5 35h1v1h-1zM17 36h1v1h-1zM27 36h1v1h-1zM43 36h2v1h-2zM3.5 37h1v1h-1zM16.5 37h1v1h-1zM27.5 37h1v1h-1zM29 38h1v1h-1zM31.5 39h1v1h-1zM5 40h1v1h-1zM13 40h1v1h-1zM20 40h1v1h-1zM27 40h1v1h-1zM3.5 41h1v1h-1zM15.5 41h1v1h-1zM21.5 41h1v1h-1zM5 42h1v1h-1zM23 42h1v1h-1zM39 42h1v1h-1zM42.5 43h1v1h-1zM1 44h1v1h-1zM5 44h1v1h-1zM33 44h1v1h-1zM6 46h1v1h-1zM49 46h1v1h-1zM25.5 47h1v1h-1zM30 48h1v1h-1zM6.5 49h1v1h-1zM14.5 49h1v1h-1zM20.5 49h1v1h-1zM26.5 49h1v1h-1zM29.5 49h1v1h-1zM48.5 49h1v1h-1zM8.5 51h1v1h-1zM25 52h1v1h-1zM32 52h1v1h-1zM6.5 53h1v1h-1zM34 54h1v1h-1z"/>
<path fill="#6cc078" d="M18.5 5h1v1h-1zM12 6h1v1h-1zM4.5 17h1v1h-1zM32.5 21h1v1h-1zM25.5 23h1v1h-1zM37.5 23h1v1h-1zM45.5 27h1v1h-1zM28 28h1v1h-1zM43 28h1v1h-1zM4.5 33h1v1h-1zM32 34h1v1h-1zM3.5 35h1v1h-1zM7 36h1v1h-1zM38.5 37h1v1h-1zM0.5 39h1v1h-1zM39.5 41h1v1h-1zM19 42h1v1h-1zM42 42h1v1h-1zM12.5 43h1v1h-1zM32.5 45h1v1h-1zM40.5 47h1v1h-1zM48.5 47h1v1h-1zM38 48h1v1h-1zM45 48h1v1h-1zM30 50h1v1h-1zM49 50h1v1h-1zM21.5 51h1v1h-1zM10.5 53h1v1h-1z"/>
<path fill="#24843c" d="M6 6h1v1h-1zM29.5 7h1v1h-1zM27 18h1v1h-1zM39 18h1v1h-1zM9.5 19h1v1h-1zM29 22h1v1h-1zM34.5 23h1v1h-1zM26 24h1v1h-1zM42 26h1v1h-1zM14 28h1v1h-1zM42.5 35h1v1h-1zM33.5 37h1v1h-1zM15 44h1v1h-1zM40.5 45h1v1h-1zM20 46h2v1h-2zM11.5 49h1v1h-1zM43.5 49h1v1h-1zM39.5 53h1v1h-1zM12 54h1v1h-1z"/>
<path fill="#3c9c54" d="M2.5 7h1v1h-1zM42 8h1v1h-1zM43.5 11h1v1h-1zM18 18h1v1h-1zM28.5 19h1v1h-1zM47.5 19h1v1h-1zM41.5 23h1v1h-1zM22 24h1v1h-1zM25.5 27h1v1h-1zM19 28h1v1h-1zM18 30h1v1h-1zM42 34h1v1h-1zM14.5 37h1v1h-1zM13 38h1v1h-1zM34 38h1v1h-1zM0 40h1v1h-1zM16 40h1v1h-1zM12.5 41h1v1h-1zM21.5 45h1v1h-1zM40.5 51h1v1h-1zM26.5 53h1v1h-1z"/>
<path fill="#78c084" d="M8.5 7h1v1h-1zM19.5 7h1v1h-1zM3 8h1v1h-1zM10 10h1v1h-1zM43 10h1v1h-1zM20.5 29h1v1h-1zM26.5 29h1v1h-1zM24.5 35h1v1h-1zM24.5 39h1v1h-1zM13.5 41h1v1h-1zM19 44h1v1h-1zM18.5 45h1v1h-1zM46 48h1v1h-1zM31.5 49h1v1h-1zM40.5 49h1v1h-1zM44 52h1v1h-1z"/>
<path fill="#cca8d8" d="M15.5 7h1v1h-1z"/>
<path fill="#fcfcfc" d="M17.5 7h1v1h-1zM47 10h1v1h-1zM5.5 11h1v1h-1zM41.5 11h1v1h-1zM39.5 13h1v1h-1zM41 14h1v1h-1zM45.5 15h1v1h-1zM18.5 17h1v1h-1zM32.5 17h1v1h-1zM38.5 19h1v1h-1zM40.5 19h1v1h-1zM44 20h1v1h-1zM11.5 25h1v1h-1zM37 26h1v1h-1zM47 28h1v1h-1zM11 30h1v1h-1zM28 30h1v1h-1zM31 30h1v1h-1zM10.5 31h1v1h-1zM28.5 31h1v1h-1zM13 32h1v1h-1zM6.5 33h1v1h-1zM5 34h1v1h-1zM25.5 39h1v1h-1zM4.5 47h1v1h-1zM14.5 47h1v1h-1zM24.5 49h1v1h-1zM46 52h1v1h-1zM36.5 53h1v1h-1z"/>
<path fill="#b49cc0" d="M15 8h1v1h-1z"/>
<path fill="#9c6ca8" d="M16 8h1v1h-1zM17.5 15h1v1h-1z"/>
<path fill="#e4d8e4" d="M18 8h1v1h-1zM14.5 9h1v1h-1zM17 10h2v1h-2zM17 12h1v1h-1zM25 20h1v1h-1zM5 22h1v1h-1zM18 24h1v1h-1zM30 38h1v1h-1zM16.5 49h1v1h-1zM28.5 53h1v1h-1zM21 54h1v1h-1zM32 54h1v1h-1z"/>
<path fill="#186c30" d="M21 8h1v1h-1zM21.5 9h1v1h-1zM23 12h1v1h-1zM35 12h1v1h-1zM26.5 15h1v1h-1zM17 18h1v1h-1zM16.5 19h1v1h-1zM11 20h1v1h-1zM31 22h1v1h-1zM23 28h1v1h-1zM19.5 29h1v1h-1zM33 34h1v1h-1zM43.5 35h1v1h-1zM8 38h1v1h-1zM45 38h1v1h-1zM11.5 39h1v1h-1zM23.5 39h1v1h-1zM11.5 41h1v1h-1zM44.5 45h1v1h-1zM42 46h1v1h-1zM11.5 51h1v1h-1zM9 52h1v1h-1z"/>
<path fill="#84489c" d="M15.5 9h1v1h-1z"/>
<path fill="#30843c" d="M20.5 9h1v1h-1zM23.5 13h1v1h-1zM15.5 37h1v1h-1zM14.5 39h1v1h-1zM33.5 39h1v1h-1zM20.5 45h1v1h-1z"/>
<path fill="#9cd890" d="M2.5 11h1v1h-1zM11 12h2v1h-2zM3.5 13h1v1h-1zM5 16h1v1h-1zM42 16h1v1h-1zM45.5 17h1v1h-1zM11 26h1v1h-1zM4 28h1v1h-1zM46 30h1v1h-1zM6 38h1v1h-1zM42.5 41h1v1h-1zM39.5 43h1v1h-1zM47.5 43h1v1h-1zM13.5 45h1v1h-1zM39 48h2v1h-2zM46.5 49h1v1h-1zM22 50h1v1h-1zM27 54h1v1h-1z"/>
<path fill="#d8cce4" d="M16 12h1v1h-1zM2.5 51h1v1h-1z"/>
<path fill="#0c6024" d="M22 12h1v1h-1zM12.5 21h1v1h-1zM26 22h1v1h-1zM26 26h1v1h-1zM42.5 31h1v1h-1zM44.5 33h1v1h-1zM45 34h1v1h-1zM47 34h1v1h-1zM12 38h1v1h-1zM16.5 45h1v1h-1zM28.5 49h1v1h-1zM34.5 49h3v1h-3z"/>
<path fill="#d8c0d8" d="M17 14h2v1h-2zM3 20h1v1h-1z"/>
<path fill="#a884b4" d="M15.5 15h1v1h-1z"/>
<path fill="#843c90" d="M16.5 15h1v1h-1z"/>
<path fill="#0c6030" d="M37 18h1v1h-1zM27 20h1v1h-1zM30 22h1v1h-1zM35.5 23h1v1h-1zM22.5 27h1v1h-1zM20 28h1v1h-1zM12.5 29h1v1h-1zM19 32h1v1h-1zM47.5 35h1v1h-1zM9.5 37h1v1h-1zM14.5 41h1v1h-1zM8 42h1v1h-1zM13 42h1v1h-1zM11.5 47h1v1h-1z"/>
<path fill="#005424" d="M10.5 19h1v1h-1zM12.5 51h1v1h-1z"/>
<path fill="#60a860" d="M18.5 19h1v1h-1zM47 26h1v1h-1zM46.5 27h1v1h-1zM26 28h1v1h-1zM33.5 33h1v1h-1zM44.5 35h1v1h-1zM11 36h1v1h-1zM40 36h1v1h-1zM20 38h1v1h-1zM23 38h1v1h-1z"/>
<path fill="#308448" d="M48 20h1v1h-1zM19.5 33h1v1h-1zM34.5 37h1v1h-1zM22 38h1v1h-1zM44.5 39h1v1h-1zM33.5 45h1v1h-1zM12 50h1v1h-1z"/>
<path fill="#24783c" d="M42 22h1v1h-1zM4 32h1v1h-1zM20 36h1v1h-1zM11 40h1v1h-1zM7.5 41h1v1h-1zM48 46h1v1h-1zM12 48h1v1h-1z"/>
</g></g>
<circle cx="630.0" cy="799.5" r="1.0" fill="#c8b0d8"/>
<text x="654.1" y="788.5" font-size="11.4" text-anchor="middle" textLength="61.4" lengthAdjust="spacingAndGlyphs">TGFb/TNFa</text>
<defs><linearGradient id="cb4" x1="0" x2="0" y1="0" y2="1"><stop offset="0.000" stop-color="#40004b"/><stop offset="0.062" stop-color="#621a6e"/><stop offset="0.125" stop-color="#7f3c8d"/><stop offset="0.188" stop-color="#9568a6"/><stop offset="0.250" stop-color="#ae8bbd"/><stop offset="0.312" stop-color="#c7abd2"/><stop offset="0.375" stop-color="#dec9e2"/><stop offset="0.438" stop-color="#ede2ee"/><stop offset="0.500" stop-color="#f6f7f6"/><stop offset="0.562" stop-color="#e4f2e0"/><stop offset="0.625" stop-color="#cbeac5"/><stop offset="0.688" stop-color="#abdda5"/><stop offset="0.750" stop-color="#7ec37f"/><stop offset="0.812" stop-color="#50a65a"/><stop offset="0.875" stop-color="#298440"/><stop offset="0.938" stop-color="#10632b"/><stop offset="1.000" stop-color="#00441b"/></linearGradient></defs>
<rect x="732.8" y="792.4" width="6.1" height="170.2" fill="url(#cb4)" stroke="#000" stroke-width="0.8"/>
<text x="744.0" y="796.6" font-size="11.5" textLength="18.3" lengthAdjust="spacingAndGlyphs">0.2</text>
<text x="744.0" y="839.1" font-size="11.5" textLength="18.3" lengthAdjust="spacingAndGlyphs">0.1</text>
<text x="744.0" y="881.7" font-size="11.5" textLength="18.3" lengthAdjust="spacingAndGlyphs">0.0</text>
<text x="744.0" y="924.2" font-size="11.5" textLength="27.9" lengthAdjust="spacingAndGlyphs">−0.1</text>
<text x="744.0" y="966.8" font-size="11.5" textLength="27.9" lengthAdjust="spacingAndGlyphs">−0.2</text>
<path d="M738.9 792.4h3.3M738.9 834.9h3.3M738.9 877.5h3.3M738.9 920.0h3.3M738.9 962.6h3.3" stroke="#000" stroke-width="0.8"/>
<g><g transform="translate(584.42 998.77) scale(2.784)" shape-rendering="crispEdges">
<path fill="#9cd890" d="M4 0h1v1h-1zM19.5 7h1v1h-1zM13 10h1v1h-1zM48.5 19h1v1h-1zM4.5 23h1v1h-1zM25 36h1v1h-1zM8.5 37h1v1h-1zM42.5 37h1v1h-1zM31 38h1v1h-1zM40.5 43h1v1h-1zM43 46h1v1h-1zM2 48h1v1h-1zM34 48h1v1h-1zM27.5 51h1v1h-1zM26 52h1v1h-1z"/>
<path fill="#a8d8a8" d="M5 0h1v1h-1zM3.5 5h1v1h-1zM29.5 9h1v1h-1zM36.5 9h1v1h-1zM3 10h1v1h-1zM7.5 11h1v1h-1zM9 12h1v1h-1zM20.5 13h1v1h-1zM32.5 13h1v1h-1zM40.5 13h1v1h-1zM32 14h1v1h-1zM37 14h1v1h-1zM35.5 17h1v1h-1zM24 18h1v1h-1zM17.5 19h1v1h-1zM21 20h1v1h-1zM36 20h1v1h-1zM38 20h1v1h-1zM16.5 21h1v1h-1zM19 22h1v1h-1zM15.5 23h1v1h-1zM28 24h1v1h-1zM31 24h1v1h-1zM37.5 25h1v1h-1zM37 26h1v1h-1zM39 26h1v1h-1zM48.5 27h1v1h-1zM26.5 29h1v1h-1zM13 30h1v1h-1zM46 30h1v1h-1zM18.5 31h1v1h-1zM37.5 31h1v1h-1zM16.5 33h1v1h-1zM30.5 33h1v1h-1zM30 34h1v1h-1zM37 34h1v1h-1zM39 34h1v1h-1zM12.5 35h1v1h-1zM14.5 35h1v1h-1zM36.5 35h1v1h-1zM6.5 37h1v1h-1zM29 40h1v1h-1zM38 42h1v1h-1zM43 42h1v1h-1zM21.5 43h1v1h-1zM35.5 43h1v1h-1zM42.5 43h1v1h-1zM11 44h1v1h-1zM34 44h1v1h-1zM47 44h1v1h-1zM36.5 45h1v1h-1zM41.5 45h1v1h-1zM37 46h1v1h-1zM28.5 47h1v1h-1zM32.5 47h1v1h-1zM6 48h1v1h-1zM26.5 49h1v1h-1zM24 50h1v1h-1zM26.5 51h1v1h-1zM35.5 51h1v1h-1zM33 52h1v1h-1zM46 52h1v1h-1zM13.5 53h1v1h-1zM25 54h1v1h-1zM37 54h1v1h-1z"/>
<path fill="#ccf0cc" d="M6 0h1v1h-1zM3.5 1h1v1h-1zM18 2h1v1h-1zM8 6h1v1h-1zM10 6h1v1h-1zM13.5 7h1v1h-1zM37.5 7h1v1h-1zM43.5 7h1v1h-1zM12 8h1v1h-1zM42 8h1v1h-1zM4.5 9h1v1h-1zM40.5 9h1v1h-1zM36 10h1v1h-1zM44 10h2v1h-2zM5.5 11h2v1h-2zM10.5 11h1v1h-1zM31 12h1v1h-1zM19.5 13h1v1h-1zM43.5 13h1v1h-1zM8 14h2v1h-2zM13 14h1v1h-1zM30 14h2v1h-2zM5.5 15h1v1h-1zM7.5 15h1v1h-1zM19.5 15h1v1h-1zM14 16h1v1h-1zM29 16h1v1h-1zM45 16h1v1h-1zM5.5 17h1v1h-1zM28.5 17h1v1h-1zM32.5 17h1v1h-1zM19 18h1v1h-1zM10.5 19h1v1h-1zM15.5 19h1v1h-1zM44.5 19h1v1h-1zM12 20h1v1h-1zM12.5 23h1v1h-1zM47 24h1v1h-1zM34.5 25h1v1h-1zM7 26h1v1h-1zM10 26h1v1h-1zM42.5 27h1v1h-1zM46.5 27h1v1h-1zM6 28h1v1h-1zM32 28h1v1h-1zM44 28h1v1h-1zM28.5 29h1v1h-1zM35.5 29h1v1h-1zM32 30h1v1h-1zM38 30h1v1h-1zM5.5 31h1v1h-1zM22.5 31h1v1h-1zM31.5 31h1v1h-1zM33.5 31h1v1h-1zM43.5 31h1v1h-1zM5 32h1v1h-1zM28.5 33h1v1h-1zM5 34h1v1h-1zM23 34h1v1h-1zM41 34h1v1h-1zM5.5 35h1v1h-1zM21.5 37h1v1h-1zM40.5 37h1v1h-1zM11 38h1v1h-1zM23 38h1v1h-1zM18.5 39h1v1h-1zM21.5 39h1v1h-1zM16 40h1v1h-1zM22 40h1v1h-1zM32 40h1v1h-1zM31.5 41h1v1h-1zM44.5 41h1v1h-1zM3 42h1v1h-1zM47 42h1v1h-1zM27.5 43h1v1h-1zM0 44h1v1h-1zM39 44h1v1h-1zM34.5 45h1v1h-1zM10 46h1v1h-1zM17.5 47h1v1h-1zM20.5 47h1v1h-1zM34.5 47h1v1h-1zM45.5 47h1v1h-1zM26 48h1v1h-1zM7.5 49h1v1h-1zM25.5 49h1v1h-1zM3 50h1v1h-1zM15 50h1v1h-1zM27 50h1v1h-1zM49 50h1v1h-1zM22.5 51h1v1h-1zM3 52h1v1h-1zM7 52h1v1h-1zM9 52h1v1h-1zM17.5 53h1v1h-1zM17 54h1v1h-1zM19 54h1v1h-1zM35 54h1v1h-1zM45 54h2v1h-2z"/>
<path fill="#b4e4a8" d="M7 0h1v1h-1zM8.5 3h1v1h-1zM11.5 3h1v1h-1zM34 6h1v1h-1zM40 6h1v1h-1zM11.5 7h1v1h-1zM42.5 7h1v1h-1zM45.5 7h1v1h-1zM20 8h1v1h-1zM39.5 9h1v1h-1zM5 10h1v1h-1zM41 10h1v1h-1zM19.5 11h1v1h-1zM15.5 13h1v1h-1zM26.5 15h1v1h-1zM32 16h1v1h-1zM39 16h1v1h-1zM46.5 17h1v1h-1zM19.5 19h1v1h-1zM26 20h1v1h-1zM20.5 21h1v1h-1zM4 24h1v1h-1zM48 24h1v1h-1zM2.5 25h1v1h-1zM3 26h1v1h-1zM29 26h2v1h-2zM47 26h1v1h-1zM13.5 27h1v1h-1zM10 28h1v1h-1zM43 28h1v1h-1zM46 28h1v1h-1zM4.5 29h1v1h-1zM9.5 29h1v1h-1zM27.5 29h1v1h-1zM46.5 29h1v1h-1zM18 30h2v1h-2zM22 30h1v1h-1zM27 30h1v1h-1zM11.5 31h1v1h-1zM15.5 31h1v1h-1zM17 32h1v1h-1zM20.5 33h2v1h-2zM29 34h1v1h-1zM31.5 35h1v1h-1zM43.5 35h1v1h-1zM14 38h1v1h-1zM39.5 39h1v1h-1zM27.5 41h1v1h-1zM37.5 41h1v1h-1zM7 42h1v1h-1zM17 42h2v1h-2zM37 42h1v1h-1zM6.5 43h1v1h-1zM5 44h1v1h-1zM1.5 45h1v1h-1zM24.5 45h1v1h-1zM33.5 45h1v1h-1zM23.5 47h1v1h-1zM40.5 47h1v1h-1zM41 48h1v1h-1zM24.5 49h1v1h-1zM29.5 49h1v1h-1zM4 50h1v1h-1zM9 50h1v1h-1zM42 50h1v1h-1zM48 50h1v1h-1zM34.5 51h1v1h-1zM40.5 53h1v1h-1z"/>
<path fill="#d8f0d8" d="M8 0h1v1h-1zM3 2h1v1h-1zM9.5 3h1v1h-1zM13 4h1v1h-1zM17.5 5h1v1h-1zM4 6h1v1h-1zM8.5 7h1v1h-1zM22.5 7h1v1h-1zM4 8h1v1h-1zM9 8h1v1h-1zM33 8h1v1h-1zM39 8h1v1h-1zM43 8h1v1h-1zM46 8h1v1h-1zM20.5 9h1v1h-1zM44.5 9h1v1h-1zM19 10h1v1h-1zM33 10h1v1h-1zM18 12h1v1h-1zM33 12h1v1h-1zM35 12h1v1h-1zM5.5 13h1v1h-1zM11.5 13h1v1h-1zM31.5 13h1v1h-1zM42.5 13h1v1h-1zM6 14h1v1h-1zM20 14h1v1h-1zM35 14h1v1h-1zM31.5 15h1v1h-1zM43.5 15h1v1h-1zM5 16h1v1h-1zM42 16h1v1h-1zM3.5 17h1v1h-1zM20.5 17h2v1h-2zM27.5 17h1v1h-1zM13 18h1v1h-1zM28 18h1v1h-1zM30 18h1v1h-1zM31.5 19h1v1h-1zM37.5 19h1v1h-1zM40.5 19h1v1h-1zM11 20h1v1h-1zM29.5 21h1v1h-1zM4 22h1v1h-1zM10 22h1v1h-1zM37 22h1v1h-1zM10.5 23h1v1h-1zM19.5 23h1v1h-1zM30.5 23h1v1h-1zM37.5 23h1v1h-1zM5 24h1v1h-1zM15 24h1v1h-1zM10.5 25h1v1h-1zM22.5 25h1v1h-1zM32.5 25h1v1h-1zM47.5 25h1v1h-1zM9 26h1v1h-1zM13 26h2v1h-2zM34 26h1v1h-1zM37.5 27h1v1h-1zM39.5 27h1v1h-1zM7 28h1v1h-1zM12 28h1v1h-1zM37 28h1v1h-1zM38.5 29h1v1h-1zM6 30h1v1h-1zM12 30h1v1h-1zM23 30h1v1h-1zM31 30h1v1h-1zM9.5 31h1v1h-1zM20.5 31h1v1h-1zM27.5 31h1v1h-1zM29.5 31h1v1h-1zM29 32h1v1h-1zM39 32h1v1h-1zM9.5 33h2v1h-2zM36.5 33h1v1h-1zM45.5 33h1v1h-1zM21 34h1v1h-1zM28 34h1v1h-1zM14 36h1v1h-1zM3.5 37h1v1h-1zM12.5 37h1v1h-1zM24.5 37h2v1h-2zM34.5 37h1v1h-1zM39.5 37h1v1h-1zM18 38h1v1h-1zM38 38h1v1h-1zM1.5 39h1v1h-1zM5.5 39h1v1h-1zM13.5 39h2v1h-2zM32.5 39h1v1h-1zM7 40h1v1h-1zM28 40h1v1h-1zM42 40h1v1h-1zM6.5 41h1v1h-1zM18.5 41h1v1h-1zM32.5 41h1v1h-1zM38.5 41h1v1h-1zM48.5 41h1v1h-1zM5 42h1v1h-1zM9 42h2v1h-2zM21 42h1v1h-1zM29 42h1v1h-1zM31 42h2v1h-2zM45 42h1v1h-1zM23.5 43h1v1h-1zM30.5 43h1v1h-1zM33.5 43h1v1h-1zM48.5 43h1v1h-1zM1 44h1v1h-1zM24 44h2v1h-2zM45 44h1v1h-1zM3.5 45h1v1h-1zM21.5 45h1v1h-1zM2 46h1v1h-1zM19 46h1v1h-1zM49 46h1v1h-1zM25.5 47h1v1h-1zM30.5 47h1v1h-1zM36.5 47h1v1h-1zM22 48h1v1h-1zM24 48h1v1h-1zM29 48h1v1h-1zM33 48h1v1h-1zM40 48h1v1h-1zM13.5 49h1v1h-1zM17.5 49h1v1h-1zM46.5 49h1v1h-1zM2 50h1v1h-1zM32 50h1v1h-1zM16 52h1v1h-1zM31 52h1v1h-1zM39 52h1v1h-1zM20 54h1v1h-1zM28 54h1v1h-1zM33 54h1v1h-1zM38 54h1v1h-1zM49 54h1v1h-1z"/>
<path fill="#f0f0f0" d="M9 0h1v1h-1zM16 0h1v1h-1zM6.5 1h1v1h-1zM9.5 1h2v1h-2zM13.5 1h2v1h-2zM12.5 3h1v1h-1zM17.5 3h1v1h-1zM13.5 5h1v1h-1zM13 6h1v1h-1zM18 6h1v1h-1zM43 6h1v1h-1zM12.5 7h1v1h-1zM14.5 7h1v1h-1zM37 8h1v1h-1zM41 8h1v1h-1zM22.5 9h1v1h-1zM35.5 9h1v1h-1zM37.5 9h1v1h-1zM45.5 9h1v1h-1zM18 10h1v1h-1zM31 10h2v1h-2zM34 10h1v1h-1zM38 10h1v1h-1zM43 10h1v1h-1zM14.5 11h1v1h-1zM31.5 11h1v1h-1zM33.5 11h2v1h-2zM37.5 11h3v1h-3zM42.5 11h1v1h-1zM45.5 11h1v1h-1zM11 12h1v1h-1zM13 12h1v1h-1zM36 12h1v1h-1zM41 12h1v1h-1zM45 12h1v1h-1zM5 14h1v1h-1zM7 14h1v1h-1zM14 14h2v1h-2zM28 14h1v1h-1zM34 14h1v1h-1zM42 14h1v1h-1zM45 14h1v1h-1zM9.5 15h1v1h-1zM32.5 15h1v1h-1zM10 16h1v1h-1zM13 16h1v1h-1zM20 16h1v1h-1zM2.5 17h1v1h-1zM7.5 17h2v1h-2zM33.5 17h1v1h-1zM40.5 17h1v1h-1zM42.5 17h1v1h-1zM5 18h1v1h-1zM15 18h2v1h-2zM22 18h1v1h-1zM33 18h1v1h-1zM42 18h1v1h-1zM7.5 19h1v1h-1zM9.5 19h1v1h-1zM25.5 19h1v1h-1zM46.5 19h1v1h-1zM7 20h1v1h-1zM3.5 21h2v1h-2zM18.5 21h1v1h-1zM30.5 21h1v1h-1zM9 22h1v1h-1zM13 22h1v1h-1zM2.5 23h1v1h-1zM9.5 23h1v1h-1zM18.5 23h1v1h-1zM12 24h1v1h-1zM18 24h1v1h-1zM37 24h1v1h-1zM7.5 25h2v1h-2zM12.5 25h1v1h-1zM31.5 25h1v1h-1zM11 26h1v1h-1zM40 26h1v1h-1zM3.5 27h1v1h-1zM8.5 27h2v1h-2zM11.5 27h1v1h-1zM17.5 27h1v1h-1zM34.5 27h1v1h-1zM38.5 27h1v1h-1zM3 28h2v1h-2zM40 28h1v1h-1zM47 28h1v1h-1zM21.5 29h1v1h-1zM29.5 29h2v1h-2zM32.5 29h2v1h-2zM39.5 29h1v1h-1zM11 30h1v1h-1zM17 30h1v1h-1zM37 30h1v1h-1zM10.5 31h1v1h-1zM30.5 31h1v1h-1zM7 32h1v1h-1zM10 32h1v1h-1zM12 32h1v1h-1zM20 32h1v1h-1zM26 32h2v1h-2zM8.5 33h1v1h-1zM26.5 33h1v1h-1zM29.5 33h1v1h-1zM10 34h1v1h-1zM13 34h2v1h-2zM24 34h1v1h-1zM35 34h1v1h-1zM16.5 35h1v1h-1zM21.5 35h1v1h-1zM28.5 35h1v1h-1zM9 36h1v1h-1zM17 36h1v1h-1zM48 36h1v1h-1zM13.5 37h1v1h-1zM27.5 37h1v1h-1zM48.5 37h1v1h-1zM3 38h1v1h-1zM25 38h1v1h-1zM49 38h1v1h-1zM2.5 39h1v1h-1zM16.5 39h1v1h-1zM20.5 39h1v1h-1zM27.5 39h1v1h-1zM36.5 39h1v1h-1zM38.5 39h1v1h-1zM47.5 39h2v1h-2zM2 40h2v1h-2zM6 40h1v1h-1zM13 40h1v1h-1zM20 40h1v1h-1zM23 40h1v1h-1zM25 40h1v1h-1zM27 40h1v1h-1zM38 40h1v1h-1zM15.5 41h1v1h-1zM20.5 41h1v1h-1zM22.5 41h1v1h-1zM29.5 41h1v1h-1zM35.5 41h1v1h-1zM11 42h1v1h-1zM2.5 43h1v1h-1zM16.5 43h1v1h-1zM20.5 43h1v1h-1zM34.5 43h1v1h-1zM45.5 43h2v1h-2zM3 44h1v1h-1zM7 44h2v1h-2zM14 44h2v1h-2zM20 44h1v1h-1zM26 44h2v1h-2zM31 44h1v1h-1zM33 44h1v1h-1zM40 44h1v1h-1zM2.5 45h1v1h-1zM7.5 45h1v1h-1zM29.5 45h1v1h-1zM38.5 45h1v1h-1zM45.5 45h1v1h-1zM49.5 45h1v1h-1zM5 46h1v1h-1zM13 46h2v1h-2zM17 46h1v1h-1zM25 46h1v1h-1zM32 46h1v1h-1zM34 46h1v1h-1zM7.5 47h1v1h-1zM9.5 47h1v1h-1zM13.5 47h4v1h-4zM22.5 47h1v1h-1zM24.5 47h1v1h-1zM27.5 47h1v1h-1zM15 48h1v1h-1zM17 48h1v1h-1zM19 48h1v1h-1zM27 48h1v1h-1zM14.5 49h1v1h-1zM18.5 49h1v1h-1zM20.5 49h1v1h-1zM22.5 49h1v1h-1zM6 50h1v1h-1zM8 50h1v1h-1zM16.5 51h1v1h-1zM23.5 51h1v1h-1zM45.5 51h1v1h-1zM5 52h1v1h-1zM8 52h1v1h-1zM35 52h2v1h-2zM15 54h1v1h-1zM23 54h2v1h-2zM48 54h1v1h-1z"/>
<path fill="#c0a8cc" d="M10 0h1v1h-1zM16.5 7h1v1h-1zM16 8h1v1h-1zM17.5 9h1v1h-1zM5.5 19h1v1h-1zM20 50h1v1h-1z"/>
<path fill="#fcfcfc" d="M11 0h1v1h-1zM7.5 1h1v1h-1zM11 2h1v1h-1zM35 4h1v1h-1zM34 8h1v1h-1zM44 8h1v1h-1zM34.5 9h1v1h-1zM12.5 13h1v1h-1zM34.5 13h1v1h-1zM46.5 13h1v1h-1zM18 14h1v1h-1zM14.5 15h1v1h-1zM34.5 15h1v1h-1zM40.5 15h1v1h-1zM7 16h1v1h-1zM19 16h1v1h-1zM15.5 17h1v1h-1zM17.5 17h1v1h-1zM43 18h1v1h-1zM9 20h1v1h-1zM19.5 21h1v1h-1zM11 22h1v1h-1zM16 24h1v1h-1zM5 26h1v1h-1zM39 28h1v1h-1zM7.5 31h1v1h-1zM18.5 37h1v1h-1zM6 38h1v1h-1zM29.5 39h1v1h-1zM24 40h1v1h-1zM31 40h1v1h-1zM5.5 41h1v1h-1zM7 46h1v1h-1zM5.5 47h1v1h-1zM19.5 49h1v1h-1zM15.5 53h1v1h-1z"/>
<path fill="#d8c0d8" d="M12 0h1v1h-1zM14 2h1v1h-1zM15.5 9h1v1h-1zM41.5 11h1v1h-1zM14.5 13h1v1h-1zM15 16h1v1h-1z"/>
<path fill="#e4cce4" d="M13 0h1v1h-1zM12.5 1h1v1h-1zM14 4h1v1h-1zM17.5 7h1v1h-1zM35.5 7h1v1h-1zM14.5 9h1v1h-1zM17 10h1v1h-1zM35.5 13h1v1h-1zM4 20h1v1h-1zM5.5 21h1v1h-1zM7 22h1v1h-1zM17.5 25h1v1h-1zM37.5 29h1v1h-1zM8 36h1v1h-1zM13 38h1v1h-1zM9 40h1v1h-1zM19 44h1v1h-1zM14 54h1v1h-1z"/>
<path fill="#ccb4d8" d="M14 0h1v1h-1zM7 12h1v1h-1zM16 14h1v1h-1zM18.5 15h1v1h-1zM13 20h1v1h-1zM5.5 25h1v1h-1zM14 48h1v1h-1zM17 50h1v1h-1z"/>
<path fill="#f0e4f0" d="M15 0h1v1h-1zM16 2h1v1h-1zM3 4h1v1h-1zM15 4h1v1h-1zM18 4h1v1h-1zM36 4h1v1h-1zM4.5 5h1v1h-1zM14.5 5h1v1h-1zM16.5 5h1v1h-1zM32.5 5h1v1h-1zM35.5 5h1v1h-1zM16 6h1v1h-1zM18.5 7h1v1h-1zM36.5 7h1v1h-1zM44.5 7h1v1h-1zM19 8h1v1h-1zM35 8h1v1h-1zM8.5 9h1v1h-1zM18.5 9h1v1h-1zM30.5 9h1v1h-1zM14 10h1v1h-1zM29 10h1v1h-1zM34 12h1v1h-1zM43 12h1v1h-1zM8.5 13h1v1h-1zM36.5 13h2v1h-2zM44 14h1v1h-1zM46 14h1v1h-1zM15.5 15h1v1h-1zM16 16h1v1h-1zM10.5 17h1v1h-1zM4 18h1v1h-1zM12 18h1v1h-1zM29 18h1v1h-1zM8.5 19h1v1h-1zM12.5 19h1v1h-1zM14.5 19h1v1h-1zM41.5 19h1v1h-1zM3 20h1v1h-1zM8 20h1v1h-1zM14 20h1v1h-1zM43 20h1v1h-1zM17.5 21h1v1h-1zM7.5 23h1v1h-1zM14.5 23h1v1h-1zM8 24h3v1h-3zM9.5 25h1v1h-1zM46.5 25h1v1h-1zM32.5 27h1v1h-1zM5 28h1v1h-1zM36 28h1v1h-1zM2.5 29h1v1h-1zM4 30h2v1h-2zM8 30h1v1h-1zM22.5 33h1v1h-1zM37.5 33h1v1h-1zM2.5 35h1v1h-1zM13 36h1v1h-1zM28 36h1v1h-1zM33 38h1v1h-1zM35.5 39h1v1h-1zM21.5 41h1v1h-1zM26.5 41h1v1h-1zM10.5 43h1v1h-1zM4 44h1v1h-1zM17 44h1v1h-1zM5.5 45h1v1h-1zM17.5 45h1v1h-1zM25.5 45h1v1h-1zM36 46h1v1h-1zM3 48h1v1h-1zM18 48h1v1h-1zM5.5 49h1v1h-1zM8.5 49h1v1h-1zM21.5 49h1v1h-1zM23.5 49h1v1h-1zM27.5 49h1v1h-1zM5 50h1v1h-1zM3.5 51h1v1h-1zM29 52h1v1h-1zM22 54h1v1h-1z"/>
<path fill="#a8d89c" d="M4.5 1h1v1h-1zM7 2h1v1h-1zM6.5 3h1v1h-1zM34.5 7h1v1h-1zM24 12h1v1h-1zM47 12h1v1h-1zM11 14h1v1h-1zM23 16h1v1h-1zM26.5 17h1v1h-1zM23 18h1v1h-1zM32 18h1v1h-1zM19 20h1v1h-1zM37 20h1v1h-1zM44 20h1v1h-1zM46.5 21h1v1h-1zM38 24h1v1h-1zM49 24h1v1h-1zM42 26h1v1h-1zM14.5 27h1v1h-1zM14.5 31h1v1h-1zM36.5 31h1v1h-1zM4 32h1v1h-1zM9.5 35h1v1h-1zM23.5 35h1v1h-1zM46.5 35h1v1h-1zM46.5 37h1v1h-1zM16 38h1v1h-1zM0.5 39h1v1h-1zM23 42h1v1h-1zM26.5 43h1v1h-1zM3 46h1v1h-1zM12 46h1v1h-1zM12 50h1v1h-1zM14.5 51h2v1h-2zM28.5 51h1v1h-1zM30 52h1v1h-1zM26.5 53h1v1h-1zM30 54h1v1h-1z"/>
<path fill="#f0fcf0" d="M5.5 1h1v1h-1zM8.5 1h1v1h-1zM16.5 1h2v1h-2zM10 2h1v1h-1zM10 8h1v1h-1zM18 8h1v1h-1zM47 8h1v1h-1zM23.5 9h1v1h-1zM31.5 9h1v1h-1zM42.5 9h1v1h-1zM15 12h1v1h-1zM17 12h1v1h-1zM30 12h1v1h-1zM2.5 13h1v1h-1zM30.5 13h1v1h-1zM41.5 13h1v1h-1zM45.5 13h1v1h-1zM41 14h1v1h-1zM10.5 15h1v1h-1zM35.5 15h1v1h-1zM9 16h1v1h-1zM47 16h1v1h-1zM34.5 17h1v1h-1zM41.5 17h1v1h-1zM7 18h1v1h-1zM22.5 19h1v1h-1zM30.5 19h1v1h-1zM42.5 19h1v1h-1zM16 20h1v1h-1zM20 20h1v1h-1zM8.5 21h1v1h-1zM15.5 21h1v1h-1zM6 22h1v1h-1zM8 22h1v1h-1zM17.5 23h1v1h-1zM45.5 25h1v1h-1zM18 26h1v1h-1zM31.5 27h1v1h-1zM41 28h1v1h-1zM7 30h1v1h-1zM10 30h1v1h-1zM35 30h1v1h-1zM39 30h1v1h-1zM28.5 31h1v1h-1zM6 32h1v1h-1zM16 32h1v1h-1zM36 32h1v1h-1zM12.5 33h1v1h-1zM35.5 33h1v1h-1zM39.5 33h1v1h-1zM7 34h1v1h-1zM15 34h1v1h-1zM25 34h1v1h-1zM4.5 35h1v1h-1zM4 38h1v1h-1zM15.5 39h1v1h-1zM17.5 39h1v1h-1zM19.5 39h1v1h-1zM15.5 43h1v1h-1zM28.5 43h1v1h-1zM16.5 45h1v1h-1zM18.5 45h1v1h-1zM6.5 47h1v1h-1zM19.5 47h1v1h-1zM33.5 47h1v1h-1zM23 48h1v1h-1zM3.5 49h1v1h-1zM48.5 51h1v1h-1zM14.5 53h1v1h-1z"/>
<path fill="#d8f0cc" d="M11.5 1h1v1h-1zM7.5 5h1v1h-1zM10.5 5h1v1h-1zM12.5 5h1v1h-1zM9 6h1v1h-1zM11 8h1v1h-1zM38.5 9h1v1h-1zM30 10h1v1h-1zM37 10h1v1h-1zM2.5 11h1v1h-1zM17.5 13h1v1h-1zM24.5 13h1v1h-1zM19 14h1v1h-1zM47.5 15h1v1h-1zM33 16h1v1h-1zM11.5 17h1v1h-1zM31.5 17h1v1h-1zM39.5 17h1v1h-1zM45.5 17h1v1h-1zM3 18h1v1h-1zM14 18h1v1h-1zM31 18h1v1h-1zM34 18h1v1h-1zM44 18h1v1h-1zM15 20h1v1h-1zM30 20h1v1h-1zM46 20h1v1h-1zM2.5 21h1v1h-1zM13.5 21h1v1h-1zM32.5 21h1v1h-1zM36.5 21h1v1h-1zM5.5 23h1v1h-1zM17 24h1v1h-1zM30 24h1v1h-1zM44 24h1v1h-1zM46 24h1v1h-1zM24 26h1v1h-1zM41 26h1v1h-1zM5.5 27h1v1h-1zM34 28h1v1h-1zM7.5 29h1v1h-1zM21 32h1v1h-1zM37 32h1v1h-1zM27.5 33h1v1h-1zM6 34h1v1h-1zM16 34h2v1h-2zM32 34h1v1h-1zM3.5 35h1v1h-1zM25.5 35h1v1h-1zM47.5 35h1v1h-1zM22 36h1v1h-1zM35.5 37h2v1h-2zM17 38h1v1h-1zM22 38h1v1h-1zM35 38h1v1h-1zM37 38h1v1h-1zM48 38h1v1h-1zM4.5 39h1v1h-1zM28.5 39h1v1h-1zM34.5 39h1v1h-1zM19 40h1v1h-1zM39 40h1v1h-1zM43 40h1v1h-1zM23.5 41h1v1h-1zM25.5 41h1v1h-1zM43.5 41h1v1h-1zM34 42h1v1h-1zM22 44h1v1h-1zM28 44h1v1h-1zM32 44h1v1h-1zM10.5 45h1v1h-1zM27.5 45h1v1h-1zM16 46h1v1h-1zM21 46h1v1h-1zM26 46h1v1h-1zM47 46h1v1h-1zM2.5 49h1v1h-1zM4.5 49h1v1h-1zM16.5 49h1v1h-1zM22 50h1v1h-1zM28 50h1v1h-1zM27 52h1v1h-1zM23.5 53h1v1h-1zM29.5 53h1v1h-1zM34.5 53h1v1h-1zM45.5 53h1v1h-1zM9 54h1v1h-1zM41 54h1v1h-1z"/>
<path fill="#b49cc0" d="M15.5 1h1v1h-1zM15.5 7h1v1h-1z"/>
<path fill="#cce4c0" d="M18.5 1h1v1h-1zM12 2h1v1h-1zM9 4h1v1h-1zM31 4h2v1h-2zM6.5 7h1v1h-1zM23 8h1v1h-1zM32 8h1v1h-1zM36 8h1v1h-1zM10 10h1v1h-1zM10 12h1v1h-1zM29 14h1v1h-1zM20.5 15h1v1h-1zM18 18h1v1h-1zM20.5 19h1v1h-1zM23.5 19h1v1h-1zM27.5 21h1v1h-1zM16.5 25h1v1h-1zM24.5 25h1v1h-1zM33.5 25h1v1h-1zM8.5 35h1v1h-1zM20.5 35h1v1h-1zM35.5 35h1v1h-1zM20 36h1v1h-1zM2.5 37h1v1h-1zM26.5 37h1v1h-1zM24 38h1v1h-1zM10.5 39h1v1h-1zM31.5 39h1v1h-1zM40.5 39h1v1h-1zM24.5 41h1v1h-1zM27 42h2v1h-2zM33 42h1v1h-1zM48 42h1v1h-1zM9 44h1v1h-1zM26.5 45h1v1h-1zM4 46h1v1h-1zM6 46h1v1h-1zM7 48h1v1h-1zM13 48h1v1h-1zM49 48h1v1h-1zM28.5 49h1v1h-1zM6.5 51h1v1h-1zM4 52h1v1h-1zM15 52h1v1h-1zM17 52h1v1h-1zM19 52h1v1h-1zM21 52h1v1h-1z"/>
<path fill="#e4f0e4" d="M4 2h2v1h-2zM4.5 3h2v1h-2zM17 4h1v1h-1zM30 4h1v1h-1zM8.5 5h1v1h-1zM11.5 5h1v1h-1zM34.5 5h1v1h-1zM36.5 5h1v1h-1zM19 6h1v1h-1zM42 6h1v1h-1zM41.5 7h1v1h-1zM5 8h1v1h-1zM13 8h1v1h-1zM22 8h1v1h-1zM38 8h1v1h-1zM40 8h1v1h-1zM2.5 9h1v1h-1zM9.5 9h1v1h-1zM4 10h1v1h-1zM39 10h1v1h-1zM42 10h1v1h-1zM46 10h1v1h-1zM13.5 11h1v1h-1zM18.5 11h1v1h-1zM29.5 11h1v1h-1zM32.5 11h1v1h-1zM43.5 11h1v1h-1zM4 12h1v1h-1zM16 12h1v1h-1zM29 12h1v1h-1zM42 12h1v1h-1zM9.5 13h1v1h-1zM18.5 13h1v1h-1zM29.5 13h1v1h-1zM3 14h1v1h-1zM10 14h1v1h-1zM33 14h1v1h-1zM40 14h1v1h-1zM6.5 15h1v1h-1zM8.5 15h1v1h-1zM29.5 15h1v1h-1zM33.5 15h1v1h-1zM6 16h1v1h-1zM8 16h1v1h-1zM11 16h1v1h-1zM28 16h1v1h-1zM43 16h2v1h-2zM6.5 17h1v1h-1zM14.5 17h1v1h-1zM10 18h1v1h-1zM17 18h1v1h-1zM2.5 19h1v1h-1zM33.5 19h1v1h-1zM49 20h1v1h-1zM9.5 21h1v1h-1zM16 22h1v1h-1zM6.5 23h1v1h-1zM8.5 23h1v1h-1zM11 24h1v1h-1zM14.5 25h1v1h-1zM6.5 27h2v1h-2zM12.5 27h1v1h-1zM15.5 27h1v1h-1zM30.5 27h1v1h-1zM33.5 27h1v1h-1zM43.5 27h1v1h-1zM47.5 27h1v1h-1zM28 28h1v1h-1zM31 28h1v1h-1zM33 28h1v1h-1zM5.5 29h1v1h-1zM15.5 29h1v1h-1zM31.5 29h1v1h-1zM9 30h1v1h-1zM21 30h1v1h-1zM30 30h1v1h-1zM33 30h1v1h-1zM36 30h1v1h-1zM2.5 31h1v1h-1zM16.5 31h1v1h-1zM19.5 31h1v1h-1zM26.5 31h1v1h-1zM32.5 31h1v1h-1zM38.5 31h1v1h-1zM9 32h1v1h-1zM22 32h1v1h-1zM30 32h2v1h-2zM7.5 33h1v1h-1zM18.5 33h1v1h-1zM8 34h2v1h-2zM42 34h1v1h-1zM7.5 35h1v1h-1zM27.5 35h1v1h-1zM32.5 35h1v1h-1zM39.5 35h2v1h-2zM16 36h1v1h-1zM34 36h1v1h-1zM37 36h1v1h-1zM39 36h1v1h-1zM4.5 37h1v1h-1zM7.5 37h1v1h-1zM11.5 37h1v1h-1zM16.5 37h2v1h-2zM19.5 37h1v1h-1zM41.5 37h1v1h-1zM19 38h1v1h-1zM32 38h1v1h-1zM36 38h1v1h-1zM24.5 39h2v1h-2zM5 40h1v1h-1zM8 40h1v1h-1zM10 40h1v1h-1zM18 40h1v1h-1zM26 40h1v1h-1zM30 40h1v1h-1zM33 40h1v1h-1zM28.5 41h1v1h-1zM33.5 41h2v1h-2zM36.5 41h1v1h-1zM1 42h1v1h-1zM6 42h1v1h-1zM19.5 43h1v1h-1zM36.5 43h1v1h-1zM44.5 43h1v1h-1zM2 44h1v1h-1zM18 44h1v1h-1zM23 44h1v1h-1zM41 44h1v1h-1zM13.5 45h1v1h-1zM19.5 45h2v1h-2zM30.5 45h1v1h-1zM47.5 45h1v1h-1zM8 46h2v1h-2zM20 46h1v1h-1zM30 46h1v1h-1zM40 46h1v1h-1zM48 46h1v1h-1zM10.5 47h1v1h-1zM18.5 47h1v1h-1zM21.5 47h1v1h-1zM47.5 47h1v1h-1zM8 48h1v1h-1zM16 48h1v1h-1zM20 48h1v1h-1zM28 48h1v1h-1zM48 48h1v1h-1zM18 50h1v1h-1zM21 50h1v1h-1zM44 50h1v1h-1zM2.5 51h1v1h-1zM4.5 51h1v1h-1zM19.5 51h1v1h-1zM6 52h1v1h-1zM5.5 53h2v1h-2zM19.5 53h2v1h-2zM24.5 53h1v1h-1zM28.5 53h1v1h-1zM30.5 53h1v1h-1zM38.5 53h1v1h-1zM18 54h1v1h-1zM31 54h1v1h-1z"/>
<path fill="#f0d8f0" d="M6 2h1v1h-1zM15.5 3h1v1h-1zM8 4h1v1h-1zM16 4h1v1h-1zM15 6h1v1h-1zM43.5 9h1v1h-1zM15 10h1v1h-1zM16.5 11h1v1h-1zM36.5 11h1v1h-1zM40.5 11h1v1h-1zM44 12h1v1h-1zM16.5 13h1v1h-1zM44.5 13h1v1h-1zM28.5 15h1v1h-1zM18.5 17h1v1h-1zM3.5 19h1v1h-1zM5 20h1v1h-1zM48 28h1v1h-1zM8.5 31h1v1h-1zM6.5 35h1v1h-1zM41 36h1v1h-1zM28.5 37h1v1h-1zM7 38h1v1h-1zM21 40h1v1h-1zM13.5 41h1v1h-1zM21 44h1v1h-1zM15 46h1v1h-1zM8.5 47h1v1h-1z"/>
<path fill="#84cc84" d="M8 2h1v1h-1zM7 8h1v1h-1zM8 10h1v1h-1zM12 14h1v1h-1zM27.5 15h1v1h-1zM25.5 17h1v1h-1zM38.5 17h1v1h-1zM25 18h1v1h-1zM18.5 19h1v1h-1zM36.5 19h1v1h-1zM22.5 21h1v1h-1zM38.5 21h1v1h-1zM19 24h1v1h-1zM25 24h1v1h-1zM29 24h1v1h-1zM43 26h1v1h-1zM45.5 27h1v1h-1zM20 28h1v1h-1zM45 28h1v1h-1zM11.5 29h1v1h-1zM13.5 29h1v1h-1zM19.5 29h1v1h-1zM44.5 29h1v1h-1zM44 30h2v1h-2zM45.5 31h1v1h-1zM8 32h1v1h-1zM18 32h1v1h-1zM33 32h1v1h-1zM2.5 33h1v1h-1zM24.5 33h1v1h-1zM22 34h1v1h-1zM10.5 35h1v1h-1zM40 36h1v1h-1zM23.5 37h1v1h-1zM41 38h1v1h-1zM25.5 43h1v1h-1zM24 46h1v1h-1zM31 48h1v1h-1zM37 48h1v1h-1zM33 50h1v1h-1zM39 50h1v1h-1zM11.5 51h1v1h-1zM24 52h1v1h-1zM32.5 53h1v1h-1zM42.5 53h1v1h-1zM46.5 53h1v1h-1zM21 54h1v1h-1zM42 54h1v1h-1z"/>
<path fill="#e4d8e4" d="M9 2h1v1h-1zM17 2h1v1h-1zM10.5 3h1v1h-1zM13.5 3h1v1h-1zM17 6h1v1h-1zM40 10h1v1h-1zM36 14h1v1h-1zM16.5 15h1v1h-1zM41.5 15h1v1h-1zM18 16h1v1h-1zM16.5 17h1v1h-1zM6.5 19h1v1h-1zM7.5 21h1v1h-1zM7 24h1v1h-1zM8 28h1v1h-1zM13 28h1v1h-1zM6.5 29h1v1h-1zM3 30h1v1h-1zM19.5 41h1v1h-1zM19 42h1v1h-1zM35.5 45h1v1h-1zM14 50h1v1h-1zM18.5 51h1v1h-1zM20.5 51h1v1h-1zM9.5 53h1v1h-1z"/>
<path fill="#e4f0d8" d="M13 2h1v1h-1zM16.5 3h1v1h-1zM6 4h1v1h-1zM33 4h1v1h-1zM9.5 5h1v1h-1zM3 6h1v1h-1zM35 6h1v1h-1zM2.5 7h2v1h-2zM9.5 7h1v1h-1zM33.5 7h1v1h-1zM38.5 7h1v1h-1zM6 8h1v1h-1zM7.5 9h1v1h-1zM10.5 9h2v1h-2zM19.5 9h1v1h-1zM17.5 11h1v1h-1zM3 12h1v1h-1zM5 12h1v1h-1zM37 12h1v1h-1zM13.5 13h1v1h-1zM4 14h1v1h-1zM11.5 15h1v1h-1zM44.5 15h1v1h-1zM27 16h1v1h-1zM34 16h2v1h-2zM9 18h1v1h-1zM11 18h1v1h-1zM20 18h1v1h-1zM41 18h1v1h-1zM32.5 19h1v1h-1zM45 20h1v1h-1zM14.5 21h1v1h-1zM15 22h1v1h-1zM36 24h1v1h-1zM4.5 25h1v1h-1zM29.5 25h1v1h-1zM35.5 25h1v1h-1zM38.5 25h1v1h-1zM8 26h1v1h-1zM4.5 27h1v1h-1zM38 28h1v1h-1zM36.5 29h1v1h-1zM20 30h1v1h-1zM4.5 31h1v1h-1zM23.5 31h1v1h-1zM11 32h1v1h-1zM15 32h1v1h-1zM6.5 33h1v1h-1zM13.5 33h1v1h-1zM38.5 33h1v1h-1zM40.5 33h1v1h-1zM38 34h1v1h-1zM17.5 35h1v1h-1zM34.5 35h1v1h-1zM3 36h2v1h-2zM6 36h1v1h-1zM27 36h1v1h-1zM14.5 37h1v1h-1zM5 38h1v1h-1zM15 38h1v1h-1zM20 38h1v1h-1zM30 38h1v1h-1zM39 38h2v1h-2zM8.5 39h1v1h-1zM11.5 39h1v1h-1zM35 40h1v1h-1zM46 40h1v1h-1zM48 40h2v1h-2zM2.5 41h2v1h-2zM10.5 41h1v1h-1zM46.5 41h2v1h-2zM24 42h1v1h-1zM49 42h1v1h-1zM3.5 43h1v1h-1zM11.5 43h1v1h-1zM42 44h1v1h-1zM8.5 45h2v1h-2zM22.5 45h1v1h-1zM32.5 45h1v1h-1zM42.5 45h1v1h-1zM44.5 45h1v1h-1zM23 46h1v1h-1zM4.5 47h1v1h-1zM26.5 47h1v1h-1zM4 48h1v1h-1zM25 48h1v1h-1zM47 48h1v1h-1zM6.5 49h1v1h-1zM47.5 49h1v1h-1zM19 50h1v1h-1zM21.5 51h1v1h-1zM10 52h1v1h-1zM28 52h1v1h-1zM48.5 53h1v1h-1zM8 54h1v1h-1zM29 54h1v1h-1z"/>
<path fill="#cca8d8" d="M15 2h1v1h-1zM15.5 5h1v1h-1zM14 12h1v1h-1z"/>
<path fill="#004818" d="M19 2h1v1h-1zM19.5 3h1v1h-1zM19.5 5h1v1h-1zM20 6h2v1h-2zM30 6h2v1h-2zM20.5 7h1v1h-1zM29.5 7h1v1h-1zM21 10h1v1h-1zM20.5 11h3v1h-3zM21 12h2v1h-2zM22.5 13h1v1h-1zM26 14h1v1h-1zM37.5 15h1v1h-1zM4 16h1v1h-1zM24 16h2v1h-2zM37 16h2v1h-2zM27.5 19h1v1h-1zM27 20h2v1h-2zM35 20h1v1h-1zM39 20h1v1h-1zM47 20h2v1h-2zM34.5 21h2v1h-2zM39.5 21h3v1h-3zM43.5 21h1v1h-1zM47.5 21h2v1h-2zM24 22h2v1h-2zM28 22h1v1h-1zM34 22h2v1h-2zM39 22h4v1h-4zM47 22h2v1h-2zM24.5 23h2v1h-2zM34.5 23h1v1h-1zM39.5 23h4v1h-4zM20.5 25h2v1h-2zM27.5 25h1v1h-1zM19 26h1v1h-1zM21 26h1v1h-1zM26 26h2v1h-2zM19.5 27h3v1h-3zM25.5 27h3v1h-3zM25 28h1v1h-1zM41 30h2v1h-2zM42.5 33h2v1h-2zM30 36h1v1h-1zM11.5 53h2v1h-2zM12 54h1v1h-1z"/>
<path fill="#c0e4b4" d="M20 2h1v1h-1zM37.5 5h1v1h-1zM10.5 7h1v1h-1zM46.5 7h1v1h-1zM12.5 9h1v1h-1zM28.5 11h1v1h-1zM12 12h1v1h-1zM6.5 13h1v1h-1zM39.5 13h1v1h-1zM24 14h1v1h-1zM30.5 15h1v1h-1zM40 16h1v1h-1zM46 16h1v1h-1zM48 16h1v1h-1zM9.5 17h1v1h-1zM40 18h1v1h-1zM46 18h1v1h-1zM16.5 19h1v1h-1zM43.5 19h1v1h-1zM29 20h1v1h-1zM45.5 21h1v1h-1zM14 22h1v1h-1zM18 22h1v1h-1zM20 22h1v1h-1zM38 22h1v1h-1zM11.5 23h1v1h-1zM31.5 23h1v1h-1zM6 24h1v1h-1zM39 24h1v1h-1zM32 26h1v1h-1zM29 28h1v1h-1zM42 28h1v1h-1zM3 32h1v1h-1zM13 32h1v1h-1zM44 32h1v1h-1zM14.5 33h1v1h-1zM23.5 33h1v1h-1zM25.5 33h1v1h-1zM22.5 35h1v1h-1zM26.5 35h1v1h-1zM23 36h1v1h-1zM35 36h2v1h-2zM47 36h1v1h-1zM15.5 37h1v1h-1zM22.5 37h1v1h-1zM38.5 37h1v1h-1zM27 38h1v1h-1zM34 40h1v1h-1zM36 40h1v1h-1zM47 40h1v1h-1zM7.5 41h1v1h-1zM45.5 41h1v1h-1zM0 42h1v1h-1zM16 42h1v1h-1zM44 42h1v1h-1zM4.5 43h1v1h-1zM13 44h1v1h-1zM29 44h1v1h-1zM46 44h1v1h-1zM48 44h1v1h-1zM15.5 45h1v1h-1zM28.5 45h1v1h-1zM48.5 45h1v1h-1zM11 46h1v1h-1zM44 46h1v1h-1zM1.5 47h1v1h-1zM37.5 47h1v1h-1zM46.5 47h1v1h-1zM5 48h1v1h-1zM21 48h1v1h-1zM46 48h1v1h-1zM39.5 49h2v1h-2zM45.5 49h1v1h-1zM48.5 49h1v1h-1zM13 50h1v1h-1zM23 50h1v1h-1zM46 50h1v1h-1zM7.5 51h1v1h-1zM10.5 51h1v1h-1zM13.5 51h1v1h-1zM44.5 51h1v1h-1zM47.5 51h1v1h-1zM14 52h1v1h-1zM40 52h1v1h-1zM44 52h2v1h-2zM48 52h1v1h-1zM16.5 53h1v1h-1zM22.5 53h1v1h-1zM25.5 53h1v1h-1zM47.5 53h1v1h-1zM16 54h1v1h-1zM43 54h1v1h-1z"/>
<path fill="#f0f0e4" d="M3.5 3h1v1h-1zM2.5 5h1v1h-1zM8 8h1v1h-1zM5.5 9h1v1h-1zM33.5 9h1v1h-1zM7 10h1v1h-1zM9.5 11h1v1h-1zM7.5 13h1v1h-1zM27 14h1v1h-1zM42.5 15h1v1h-1zM12.5 17h2v1h-2zM6 18h1v1h-1zM21 18h1v1h-1zM11.5 19h1v1h-1zM13.5 19h1v1h-1zM25 20h1v1h-1zM11.5 21h2v1h-2zM3.5 23h1v1h-1zM16.5 23h1v1h-1zM36.5 25h1v1h-1zM48.5 25h1v1h-1zM17 26h1v1h-1zM33 26h1v1h-1zM10.5 27h1v1h-1zM15 28h1v1h-1zM6.5 31h1v1h-1zM36 34h1v1h-1zM24.5 35h1v1h-1zM33 36h1v1h-1zM5.5 37h1v1h-1zM6.5 39h1v1h-1zM17.5 41h1v1h-1zM15 42h1v1h-1zM22 42h1v1h-1zM46 42h1v1h-1zM35 44h1v1h-1zM6.5 45h1v1h-1zM31.5 45h1v1h-1zM18 46h1v1h-1zM29 46h1v1h-1zM35 46h1v1h-1zM46 46h1v1h-1zM3.5 47h1v1h-1zM9 48h1v1h-1zM47 50h1v1h-1zM17.5 51h1v1h-1zM7.5 53h1v1h-1z"/>
<path fill="#309048" d="M7.5 3h1v1h-1zM21.5 15h1v1h-1zM36 18h1v1h-1zM42.5 21h1v1h-1zM25 26h1v1h-1zM45.5 29h1v1h-1zM34 32h1v1h-1zM45.5 39h1v1h-1zM11 48h1v1h-1zM33.5 51h1v1h-1zM27 54h1v1h-1z"/>
<path fill="#a884b4" d="M14.5 3h1v1h-1z"/>
<path fill="#90cc90" d="M18.5 3h1v1h-1zM30.5 5h1v1h-1zM30 8h1v1h-1zM6 10h1v1h-1zM23 10h1v1h-1zM3.5 13h1v1h-1zM27.5 13h1v1h-1zM39.5 15h1v1h-1zM3 16h1v1h-1zM48.5 17h1v1h-1zM35 18h1v1h-1zM45 18h1v1h-1zM28.5 19h1v1h-1zM34 20h1v1h-1zM49.5 21h1v1h-1zM22 22h1v1h-1zM21.5 23h1v1h-1zM22 24h1v1h-1zM3.5 25h1v1h-1zM15.5 25h1v1h-1zM25.5 25h1v1h-1zM48 26h1v1h-1zM24.5 27h1v1h-1zM29.5 27h1v1h-1zM35.5 27h2v1h-2zM20.5 29h1v1h-1zM23.5 29h1v1h-1zM21.5 31h1v1h-1zM46.5 31h1v1h-1zM23 32h1v1h-1zM43 32h1v1h-1zM5.5 33h1v1h-1zM27 34h1v1h-1zM44 34h2v1h-2zM29.5 35h1v1h-1zM45.5 35h1v1h-1zM32 36h1v1h-1zM29.5 37h1v1h-1zM43.5 37h1v1h-1zM47.5 37h1v1h-1zM9 38h2v1h-2zM29 38h1v1h-1zM47 38h1v1h-1zM12.5 39h1v1h-1zM4 40h1v1h-1zM37 40h1v1h-1zM44 40h1v1h-1zM12.5 41h1v1h-1zM41 42h1v1h-1zM1.5 43h1v1h-1zM17.5 43h1v1h-1zM41.5 43h1v1h-1zM30 44h1v1h-1zM44 44h1v1h-1zM49 44h1v1h-1zM43.5 45h1v1h-1zM39 46h1v1h-1zM10 48h1v1h-1zM32 48h1v1h-1zM45 48h1v1h-1zM34.5 49h1v1h-1zM24.5 51h1v1h-1zM46.5 51h1v1h-1zM11 52h1v1h-1zM13 52h1v1h-1zM33.5 53h1v1h-1zM35.5 53h1v1h-1zM41.5 53h1v1h-1zM44.5 53h1v1h-1zM32 54h1v1h-1z"/>
<path fill="#9cd89c" d="M20.5 3h1v1h-1zM34 4h1v1h-1zM33 6h1v1h-1zM44 6h1v1h-1zM46.5 9h1v1h-1zM39 12h1v1h-1zM21 14h1v1h-1zM30 16h1v1h-1zM41 16h1v1h-1zM38.5 19h1v1h-1zM17 20h1v1h-1zM30 22h1v1h-1zM44.5 23h1v1h-1zM28.5 25h1v1h-1zM46 26h1v1h-1zM23.5 27h1v1h-1zM17 28h1v1h-1zM24 28h1v1h-1zM48 30h1v1h-1zM39.5 31h1v1h-1zM14 32h1v1h-1zM15.5 33h1v1h-1zM19.5 33h1v1h-1zM31.5 33h1v1h-1zM4 34h1v1h-1zM40 34h1v1h-1zM18.5 35h1v1h-1zM41.5 35h1v1h-1zM12 36h1v1h-1zM19 36h1v1h-1zM38 36h1v1h-1zM33.5 37h1v1h-1zM8 38h1v1h-1zM26 38h1v1h-1zM34 38h1v1h-1zM41.5 39h1v1h-1zM46.5 39h1v1h-1zM12 40h1v1h-1zM9.5 41h1v1h-1zM5.5 43h1v1h-1zM13.5 43h2v1h-2zM46.5 45h1v1h-1zM22 46h1v1h-1zM44.5 49h1v1h-1zM26 50h1v1h-1zM41 50h1v1h-1zM43 50h1v1h-1zM29.5 51h1v1h-1zM41.5 51h1v1h-1zM25 52h1v1h-1zM32 52h1v1h-1zM34 52h1v1h-1zM10.5 53h1v1h-1zM31.5 53h1v1h-1zM39.5 53h1v1h-1z"/>
<path fill="#ccf0c0" d="M4 4h1v1h-1zM18.5 5h1v1h-1zM45 8h1v1h-1zM8.5 11h1v1h-1zM46.5 15h1v1h-1zM31 20h1v1h-1zM38.5 23h1v1h-1zM14 24h1v1h-1zM11.5 25h1v1h-1zM18.5 25h1v1h-1zM6 26h1v1h-1zM31 26h1v1h-1zM44.5 31h1v1h-1zM19 32h1v1h-1zM32 32h1v1h-1zM41 32h1v1h-1zM34 34h1v1h-1zM21 36h1v1h-1zM37.5 37h1v1h-1zM12 38h1v1h-1zM14 40h1v1h-1zM16.5 41h1v1h-1zM8 42h1v1h-1zM35 42h1v1h-1zM31.5 43h1v1h-1zM23.5 45h1v1h-1zM5.5 51h1v1h-1zM49 52h1v1h-1zM21.5 53h1v1h-1z"/>
<path fill="#6cb46c" d="M5 4h1v1h-1zM45 22h1v1h-1zM28.5 23h1v1h-1zM27 28h1v1h-1zM34.5 29h1v1h-1zM34.5 33h1v1h-1zM46 34h1v1h-1zM43 36h1v1h-1zM37.5 43h1v1h-1zM35 48h1v1h-1zM33.5 49h1v1h-1zM23 52h1v1h-1zM43 52h1v1h-1zM36.5 53h1v1h-1z"/>
<path fill="#c0e4c0" d="M7 4h1v1h-1zM33.5 5h1v1h-1zM11 6h2v1h-2zM3.5 9h1v1h-1zM6.5 9h1v1h-1zM3.5 11h2v1h-2zM30.5 11h1v1h-1zM19 12h1v1h-1zM38 12h1v1h-1zM46 12h1v1h-1zM43 14h1v1h-1zM47 14h1v1h-1zM13.5 15h1v1h-1zM22 16h1v1h-1zM31 16h1v1h-1zM19.5 17h1v1h-1zM30.5 17h1v1h-1zM43.5 17h2v1h-2zM47.5 17h1v1h-1zM49 18h1v1h-1zM29.5 19h1v1h-1zM22 20h1v1h-1zM3 22h1v1h-1zM5 22h1v1h-1zM13.5 23h1v1h-1zM20.5 23h1v1h-1zM13 24h1v1h-1zM43 24h1v1h-1zM6.5 25h1v1h-1zM12 26h1v1h-1zM15 26h1v1h-1zM35 26h2v1h-2zM38 26h1v1h-1zM45 26h1v1h-1zM2.5 27h1v1h-1zM40.5 27h1v1h-1zM3.5 29h1v1h-1zM16.5 29h2v1h-2zM22.5 29h1v1h-1zM48.5 29h1v1h-1zM15 30h2v1h-2zM28 30h1v1h-1zM28 32h1v1h-1zM38 32h1v1h-1zM11 34h1v1h-1zM18 34h1v1h-1zM26 34h1v1h-1zM31 34h1v1h-1zM33 34h1v1h-1zM38.5 35h1v1h-1zM5 36h1v1h-1zM7 36h1v1h-1zM11 36h1v1h-1zM15 36h1v1h-1zM18 36h1v1h-1zM46 36h1v1h-1zM10.5 37h1v1h-1zM46 38h1v1h-1zM30.5 39h1v1h-1zM33.5 39h1v1h-1zM1 40h1v1h-1zM45 40h1v1h-1zM4.5 41h1v1h-1zM11.5 41h1v1h-1zM30.5 41h1v1h-1zM39.5 41h1v1h-1zM2 42h1v1h-1zM12 42h1v1h-1zM8.5 43h1v1h-1zM22.5 43h1v1h-1zM32.5 43h1v1h-1zM43.5 43h1v1h-1zM10 44h1v1h-1zM36 44h2v1h-2zM43 44h1v1h-1zM31 46h1v1h-1zM42 46h1v1h-1zM45 46h1v1h-1zM29.5 47h1v1h-1zM31.5 47h1v1h-1zM42.5 47h1v1h-1zM16 50h1v1h-1zM8.5 51h1v1h-1zM43.5 51h1v1h-1zM18 52h1v1h-1zM37 52h1v1h-1zM34 54h1v1h-1zM39 54h2v1h-2zM44 54h1v1h-1z"/>
<path fill="#b4e4b4" d="M10 4h1v1h-1zM31.5 5h1v1h-1zM41 6h1v1h-1zM4.5 7h1v1h-1zM31.5 7h2v1h-2zM3 8h1v1h-1zM31 8h1v1h-1zM9 10h1v1h-1zM35.5 11h1v1h-1zM40 12h1v1h-1zM4.5 13h1v1h-1zM38.5 13h1v1h-1zM12 16h1v1h-1zM4.5 17h1v1h-1zM22.5 17h1v1h-1zM29.5 17h1v1h-1zM48 18h1v1h-1zM21.5 19h1v1h-1zM24.5 19h1v1h-1zM45.5 19h1v1h-1zM10 20h1v1h-1zM24 20h1v1h-1zM42 20h1v1h-1zM37.5 21h1v1h-1zM12 22h1v1h-1zM17 22h1v1h-1zM45.5 23h1v1h-1zM26 24h1v1h-1zM32 24h4v1h-4zM45 24h1v1h-1zM13.5 25h1v1h-1zM30.5 25h1v1h-1zM39.5 25h1v1h-1zM41.5 25h1v1h-1zM16 26h1v1h-1zM18.5 27h1v1h-1zM9 28h1v1h-1zM30 28h1v1h-1zM18.5 29h1v1h-1zM24.5 29h1v1h-1zM40.5 29h1v1h-1zM45 32h1v1h-1zM4.5 33h1v1h-1zM11.5 33h1v1h-1zM32.5 33h1v1h-1zM12 34h1v1h-1zM11.5 35h1v1h-1zM33.5 35h1v1h-1zM20.5 37h1v1h-1zM21 38h1v1h-1zM37.5 39h1v1h-1zM1.5 41h1v1h-1zM14.5 41h1v1h-1zM4 42h1v1h-1zM25 42h2v1h-2zM30 42h1v1h-1zM7.5 43h1v1h-1zM9.5 43h1v1h-1zM18.5 43h1v1h-1zM38 44h1v1h-1zM4.5 45h1v1h-1zM39.5 45h1v1h-1zM27 46h1v1h-1zM33 46h1v1h-1zM38 46h1v1h-1zM41 46h1v1h-1zM44.5 47h1v1h-1zM39 48h1v1h-1zM15.5 49h1v1h-1zM7 50h1v1h-1zM25 50h1v1h-1zM9.5 51h1v1h-1zM39.5 51h1v1h-1zM42.5 51h1v1h-1zM41 52h1v1h-1zM8.5 53h1v1h-1zM10 54h1v1h-1z"/>
<path fill="#3c9048" d="M11 4h1v1h-1zM38 6h1v1h-1zM11 10h1v1h-1zM26 16h1v1h-1zM38 18h1v1h-1zM47 18h1v1h-1zM32 22h1v1h-1zM48.5 23h1v1h-1zM23 24h1v1h-1zM19.5 25h1v1h-1zM19 28h1v1h-1zM23 28h1v1h-1zM17.5 31h1v1h-1zM40.5 31h1v1h-1zM33.5 33h1v1h-1zM44.5 33h1v1h-1zM40 42h1v1h-1zM24.5 43h1v1h-1zM6 44h1v1h-1zM37.5 49h1v1h-1zM30 50h1v1h-1z"/>
<path fill="#54a860" d="M12 4h1v1h-1zM47 10h1v1h-1zM20 12h1v1h-1zM23 14h1v1h-1zM36.5 15h1v1h-1zM39.5 19h1v1h-1zM41 20h1v1h-1zM31.5 21h1v1h-1zM21 22h1v1h-1zM33.5 23h1v1h-1zM40 24h1v1h-1zM42.5 25h1v1h-1zM44 26h1v1h-1zM22 28h1v1h-1zM43.5 29h1v1h-1zM43 30h1v1h-1zM34.5 31h1v1h-1zM41.5 31h1v1h-1zM20 34h1v1h-1zM37.5 35h1v1h-1zM43 38h1v1h-1zM15 40h1v1h-1zM42.5 41h1v1h-1zM39 42h1v1h-1zM39.5 43h1v1h-1zM12.5 45h1v1h-1zM9.5 49h1v1h-1zM12.5 49h1v1h-1zM30.5 51h1v1h-1zM22 52h1v1h-1zM38 52h1v1h-1zM47 52h1v1h-1z"/>
<path fill="#186c30" d="M19 4h2v1h-2zM28 10h1v1h-1zM25.5 15h1v1h-1zM38.5 15h1v1h-1zM26 18h1v1h-1zM24.5 21h1v1h-1zM43.5 23h1v1h-1zM47.5 23h1v1h-1zM20 26h1v1h-1zM19.5 35h1v1h-1zM44.5 37h1v1h-1zM11.5 47h2v1h-2zM31.5 49h1v1h-1z"/>
<path fill="#489c54" d="M37 4h1v1h-1zM21.5 9h1v1h-1zM20 10h1v1h-1zM18 20h1v1h-1zM21.5 21h1v1h-1zM29 22h1v1h-1zM36 22h1v1h-1zM46 22h1v1h-1zM3 24h1v1h-1zM23.5 25h1v1h-1zM26.5 25h1v1h-1zM43.5 25h1v1h-1zM16.5 27h1v1h-1zM14 28h1v1h-1zM35 28h1v1h-1zM14.5 29h1v1h-1zM25.5 29h1v1h-1zM42.5 29h1v1h-1zM24 32h1v1h-1zM40 32h1v1h-1zM19 34h1v1h-1zM24 36h1v1h-1zM26 36h1v1h-1zM40 40h2v1h-2zM41.5 41h1v1h-1zM38.5 43h1v1h-1zM11.5 45h1v1h-1zM41.5 47h1v1h-1zM12 48h1v1h-1zM34 50h1v1h-1zM31.5 51h1v1h-1z"/>
<path fill="#18783c" d="M5.5 5h1v1h-1zM39 18h1v1h-1zM25.5 21h1v1h-1zM44.5 21h1v1h-1zM26 22h1v1h-1zM41 24h1v1h-1zM22 26h1v1h-1zM12 52h1v1h-1z"/>
<path fill="#84c084" d="M6.5 5h1v1h-1zM41.5 9h1v1h-1zM33.5 13h1v1h-1zM4 26h1v1h-1zM11 28h1v1h-1zM15.5 35h1v1h-1zM49.5 41h1v1h-1zM36 42h1v1h-1zM47.5 43h1v1h-1zM40 50h1v1h-1zM42 52h1v1h-1z"/>
<path fill="#60b46c" d="M20.5 5h1v1h-1zM7.5 7h1v1h-1zM21 8h1v1h-1zM32 12h1v1h-1zM4.5 15h1v1h-1zM20 24h1v1h-1zM41.5 27h1v1h-1zM47.5 29h1v1h-1zM17.5 33h1v1h-1zM43 34h1v1h-1zM9.5 37h1v1h-1zM11 40h1v1h-1zM0.5 41h1v1h-1zM43.5 47h1v1h-1zM42 48h1v1h-1zM43.5 49h1v1h-1zM32.5 51h1v1h-1zM27.5 53h1v1h-1z"/>
<path fill="#48a854" d="M38.5 5h1v1h-1zM35.5 23h1v1h-1zM12.5 29h1v1h-1zM47 32h1v1h-1zM13.5 35h1v1h-1zM44.5 35h1v1h-1z"/>
<path fill="#005424" d="M39.5 5h1v1h-1zM22 10h1v1h-1zM26.5 19h1v1h-1zM26.5 23h1v1h-1z"/>
<path fill="#78c084" d="M5 6h1v1h-1zM29 8h1v1h-1zM12.5 11h1v1h-1zM21 16h1v1h-1zM34.5 19h1v1h-1zM10.5 29h1v1h-1zM24.5 31h1v1h-1zM0 40h1v1h-1zM40.5 41h1v1h-1zM48.5 47h1v1h-1zM43 48h1v1h-1zM10.5 49h1v1h-1z"/>
<path fill="#60b460" d="M6 6h1v1h-1zM23.5 11h1v1h-1zM28 12h1v1h-1zM23.5 15h1v1h-1zM36 16h1v1h-1zM23.5 17h1v1h-1zM23.5 21h1v1h-1zM22.5 23h1v1h-1zM23 26h1v1h-1zM47 34h1v1h-1zM10 36h1v1h-1zM9.5 39h1v1h-1zM23.5 39h1v1h-1zM42.5 39h1v1h-1zM13 42h1v1h-1zM28 46h1v1h-1zM36.5 49h1v1h-1zM41.5 49h1v1h-1zM11 50h1v1h-1zM38 50h1v1h-1zM18.5 53h1v1h-1zM11 54h1v1h-1zM36 54h1v1h-1z"/>
<path fill="#24843c" d="M7 6h1v1h-1zM3.5 15h1v1h-1zM24.5 15h1v1h-1zM36.5 23h1v1h-1zM27 24h1v1h-1zM28.5 27h1v1h-1zM41.5 29h1v1h-1zM45 36h1v1h-1zM31 50h1v1h-1zM36.5 51h1v1h-1zM37.5 53h1v1h-1z"/>
<path fill="#d8c0e4" d="M14 6h1v1h-1zM6 20h1v1h-1zM6.5 21h1v1h-1zM29 30h1v1h-1zM20 52h1v1h-1z"/>
<path fill="#30843c" d="M32 6h1v1h-1zM35.5 19h1v1h-1zM21 24h1v1h-1zM24 30h1v1h-1zM25 32h1v1h-1zM36 48h1v1h-1zM43.5 53h1v1h-1z"/>
<path fill="#fcf0fc" d="M36 6h1v1h-1zM39.5 7h1v1h-1zM15.5 11h1v1h-1zM44.5 11h1v1h-1zM8 12h1v1h-1zM10.5 13h1v1h-1zM28.5 13h1v1h-1zM2.5 15h1v1h-1zM45.5 15h1v1h-1zM10.5 21h1v1h-1zM42.5 35h1v1h-1zM42 36h1v1h-1zM28 38h1v1h-1zM3.5 39h1v1h-1zM7.5 39h1v1h-1zM12.5 43h1v1h-1zM29.5 43h1v1h-1zM14.5 45h1v1h-1z"/>
<path fill="#6cc078" d="M37 6h1v1h-1zM39 6h1v1h-1zM13.5 9h1v1h-1zM12 10h1v1h-1zM11.5 11h1v1h-1zM49 22h1v1h-1zM40.5 25h1v1h-1zM18 28h1v1h-1zM47 30h1v1h-1zM3.5 31h1v1h-1zM35.5 31h1v1h-1zM46.5 33h1v1h-1zM29 36h1v1h-1zM31 36h1v1h-1zM32.5 37h1v1h-1zM42 38h1v1h-1zM22.5 39h1v1h-1zM43.5 39h1v1h-1zM40.5 45h1v1h-1zM35.5 47h1v1h-1zM42.5 49h1v1h-1zM13 54h1v1h-1zM47 54h1v1h-1z"/>
<path fill="#78c078" d="M5.5 7h1v1h-1zM21.5 7h1v1h-1zM40.5 7h1v1h-1zM39 14h1v1h-1zM12.5 15h1v1h-1zM33 20h1v1h-1zM28.5 21h1v1h-1zM33.5 21h1v1h-1zM31 22h1v1h-1zM44.5 25h1v1h-1zM16 28h1v1h-1zM21 28h1v1h-1zM26 28h1v1h-1zM14 30h1v1h-1zM25 30h1v1h-1zM34 30h1v1h-1zM25.5 31h1v1h-1zM35 32h1v1h-1zM46 32h1v1h-1zM41.5 33h1v1h-1zM3 34h1v1h-1zM30.5 35h1v1h-1zM26.5 39h1v1h-1zM42 42h1v1h-1zM49.5 43h1v1h-1zM16 44h1v1h-1zM37.5 45h1v1h-1zM38.5 47h2v1h-2zM30 48h1v1h-1zM44 48h1v1h-1zM35.5 49h1v1h-1zM38.5 49h1v1h-1zM10 50h1v1h-1zM45 50h1v1h-1zM12.5 51h1v1h-1zM40.5 51h1v1h-1zM26 54h1v1h-1z"/>
<path fill="#0c5424" d="M30.5 7h1v1h-1zM27.5 11h1v1h-1zM23 12h1v1h-1zM23.5 13h1v1h-1zM37.5 17h1v1h-1zM27 18h1v1h-1zM47.5 19h1v1h-1zM40 20h1v1h-1zM33 22h1v1h-1zM44 22h1v1h-1zM29.5 23h1v1h-1zM42 24h1v1h-1zM28 26h1v1h-1zM42.5 31h1v1h-1zM30.5 37h1v1h-1zM44 38h1v1h-1zM11.5 49h1v1h-1zM30.5 49h1v1h-1z"/>
<path fill="#d8cce4" d="M14 8h1v1h-1zM32.5 9h1v1h-1zM6 12h1v1h-1zM4.5 19h1v1h-1z"/>
<path fill="#c09ccc" d="M15 8h1v1h-1zM17 8h1v1h-1zM17.5 15h1v1h-1zM12.5 31h1v1h-1z"/>
<path fill="#b49ccc" d="M16.5 9h1v1h-1z"/>
<path fill="#0c6024" d="M28.5 9h1v1h-1zM21.5 13h1v1h-1zM25 14h1v1h-1zM43 22h1v1h-1zM23.5 23h1v1h-1zM45.5 37h1v1h-1zM14 42h1v1h-1zM37 50h1v1h-1zM37.5 51h1v1h-1z"/>
<path fill="#9c78a8" d="M16 10h1v1h-1z"/>
<path fill="#e4d8f0" d="M35 10h1v1h-1zM17 14h1v1h-1zM8 18h1v1h-1zM8.5 29h1v1h-1zM13.5 31h1v1h-1zM17 40h1v1h-1zM20 42h1v1h-1z"/>
<path fill="#3c9c54" d="M46.5 11h1v1h-1zM27 12h1v1h-1zM22 14h1v1h-1zM32.5 23h1v1h-1zM46.5 23h1v1h-1zM49.5 23h1v1h-1zM22.5 27h1v1h-1zM44.5 27h1v1h-1zM0.5 43h1v1h-1zM2.5 47h1v1h-1zM38 48h1v1h-1zM36 50h1v1h-1z"/>
<path fill="#24783c" d="M38 14h1v1h-1zM24 24h1v1h-1zM42 32h1v1h-1zM44 36h1v1h-1zM44.5 39h1v1h-1zM32.5 49h1v1h-1z"/>
<path fill="#187830" d="M22.5 15h1v1h-1zM36.5 17h1v1h-1zM26.5 21h1v1h-1zM23 22h1v1h-1zM27 22h1v1h-1zM27.5 23h1v1h-1z"/>
<path fill="#9c78b4" d="M17 16h1v1h-1z"/>
<path fill="#0c6030" d="M24.5 17h1v1h-1zM23 20h1v1h-1zM3.5 33h1v1h-1zM12 44h1v1h-1zM38.5 51h1v1h-1z"/>
<path fill="#60a860" d="M37 18h1v1h-1zM32 20h1v1h-1zM26 30h1v1h-1zM40 30h1v1h-1zM31.5 37h1v1h-1zM29 50h1v1h-1zM35 50h1v1h-1zM25.5 51h1v1h-1z"/>
<path fill="#308448" d="M45 38h1v1h-1zM8.5 41h1v1h-1z"/>
</g></g>
<circle cx="630.0" cy="993.5" r="1.0" fill="#c8b0d8"/>
<text x="654.2" y="981.5" font-size="11.4" text-anchor="middle" textLength="62.9" lengthAdjust="spacingAndGlyphs">TGFb/NFkB</text>
<defs><linearGradient id="cb5" x1="0" x2="0" y1="0" y2="1"><stop offset="0.000" stop-color="#40004b"/><stop offset="0.062" stop-color="#621a6e"/><stop offset="0.125" stop-color="#7f3c8d"/><stop offset="0.188" stop-color="#9568a6"/><stop offset="0.250" stop-color="#ae8bbd"/><stop offset="0.312" stop-color="#c7abd2"/><stop offset="0.375" stop-color="#dec9e2"/><stop offset="0.438" stop-color="#ede2ee"/><stop offset="0.500" stop-color="#f6f7f6"/><stop offset="0.562" stop-color="#e4f2e0"/><stop offset="0.625" stop-color="#cbeac5"/><stop offset="0.688" stop-color="#abdda5"/><stop offset="0.750" stop-color="#7ec37f"/><stop offset="0.812" stop-color="#50a65a"/><stop offset="0.875" stop-color="#298440"/><stop offset="0.938" stop-color="#10632b"/><stop offset="1.000" stop-color="#00441b"/></linearGradient></defs>
<rect x="732.8" y="986.5" width="6.1" height="173.1" fill="url(#cb5)" stroke="#000" stroke-width="0.8"/>
<text x="744.0" y="990.7" font-size="11.5" textLength="18.3" lengthAdjust="spacingAndGlyphs">0.2</text>
<text x="744.0" y="1034.0" font-size="11.5" textLength="18.3" lengthAdjust="spacingAndGlyphs">0.1</text>
<text x="744.0" y="1077.2" font-size="11.5" textLength="18.3" lengthAdjust="spacingAndGlyphs">0.0</text>
<text x="744.0" y="1120.5" font-size="11.5" textLength="27.9" lengthAdjust="spacingAndGlyphs">−0.1</text>
<text x="744.0" y="1163.8" font-size="11.5" textLength="27.9" lengthAdjust="spacingAndGlyphs">−0.2</text>
<path d="M738.9 986.5h3.3M738.9 1029.8h3.3M738.9 1073.0h3.3M738.9 1116.3h3.3M738.9 1159.6h3.3" stroke="#000" stroke-width="0.8"/>
</svg>
</body></html>
